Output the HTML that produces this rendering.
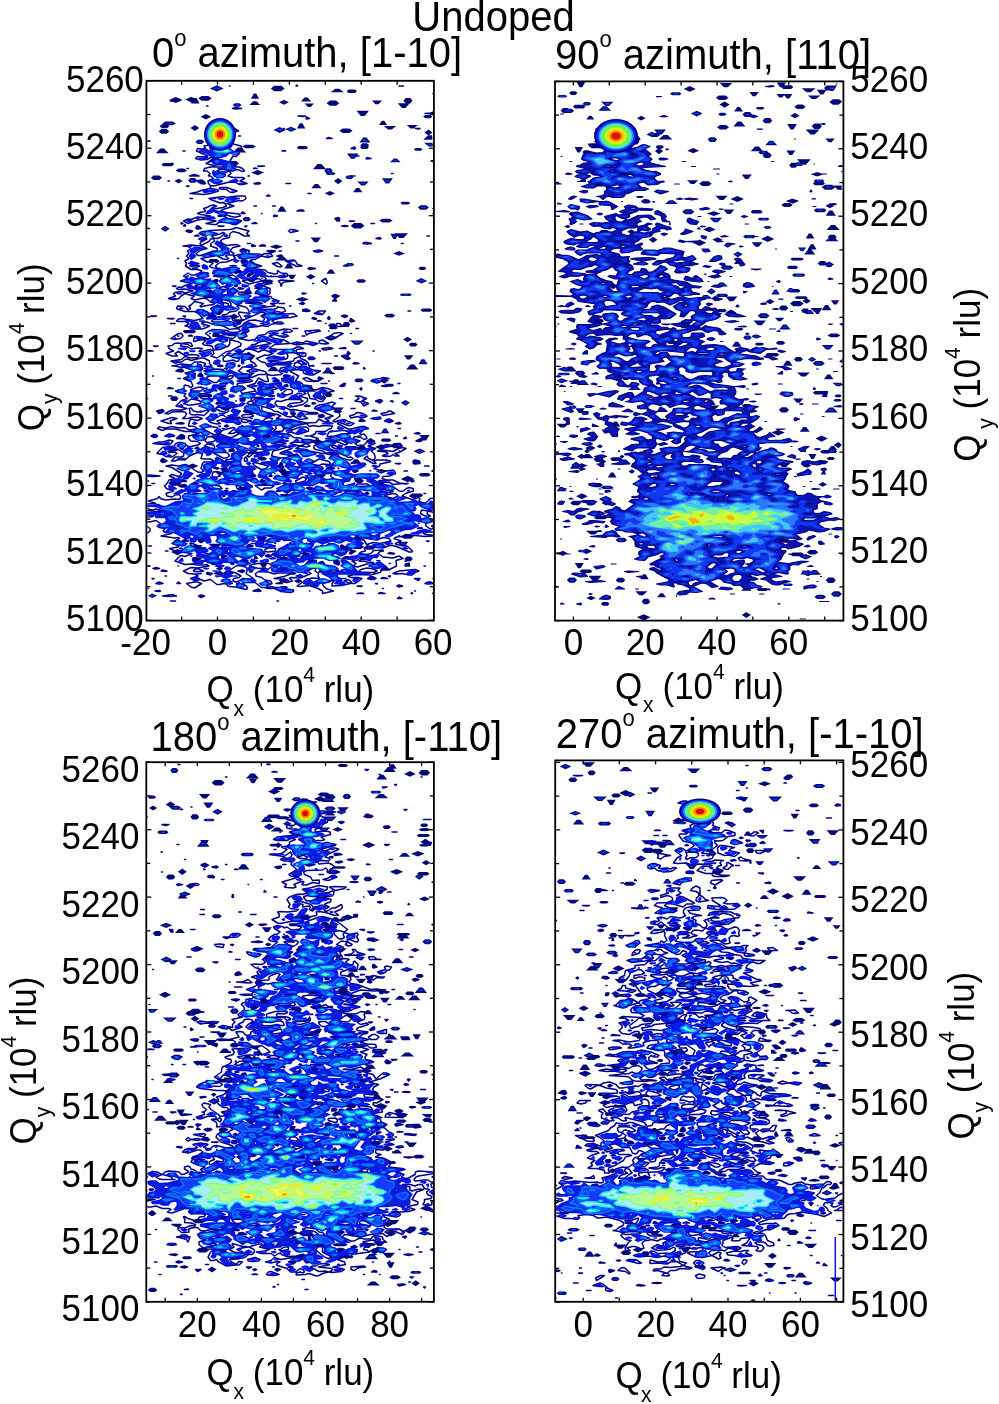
<!DOCTYPE html><html><head><meta charset="utf-8"><style>html,body{margin:0;padding:0;background:#fff;width:999px;height:1404px;overflow:hidden}svg{display:block}</style></head><body>
<svg width="999" height="1404" viewBox="0 0 999 1404" font-family="Liberation Sans, Arial, sans-serif">
<rect width="999" height="1404" fill="#fff"/>
<defs><clipPath id="c1"><rect x="147.3" y="81.7" width="285.7" height="538.0"/></clipPath><clipPath id="c2"><rect x="555.9" y="82.30000000000001" width="286.6" height="537.4"/></clipPath><clipPath id="c3"><rect x="147.20000000000002" y="763.1" width="285.8" height="537.8"/></clipPath><clipPath id="c4"><rect x="556.1" y="761.3" width="286.4" height="539.6"/></clipPath></defs>
<path fill="#00087a" d="M310.6 237.6H321.1L317.4 242.3H314.3ZM417.8 207.5L420.6 205.3H426.1L428.9 207.5L426.1 209.7H420.6ZM205.9 562.0L207.9 560.6H217.3L219.3 562.0L217.3 563.4H207.9ZM335.1 553.7L341.1 550.6L347.0 553.7L341.1 556.8ZM326.6 103.2L329.8 100.6H336.1L339.3 103.2L336.1 105.8H329.8ZM240.5 265.3L247.1 262.6L253.6 265.3L247.1 268.1ZM215.2 471.6H224.6L221.3 475.5H218.5ZM330.6 92.3L335.3 88.7H339.3L343.9 92.3ZM277.3 211.7L280.5 206.4H283.2L286.5 211.7ZM379.1 220.6L382.5 218.7H389.3L392.8 220.6L389.3 222.5H382.5ZM305.1 493.5H313.3L310.4 497.7H307.9ZM248.7 414.0L252.0 408.7H254.8L258.1 414.0ZM275.3 260.6L279.8 256.6H283.6L288.1 260.6ZM341.0 452.0L346.2 449.3L351.4 452.0L346.2 454.6ZM415.6 280.9L421.4 278.1L427.2 280.9L421.4 283.6ZM326.4 273.7L329.5 269.5H332.2L335.3 273.7ZM363.6 547.6L366.7 545.5H372.9L375.9 547.6L372.9 549.8H366.7ZM384.3 385.3L386.3 383.7H392.3L394.3 385.3L392.3 386.8H386.3ZM424.4 132.4L428.6 129.4L432.4 132.4L428.6 135.4ZM209.3 282.4L213.3 280.2L217.4 282.4L213.3 284.7ZM279.2 587.5L281.2 586.0H286.2L288.2 587.5L286.2 589.1H281.2ZM168.6 483.1L171.9 480.6H178.6L181.9 483.1L178.6 485.7H171.9ZM175.6 170.4L178.5 168.5H184.2L187.0 170.4L184.2 172.3H178.5ZM333.2 411.2L335.5 409.2H340.2L342.5 411.2L340.2 413.1H335.5ZM191.0 103.4L194.0 98.0H196.6L199.6 103.4ZM313.0 169.2L317.6 164.0H321.5L326.1 169.2ZM267.4 371.3L271.5 366.8H275.1L279.2 371.3ZM171.1 552.0L177.4 548.9L183.7 552.0L177.4 555.2ZM220.1 139.5L225.3 137.1L230.5 139.5L225.3 141.8ZM247.6 454.1L251.4 449.4H254.7L258.5 454.1ZM423.2 139.7L428.1 135.3H432.2L432.4 139.7ZM324.7 193.3L329.8 190.9L335.0 193.3L329.8 195.7ZM400.9 402.8L405.4 399.9L410.0 402.8L405.4 405.8ZM404.3 559.0L406.5 556.6H410.7L412.9 559.0L410.7 561.3H406.5ZM311.2 188.3L314.9 183.9H318.0L321.6 188.3ZM308.1 540.5L313.4 538.2L318.7 540.5L313.4 542.9ZM334.0 181.1L338.2 178.1L342.4 181.1L338.2 184.2ZM174.4 181.1L178.6 178.8L182.8 181.1L178.6 183.4ZM183.0 331.6L185.0 330.1H194.2L196.2 331.6L194.2 333.2H185.0ZM349.9 448.3L351.9 446.6H360.2L362.2 448.3L360.2 450.0H351.9ZM375.8 471.4L381.3 469.0L386.7 471.4L381.3 473.8ZM208.4 543.7H222.3L217.5 548.0H213.3ZM284.3 268.6L287.5 263.4H290.3L293.5 268.6ZM233.1 152.6L237.7 147.4H241.6L246.2 152.6ZM418.4 364.2L421.6 359.3H424.4L427.6 364.2ZM315.5 475.1L317.5 473.3H323.8L325.8 475.1L323.8 476.9H317.5ZM188.0 180.4L190.3 178.1H195.0L197.3 180.4L195.0 182.7H190.3ZM169.9 398.6L172.1 396.3H176.4L178.6 398.6L176.4 400.9H172.1ZM195.5 141.8L197.7 139.7H202.0L204.2 141.8L202.0 143.9H197.7ZM326.7 575.0L328.7 573.3H334.5L336.5 575.0L334.5 576.7H328.7ZM305.8 276.7L310.7 274.0L315.7 276.7L310.7 279.4ZM329.2 580.8L334.0 576.6H338.1L342.8 580.8ZM393.0 253.4L399.0 251.1L405.1 253.4L399.0 255.7ZM400.7 479.0L407.7 475.8L414.7 479.0L407.7 482.2ZM212.5 310.7L216.6 306.6H220.2L224.3 310.7ZM350.5 463.8L354.4 459.3H357.7L361.6 463.8ZM350.2 340.4H363.8L359.0 344.7H354.9ZM379.6 380.5L384.3 377.4L388.9 380.5L384.3 383.7ZM304.7 103.4H314.0L310.7 107.0H307.9ZM259.1 563.0H268.1L264.9 567.6H262.3ZM222.1 574.0L226.2 570.3H229.7L233.7 574.0ZM196.3 339.1L198.3 337.7H207.8L209.8 339.1L207.8 340.5H198.3ZM214.4 163.8L217.9 160.2H221.0L224.6 163.8ZM242.1 146.5L245.6 144.7H252.6L256.0 146.5L252.6 148.3H245.6ZM357.5 464.2L359.5 462.5H364.7L366.7 464.2L364.7 465.9H359.5ZM160.6 228.7L165.2 225.7L169.7 228.7L165.2 231.8ZM346.6 91.2L348.6 89.4H355.0L357.0 91.2L355.0 93.0H348.6ZM315.5 539.8L320.3 535.6H324.5L329.3 539.8ZM232.7 105.0L235.0 103.2H239.4L241.6 105.0L239.4 106.8H235.0ZM357.2 181.5H368.8L364.8 185.6H361.3ZM282.1 571.7L286.3 566.4H289.8L293.9 571.7ZM253.3 440.4L257.6 437.6L261.9 440.4L257.6 443.1ZM229.5 499.3L231.5 497.9H235.8L237.8 499.3L235.8 500.8H231.5ZM419.5 435.0H429.6L426.1 440.4H423.0ZM345.6 264.6L347.6 263.0H352.2L354.2 264.6L352.2 266.2H347.6ZM406.7 124.9H417.8L413.9 128.5H410.6ZM323.8 372.6L326.7 367.4H329.2L332.2 372.6ZM269.5 246.7L276.2 244.4L283.0 246.7L276.2 248.9ZM300.9 101.6L304.5 97.6H307.6L311.2 101.6ZM239.0 250.0L243.3 247.7L247.7 250.0L243.3 252.4ZM190.5 128.0L194.9 125.0L199.3 128.0L194.9 131.0ZM273.5 129.9L279.7 126.9L285.9 129.9L279.7 132.9ZM256.0 536.9H267.4L263.4 542.1H260.0ZM266.6 416.3L269.8 412.5H272.6L275.8 416.3ZM231.8 440.6L233.8 439.0H241.8L243.8 440.6L241.8 442.2H233.8ZM229.2 316.7L234.2 313.6L239.2 316.7L234.2 319.8ZM408.6 344.6L410.6 342.8H415.6L417.6 344.6L415.6 346.4H410.6ZM296.9 128.4L299.8 123.2H302.4L305.3 128.4ZM345.3 177.3L347.3 175.5H351.6L353.6 177.3L351.6 179.0H347.3ZM423.2 116.6L425.2 115.1H430.4L432.4 116.6L430.4 118.2H425.2ZM318.9 538.0L323.2 535.5L327.4 538.0L323.2 540.5ZM383.8 125.9H396.2L391.8 129.6H388.1ZM147.9 595.8L152.2 593.5L157.2 595.8L152.2 598.1ZM209.9 88.4L216.8 85.2L223.6 88.4L216.8 91.6ZM299.4 558.4L304.0 552.9H308.0L312.7 558.4ZM384.1 315.6L386.9 313.7H392.5L395.3 315.6L392.5 317.5H386.9ZM370.1 488.2L372.7 486.2H378.0L380.7 488.2L378.0 490.3H372.7ZM161.4 164.7L163.4 163.1H171.8L173.8 164.7L171.8 166.3H163.4ZM237.2 488.5L239.2 487.1H248.0L250.0 488.5L248.0 489.9H239.2ZM305.6 563.1L309.7 559.1H313.1L317.2 563.1ZM413.4 451.3L419.6 448.6L425.8 451.3L419.6 454.1ZM418.7 474.8L420.7 473.1H428.6L430.6 474.8L428.6 476.6H420.7ZM381.9 178.3H392.9L389.0 183.6H385.7ZM308.2 479.7L310.3 477.2H314.7L316.8 479.7L314.7 482.2H310.3ZM406.1 369.5L410.5 364.4H414.1L418.5 369.5ZM209.2 292.8L211.5 290.9H216.1L218.4 292.8L216.1 294.8H211.5ZM342.4 324.4L344.4 321.9H348.4L350.4 324.4L348.4 326.8H344.4ZM394.6 233.3H408.1L403.4 238.1H399.4ZM158.7 131.4L161.3 128.9H166.6L169.2 131.4L166.6 133.8H161.3ZM288.7 570.9L292.4 565.9H295.6L299.3 570.9ZM255.4 285.2H263.8L260.9 290.4H258.3ZM244.7 277.8H258.0L253.3 282.1H249.4ZM279.0 102.2L283.9 99.8L288.9 102.2L283.9 104.7ZM354.3 380.4L356.3 378.5H361.8L363.8 380.4L361.8 382.3H356.3ZM185.4 99.6L191.2 96.7L197.0 99.6L191.2 102.5ZM199.2 395.9L201.2 394.5H210.2L212.2 395.9L210.2 397.3H201.2ZM397.5 541.7H408.3L404.5 546.4H401.3ZM315.3 397.6L321.0 394.9L326.7 397.6L321.0 400.3ZM282.4 491.5L286.9 489.1L291.4 491.5L286.9 493.9ZM293.8 581.0L298.3 578.7L302.8 581.0L298.3 583.4ZM403.4 100.7L405.7 98.0H410.3L412.5 100.7L410.3 103.4H405.7ZM420.4 310.2L422.4 308.6H430.4L432.4 310.2L430.4 311.8H422.4ZM162.1 123.5L165.6 121.6H172.5L176.0 123.5L172.5 125.3H165.6ZM355.9 281.0L358.5 279.2H363.7L366.3 281.0L363.7 282.8H358.5ZM220.0 408.4L225.8 405.9L231.6 408.4L225.8 410.9ZM243.1 293.6L246.5 288.8H249.3L252.7 293.6ZM202.6 296.7L204.6 295.2H213.7L215.7 296.7L213.7 298.2H204.6ZM424.0 142.7H432.4L432.9 146.4H428.8ZM238.8 432.7H251.7L247.2 437.5H243.3ZM328.0 325.5L330.2 323.4H334.7L336.9 325.5L334.7 327.6H330.2ZM190.9 548.3L194.0 546.2H200.1L203.2 548.3L200.1 550.4H194.0ZM329.6 441.1L334.1 438.2L338.7 441.1L334.1 443.9ZM287.6 274.7H296.1L293.1 279.1H290.6ZM397.7 103.2H409.7L405.5 108.1H401.9ZM226.5 334.7L228.5 333.0H234.6L236.6 334.7L234.6 336.3H228.5ZM233.1 547.8L236.2 542.4H239.0L242.1 547.8ZM316.9 572.8L321.6 568.5H325.7L330.5 572.8ZM243.7 355.0L248.6 351.8L253.5 355.0L248.6 358.2ZM360.2 145.2L362.5 143.3H367.0L369.2 145.2L367.0 147.2H362.5ZM296.8 147.7L298.8 146.1H306.1L308.1 147.7L306.1 149.2H298.8ZM403.1 339.5L407.5 336.8L412.0 339.5L407.5 342.2ZM287.0 555.2L290.1 552.5H296.2L299.3 555.2L296.2 557.9H290.1ZM299.4 547.6L301.4 545.8H310.6L312.6 547.6L310.6 549.5H301.4ZM403.9 355.2H413.4L410.1 359.5H407.2ZM350.6 540.4L355.3 536.1H359.3L364.1 540.4ZM198.8 273.4L200.8 272.0H207.7L209.7 273.4L207.7 274.8H200.8ZM301.0 535.6L303.7 533.3H309.2L311.9 535.6L309.2 537.9H303.7ZM216.2 446.3L219.9 442.1H223.0L226.7 446.3ZM365.6 440.9L370.6 437.9L375.7 440.9L370.6 443.9ZM270.8 88.5L274.2 85.8H281.2L284.7 88.5L281.2 91.2H274.2ZM302.6 391.7L307.2 386.6H311.2L315.8 391.7ZM246.8 567.5H255.1L252.2 572.7H249.7ZM150.8 177.7L153.6 175.4H159.3L162.1 177.7L159.3 180.1H153.6ZM399.6 294.8L401.6 293.4H409.9L411.9 294.8L409.9 296.1H401.6ZM276.4 570.7L280.9 566.1H284.8L289.3 570.7ZM321.8 373.4L326.0 369.5H329.7L334.0 373.4ZM380.6 440.2L382.6 438.6H389.4L391.4 440.2L389.4 441.8H382.6ZM260.5 281.3L263.9 279.4H270.5L273.8 281.3L270.5 283.2H263.9ZM242.5 357.5L245.4 355.0H251.4L254.3 357.5L251.4 360.0H245.4ZM344.1 447.5L346.1 446.0H355.7L357.7 447.5L355.7 449.0H346.1ZM198.3 98.3L201.7 95.9H208.4L211.7 98.3L208.4 100.8H201.7ZM217.4 252.0L223.3 248.8L229.2 252.0L223.3 255.2ZM231.3 271.7L234.2 269.8H239.9L242.7 271.7L239.9 273.5H234.2ZM270.4 554.7L276.2 552.1L282.0 554.7L276.2 557.3ZM338.8 539.2L341.9 535.3H344.6L347.7 539.2ZM375.6 485.1L378.7 479.8H381.3L384.4 485.1ZM371.9 100.6H382.1L378.5 104.2H375.5ZM273.7 553.7H282.8L279.7 558.2H276.9ZM173.2 541.1L177.2 538.7L181.2 541.1L177.2 543.5ZM227.7 163.4L230.5 160.9H236.1L238.9 163.4L236.1 165.9H230.5ZM351.5 546.7L354.7 544.5H361.0L364.2 546.7L361.0 548.9H354.7ZM390.4 233.8H398.6L395.7 239.1H393.3ZM229.8 498.7L236.3 495.9L242.8 498.7L236.3 501.5ZM290.2 474.7L295.0 471.1H299.1L303.8 474.7ZM249.4 104.9L253.2 101.2H256.4L260.2 104.9ZM234.1 319.2H244.3L240.7 323.6H237.7ZM169.0 100.1L175.8 97.1L182.7 100.1L175.8 103.1ZM279.4 493.9H289.6L286.0 498.0H283.0ZM344.4 565.4L349.5 562.9L354.7 565.4L349.5 567.9ZM159.5 126.3L162.0 124.2H166.9L169.4 126.3L166.9 128.3H162.0ZM295.5 299.3L302.2 296.9L309.0 299.3L302.2 301.8ZM346.9 153.6H358.6L354.5 158.8H351.0ZM375.0 447.1L381.5 444.2L388.0 447.1L381.5 450.0ZM356.5 110.7H369.0L364.6 115.9H360.8ZM316.1 547.8H329.2L324.6 552.5H320.7ZM251.1 172.6L257.6 170.1L264.2 172.6L257.6 175.2ZM186.9 466.1L192.7 463.6L198.6 466.1L192.7 468.6ZM379.5 570.8L383.2 565.8H386.4L390.1 570.8ZM155.9 153.3L160.3 148.6H164.1L168.6 153.3ZM200.5 116.7L205.9 114.0L211.2 116.7L205.9 119.4ZM240.2 560.2L244.3 557.0L248.4 560.2L244.3 563.5ZM324.1 337.7L331.0 334.8L338.0 337.7L331.0 340.6ZM341.7 550.7L345.8 545.4H349.3L353.4 550.7ZM400.2 203.0L402.2 201.7H408.3L410.3 203.0L408.3 204.4H402.2ZM208.4 260.7L210.4 259.1H216.6L218.6 260.7L216.6 262.2H210.4ZM324.2 170.7L326.3 168.3H330.6L332.7 170.7L330.6 173.2H326.3ZM379.1 125.1L381.9 120.7H384.3L387.1 125.1ZM285.1 129.2L290.9 126.7L296.8 129.2L290.9 131.7ZM353.0 192.3L356.3 187.9H359.2L362.6 192.3ZM324.2 394.8L326.3 392.4H330.4L332.5 394.8L330.4 397.1H326.3ZM242.3 219.2L244.5 217.0H248.8L250.9 219.2L248.8 221.3H244.5ZM197.4 239.1L202.6 236.3L207.9 239.1L202.6 242.0ZM332.4 368.1L334.4 366.3H342.8L344.8 368.1L342.8 369.9H334.4ZM390.6 445.7L393.8 443.1H400.1L403.2 445.7L400.1 448.3H393.8ZM233.7 430.3L239.6 427.4L245.5 430.3L239.6 433.1ZM197.6 550.0L200.3 547.3H205.7L208.4 550.0L205.7 552.7H200.3ZM290.6 490.0L295.1 485.5H298.9L303.5 490.0ZM413.8 149.4L415.8 148.0H420.7L422.7 149.4L420.7 150.8H415.8ZM256.9 484.1L258.9 482.2H266.5L268.5 484.1L266.5 486.0H258.9ZM410.1 495.2L412.1 493.4H421.2L423.2 495.2L421.2 497.0H412.1ZM339.9 559.6L344.8 555.9H348.9L353.8 559.6ZM359.3 142.6L363.2 137.5H366.6L370.5 142.6ZM274.6 467.1L277.1 464.9H282.2L284.8 467.1L282.2 469.4H277.1ZM390.1 162.3L393.7 158.6H396.9L400.6 162.3ZM207.4 162.2L212.1 158.1H216.2L220.9 162.2ZM208.1 146.0L211.5 141.8H214.5L217.9 146.0ZM331.5 407.5H343.9L339.5 412.0H335.8ZM325.7 173.6L327.7 172.2H333.6L335.6 173.6L333.6 175.0H327.7ZM400.8 536.6L404.1 534.4H410.7L414.0 536.6L410.7 538.8H404.1ZM358.7 558.5L360.7 557.2H367.4L369.4 558.5L367.4 559.9H360.7ZM328.6 328.1L330.6 326.8H335.9L337.9 328.1L335.9 329.3H330.6ZM350.7 225.8L354.1 223.0H361.1L364.5 225.8L361.1 228.5H354.1ZM250.9 98.7L253.8 93.6H256.2L259.1 98.7ZM213.0 311.1H223.9L220.1 315.0H216.8ZM218.5 376.9L223.9 374.2L229.2 376.9L223.9 379.7ZM280.5 473.8L283.5 471.1H289.3L292.2 473.8L289.3 476.5H283.5ZM418.3 268.3L420.3 266.7H424.5L426.5 268.3L424.5 269.9H420.3ZM210.5 435.8H221.8L217.8 439.7H214.4ZM311.2 441.8L317.1 438.6L323.0 441.8L317.1 445.0ZM380.8 433.2L383.8 428.6H386.3L389.3 433.2ZM359.9 147.2L361.9 145.3H366.9L368.9 147.2L366.9 149.1H361.9ZM315.8 533.5L317.8 532.0H327.6L329.6 533.5L327.6 534.9H317.8ZM196.3 538.8L199.5 536.9H205.8L208.9 538.8L205.8 540.6H199.5ZM278.8 580.5L281.1 578.6H285.7L288.0 580.5L285.7 582.4H281.1ZM339.3 130.8L342.6 128.6H349.3L352.6 130.8L349.3 133.0H342.6Z"/>
<path fill="#0a30e8" d="M421.1 206.7h4.5v1.6h-4.5ZM218.0 472.8h3.8v1.6h-3.8ZM307.5 494.8h3.3v1.6h-3.3ZM344.1 451.2h4.1v1.6h-4.1ZM419.1 280.1h4.6v1.6h-4.6ZM367.3 546.8h4.9v1.6h-4.9ZM211.7 281.6h3.2v1.6h-3.2ZM172.6 482.3h5.3v1.6h-5.3ZM250.9 451.0h4.4v1.6h-4.4ZM403.6 402.0h3.6v1.6h-3.6ZM353.6 447.5h4.9v1.6h-4.9ZM379.1 470.6h4.4v1.6h-4.4ZM421.2 360.9h3.7v1.6h-3.7ZM190.8 179.6h3.7v1.6h-3.7ZM198.1 141.0h3.5v1.6h-3.5ZM354.2 341.7h5.4v1.6h-5.4ZM225.6 571.4h4.7v1.6h-4.7ZM360.3 463.4h3.7v1.6h-3.7ZM163.4 227.9h3.6v1.6h-3.6ZM319.6 536.9h5.5v1.6h-5.5ZM235.4 104.2h3.5v1.6h-3.5ZM360.7 182.7h4.6v1.6h-4.6ZM285.7 568.3h4.7v1.6h-4.7ZM348.2 263.8h3.5v1.6h-3.5ZM326.3 369.2h3.4v1.6h-3.4ZM241.6 249.2h3.5v1.6h-3.5ZM277.2 129.1h5.0v1.6h-5.0ZM269.4 413.6h3.7v1.6h-3.7ZM235.4 439.8h4.8v1.6h-4.8ZM347.8 176.5h3.3v1.6h-3.3ZM321.5 537.2h3.4v1.6h-3.4ZM150.1 595.0h4.1v1.6h-4.1ZM214.0 87.6h5.5v1.6h-5.5ZM417.1 450.5h5.0v1.6h-5.0ZM385.2 180.2h4.4v1.6h-4.4ZM257.9 287.0h3.4v1.6h-3.4ZM400.7 543.2h4.4v1.6h-4.4ZM318.7 396.8h4.6v1.6h-4.6ZM166.3 122.7h5.6v1.6h-5.6ZM428.1 143.7h5.5v1.6h-5.5ZM332.3 440.3h3.6v1.6h-3.6ZM290.7 554.4h4.9v1.6h-4.9ZM303.3 546.8h5.3v1.6h-5.3ZM368.6 440.1h4.0v1.6h-4.0ZM306.5 388.3h5.3v1.6h-5.3ZM249.3 569.3h3.3v1.6h-3.3ZM403.3 294.0h4.9v1.6h-4.9ZM246.0 356.7h4.7v1.6h-4.7ZM221.0 251.2h4.7v1.6h-4.7ZM341.5 536.5h3.6v1.6h-3.6ZM276.5 555.2h3.6v1.6h-3.6ZM175.6 540.3h3.2v1.6h-3.2ZM355.3 545.9h5.0v1.6h-5.0ZM392.8 235.7h3.3v1.6h-3.3ZM294.3 472.1h5.5v1.6h-5.5ZM347.5 564.6h4.1v1.6h-4.1ZM350.4 155.4h4.7v1.6h-4.7ZM242.6 559.4h3.3v1.6h-3.3ZM328.2 336.9h5.6v1.6h-5.6ZM345.2 547.3h4.7v1.6h-4.7ZM326.7 169.9h3.4v1.6h-3.4ZM288.6 128.4h4.7v1.6h-4.7ZM244.9 218.4h3.5v1.6h-3.5ZM200.5 238.3h4.2v1.6h-4.2ZM394.4 444.9h5.0v1.6h-5.0ZM362.7 139.3h4.5v1.6h-4.5ZM277.6 466.3h4.1v1.6h-4.1ZM393.2 159.6h4.2v1.6h-4.2ZM335.2 408.9h5.0v1.6h-5.0ZM328.7 172.8h3.9v1.6h-3.9ZM221.7 376.1h4.3v1.6h-4.3ZM383.3 430.1h3.4v1.6h-3.4ZM320.0 532.7h5.5v1.6h-5.5ZM200.1 538.0h5.0v1.6h-5.0Z"/>
<g clip-path="url(#c1)"><g transform="scale(0.5)" stroke-linejoin="round">
<path fill="#000088" stroke="#000088" stroke-width="3.00" d="M700 162l3 0-3 0zM459 172l1 0-1 0zM592 172l2-2 1 2-3 0zM798 172l9 0-9 0zM341 202l6 0-6 0zM413 212l3 0-3 0zM596 232l15 0-5 1-10-1zM612 237l1-3 6 3-6 1-1-1zM567 257l2 0-2 0zM831 257l9 0-3 1-6-1zM453 260l-6 2 6 3 2-3-2-2zM477 272l4 0-4 0zM653 277l5-2 6 2-11 0zM292 282l8 0-7 1-1-1zM702 297l7-3 2 3-2 1-7-1zM366 302l4 0-4 0zM564 302l4-1 3 1-7 0zM713 312l5 0-5 0zM732 317l2-2 8 2-8 1-2-1zM342 327l4 0-4 0zM516 332l13 0-12 1-1-1zM374 337l3 0-3 0zM507 337l3-1 4 1-7 0zM783 347l3 0-3 0zM496 352l3 0-3 0zM700 352l10 0-10 0zM336 362l3 0-3 0zM394 362l8-2 5 2 4 5-3 1-6-1-8-5zM508 367l9-2 4 2-4 1-7 0-2-1zM572 367l9 0-9 0zM373 372l5 0-2 1-3-1zM616 387l6 0-6 0zM533 392l3-2 4 2-7 0zM380 397l5 0-5 0zM508 412l5 0-5 0zM545 412l6 0-6 0zM594 422l6-2 6 0 2 2-14 0zM482 427l3-3 5 3-8 0zM523 427l1 0-1 0zM440 431l-4 1 4 1 5-1-5-1zM547 432l2-2 6 2-6 1-2-1zM670 437l7-2 2 2 0 5-5 0-4-5zM699 442l10 0-7 1-3-1zM362 447l1-2 3 2-3 1-1-1zM504 447l6-2 4 2-10 0zM631 447l2 0-2 0zM742 447l7 0-7 0zM367 452l3-3 1 3-4 0zM393 452l4 0 6 5-8 1-3-1 1-5zM436 452l12 0-8 1-4-1zM490 452l4 0-3 2-1-2zM683 452l7-1 6 1-6 1-7-1zM372 462l4-2 9 2-3 3-6-1-4-2zM389 472l6-2 3 2-9 0zM854 472l5 0-5 0zM752 477l8-2 2 2-2 1-8-1zM592 482l6 0-6 0zM495 487l6 0-6 0zM726 487l2-2 6 0 9 2-9 1-8-1zM803 487l3 0-3 0zM503 492l1-3 7 3-7 1-1-1zM519 492l4-2 7 0 1 2-12 0zM534 502l8-1 9 1-9 4-8-4zM558 502l5 0-5 0zM627 502l11-2 7 2-7 2-6 0-5-2zM554 512l8-2 3 2-3 2-8-2zM669 512l8 0-8 0zM355 517l2 0-2 0zM428 522l6-2 3 2-3 3-6-3zM485 520l-3 2 3 5 10-5-10-2zM466 531l-6 1 13 0-7-1zM687 532l3-2 6 2-9 0zM616 537l3-2 12 2-12 2-3-2zM478 540l-2 2 2 2 3-2-3-2zM472 546l-1 1 1 0 0-1zM504 545l-6 2-4 5 4 1 6-4 3-2-3-2zM395 556l-1 1 1 0 11 0-11-1zM427 561l0 1 7 2 2-2-2-3-7 2zM446 566l-3 1 3 1 2-1-2-1zM625 567l2 0-2 0zM345 572l7 0-2 1-5-1zM472 571l-3 1 3 1 3-1-3-1zM478 575l-2 2 2 1 7 0 2-1-9-2zM510 576l7 2 3-1-3-2-7 1zM414 581l0 1 7 1 2-1-2-2-7 1zM604 587l2-1 6 1-6 1-2-1zM664 592l6-3 8 3-8 5-6-5zM665 602l5-5 3 5-8 0zM558 607l11 0-11 0zM599 607l7-2 3 2-3 2-7-2zM434 610l-3 2 3 0 7 0-7-2zM579 612l3 0-3 0zM605 622l1-3 7-1 7 4-7 1-8-1zM816 622l5 0-5 0zM301 632l12 0-7 1-5-1zM366 632l5 0-1 2-4-2zM421 629l-5 3 5 3 6-1 5-2-5-3-6 0zM683 632l7-2 5 2-5 3-7-3zM335 637l13 0-4 1-9-1zM624 637l2-2 7 2-1 2-8-2zM655 637l3-4 2 4-2 2-3-2zM635 642l3-1 4 1-7 0zM699 642l3-5 7 5-7 2-3-2zM341 647l9 0-9 0zM651 647l1 0-1 0zM586 657l9 0-9 0zM712 657l5 0-5 0zM368 662l3 0-1 1-2-1zM657 662l1 0-1 0zM434 666l-7 1-1 5 8 1 6-1-4-5-2-1zM701 667l2 0-2 0zM377 672l5-2 3 2-8 0zM604 672l6 0-6 0zM307 692l9 0-4 1-5-1zM679 697l11-2 2 2-13 0zM298 702l8 0-8 0zM638 702l3 0-3 0zM746 702l2 0-2 0zM694 707l2-4 4 4-4 4-2-4zM669 712l6 0-6 0zM683 712l7-2 5 2 5 5-4 2-6-2-7-5zM616 717l3-3 7 0 4 3-4 2-7 0-3-2zM644 727l18 0-18 0zM706 727l3-2 9 2-9 1-3-1zM440 730l-5 2 5 1 6-1-6-2zM478 730l-2 2 2 1 2-1-2-2zM619 732l7-1 2 1-9 0zM453 736l-4 1 4 1 2-1-2-1zM682 737l4 0-3 1-1-1zM727 737l1-2 2 2-2 1-1-1zM352 742l5-3 6-1 4 4-4 2-11-2zM402 746l-3 1-3 5 6 1 4-1-4-6zM661 747l7 0-7 0zM305 752l2 0-2 0zM568 750l-1 2 7 1 7-1-7-2-6 0zM356 757l5 0-5 0zM636 757l2-3 8 3-8 4-2-4zM549 760l-3 2 3 1 10-1-4-3-6 1zM657 762l2 0-2 0zM440 767l13 1 2-1-15 0zM642 767l12 0-12 0zM688 767l3 0-2 5-6 1-3-1 8-5zM796 767l4 0-4 0zM568 771l0 1 6 1 2-1-2-3-6 2zM763 772l10-2 3 2-3 1-10-1zM335 777l3-2 8 2-11 0zM414 776l-5 1 5-1zM440 774l-4 3 4 3 11-3-11-3zM720 777l2-1 2 1-2 3-2-3zM786 787l6-2 6 2-12 0zM337 792l7 0-7 0zM542 790l-5 2 5 1 7-1-7-2zM485 796l-5 1 1 5 8 0 1-5-5-1zM679 797l6 0-6 0zM751 802l9-3 5 3-5 4-9-4zM781 802l5 0 0 2-5-2zM434 805l-2 2 2 1 14-1-8-2-6 0zM624 807l2-2 5 2-5 1-2-1zM609 812l4-2 7 2-7 1-4-1zM702 817l8 0-8 0zM313 822l12-3 3 3-3 3-7 2-5-5zM491 819l-4 3 4 3 7 0 3-3-10-3zM744 822l3-2 7 2-10 0zM581 826l6 6 4-5-4-2-6 1zM637 832l1-2 7-1 4 3-4 3-7-1-1-2zM718 842l4-4 8 4-8 1-4-1zM769 842l4-3 6-1 7 4-7 3-10-3zM352 847l11-2 5 2-5 1-11-1zM791 847l7-2 4 2-4 1-7-1zM453 850l-4 2 4 2 4-2-4-2zM485 851l-2 1 2-1zM796 857l5 0-5 0zM517 861l-6 1 6-1zM752 867l8 0-8 0zM829 867l8-2 3 2-3 1-8-1zM302 872l4-3 6 0 3 3-3 3-6-1-4-2zM358 872l5-3 6 3 0 5-6 1-10-1 5-5zM491 870l-4 2 4 1 7 0 2-1-9-2zM530 871l-5 1 11 3 6-3-6-3-6 2zM610 872l8 0-8 0zM791 872l4 0-4 0zM574 876l-2 1 2 0 3 0-3-1zM807 877l4-3 2 3-6 0zM842 877l4 0-3 5-6 1-5-1 10-5zM446 885l-3 2 3 0 7 1 4-1-4-2-7 0zM472 886l5 1-5-1zM794 887l7 0-3 1-4-1zM517 891l-3 1 3 1 0-2zM363 896l-3 1 3 2 4-2-4-1zM395 894l-5 3 5 1 3-1-3-3zM722 892l-5 5 5 2 6 0 3-2-3-4-6-1zM382 901l-2 1 2 0 4 0-4-1zM459 899l-1 3 1 1 10-1-3-5-7 2zM325 917l9 5-3 2-6 1-4-3 4-5zM517 916l-1 1 7 3 7-1 2-2-9-3-6 2zM826 922l4-2 9 2 1 5-10 1-3-1-1-5zM562 925l-5 7 5 1 3-1 0-5-3-2zM702 926l8 1-8-1zM791 927l10 0-3 1-7-1zM466 930l-4 2 4 1 5-1-5-2zM849 932l9 0-9 0zM427 936l7 2 4-1-4-2-7 1zM446 936l-4 1 4 5 7 1 5-1-5-6-7 0zM658 934l-5 3 5 1 6 0 5-1-5-3-6 0zM319 942l7 0-1 1-6-1zM562 940l-4 2 4 3 6 1 4-4-4-4-6 2zM709 940l-4 2 4 3 7-3-7-2zM741 941l-1 1 1-1zM808 942l7 0-7 0zM549 947l1 0-1 0zM619 946l-3 1 3 0 5 0-5-1zM498 951l-2 1 8 2 7-2-1-2-6-1-6 2zM542 947l-4 5 4 1 2-1-2-5zM709 956l2 6 4 3 7 0 4-3-4-4-13-2zM291 962l6 0-6 0zM363 961l-2 1 2 1 7 0 3-1-10-1zM459 961l0 1 7 0-7-1zM523 959l-2 3 2 1 8-1-8-3zM822 962l2-1 4 1-4 2-2-2zM304 967l5 0-5 0zM344 964l-5 3 5 3 6-1 4-2-10-3zM389 964l-4 3 12 0-8-3zM568 965l-2 2 2 1 6-1-6-2zM805 967l11 0-5 1-6-1zM363 970l-5 2 5 2 7 0 4-2-4-3-7 1zM613 976l6 4 8-3-8-3-6 2zM658 976l12 1-12-1zM408 981l6 2 3-1-9-1zM453 980l-4 2 4 1 3-1-3-2zM555 981l-2 1 2 1 7-1-7-1zM389 986l-3 1 3 0 8 0-8-1zM734 984l-4 3 4 2 4-2-4-3zM848 987l3 0-3 0zM446 991l-1 1 1 1 4-1-4-1zM820 992l4-3 8 3-2 3-6-1-4-2zM837 1046l0 1 1 0-1-1zM837 1056l-2 1 2 0 8 0-2-2-6 1zM542 1070l-6 2 6 1 5-1-5-2zM517 1076l-1 1 1 0 4 0-4-1zM651 1076l-4 1 4 1 3-1-3-1zM370 1079l-6 3 6 1 7-1-7-3zM402 1080l-5 2 5 3 6-3-6-2zM504 1082l7 0-7 0zM853 1082l5 0-2 1-3-1zM536 1086l-4 1 4-1zM549 1086l2 1-2-1zM581 1085l-2 2 4 0-2-2zM613 1086l-1 1 2 0-1-1zM296 1092l7 0-7 0zM427 1090l-1 2 1 0 8 0-8-2zM446 1091l-3 1 3 0 8 0-8-1zM498 1089l-5 3 5 1 6 0 2-1-8-3zM645 1090l-4 2 7 0-3-2zM683 1090l-2 2 1 5 8 1 5-1-12-7zM363 1096l-4 1 4 0 1 0-1-1zM331 1102l5 0-5 0zM453 1101l-2 1 2 1 2-1-2-1zM485 1101l-2 1 2 0 4 0-4-1zM702 1101l-3 6 3 1 9-6-9-1zM408 1106l8 1-8-1zM606 1105l-1 2 1 1 13-1-13-2zM776 1107l3-2 10 2-3 1-10-1zM446 1111l-3 1 1 5 2 1 8-6-8-1zM510 1111l-1 6 6 0-5-6zM536 1109l-5 3 5 2 7-2-7-3zM594 1111l-3 1 3 1 6-1-6-1zM389 1115l-4 2 1 5 3 1 5-1 8-5-13-2zM562 1115l-2 2 8 1 8-1-8-3-6 1zM485 1120l-4 2 4 0 11 0-11-2zM619 1121l-1 1 1 1 2-1-2-1zM670 1121l-3 1 2 5 8 3 2-3-1-5-8-1zM754 1121l6 1-6-1zM810 1122l3 0-2 1-1-1zM466 1125l-5 2 5 2 2-2-2-2zM638 1125l-1 2 1 0 11 0-4-4-7 2zM816 1127l2-1 1 6-9 0 1-4 5-1zM356 1132l1 0-1 0zM848 1132l3 0-3 0zM306 1137l6-2 7 2-7 1-6-1zM434 1137l6 3 4-3-4-2-6 2zM568 1136l-1 1 1-1zM322 1142l3-2 9 2-3 1-9-1zM476 1142l9-2 4 2-4 3-9-3zM414 1145l-1 2 1 1 7 2 4-3-11-2zM434 1145l-5 2 11 2 6-2-6-4-6 2zM330 1152l3 0-3 0zM777 1152l4 0-2 2-2-2zM304 1157l4 0-2 1-2-1zM735 1157l6-4 6 1 5 3-5 2-6 0-6-2zM762 1157l4-2 9 2-13 0zM829 1157l11 0-3 4-8-4zM312 1167l6-3 8 3-8 1-6-1zM354 1167l3-3 4 3-7 0zM552 1167l10-2 3 2-13 0zM751 1167l4 0-1 1-3-1zM850 1167l6-3 6 0 4 3-10 1-6-1zM714 1172l10 0-2 1-8-1zM794 1172l4-2 7 2-7 2-4-2zM291 1177l6 0-6 0zM765 1177l2 0-2 0zM310 1182l8-1 3 1-3 1-8-1zM506 1182l11-4 5 4-5 1-11-1zM619 1182l1 0-1 0zM829 1182l2 0-2 0zM714 1187l8-1 5 1-13 0zM757 1187l3-2 10 2-13 0zM822 1187l2-2 1 2-3 0zM397 1192l5-2 7 2-7 3-5-3zM795 1197l3-3 6 3-9 0zM341 1202l10 0-10 0zM554 1202l3 0-3 0z"/>
<path fill="none" stroke="#000088" stroke-width="3.00" d="M869 187l-3 0 3-2M465 217l7-2 11 2-11 1-7-1zM869 227l-19 0 12-1 7-3M416 252l5-2 13 7 1 0 0-5 5-2 6 0 7 5 13 0 11 7-18 5 3 10 4 5 0 6 16 4 3 10-13-2-1 2 7 1 1 4-7 6-6-1-6 10 9 5-1 5 4 2 6 0 7 3 4 5-4 1-7-3-6-1-6 3-20-3-6 0-6 3 6 2 13 0 6-2 3 5-6 5 10 3 19 0 4 2-9 5 14 5-9 2-7 0-6-4-13-1-32 8-6-1-4-4-1-5 11-5-6-5-4 0 3-5-6-5-7 0 2-5 12-3 19 0 6 0 2-2-2-2-6-1-13 2-15-4 15-8 10-2-3-2-13 0-7 4-12 1-11-3 4-4 13 1 8-2-23-10 2-5 7 1 9-1-3-5 6-1 7-4-9-5 9-10 19 1 7-1-7-4-19-3-9-3 6-5-2-5zM286 285l5 2-5 2M869 324l-7-2 7-1M379 352l10-3 9 3-19 0zM420 377l1-4 0 4 13 2 3 3-16 5-13 2-28-2 15-3 7-3 18-4zM438 377l2-2 13 0 21 7-8 3-7-1-6-5-13-1-2-1zM475 392l15 0 2 5-1 1-6 4-7-1-24 6 14 5-22 7-5 3 12 3 25 3 3 4-9 2-6 0-13-4-6 2 9 5 22 3 5 2-11 7-6 0-7-3-19-2-6 3 0 2-7 0-15-2 20-5-24-4-13 2-19 7-9-5 9-4 6 1 13-5 13 1 13-3-19-3-7-2 7-3 6 0 3-2-4-5 7-2 7-4 6-1 6 2-11 5 5 1 19-3 7-3-3-5-4-2-6 1-19-7-3-2 28-4 7 2 22-3zM869 418l-3-1 3-1M869 427l-3 0 3-1M286 456l13 1-13 0M577 462l4-3 6 0 9 3-15 3-4-3zM869 457l0-1M446 465l-6 3-17 4 4 4 7 1 6-2 10-8-4-2zM571 522l16-2 4 2 3 6 10 4-10 1-23-11zM545 527l10-2 9 7-2 2-7-1-10-6zM382 531l-2 1 2 1 7 1 6 0 4-2-4-2-13 1zM434 550l-7 2 13 2 11-2-17-2zM459 551l-4 1 4 1 7 5 10-1-10-7-7 1zM557 562l5-2 26 2-20 2-4 3-1 5-1 0-1-5-4-5zM643 562l8-5 3 5 0 5-3 1-8-6zM395 570l-5 2 5 2 7 0 6-2-6-3-7 1zM440 575l-3 2 9 2 7 0 5-2-12-4-6 2zM478 585l-1 2 1 2 23-2-16-3-7 1zM446 599l-5 3 5 3 10 2 1 5 5 0 0-5-4-5-12-3zM491 606l26 2 8-1-8-3-7 1-19 1zM478 611l-4 1 4 5-6 5-13 2-6 5-7 0-2 3 9 1 14-1-3 5 2 4 12 3 3 3-14 5 5 2 6 1 7-4 3-4 10-6 12-1 13 3 4-1 2-5-7-5 11-5-10-3-38 17-8-14 1-3 22 3-5-10-4-3-13-3zM643 622l8 0-6 7-7 0-9-2 9-5 5 0zM427 639l-4 3 4 2 19 0 11-2-11-3-19 0zM674 647l6 0 3 4 14 1-20 1-6-1 3-5zM610 662l28-2 3 2-23 5-5 3-3-8zM667 667l10-2 9 2-22 12-6 0-3-2 12-10zM349 672l8-5 6 0 3 5-5 5-11 2-8-2 7-5zM446 670l-6 2 19 4 7 1 6-5-6-4-20 2zM612 682l24 5-10 4-13-4-19 3-11-3 11-3 12 2 6-4zM638 682l7-2 12 7-6 1-11-1-2-5zM364 687l12-2 6 1 3 6-3 1-6-4-12-2zM517 685l-7 4-6 0-2 3 8 1 32-6-12-5-7 1-6 2zM644 697l14-2 8 2-15 3-6-1-1-2zM491 698l-6 6-16 3 22 1 18 4-7 5-1 5 8 5 4 5-9 3-13-1-6 0-8 8 8 5 19 2 3-2-13-5 10-4 6 0 20 5 4 4-4 2-13 0-13 6-26 0-3 2 3 1 20 0 7 4-7 2-23 3-1 5 11 0 6 5-10 5 3 5 28-5-4-5-13-5 15-5 7-11 13 7 6 0 1-1-3-10 2-3 6 2 20-2 3-2-3-1-4-4 4-6 19-4-7-2-25-1-7 4-6 0-6-8-7-1-10-7 17-7 6 1 10-4-16-7-7 1-6 3-13-5-13-1zM453 710l-7 7 1 5 6 1 13-3 6 3 5-1 2-5-13-2-7-4-6-1zM594 724l-5 3-1 5 6 3 11-3-5-5-6-3zM286 731l2 1-2 0M414 740l-6 2 6 1 20 0 14-1-2-3-12-1-13 2-7 0zM421 752l-7 2-1 3 14 8 7 0 6-7 19 0 4-1 4-5-1-1-7 1-6 3-7 0-8-3-17 0zM606 757l7-2 13 6 11 1-5 1-19-1-7-5zM761 757l5-2 12 2-12 2-6 5-6 2-12-4 5-3 14-2zM395 775l-13 4-1 3 21 0 6-5-6-3-7 1zM530 776l19 3 6-2-6-3-19 2zM574 779l-11 8 11 3 10-3 1-5-4-3-7 0zM402 788l-5 4 5 4 6 2 8-1 7-5-2-3-13-2-6 1zM711 792l8 0 14 5-9 5 13 5-9 5-6-8-12-2 8-5-3-4-4-1zM286 794l9 3-2 2-7 1M504 796l-2 1 1 5-5 1-4 4 4 2 6 0 4-2-4-5 6-4 18-1-5-3-19 2zM869 792l-1 0 1-1M382 798l-6 5-9 4 3 1 6 2 6 0 20-3-2-5-5-2-13-2zM382 816l-4 1 2 5-1 5 3 2 7 1 6-1 13 2 10-9-4-2-12 4-7 0-8-2-5-6zM434 814l-3 3 9 5 13 3 4-3-1-5-3-2-19-1zM778 822l3 0 8 5-23 4-4-4 11-2 5-3zM711 827l4-2 7 1 6 2 6 4-6 3-6 1-7-3-13 3-3-4 10-3 2-2zM440 831l-13 9-10 2 4 3 13 3 7-1-7-5 12-4 32 0 4-1-4-3-6 2-19-1-7-5-6 1zM485 830l-2 2 2 2 6 1 7 0 9-3-3-3-13 0-6 1zM338 837l6-2 10 2-14 5 3 5-5 0-16-5 16-5zM536 835l-6 3-4 4 4 2 13-2 2-5-9-2zM742 837l18-3 2 3-8 2-12-2zM485 838l-3 4 3 2 6 1 12-3-18-4zM555 850l-3 2 0 5-5 5 8 1 10-1 3-5-4-5-2-2-7 0zM594 851l-13 5-13 1 19 2 13-5 13 0 4 3 0 5-17 6-6 0-13-4-8 3 8 3 6 5 13 1 6 3 13 0 12 3-12 4-32-2-7 3 20 5-8 5 21 2 6 3 26 5 6 0 7 2 12-1 7 2 0 2 6 4 13 4 6 0 4-3-4-3-6 1-4-3-15-6-13-1-13 1-5-4-14-3-4-2 0-5 8-5-3-5 3-5-16-5 6-2 5-3 1-4 19 0 7-5 4-1 3-5-20-1-7 2-12-2-7 2-6-6-19 4zM408 856l-4 1 23 12 13-1 19 7 7-1 13-7-7-3-6 3-9 0 13-10-4-2-20 5-6 6-6 0-5-4 7-5-2-2-13-2-13 3zM683 861l-25 3-4 8 4 1 12-1 13-4 19-1-12-6-7 0zM330 872l8-4 6 1 5 3-11 2-8-2zM414 874l-4 8 4 3 13-2 9-6-15-4-7 1zM333 882l5-2 8 2-4 5-4 3-32-3 12-3 7 0 8-2zM651 881l13 3 13 0 13 6 6-3-13-7-25 0-7 1zM549 886l-6 1 12 2 13-1 4-1-10-3-13 2zM414 888l-5 4 12 4 8 1 0-5-2-2-13-2zM600 892l13-5 7 5-7 2-13-2zM664 891l-1 1 1 2 6 3 16 0-9-2-7-4-6 0zM765 892l8-3 13 2 6-3 2 4-2 1-6-1-13 2-8-2zM568 896l-13 4-9 2-3 10 19 4 12-1 7-3 17 0-4-4-13 3-21-4 2-2 22-8-10-3-6 2zM797 897l8-2 7 2-14 8-8 2 8 5-8 0-4-3-4 3-9 1-7-1-1 0 1-1 10-4-3-3-18-2 5-2 13 1 13 2 11-6zM491 901l-1 1 1 1 9 4-6 5 4 2 9-7-9-7-7 1zM510 901l-2 1 2 2 7 1 13-2 3-1-10-4-6 0-7 3zM427 906l19 10 7 0 6-4-3-5-3-2-19 0-7 1zM491 914l-2 3 0 5 2 1 4-1-1-5-3-3zM453 919l-2 3 8 2 11-2-4-3-13 0zM638 918l-12 7-10 2 22 4 7-3 13 1 3-2-3-4-20-5zM869 920l-2-3 2-1M510 925l-5 2 5 5 13 7 9-2 5-5-27-7zM427 944l-2 3-1 5 3 2 7 0 6-2 0-6-6-3-7 1zM664 946l-32 4-4 2 4 2 13 1 6 4 7 0 10-2-7-5 3-6zM869 943l-5-1 5-2M286 951l13-1 21 2-14 1-20-1M606 954l-15 8 2 5 17-5 3-5-7-3zM421 971l6 5 13 2 4-1-5-5-12-2-6 1zM472 971l2 6 4 3 9-3-7-5-8-1zM510 971l13 9 7-4 12 0 6-4-12-2-26 1zM715 968l-4 4 4 1 26-1-7-4-19 0zM690 981l-2 1 2 0 12 2 20-2-26-2-6 1zM766 979l-3 3 3 1 13 2 7-2 0-1-20-3zM632 986l-4 1 4 0 16 0-10-2-6 1zM773 990l-5 2 18 5 10-5-4-4-6-1-13 3zM869 999l0 3M286 1005l7 3 19-1-15-5 18-5 3-4 3 4 10 3 19-2 7 1 4-2 0-5-4-3-7 1-6 4-10-2-2-5 15-5-9-3-5-2-4-5 5-5 4-7 12-3-11-5 5-3 13 4 3-1 3-5-19-12-12-3 12-2 13 2 13-3 6 2 19 13 7 1 6-3-6-5 3-10 3-3 13 0 7-2-7-4-13 0-6-1 3-10-10-2-16 7-9 8-13-1-7 3-6 0-1 0 7-8 13 0 4-2 1-5-11-8-7 2-14 1 2 3 12-1 4 3-10 7-13-1-6-4-11-2 4-5 7-7 23-3 4-5 5-2 6 0 7 2 6 6 6 0 13-3 6-3-6-4-13-1-5-5 0-5 21-5-16-4-12 0-20-5-19 0-6 3-10-4 3-3 13 2 13-3 13 3 13-1 6 4 6 1 13-3-6-4-12-1 2-10 3-4 13 3 10-4-10-3-13 1-6 2-11 0 6-5 2-5-3-3-7-1-19 1-6 4-8-1 14-7 19 0 11-3-22-5 11-11 12-4-7-5 4-5-15-2-6-3 17-5 0-5 2-2 7 2 5 3 4-3-4-9-6-2-9-4 11-5-8-6 20-4-20-7-7 0-13-3-6 0 6-1 13-3 19 2 7-6 13 0 9 3-3 5 6 1 10-1-5-5 0-5-11-6-6 0-20 5-6-3-6 1-7 5-13 2-6-3-2-1 21-3 7-6 12 3 13-1 3-3-3-2-13-1-12 2-13-8-7 4 5 5-11 0-12-5 15-5-9-5-2-5 8-1 5-4 8-1 6 1-2 5 15 2 6 4 13-2 10 1-7 5 4 1 19-4 5 3 2 5-6 5 12 4 19-13 9-1 16-9 3-1 1-5-4-3-19-5 1 8-3 5-17 7-13 1-3-8-16-2-3-3 6-5-3-3-6 0-13 4-2-1 2-8 6-1 13 2 6 3 8-1-4-5-7-5 7-5 9-3 26 2 6 3 7 1 12-1 3-2-3-4-6-1-13 2-12-7-20-3-13-5-6 0-5 3 16 5-11 5-6 1-20 0-6-5-6-1 6-3 2-2-8-4-13 0-4-1 4-4 6-1 26 4 17-4-9-10-8-4-19 0-13-4-4-2 2-5 15 1 6 7 5-3-3-5 4-2 7-7 18 4-7 5 2 2 6-2 19-3 3-2-9-3-7-6-6-2-19 4-7-3 7-5-7-1-12-4-8 5-4 5-8 2-6 0-7-2 14-5-4-5 3-2 13-2 7 3 16-4-16-4-13 1-4-2 4-3 6 1 7-4 14-4-23-5 15-5-9-5 9-6 6 4 7 0 8-3 7-5-9-3-13 0-11-7 2-5-3-5 8-5-5-5 5-5-3-5 7-5-6-4-10-1 16-2 20 2 12 5-12 3-10 7 3 4 7 0 25-9 7 0 1-5-14-5 1-5 7-5-2-5-6 1-2 4-5 3-12 6-2-4 2-3 11-7-2-5-9-3-4-2 4-3 19-3 38-2 7-1 6-3 26 7-5 5 6 5-11 0-10-6-12-3-6 4-1 8-13 3-5 4 4 5 8 4 19-2 8 3-14 3-2 2-4 5 8 5-2 3-13 0-2 2 6 5-4 2-7-1-12-7-32 6 12 7 7 0 5 3-7 5 2 2 6 2 13 1-6-1-3-4 3-3 6-4 13-1 18-7-4-5 20-5-7-5 5-4 13 3 1 1-3 5 8 1 13 0 6 2 7-3 12 1 3 4-9 3-13-3-10 5-3 2-6 0-5 3 5 1 6 5 13 4-20 5 27 3 6 5 13 3 6-1 0-6 7 5 12 1 1 5-7 3-6 0-7-2-19 0-6-3-7 0-2 2 2 1 7 1 2 3-2 4-7 0-6-4-13 3-13 0-6 2 13 6 25-6 19 3 2 2-2 0-12 2-3 3 13 5 0 10-4 3-17 2 23 1 2 4 14 5-3 4-14 1 8 3 1 2-1 0-43 5 24 2 19-1 4-1 2-3 13 2 3 6-3 2-6 1-7-2-16 4 35 1 13-1 7 5-13 3-19 1-13 3-5 3 5 4 6-2 7 0 5 3-5 1-13-1-7 2-6 4-13-2-6 2-19 2-4 2 4 5-7 4-6-1-3 2 9 1 3 4-9 4-7 1 20 4 12-2 7-8 13-2 6-5 6-2 13 0 13-4 13 1 4 3-4 2-13 1-4 2 10 3 3 2-3 1-6 2-19-6-11 3 11 5 19 3 12 7-31 2-11 8 17 2 26 0 6-1 7-4 6 0 7 3-13 2-2 3 2 4 12-1 6 2-1 5-5 1-6-2-7-4-6-2-13 1-1 1 3 5-2 5-6 2-32 3 32 3 19-3 2-5 11-4 2 4 11 5 4 5 2 10 7 3 15 2-15 8-7 0-11-3-2-6-12-2-13 2-1 1 1 1 16 9-6 10 9 2 4 3 2 3 17 2 0 5 3 2 6 1 13-5 10 2 13 5-22 5 4 10-5 6-7 0-6-4-12-2-5-15-18 0 9 1 6 4-14 5 17 5 0 5-9 7-19 4-6 1-6-2 5-5 20-2 6-3-6-3-26 0-12 4-9-1-3 5 5 6 13 1 13 6 6-1 32 6 13 0 4 2-4 1-19 0-6 4 8 5-15 2-13-7-6 2-7-1-19-10-6 0-7-5-12-4-7-1 1 9 18 5 13 2 6 3-8 5 15 2 13 0 32 7 19-1 6-7 7 4 6 2 7-2-8-5 16-5-37-15 3-4 6-3 13-2 13-4 7 3-7 5 6 7 7 3 3 10-14 10 4 2 7-3 13-2 6 4 12 4-6 4-6 0-19-7-2 3 21 11 6 0 20-5 6 0 9 4-9 2-9 8 3 2 6-1 4 4 2 5-6 2-6-4-13-2-3 4 14 5-10 5 5 4 13-1 6-6 7-2 6 0 3 5-14 5 15 5-9 5 6 5 2 5 0 5-3 4-10-4-3-5-6 5 19 10 5 0-4-5 6-2 19 0 8 2-2 2-19 4-1 4-11 5 12 4 6 0 7 1 13-2 3 2 2 5-12 5-13 1-2 4 9 3 13 0 12 6 7 1-19 2-7-4-13-1-5 3 25 6 12 9 7 1 8-6 5-2 8 2 1 5-16 5-7 5 20 7 13-4 3 2-2 5 5 3 7 1 6-4 4-5 9-1M286 1020l26 3 14-1-14-4-6 2-7-1-2-2-11-4M869 1019l-13 3-13-2-2 7 9 5 6 0 5 0-7-5 2-5 13 3M869 1036l-2 1 2 3M286 1039l7-5 6 0 7-1 1-1-8-2-13 0M869 1042l-18 5 1 5 7 5 3 1 7-1M869 1056l-6-4 6-3M869 1064l-13 0-9 3 3 2 19 2M715 1075l-3 2 16 3 6 10 5-3 8-2 13 2 22-5-4-5-12-2-12 5-26-4-13-1zM869 1072l-19 1-39-4-6 4-13 1-4 3 14 5-11 5 1 2 22 3 11 10-1 2-6 0-20-9-12-4-7 0-13 5-32-3-5 4 2 5-9 2-4 3 16 2 8-2 5-6 19-1 1 2-7 1-4 4 10 7 20 2 12-4 8 5-14 4 1 11-14 7-13-4-2 2-1 5-3 3-19 5-32-1-13 3 6 3 13 0 9 2-9 7-6 3-5 0-3-5-5-3-8 3 13 5-18 4-19 1 0-5 4-5-4-1-6 3-13 3 2 5 5 5 15 5-22 5 0-5-9-5-17-6-19 2-6-1 12-8 7-6 13-2 13 1-3-5 1-5-7-5 2-6-8 1-9 5 7 5-16 7-6 2-19-1-2 2 6 5-11 3-6-1-6-6-14-1 20-4 13-5 6 0 4-1-4-2-6 1-26 0-6 2-13-4-19-1-6 4 1 5 11 3 7 5 11 2 3 5-11 5 3 3 6-2 7 2 19 0 6 3 13 2 0 3-6 2-19-2-13-6-13 0-6-2-7 0-13-10-19 0-7 2 9 5 2 5-4 2-19-5-13-1-3-1-3-4-7-1-6 2-6 0-13-10-13 3-6-3-13 2-8-4 15-5-7-4-13-1-9-5 15-7 13 1 23-4-4-3-6 1-13 0-13-2-12 1-20-7 10-10 3-1 7 2 14-6-21-3-6 1-18-8 18-3 1-2-14-5 9-5 6-5-2-2-7 1-28-4 21-5-12-2-5-3 4-5-12-2-4-3 7-5-9-6-13 3-6 0-4 3 4 5 7 5 0 5-7 6-7 1M382 1086l-2 1 3 5 20 0-8-1-13-5zM536 1096l-6 3 0 4 6 1 15-2 0-5-2-1-13 0zM722 1115l-4 2-3 3-11 2 8 5-3 2 0 4 6 1 19-6 14-1-1-2-13-1-6-2-6 1-4-1 8-5-4-2zM427 1126l-5 1 5 2 17-2-17-1zM523 1126l-19 3-5 3 18 5 13-1 6 3 6-5 14-2-14-2-6-4-13 0zM869 1122l-2 0 2-1M286 1130l14 2-14 1M478 1131l-6 1-15 10 15 4 10 6-4 3-10 2-2 2 0 3 6 2 6-2 7-5 13 1 9-1-15-10 2-5 0-5-3-3-13-3zM734 1136l-12 3-4 3 4 2 25 1 7-3-7-4-13-2zM389 1139l-2 3 2 1 13 0 5-1-12-5-6 2zM664 1140l-5 2 5 2 6 0 8-2-1-2-13 0zM798 1142l32-3 8 3-8 3-6 5-6 0-13-3-13 1-6-1 12-5zM869 1157l-3 0 3-2M373 1167l16-3 6 0 8 3-14 9-7-2-9-7zM325 1192l19-3 9 3-15 1-13-1zM869 1187l-4 0 4-1"/>
<path fill="#0a20d8" fill-rule="evenodd" stroke="#0010f0" stroke-width="2.60" d="M445 257l1-2 6 2-7 0zM458 257l8 1 6 4-6 1-7-1-1-5zM421 262l6-3 11 3-4 2-7 0-6-2zM421 277l6-3 26 2 2 6 4 1 4 4 1 5-5 5 7 5 10 5-4 3-13-4-7 6-12 3-19-3-7-5-16-5 4-2 12-1 7 5 0-2-2-10 8-9 13-1-6-3-13 3 0-5zM427 296l-4 1 4 0 0-1zM399 317l15-2 2 2-8 1-9-1zM425 322l15-3 19 5 6 3-1 5 2 2 5 3-12 2-13-2-10 0 10-1 5-4-5-4-12 0-8-1-1-5zM426 342l1-1 7 4 17 2 0 5-5 3-12 0-6-3-3-5 1-5zM421 362l13-4 11 4-5 4-6 1-7-1-6-4zM460 362l12-4 4 4-4 1-12-1zM478 367l10 0-10 0zM406 382l21-2 4 2-23 3-2-3zM464 382l3 0-3 0zM425 397l6 0-6 0zM436 397l12 0-8 2-4-2zM455 397l11-2 13 2-7 1-3 4-10 2-9-2 5-5zM426 412l2 0-2 0zM459 412l1 0-1 0zM416 422l5-3 34 8-9 2-6 0-13-6-6 3-7 1-2 0 4-5zM394 437l4 0-4 0zM413 437l8-3 6 0 3 3-9 1-8-1zM446 437l32 5-6 5-32-4-3-1 9-5zM374 442l2-2 8 2-8 1-2-1zM585 462l3 0-3 0zM403 467l18-4 14 4-21 3-11-3zM448 472l5-3 3 3-3 1-5-1zM430 487l4-5 6 3 6 6 12 6-1 5 2 5-6-1-7 5-6 0-13-1-13 3-9-1 22-8 15-2 1-5-13-10zM732 487l5 0-5 0zM377 492l7 0-2 1-5-1zM385 497l4-3 19 3-13 4-6 4-7 0-2-3 5-5zM484 502l7-1 3 1-3 3-7-3zM631 502l10 0-3 1-7-1zM379 512l3-4 7 1 2 3-2 3-7 4-3-7zM475 512l16-5 28 5-9 3-12 1-7 3-12-2-4-5zM533 512l5 0-5 0zM467 522l5-3 6 3-6 3-5-3zM576 522l11 0-6 2-5-2zM377 527l5-4 16 4-16 2-5-2zM491 527l7-3 6 1 6 5 7 2-19 4-6-4-1-5zM404 532l4-3 6 3 2 5-2 1-8-1-2-5zM561 532l1 0-1 0zM385 537l10 0-10 0zM450 537l16-3 13 3-16 10-10 3-19-1-9-2 2-6 23-4zM453 540l0 2 0-2zM488 542l3-4 7-1 6 3 19 1 9 6-9 1-14 9-5 1-6-1 6-3 8-7-8-4-6 0-12 9 5 3 6 2-12 1-11-6 14-10zM402 547l6-3 6 3 4 5-4 2-6 1-13-2-3-1 10-5zM373 552l3-1 1 1-4 0zM542 552l1 0-1 0zM558 552l10-3 4 3-4 1-10-1zM379 557l3-3 13 4 19 1 7-1 2 4 11 5 5 5-5 3-20 2-3 5 3 2 7 1 13-7 17 4-8 5 3 3 7-1 3-2-2-5 12-7 11 7-14 10 15 1 13-3 7 0 4 2-6 5 2 3 6-1 6-5 26 1 4 2-10 8-7-4-19 2-13-1-6 1-2 4-5 2-6 0-13-9-19-2-3 4 3 3 7 2 0 5 19 2 7 3-14 3-6 0-7-2-12 8-12 1 3-5-4-5 6-4 13 1 6-2-6-5-18-5 5-5 7 1 3-1-3-2-7 0-6-5-19 2-20-5 7-2 5-3-5-4-12-1-4-5 9-2 7 5 6 1 13-1 3-3-3-4-13 0-6-1-7-4-17-1 11-3 3-2zM442 557l11-4 13 6 12 1 4 7-16 3-7 4-6-1-3-1 6-5-16-3-1-2 3-5zM523 557l1 0-1 0zM516 567l11 0-4 6-14-1 7-5zM530 567l8 0-8 0zM484 572l1-3 12 3-6 2-7-2zM497 577l1-2 1 2 0 5-9 0 7-5zM527 577l7 0 2 5-1 5-12 2-13-2 2-5 15-5zM354 587l9 0-6 1-3-1zM343 597l8 0-8 0zM544 602l5-2 5 2-5 2-5-2zM499 612l11-3 22 3-22 3-6-1-5-2zM359 617l4-2 3 2-3 1-4-1zM392 622l3-3 13 1 13 7-13 6-7-6-9-5zM501 622l3-3 6 0 20 2 12-1 9 2-9 3-6 0-6-3-7 0-13 4-6-2-3-2zM634 627l4-2 5 2-9 0zM488 632l10-2 4 2-11 2-3-2zM526 632l10-4 26 1 15 3-35 7-5 3 2 5-3 2-6 0-9-2 14-5 0-5-9-5zM689 632l1 0-1 0zM413 637l1-2 13 1 13-3 6 2 14 2-1 1-32-1-13 1-1-1zM370 642l6-2 6 2-6 1-6-1zM399 642l10 0-7 1-3-1zM382 647l0-4 13 2 7 12-16 0-7-5 3-5zM425 647l34-4 16 4-16 4-25-2-9-2zM495 647l3-2 17 7-17 1-6 4 2 5-3 1-7-1 0-5 7-9 4-1zM555 647l8 0-8 0zM406 652l3 0-3 0zM423 662l4-2 13 0 7 2 6 4 12 1-19 0-12-3-7 0-4-2zM567 662l7 0-7 0zM617 662l6 0-4 1-2-1zM419 667l2 0-2 0zM466 667l9 0 16 5-6 2-7 1-6-7-6-1zM538 667l11-2 8 2-15 1-4-1zM355 672l3 0-1 1-2-1zM561 672l9 0-9 0zM349 677l1-2 2 2-3 0zM392 677l3-2 12 2-12 1-3-1zM432 677l8-2 13 1 2 1 0 5-9 3-12-5-12 7-8 1-2-1 4-5 16-5zM515 677l8-5 13 3 6 4 23 3-3 3-10 2-16-7-6 0-13 2-2-5zM508 682l8 0-8 0zM592 687l7 0-7 0zM617 687l9-2 4 2-4 2-9-2zM650 687l2 0-2 0zM430 692l4-3 6-1 6 0 6 4-18 5-3 0-1-5zM523 692l15 0-8 6-12-1 5-5zM357 697l13-1 3 1-3 2-13-2zM495 697l3-3 17 3-5 1-15-1zM379 702l11 0-1 1-7 0-3-1zM470 702l8-4 7 4-7 2-8-2zM539 702l3-2 11 2-4 2-10-2zM565 702l16-3 6 1 3 2-16 2-6 4-6 1-7-2 10-5zM368 707l2-2 6 0 1 2-9 0zM398 707l23-4 2 4-9 5-6 2-5-2-1-3-4-2zM454 707l5-2 3 2-3 1-5-1zM599 707l9 0-2 1-7-1zM445 712l2 0-2 0zM462 712l4-4 37 4-5 5-11 5 1 5-3 1-2-1 0-10-5-3-6 1-10-3zM548 712l14 3 6-1 2 3-34 1-4-1 4-2 12-3zM622 717l4 0-4 0zM348 722l11 0-9 1-2-1zM429 722l5-2 6 1-1 6-5 2-7-2 2-5zM595 722l5-2 4 2-4 1-5-1zM395 727l7 2 4 8-4 5-20-3-5-2-1-3-13-2 13-1 13 2 6-1 0-5zM454 727l12-2 4 2 0 5-4 4-7 0-8-4 3-5zM535 727l7-2 6 2-6 5-3 0-4-5zM549 727l6-2 13 2-6 1-13-1zM568 727l13-2 3 2-3 2-13-2zM604 727l2-4 7 4 0 2-7 0-2-2zM492 732l6-2 6-1 2 3-2 1-12-1zM409 737l12-3 8 3-8 2-12-2zM571 737l10-4 10 4-15 5-2 3-13-3 10-5zM596 737l10-4 7 0 6 7 5 2 2 5-7 1-6-1-2-5-15-5zM455 742l4-3 19 9 25 4-12 2-19 0-6-7-7-1-6 7-19-3-20 0-5-3 5-3 20 0 21-2zM503 742l13 0-6 2-7-2zM628 742l6 0-6 0zM374 747l8-2 9 2-1 10-8 3-6-1-3-2 12-5-11-5zM400 757l8-2 14 12-8 3-19-3-1 0 7-5-1-5zM544 757l5-2 4 2-4 1-5-1zM563 757l5-2 13 1 6-4 1 5-2 5 1 1 14 4-1 5 19 2 1 3-7 3-26-3-6-3-1-7-6-2-6-1-4-2-1-5zM765 757l4 0-4 0zM439 762l7-3 13 1 6 2 2 5-1 2-7-4-19-2-1-1zM474 762l11-2 13 2-20 1-4-1zM746 762l8-2 6 2-6 2-8-2zM515 767l2-3 6-1 7 5 6 1 13-3 13-1 1 2 0 5 9 5-10 4-7-9-6-3-2 3-5 1-19 1-1 3 8 2 17 3 0 5-17 5-20-5 0 5-12 4-7-1-12-3 6-3 25-2 7-4-2-6 2-3 4-2-4-2-2-3zM425 772l2-2 7 0 12 0 6 2-18 2-3 3 3 5-7-1-6 4-7 1-7-4 7-3 7 0 3-2 1-5zM503 772l7-1 4 1-4 1-7-1zM462 777l4-4 19 2 3 2-16 8-11-3 1-5zM645 777l9 5-14 5 2 5-4 2-7 3-5-5 6-7 6-2 7-6zM354 782l9-3 7 1 3 2-10 2-9-2zM444 782l9 0 1 5-8 2-1 3 12 5-2 5 4 2 7 1 6 5 6 0 3-3 4-2 5 2-5 4-19 4-31-3 17-5-17-5-1-5-7 0-2 5-10 5 6 1 5 4 2 5 4 5-5 2-6-4-24-8 16-5-5-1-5-4 5-3 17-2 2-1 1-4 6-4 6-1 4-5zM378 787l4-3 7 0 6 0 7 3-9 5 3 5-7 0-11-5 0-5zM555 787l17 5-4 2-6 1-7-3 0-5zM594 787l6-1 3 1-9 0zM458 792l1-2 7 0 3 2-3 2-7 0-1-2zM583 792l11-4 0 4 8 5-24 0 5-5zM286 797l4 0-4 0zM536 797l13 0-7 2-6 7-21 6 2 0 4 10 16 5 6 5-13 2-13-4-19-11-10-2 3-5 14 0 5-5 0-6 26-4zM726 797l3 0-3 0zM365 802l5-2 4 2-4 2-5-2zM471 802l2 0-2 0zM727 807l3 0-3 0zM357 812l6-3 3 3-9 0zM533 812l3-4 6 0 8 4-1 2-7 1-9-3zM580 812l1-2 3 2-4 0zM644 812l14-2 8 7-2 2-13 3-6-1-7-3-6-1 12-5zM559 817l9-2 2 2-2 3-9-3zM400 822l2 0-2 0zM462 822l4-4 15 4-7 10-8 1-11-1 14-5-7-5zM580 822l9 0-9 0zM438 827l12 0-4 1-8-1zM567 827l1-3 6 1 1 2-1 2-7-2zM597 827l3-2 8 2-8 8-6-3 3-5zM419 832l2-4 13 1 1 3-8 5-6 2-7 0-2-2 7-5zM720 832l2-2 8 2-10 0zM501 837l4 0-4 0zM657 837l3 0-3 0zM746 837l8-2 4 2-4 1-8-1zM443 842l10-2 6 0 13-1 6 2 4 6-4 2-6-1-6-4-13 1-10-3zM507 842l3-3 7 0 13 6 6 1 19-7 26 2 23 6-30 8-6-1-6-6-13 3-13-2-4 3 10 1 5 4-6 5 1 1 20 3 12 3 6 3-6 3-6-1-3 3 3 3 9 2-3 1-12-1-39 4-19 6 11 5-11 3-6-3 6-5-6-3-13-1-7-4-6 0-6 3 29 10-4 0-5 5 6 5-8 5 0 5-3 5 2 10 8 2 13-2 8 5-8 5 3 5-9 1-7 4 21 5 5 5 12 5-12 2-19-8-7 0-1 1 8 6 7 4-1 3-6 2-10-5-10-3-25 0-7-3-31 6 8 5 4 1 7 0 19 7 6-1 7-3 12 2 20-6 4 5 0 5 10 5 11 1 7-1 0-5 6-4 6-1 7 1 9 9 16 1 13-9 7 1 12-3 13 1 7-3 6-7 6 0 7 2 6 6 7 1 19-4 1-1-1-1-7-2-12 0-7-2 7-3 6-1 2-1-2-1-13 0-6 1-7-2-12 6-20-1-3 2 7 5-4 4-19-1-19 3-15-6 15-7 13-3 19 1 1-1 12-3 3-2 1-5-7-5 9-3 13 6 12 2 1 2 6 1 19-2 13 2 5-3-11-6-7-1-6-6-26 4-9-1-3-5-13 3-7-1-9 8-2 5-14-2-5 2 7 5-2 2-19-3-15-4 3-5 5-2 7 3 12 0 7-11 19 0 5-5-5-2-6 5-13 1-11-9 5-5-7-2-5-3 5-5 6 1 13-4 13 0 4 3-2 5 11 6 13 1 12 5 7 0 2 3-6 5 4 1 6-3 7 0 6 0 6 3 20-2 6-3 2-1-2-1-13-2-6-3-7 1-19 0 7-1 6-3 7-6-13-5 3-5 9-2 26 15 6 8 13-3 7-1 8 3-15 7-13 0-6 6-6-1 0 3 12 0 7 3 13-2 32 0 5 4-5 4-16 1 9 2 7 4 6 7 26 4 4 3-4 3-20-3-5 5 5 3 9 2-17 5 28 7 6 0 6-5 13 3-15 5 2 3 20-1 12-4 13 8 13 0 6-6 7 2 0 6-3 2 2 5-12 2-6-2-7-3-6-5-8 3 3 5-2 4-8 1 8 8 7 0 4 2 0 5 2 1 13-3 6 2 3 5-15 3-20-4-12-1-3 2 9 0 13 10-13 6-13 1-19 7-13 8-9-2 10-5 5-5-6-2-19 7-2 10-4 1-7 0-13-3-12-1-13-4-7-1-5 3 12 6 11 4 7 5-18 9-7 0-9-4 3-4 19 0 2-1-2-2-13-1-12-4-1 2-6 3-6 1-13-4-19 6-13-5-5 4-1 5-9 5 2 1 7 0 6-5 19-1 7-5 12 1 7 4 1 5 5 2 13 3-6 6-7 1-13-3-6 6 13 2 3 3-10 3-12 1-13-5-13 0-6 3-13 0-7 5-12 0-3 3 9 6 6-1 7-5 7 0 12-7 1 2 0 5 37 6 6 4-22 5 4 4 19 0 6-6 10-3-11-5 4-5-4-5 1-2 7 0 12 8 13 15 7 3 18 1-6 1-57 0-4 4 4 3 6 2-1 5 8 5-7 2-13-2-1 0 6-5-11-3-6-5-13-6-3-6-5-5-5-2-14 2-5 3-2 2 4 5-2 0-7-2-12-1-7-4-38 4-5-2-1-5 6-2 6 0 13 5 6 0 2-3-2-1-12-2-2-2-5-2-13-3 11-5 2-4 19 2 8-3-8-6-19-1-10-3 4-1 6-4 3-5 10-4 6-4 13-1 2-1-8-7-13 1-6-3-3 4-17 3-12-3 9-5 10-3 3-2-10-3-19 5-13-3-7 1 7 5-12 5-4 5-10 5 14 4 25 3 7 8-7 7-6-5-7 0-12 8-13-1-7-3-7-1-2 5 6 5 23 3 3 2-10 4-13-2-5-2-1-2-6-1-45 1-13-3-3 5-3 1-17-1 10-3 7-3 6 0 5-4-20-5 2-5-4-5-2-1-13 3-17-2 10-5 1-2 6-3 6 1 11 4 2 3 13-5 8 7-20 5 12 3 6 0 13-8-10-5 4-3 13 2 19-1 12-3-25-5-6-3-2-2 3-5-1-6-7-1-9 2 4 10-1 3-7 1-6-8-6 0-7 0-6 6-9-2 2-5 4 0 3-6-7-2-3 3 2 5-11 0-20-11-18-4 7-5-14-3-7-2 7-5 3 0 5-5-2-7-19 0-1-3-5-4-20-1 0-2 32 0 13-3-19-9-22-1 28-3 5 3 8 1 19-9 19-2-3-5-1-5 5-5 4 0 3-5-1-1-6 1-10 5-12 0 15-8 7 2 0-4 6-3 6-6 20 3 6-4-16-5 3-2 7-2 17-1 2-3 14 3-5 5 4 1 6-4 11-2-6-10 14-3 3-2-4-5 1-3 17-2-10-4-7 1-6 5-7-1-3-1 2-5-5-1-6 1-3 5-10 5 3 5-4 5-2 5-4 2-12 1-9-3 9-4 10-1 0-5-5-5 1-8 6-2 13-2 4-3 0-5 3-3 6 3 13 8 13 0 9-3-13-5 2-10 12-5-4-6-6-2-26 2-6-2-1-2 7-4 13 1 11-2-11-5-7 0-6 2-6 0-2-2 8-5-6-4-9-1 15-1 19 6 13 2 6-1 7-4 6 1 6 2 1 6 6 1 10-7-4-3-6-3-19-4-7-4-7-1 7-8 20-2 12 2 15-2-8-4-13 2-5-3 5-2 3-3zM574 845l-2 2 6 0-4-2zM555 870l-3 2 10 2 2-2-2-4-7 2zM440 1065l-3 2 9 3 7-2 0-1-7-3-6 1zM446 989l-6 3 6 7 7-2 7-5-7-3-7 0zM472 989l-6 3 6 1 13 0 4-1-17-3zM600 1096l-8 6 8 1 3 4-3 2-14 3 8 4 6 2 3-1 3-6 13 0 6-4-6-4-16-1 1-5-4-1zM613 1076l-6 1-5 5 5 5 6 1 12-1-9-5-1-5-2-1zM638 981l-12 2-3 4 9 2 19-1 3-1-3-5-13-1zM581 918l-1 4 1 2 10 3-7 5 10 2 5-2-7-10-11-4zM613 936l-5 1 11 2 5-2-5-2-6 1zM702 955l-3 7-9 1-4 4 2 5 21-6 1 1-4 5 9 2 13 1 17-3-1-5-10-5 0-5-25-4-7 2zM754 986l-4 1 4 2 2-2-2-1zM638 1107l12 0-5-2-7 2zM658 1101l-4 1 4 1 4-1-4-1zM581 1106l-1 1 1 0 0-1zM485 1099l-5 3 5 2 10-2-10-3zM427 1116l-4 1 4-1zM440 1110l-3 2 0 5 9 3 7-3 7-5-7-5-13 3zM453 1098l-6 4 6 4 6-1 1-3-1-2-6-2zM376 1066l-3 1 3 1 2-1-2-1zM395 975l-1 2 1 1 7 4-20 2-5 3 5 1 7 1 25-3 8-4-1-2-13-3-6-5-7 3zM459 958l-4 4 4 2 7 0 5-2-5-5-7 1zM472 944l-6 3 6 1 11-1-5-5-6 2zM504 860l-4 2 10 3 19-3-19-4-6 2zM485 1081l1 1-1-1zM645 1075l-5 2 11 3 7 0 5-3-12-3-6 1zM690 980l-6 2-1 2-6 1-7 4-6 2-2 1 2 0 6 1 7-1 13-7 12 3 20-4 12 8 7 1 3-1 1-5-2-5-2-1-13 0-6-2-32 1zM523 870l-4 2 17 6 12-6-6-4-6-1-13 3zM741 1066l-3 1 9 5 12-5-5-2-13 1zM680 842l11 0-1 3-10-3zM772 842l7-2 3 2-3 1-7-1zM385 847l4-3 5 3-5 2-4-2zM645 847l13-2 8 2-8 1-13-1zM693 847l7 0-7 0zM399 852l9-4 6 0 8 4-14 2-6 0-3-2zM437 852l4 0-1 2-3-2zM444 857l5 0-5 0zM600 857l6 0 7 5-15 5-6 0 8-10zM675 857l2-4 10 4-4 1-6 0-2-1zM715 857l7-2 10 2-23 11-14-6 7-2 7 1 6-4zM385 862l10-4 7 0 18 9-6 4-6 0-6-6-17-3zM432 862l8-4 2 4-2 1-6 0-2-1zM572 862l9-2 4 2-13 0zM661 862l3-1 3 1-6 0zM636 867l9-2 7 2-1 1-6 2-9-3zM309 872l3 0-3 0zM335 872l3-2 6 2-9 0zM385 872l10-2 13 2 2 5-2 3-6 1-7-1-6-3-4-5zM679 872l4-2 13-1 4 3 2 5 12 5-12 5-13-5 2-5-21 2-19-2 26-4 2-1zM715 872l7 0-7 0zM588 882l6-4 4 4-10 0zM602 882l11-2 11 2-5 2-6 1-11-3zM313 887l11 0-11 0zM327 887l11-3 0 3-11 0zM418 887l8 0-8 0zM641 887l4-3 6-1 19 4-11 5 0 5 11 4 20-3 6-4 6-1 7 4-7 5 0 5-6 4-26-9-12 0-20-6-5-4 8-5zM737 887l4-2 3 2-7 0zM354 892l3-4 6 0 8 4-1 2-7 0-6 0-3-2zM522 892l1-4 7 0 6 5 13-2 24 1-11 1-7 4-19 4-9-4-5-5zM577 892l10-2 5 2-5 2-10-2zM676 892l1-2 8 2-2 1-7-1zM768 892l5-1 4 1-4 1-5-1zM328 897l22-3 4 3-4 2-12-1-7 2-3-3zM373 897l3-2 9 2-10 5 12 5-11 3-10-8 7-5zM403 897l5-3 6 2 4 1 3 4 13-3 12-1 6 5-6 1-19 1-5 3-1 2-7 2-2-4-4-3-16-2 11-5zM414 901l4 1-4-1zM734 897l7-2 4 2-8 5-3 6-19 7-4-3-1-5 5-4 13-3 6-3zM587 902l7-2 19 1 19 6 0 1-19 5-7 0-6-8-13-3zM798 902l1 0-1 0zM321 907l4-4 6 0 3 4-3 2-10-2zM517 907l13-1 6-3 3 4-3 3-6 0-20 4-2-2 9-5zM564 907l10-4 7 1 4 3-11 2-10-2zM334 912l4-3 5 3-9 0zM632 912l6-2 7 0 3 2 2 5-5 0-13-5zM771 912l4 0-4 0zM356 917l14 0-14 0zM540 917l9-2 11 2-6 5 1 5-5 5 15 5-16 7-13 3-4 5 11 10 6 2 6 0 7 3-7 2-19 0-6-2 6-5-6-5-13-3-1-2 5-10 22-5-1-5-6-4-14-1 1-2 7-1 12-1 2-1-4-5zM502 922l2-5 6 1 7 4-13 1-2-1zM609 922l4-3 6-1 9 4-9 3-6-1-4-2zM772 922l1 0-1 0zM493 927l5-3 3 3-3 3-5-3zM365 932l5-2 10 7-4 3-13 1-9-4 11-5zM744 932l3-1 7 1-7 1-3-1zM676 937l1-2 1 2-1 1-1-1zM867 942l2-1 0 1-2 0zM368 947l2-4 6 0 10 4-11 10-12 2-6 4-16-1 9-3 15-7 3-5zM774 947l5-3 7 0 1 3-8 2-5-2zM292 952l10 0-10 0zM386 957l3-1 1 1-1 1-3-1zM763 962l3-2 13 2-16 0zM337 972l7 0 9 5-9 2-5-2-2-5zM452 977l4 0-4 0zM815 982l3-2 1 2-4 0zM866 1052l3-2 0 4-3-2zM837 1062l13-3 12 3-19 3-6 3-15-1 8-2 7-3zM797 1072l1-1 2 1-3 0zM514 1082l3-2 6-1 6 3-3 5 4 2 12 0 9 3-21 3-13-2-5-1-1-5 3-5zM346 1087l11-5 17 5-4 4-7 1-17-5zM502 1087l8 0-8 0zM770 1087l9-2 6 2-12 2-3-2zM744 1092l3-3 19 0 4 3-10 2-16-2zM805 1097l6-3 4 3-4 1-6-1zM381 1112l3 0-3 0zM711 1112l11-3 19 3 13-3 3 3-3 3-7 0-4 2-2 4-7-1-6-5-6-1-7 0-2 3-11 2-6-1 6-5 9-1zM363 1117l2 0 1 5-8 0 5-5zM539 1117l10-2 2 2-9 1-3-1zM501 1122l3-4 11 4-5 3-6 0-3-3zM520 1122l10-3 6 0 1 3-7 2-10-2zM752 1127l2-2 6-1 11 8-17 6-17-6 15-5zM778 1127l3 0-3 0zM286 1132l5 0-5 0zM431 1132l9-2 8 2-2 1-6 0-9-1zM408 1137l9 0-3 1-6-1zM449 1137l4-3 6 1 2 2-8 3-4-3zM497 1137l1-2 6 0 7 2-7 3-7-3zM426 1142l9 0-9 0zM520 1142l3-3 7 0 5 3-5 1-10-1zM823 1142l9 0-8 6-6 0-4-1 4-4 5-1zM392 1147l11 0-8 1-3-1zM791 1147l3 0-3 0zM431 1152l9 0 19-5 6 5-12 3-7-1-6-2-6 2-3-2zM467 1152l7 0-7 0zM592 1152l8-3 6 3-6 1-8-1zM386 1157l9-2 4 2-10 2-3-2zM567 1157l2 0-2 0zM683 1157l9 0-9 0zM707 1157l11 0-4 5-5 1-3-1 1-5zM740 1157l7 0-7 0zM442 1162l4-3 7-1 6 1 6 8-6 2-2-2-15-5zM482 1162l3-3 6 0 19 1 2 2-27 2-3-2zM573 1162l1-3 4 3-5 0zM612 1162l7-3 5 3 2 3 12-6 7-1 6 0 8 4-20 5-3 5-4 1-6-1-7-4-6 1-6-2 5-5zM315 1167l7 0-7 0zM473 1167l5-2 11 7-4 3-7-1-5-2 0-5zM519 1167l11-4 6 1 3 3-9 3-7 0-4-3zM854 1167l9 0-9 0zM551 1177l11-2 5 2 1 2 13 1 4 2-4 2-7-1-9-1-14-5z"/>
<path fill="#1838ff" fill-rule="evenodd" stroke="#0080ff" stroke-width="2.60" d="M464 262l3 0-3 0zM427 287l7-2 19-1 6 2 0 2-6 1-7-1-2 4 19 10-10 4-19 0-7-4 5-5-7-5 2-5zM467 307l6 0-1 1-5-1zM430 312l10-4 2 4-12 0zM431 322l6 0-3 3-3-3zM456 332l3-4 3 9-7 0 1-5zM433 352l7-3 7 3-7 1-7-1zM428 362l9 0-9 0zM458 402l1-2 3 2-4 0zM439 427l9 0-9 0zM444 442l9-2 19 2-13 1-15-1zM408 467l6-2 11 2-11 2-6-2zM448 502l5-2 1 2-6 0zM425 507l21-4 1 4-7 2-15-2zM410 512l7 0-7 0zM483 512l8-2 21 2-14 0-7 3-6-1-2-2zM498 527l14 5-8 1-6 0-2-1 2-5zM463 537l9 0-6 6-4-1 1-5zM431 547l3-3 6-1 18 4-5 1-22-1zM485 547l1 0-1 0zM400 552l8-3 4 3-12 0zM448 557l5-2 16 7 5 5-8 2-7-4-13-1-4-2 6-5zM371 562l7 0-7 0zM390 562l12-3 10 3-10 4-7 0-5-4zM419 567l2-3 7 3 8 5-9 3-6-1-6-2 4-5zM401 582l7 0 9 5-9 3-6 0-7-3 6-5zM431 582l3-2 9 2-3 3-6 1-3-4zM463 582l3-2 3 2-3 2-3-2zM517 582l6-3 7 0 2 3-2 4-7 0-6-4zM490 592l7 0-6 6-16 4-3 4-13-9-13 0 7-4 6 2 19-1 12-2zM516 597l19 0-5 1-14-1zM426 602l6 0-6 0zM503 612l7-2 11 2-11 1-7-1zM430 617l9 0-5 6-2-1-2-5zM455 617l8 0-4 1-4-1zM399 622l5 0-2 1-3-1zM505 622l10 0-5 1-5-1zM534 622l12 0-4 1-8-1zM406 627l2-2 6 2-6 1-2-1zM531 632l5-2 27 2-21 3-11-3zM435 637l8 0-8 0zM430 647l23-2 11 2-11 2-23-2zM529 647l2 0-2 0zM494 652l4-2 2 2-6 0zM426 662l15 0-7 1-8-1zM476 672l2-3 10 3-10 1-2-1zM519 677l4-2 6 2-6 1-4-1zM445 682l1-3 3 3-4 0zM554 682l3 0-3 0zM434 692l6-2 9 2-9 2-6-2zM571 702l10-2 5 2-5 1-10-1zM413 707l3 0-3 0zM466 712l6-2 10 2-10 1-6-1zM488 712l11 0-8 6-3-1 0-5zM541 717l4 0-4 0zM456 732l3-3 7 3-7 1-3-1zM380 737l2-2 7 0 6 0 3 2-3 1-6 0-9-1zM417 737l5 0-5 0zM577 737l4-2 3 2-3 1-4-1zM606 737l1 0-1 0zM381 747l3 0-3 0zM413 747l8-2 25-1 8 3-1 1-7 2-33-3zM476 752l19 0-19 0zM377 757l5-2 3 2-3 1-5-1zM407 762l7-1 0 2-2 4-6 0 1-5zM442 762l4-2 14 2-14 1-4-1zM752 762l2 0-2 0zM529 772l8 0-8 0zM585 772l2-3 6 3-6 1-2-1zM469 777l9-2 7 2-13 5-3-5zM604 777l9-2 3 2-3 1-9-1zM359 782l4-2 4 2-4 1-4-1zM413 782l4 0-4 0zM526 782l15 0-5 3-6 0-4-3zM383 787l14 0-8 6-3-1-3-5zM432 792l2-2 7 2-1 1-6 0-2-1zM483 792l8-3 7 0 6 3-6 2-15-2zM561 792l2 0-2 0zM406 802l8-2 6 2-6 3-6-1-2-2zM445 802l1-2 2 2-3 0zM518 802l14 0-9 6-6 1-3-2 4-5zM404 812l10-3 9 3-2 5-17-5zM442 812l7 0-7 0zM492 817l6-3 12 0 6 3 2 5-1 2-7 0-6-4-12-3zM643 817l8-3 7 0 3 3-10 1-8-1zM519 827l4-2 10 2-3 3-11-3zM427 832l1 0-1 0zM418 837l3-3 2 3-5 0zM470 842l3 0-3 0zM511 842l6-2 2 2-2 2-6-2zM555 842l7 0-3 5-10 2-6-2 12-5zM584 847l3-2 11 2-11 1-3-1zM404 852l4-2 7 2-7 1-4-1zM569 852l5-3 7 1 1 2-8 2-5-2zM479 857l19-2 4 2-4 2-13 0-6-2zM515 857l8-4 7 0 10 4-4 2-6 1-15-3zM720 857l6 0-4 1-2-1zM391 862l4-2 11 2-11 1-4-1zM606 862l1 0-1 0zM407 867l1-2 6 0 3 2-3 1-7-1zM500 867l4 0-4 0zM518 867l5-2 7 0 3 2-10 2-5-2zM569 872l5-2 3 2-3 1-5-1zM682 872l8-2 7 2-1 1-6 1-7 0-1-2zM394 877l1-2 7-1 4 3-4 2-8-2zM489 877l2 0 1 5-1 2-14-2 8-5 4 0zM522 877l2 0-1 1-1-1zM544 877l5-3 6 1 5 2-5 3-19 4-9-2 17-5zM664 877l6-2 9 2-9 1-6-1zM610 882l10 0-10 0zM697 882l5-2 7 2-7 2-5-2zM646 887l5-2 12 2-18 7-8-2 9-5zM359 892l4-2 4 2-4 1-4-1zM440 892l19 0-6 1-13-1zM469 892l5 0-5 0zM478 897l7-2 2 2-2 1-7-1zM502 897l2-2 7 2-7 1-2-1zM535 897l15 0-15 0zM399 902l6 0-6 0zM429 902l11-2 5 2-16 0zM677 902l13-2 4 2 4 5-2 2-6-1-13-6zM727 902l3 0 2 5-4 2-6 1-7-3 12-5zM375 907l1-2 8 2-8 1-1-1zM571 907l5 0-5 0zM605 907l1-3 20 3-13 2-7 0-1-2zM469 912l3-3 7 8-1 1-5-1-4-5zM546 917l9 0-6 2-3-2zM583 917l4-2 7 0 6 2-6 3-11-3zM663 917l7-4 17 9 10 10-7 0-7-2-13-1-2-2 6-5-4-4-7-1zM437 922l3-1 1 1-4 0zM566 922l2-3 6 1 3 2-3 2-8-2zM614 922l5-2 4 2-4 1-5-1zM466 927l6-2 7 2-7 1-6-1zM413 932l8 0-7 6-1-6zM607 932l12-2 8 2-14 1-6-1zM360 937l10-4 6 4-6 2-10-2zM462 937l16-2 5 2-17 5-4-5zM554 937l4 0-4 0zM580 937l1-2 12 2-6 1-7-1zM630 937l7 0-5 1-2-1zM706 937l9 0-9 0zM526 942l10-3 13 1 1 2-14 2-6 4-7 0-1-1 4-5zM611 942l6 0-6 0zM655 942l8 0-8 0zM452 947l7-1 7 5 12-2 8 3-8 3-6-1-13-2-7-5zM583 947l4-2 10 2-10 6-8-1 4-5zM634 947l4-3 4 3-8 0zM671 947l6-3 6 1 7 6 9 1-3 2-13-2-12-5zM617 952l4 0-2 2-2-2zM713 952l9-2 16 2-16 1-9-1zM742 952l5-2 6 2-6 1-5-1zM361 957l5 0-5 0zM495 957l5 0-5 0zM554 957l1-2 16 2-3 2-14-2zM634 957l6 0-3 5-11 6-4-1 12-10zM399 962l9-3 13 0 15 8-15 1-22-6zM442 962l4-2 6 2-6 2-4-2zM505 962l5-2 3 2-3 1-5-1zM650 962l20-2 7 2 5 5 1 5 13 2 6-2 19 5-12 2-13-2-13 1-6-4-11-2 4-6-20-4zM459 967l7 0 12-4 11 4-4 1-26-1zM514 967l3-2 6 2-9 0zM534 967l2-3 6 0 6 3-6 1-8-1zM381 972l8-1 3 1-3 4-7 1-1-5zM574 972l1 0 3 5-10 2-9-2 15-5zM589 972l5-1 14 6-2 1-6 1-6-1-5-1 0-5zM414 977l1 0-1 0zM633 977l5-2 3 2-3 1-5-1zM723 977l24-3 10 8-3 1-13-4-18-2zM773 977l6-2 8 2-8 1-6-1zM425 982l9-2 5 2-5 5 1 5 4 5-5 3-10 2 22 1 7 2 11-3-3-5 5-2 19 1 13-4 6 0 13 4 19-1 13 6 4-4-4-3-7 0-4-2 3-5 8 1 6 6 19 1 13-4 7-1 12-5 7-1 13 6 32 1 6 4 6 1 13-3 7-4 17 3 8 4 13-3 6 3 39 0 4 6 0 5 6 0-3-5 9 0-3 5 6 4 6 2 7-1 8 10 9 5-4 3-20-1-6-2-6 1-3 4 3 1 19 1 8 3-8 4-9 1 2 1 7 0 6 3 13-1 3 2-3 3-13-3-6 2-19 5-20 8-44 3-7 3-13-1-12 5-13-3-19 3-13 0-13 6-6 1-13-5-7 0-12 7-7 0-6-4-5 0 3-5-5-1-12 1-13-4-7-1-19 3-13-1-12 2-7-1-13-4 0 6 4 5-6 5 11 5-2 1-13 1-19-4-13 0-5-3 5-5 13 2 6-5 6-2-12-9-13-4-6 1-6 2 0 5-7 0-19-6-7 7-6-1-13-5 6-5-12-3-7-4-11-3 1-5-3-4-6 2-6-3 0-3 6-1 6 3 5-4-11-11-20-4 20-4 13 1 7-7 6-2 12 3 5-6-5-5-12-2-2-3 2-2 19 1 19-2 6 1 7-4 4-4zM472 1001l10 1-10-1zM523 1006l-3 1 7 0-4-1zM606 995l-1 2 3 0-2-2zM613 1061l-3 1 9 1 7-1-7-2-6 1zM741 998l-5 4 18 3 18-3-12-4-19 0zM779 1046l-1 1 1 0 7 2 6-2-13-1zM792 1012l-4 5 4 1 2-1-2-5zM459 1081l-2 1 2 2 3-2-3-1zM376 1010l-4 2 4 3 4-3-4-2zM382 1021l2 1-2-1zM395 1006l7 1-7-1zM402 996l-4 1 4 1 12 0 4-1-4-3-12 2zM523 1060l-3 2 3 1 19 1 5-2-24-2zM741 1051l0 1 19 7 6-3 4-4-10-2-19 1zM408 1047l-3 0 3 0zM490 982l4 0-3 5-6 1-12-1 12-2 5-3zM668 982l8 0-6 1-2-1zM660 987l4-3 3 3-7 0zM719 987l3 0-3 0zM765 987l3 0-3 0zM798 997l2 0-2 0zM810 1007l17 0-3 5 1 5-4 0-4-5-7-5zM846 1012l10-2 3 2-3 3-10-3zM323 1027l4 0-4 0zM845 1042l11-3 4 3-10 1-5-1zM322 1052l3-2 6-1 6 3-6 1-9-1zM339 1062l5-2 4 2-9 0zM360 1062l3-2 11 2-4 0-7 5-3-5zM790 1062l2-2 7 2-7 1-2-1zM398 1072l4-2 1 2-5 0zM719 1072l3-3 15 3-18 0zM778 1072l2 0-2 0zM496 1077l2-2 7 2-9 0zM746 1077l5 0-5 0zM540 1082l2-2 7 0 2 2-11 0zM673 1082l4-3 4 3-8 0zM705 1082l5 0-5 0zM349 1087l8-2 8 2-16 0zM592 1087l2-4 8 4 18 5-7 3-13-1-6-2-2-5zM528 1092l8 0-8 0zM578 1092l12 0-9 2-3-2zM657 1092l7-2 8 2 3 5-5 3-19 0-6 3-7 1-5-2-3-5 8-3 13 0 6-2zM696 1092l6-3 10 3-3 2-7 0-6-2zM753 1092l9 0-9 0zM372 1097l4-3 6 0 7 3-7 3-12 2-4 0 6-5zM478 1097l7-3 8 3-8 1-7-1zM432 1102l2-2 6 0 2 2-2 5-8-5zM463 1102l3-5 6 2 13 7 25-6 7 0 4 2-4 2-7 1-6 5-13 2-19-4-9-6zM560 1102l2-2 6 2 6-3 8 3-8 1-6 5-9-1 1-5zM678 1102l11 0-6 1-5-1zM585 1107l2-3 7-1 6 4-6 2-9-2zM656 1107l5 0 0 5 15 5-6 2-12 0-7-3-20-4 7-3 7 0 11-2zM421 1112l6-3 4 3-4 1-6-1zM719 1112l12 0-12 0zM457 1117l2-2 4 2 4 5-10 0 0-5zM419 1122l8-2 10 2-18 0zM529 1122l1 0-1 0zM560 1122l21 1 3 4 16 8 6 0 7-5 13-3 19 3 13 5 13 2-13 1-7 3-6-1-7-4-12-2-13 2-7 6-6 1-13-6-6 0-7-4-9-1-3-5-7 1-8-1 13-5zM476 1127l2-2 12 2-5 1-9-1zM686 1132l4-4 6 0 6 4 2 5-2 2-16-7zM746 1132l9 0-9 0zM502 1137l4 0-4 0zM547 1137l6 0-4 3-2-3zM688 1142l3 0-3 0zM664 1157l6-3 4 3-4 1-6-1zM448 1162l5-2 4 2-4 1-5-1zM484 1162l7-2 10 2-10 1-7-1zM637 1162l14-2 4 2-10 1-8-1zM523 1167l7-2 4 2-4 1-7-1zM477 1172l1-2 8 2-9 0zM556 1177l7 0-1 1-6-1zM572 1182l11 0-11 0z"/>
<path fill="#a8ecf4" fill-rule="evenodd" stroke="#10e8f0" stroke-width="2.60" d="M433 287l7 2 1 3 5 4 14 6-7 2-19-1-3-1 5-5-6-5 3-5zM454 442l6 0-6 0zM413 467l5 0-5 0zM431 507l11 0-11 0zM503 532l2 0-2 0zM453 557l8 5-16 0 8-5zM394 562l8-2 4 2-4 2-8-2zM465 567l2 0-2 0zM420 572l7-3 4 3-4 1-7-1zM521 582l6 0-4 1-2-1zM400 587l2-2 8 2-10 0zM462 597l10-2 15 2-15 3-10-3zM509 612l5 0-5 0zM540 632l10 0-10 0zM478 672l7 0-7 0zM578 702l4 0-4 0zM471 712l2 0-2 0zM386 737l4 0-4 0zM418 747l28-1 4 1-4 1-28-1zM487 792l11 0-11 0zM408 802l9 0-3 1-6-1zM412 812l4 0-4 0zM573 852l4 0-4 0zM519 857l11-2 4 2-4 1-11-1zM523 867l1 0-1 0zM686 872l6 0-6 0zM400 877l3 0-3 0zM650 887l8 0-7 1-1-1zM688 907l2-5 4 5-6 0zM720 907l8 0-8 0zM586 917l10 0-2 1-8-1zM572 922l3 0-3 0zM676 922l8 0-1 4-10 1 3-5zM368 937l2 0-2 0zM532 942l9 0-9 0zM587 947l2 0-2 0zM675 947l5 0-5 0zM471 952l9 0-9 0zM407 962l14-1 9 6-9 0-14-5zM656 962l14 0-14 0zM541 967l2 0-2 0zM677 967l0 5 0-5zM596 977l4-2 3 2-7 0zM688 977l4 0-4 0zM705 977l10 0-10 0zM735 977l7 0-7 0zM779 977l2 0-2 0zM430 982l5 0-1 1-4-1zM611 987l2 0-2 0zM394 992l8-2 8 2-8 2-8-2zM617 992l2-1 9 1 9 10 14 0 13 6 6-1 7-5 13 2 12-1 7-3 7 2-3 5 2 3 13-4 11 1 0 5 2 2 6-1 7-4 6 0 4 3-15 5 4 5-2 5-14 5 17 2 4 3 3 5 5 1 3 4-15 0-20-3-6 1-1 2 1 2 5 8-5 3-13 1-6 2-13-2-13 0-13 5-6 0-19 3-13 5-6 1-16-3 1-5 2-1 6 0 7 2 6 0 3-1-1-5-8-3-32 0-20 5-12-4-13 0-19-5-7 0-6 4-17 3 15 5-17 1-8-1 6-5-5-2-6-1-7 1-6 3-6 0-26-11-19 10-10 0 7-5-4-4-16-1 16-2 7-3-13-3-13 1-2 2-1 5-10 0-3 0 4-10-7-1-13 3-3-2-1-5 4-4 19 1 12-2-8-5 13-5-13-5 9-2 13-6 6-5 26 2 26 8 11-2 7-5 14-5-2-5 8-2 7 2 6 4 26 1-1 1-25-1-4 5 10 2 13 0 6 2 8-4 12-3 12-1 7-3 3 2-4 5 7 2 7 0 6-7 13 3 6-1 5-2 2-5-9-5zM645 1011l6 3 6-2-6-2-6 1zM658 1056l-13 3-5 3 11 2 6-2 1-4 8-1-8-1zM446 1046l-2 1 2 1 6-1-6-1zM498 1051l7 1-7-1zM471 997l2 0-2 0zM559 997l10 0-7 2-3-2zM647 997l4-3 10 3-10 4-4-4zM682 997l8-3 14 3-2 1-12 0-8-1zM406 1002l3 0-3 0zM766 1017l7-3 6 0 3 3-10 10 3 5 11 5 0 5-13 1-4-1-3-6-6-2-2-2 1-5-2-5 3-1 6-4zM361 1027l2-2 6 2-6 1-2-1zM808 1027l8 0-8 0zM744 1062l4 0-4 0zM459 1077l7-4 6 0 5 4-5 4-6-1-7-3zM590 1077l4-1 1 1-5 0zM438 1082l2-2 6 0 4 2-4 1-8-1zM599 1092l1-2 6 0 6 2-6 2-7-2zM701 1092l6 0-6 0zM375 1097l10 0-3 1-7-1zM634 1097l30-5 7 5-7 2-13 0-6 2-7 0-4-4zM477 1107l4 0-4 0zM493 1107l5-2 6 0 3 2-9 2-5-2zM589 1107l5-2 3 2-3 1-5-1zM637 1112l21-1 15 6-9 2-6-1-7-5-14-1zM584 1132l4 0-1 1-3-1zM613 1132l6-2 13-1 13 2 11 6-5 1-13-4-19 0-6-2zM689 1132l7-2 3 2-3 2-7-2zM490 1162l2 0-2 0zM647 1162l5 0-5 0z"/>
<path fill="#b4fa98" fill-rule="evenodd" stroke="#80ff80" stroke-width="2.60" d="M450 302l5 0-5 0zM400 562l2 0-2 0zM467 597l8 0-3 1-5-1zM439 747l3 0-3 0zM523 857l7 0-7 0zM605 1007l2 0-1 1-1-1zM621 1007l11-4 17 4-17 5 11 5-4 5 6 5 4 0 1-5 4-5 10-3 6 1 13-2 13 5 6 9-6 0-7 5 23 5-13 10 3 2 7 0 6-5 4 3-4 5-19 6-19-1-19-7-23 7-9 0-13-9-7 0-16 4-3 5-25-1-13 2-5-1 3-5 0-5-5-2-6 0-6 0-7 3-6 0-7-2-12 2-13-3-7 0-11 7-1 4-13-4 8-5-15-5-6 0-6 3-37-3 24-6 13 2 12-4 20 0 3-2-14-5 30-10 7 5 6 1 6-1 4-5 9-6 5 1 1 5 7-5 38 5-6-5 6-5 19 7 7 4 12 1 4-2 0-5 11-5zM626 1016l-3 1 3 1 1-1-1-1zM670 1019l-3 3 3 1 10-1-3-4-7 1zM690 1051l2 1-2-1zM491 1030l-3 2 3 1 13-1-13-2zM701 1007l2 0-2 0zM403 1017l11-3 7 3-7 3-11-3zM445 1017l8-3 6 3-6 2-8-2zM699 1017l10-2 8 2-8 2-10-2zM731 1022l10-2 3 2-3 2-7 0-3-2zM438 1027l8-2 5 2-5 1-8-1zM366 1037l10 0-6 1-4-1zM743 1042l4-2 2 2-6 0zM467 1057l5-2 7 2-7 1-5-1zM605 1057l6 0-6 0zM625 1072l1 0-1 0zM463 1077l3-2 8 2-8 1-3-1zM605 1092l2 0-2 0zM637 1097l27-2 3 2-22 1-8-1zM660 1117l9 0-9 0zM617 1132l15-2 10 2-4 1-21-1z"/>
<path fill="#e0fa80" fill-rule="evenodd" stroke="#f0f000" stroke-width="2.60" d="M628 1007l4-2 7 2-7 1-4-1zM521 1022l21-5 7 1 13 5 19 0 6 2 13 9 10-2 3-5 17 5-9 5 1 5-3 1-32-7-7 1-3 5-3 0-6-2-26-2-3-6-14-5-4-5zM549 1030l-4 2 4 2 25 1 4-3-4-2-12-2-13 2zM592 1022l9 0-7 1-2-1zM674 1027l9-3 5 3-5 2-6-1-3-1zM497 1037l23 5-10 1-23-1 4-1 6-4zM422 1042l5-2 8 2-8 1-5-1zM532 1042l4-3 6 3-10 0zM637 1042l8-2 7 2-4 5-10 2-10-2 9-5zM681 1047l6 0-6 0z"/>
<path fill="#ffd890" fill-rule="evenodd" stroke="#ff8000" stroke-width="2.60" d="M584 1032l3-2 4 2-4 1-3-1z"/>
</g></g>
<ellipse cx="220" cy="134.4" rx="16.0" ry="16.5" fill="#00008a"/>
<ellipse cx="220" cy="134.4" rx="14.4" ry="14.8" fill="#0a28f0"/>
<ellipse cx="220" cy="134.4" rx="12.8" ry="13.2" fill="#20a0ff"/>
<ellipse cx="220" cy="134.4" rx="11.5" ry="11.9" fill="#60e8b0"/>
<ellipse cx="220" cy="134.4" rx="10.2" ry="10.6" fill="#70f050"/>
<ellipse cx="220" cy="134.4" rx="8.0" ry="8.2" fill="#c8f820"/>
<ellipse cx="220" cy="134.4" rx="6.7" ry="6.9" fill="#f8e000"/>
<ellipse cx="220" cy="134.4" rx="5.1" ry="5.3" fill="#ff8000"/>
<ellipse cx="220" cy="134.4" rx="3.2" ry="3.3" fill="#d81000"/>
<path fill="#00087a" d="M786.1 291.8L789.3 287.9H792.0L795.2 291.8ZM744.9 538.3H758.0L753.4 542.2H749.4ZM712.4 239.7L717.5 237.3L722.6 239.7L717.5 242.2ZM833.5 445.0L838.5 441.9L841.9 445.0L838.5 448.2ZM621.1 264.8L626.5 261.7L631.8 264.8L626.5 268.0ZM650.2 173.3L655.6 170.5L661.0 173.3L655.6 176.1ZM813.4 180.9L815.4 179.5H822.6L824.6 180.9L822.6 182.2H815.4ZM834.3 396.0L836.3 394.6H839.9L841.9 396.0L839.9 397.3H836.3ZM719.4 104.6L724.6 101.5L729.8 104.6L724.6 107.7ZM813.4 308.9H821.6L818.7 314.0H816.3ZM592.5 513.6L599.3 510.6L606.1 513.6L599.3 516.5ZM725.6 312.6L731.0 309.5L736.4 312.6L731.0 315.6ZM569.1 93.1L571.2 91.3H575.4L577.5 93.1L575.4 94.9H571.2ZM762.5 475.7L766.3 471.0H769.5L773.2 475.7ZM586.0 503.4L588.1 501.2H592.2L594.2 503.4L592.2 505.6H588.1ZM701.3 541.9L703.7 539.7H708.5L710.9 541.9L708.5 544.2H703.7ZM693.3 551.2L695.4 549.2H699.6L701.7 551.2L699.6 553.3H695.4ZM705.7 402.5L707.9 400.1H712.2L714.3 402.5L712.2 404.9H707.9ZM783.0 365.8L786.3 360.8H789.2L792.5 365.8ZM626.3 156.9L629.4 154.7H635.6L638.7 156.9L635.6 159.1H629.4ZM600.5 487.5L603.8 485.7H610.4L613.7 487.5L610.4 489.3H603.8ZM599.4 231.3L601.4 230.0H607.1L609.1 231.3L607.1 232.7H601.4ZM654.0 129.4H666.0L661.8 134.5H658.2ZM652.6 281.8L654.6 279.9H658.7L660.7 281.8L658.7 283.7H654.6ZM646.4 478.9H658.3L654.2 483.7H650.6ZM779.2 329.6L783.1 324.4H786.5L790.5 329.6ZM635.3 591.3H647.4L643.1 595.3H639.5ZM785.8 201.1L792.5 198.4L799.2 201.1L792.5 203.8ZM805.6 129.6H819.5L814.6 134.6H810.5ZM805.0 314.1L808.3 310.1H811.1L814.3 314.1ZM701.4 406.8L707.9 403.8L714.4 406.8L707.9 409.8ZM585.2 448.0L590.4 445.0L595.6 448.0L590.4 451.0ZM793.2 398.6H803.2L799.7 402.7H796.7ZM575.2 465.6L581.5 463.3L587.7 465.6L581.5 467.9ZM810.7 174.3L817.2 171.9L823.8 174.3L817.2 176.6ZM570.1 383.9L574.3 379.3H577.9L582.0 383.9ZM657.1 597.2L660.2 593.2H662.9L666.1 597.2ZM648.7 239.7L653.1 236.7L657.5 239.7L653.1 242.8ZM598.1 461.6L602.2 458.8L606.3 461.6L602.2 464.4ZM660.6 569.5L663.9 567.0H670.6L674.0 569.5L670.6 572.0H663.9ZM705.9 405.6H719.5L714.7 409.7H710.6ZM636.0 348.1L638.0 346.8H643.8L645.8 348.1L643.8 349.5H638.0ZM600.1 261.9L602.5 259.5H607.4L609.9 261.9L607.4 264.4H602.5ZM576.7 384.9L581.0 380.3H584.7L589.0 384.9ZM638.2 453.2L640.2 451.4H648.8L650.8 453.2L648.8 454.9H640.2ZM715.4 195.8H727.7L723.4 200.1H719.7ZM720.2 544.2H730.5L726.9 547.7H723.8ZM607.8 477.4L610.9 472.6H613.5L616.6 477.4ZM805.7 238.5L808.7 233.6H811.3L814.3 238.5ZM732.7 540.0L737.0 535.8H740.7L745.0 540.0ZM732.0 346.7L735.3 341.8H738.2L741.5 346.7ZM771.3 432.6L778.1 429.8L784.8 432.6L778.1 435.4ZM760.3 461.2H772.6L768.3 465.8H764.6ZM761.1 238.9L767.7 235.8L774.3 238.9L767.7 241.9ZM646.4 134.4L651.9 131.7L657.4 134.4L651.9 137.1ZM687.0 180.3H698.2L694.3 183.9H690.9ZM729.8 479.1L732.8 473.7H735.3L738.3 479.1ZM699.1 183.7L702.3 181.3H708.6L711.7 183.7L708.6 186.0H702.3ZM615.5 539.9L618.4 537.7H624.3L627.2 539.9L624.3 542.2H618.4ZM665.0 204.0L669.5 200.3H673.3L677.8 204.0ZM801.5 570.8H811.4L807.9 574.6H804.9ZM615.0 300.1L618.3 297.9H625.0L628.3 300.1L625.0 302.2H618.3ZM594.5 320.9L596.9 318.8H601.6L604.0 320.9L601.6 323.1H596.9ZM702.5 474.9L705.0 472.6H709.9L712.4 474.9L709.9 477.2H705.0ZM765.6 354.7L767.6 352.9H777.2L779.2 354.7L777.2 356.5H767.6ZM750.6 211.9L752.6 210.1H760.8L762.8 211.9L760.8 213.6H752.6ZM824.1 264.5L829.1 261.4L834.1 264.5L829.1 267.6ZM801.0 310.8L803.2 308.5H807.5L809.7 310.8L807.5 313.1H803.2ZM833.3 400.2L835.3 398.9H839.9L841.9 400.2L839.9 401.6H835.3ZM601.5 429.4H610.0L607.0 433.6H604.4ZM574.8 562.9H583.7L580.6 568.2H577.9ZM563.1 371.6L567.9 366.6H572.1L577.0 371.6ZM765.2 145.3L769.4 140.8H773.0L777.2 145.3ZM741.8 615.0L746.3 612.0L750.9 615.0L746.3 618.0ZM757.6 315.7L760.6 313.2H766.6L769.6 315.7L766.6 318.2H760.6ZM699.2 298.8L703.8 294.9H707.8L712.3 298.8ZM577.1 456.4L581.5 453.8L585.9 456.4L581.5 459.1ZM640.1 579.2L643.1 574.3H645.7L648.7 579.2ZM556.5 491.2L559.7 487.0H562.9L566.6 491.2ZM598.4 110.8L602.8 106.2H606.6L611.1 110.8ZM813.2 183.4L815.2 181.7H819.9L821.9 183.4L819.9 185.0H815.2ZM688.1 326.9L690.1 325.1H698.8L700.8 326.9L698.8 328.7H690.1ZM628.5 390.0L632.8 386.1H636.5L640.9 390.0ZM680.8 328.2L683.7 324.2H686.1L688.9 328.2ZM622.2 173.2L628.5 170.8L634.7 173.2L628.5 175.6ZM690.9 113.5L696.8 110.7L702.6 113.5L696.8 116.4ZM821.7 310.2L825.1 304.9H828.0L831.4 310.2ZM832.3 382.8H841.9L840.2 386.3H836.6ZM750.7 349.2L756.2 346.6L761.6 349.2L756.2 351.8ZM777.9 541.0L779.9 539.1H788.4L790.4 541.0L788.4 542.8H779.9ZM826.7 85.5H837.1L833.4 90.9H830.3ZM580.2 551.3L586.3 548.5L592.3 551.3L586.3 554.0ZM568.4 407.1L570.4 405.4H574.7L576.7 407.1L574.7 408.8H570.4ZM706.8 291.4L711.4 288.3L715.9 291.4L711.4 294.6ZM733.7 329.1L735.7 327.7H741.5L743.5 329.1L741.5 330.5H735.7ZM704.3 316.4L706.8 313.9H711.7L714.2 316.4L711.7 319.0H706.8ZM797.0 159.3H810.7L805.9 164.8H801.8ZM611.0 426.8L614.3 421.5H617.0L620.2 426.8ZM818.4 484.4L822.8 482.1L827.1 484.4L822.8 486.7ZM781.2 205.0L784.1 203.0H789.9L792.8 205.0L789.9 207.0H784.1ZM574.6 147.0H583.0L580.0 152.5H577.5ZM799.7 431.7L803.2 427.1H806.2L809.7 431.7ZM722.4 550.1L724.4 548.7H734.1L736.1 550.1L734.1 551.6H724.4ZM764.9 457.2L766.9 455.7H773.8L775.8 457.2L773.8 458.7H766.9ZM608.0 286.1L613.0 283.0L618.1 286.1L613.0 289.2ZM601.2 503.1L606.2 500.7L611.1 503.1L606.2 505.5ZM709.5 217.8H722.1L717.7 222.2H713.9ZM711.3 298.5L715.6 295.5L719.8 298.5L715.6 301.5ZM682.6 539.1L686.5 533.8H689.8L693.8 539.1ZM798.0 247.4H806.2L803.3 251.3H800.8ZM712.3 312.9H721.9L718.5 318.3H715.6ZM667.0 342.4L669.0 340.8H675.2L677.2 342.4L675.2 344.1H669.0ZM812.9 392.8L814.9 391.1H822.9L824.9 392.8L822.9 394.4H814.9ZM808.4 454.1H816.5L813.7 458.9H811.2ZM730.5 199.0L737.3 196.0L744.0 199.0L737.3 202.0ZM800.4 574.6L803.2 570.6H805.7L808.5 574.6ZM680.6 579.4L682.6 577.6H691.0L693.0 579.4L691.0 581.2H682.6ZM781.2 87.1L783.2 85.3H791.3L793.3 87.1L791.3 88.9H783.2ZM807.7 95.4H820.3L815.9 99.1H812.1ZM601.1 101.8H613.4L609.1 106.0H605.4ZM582.7 103.7L584.7 101.9H589.1L591.1 103.7L589.1 105.5H584.7ZM703.1 229.4L709.3 226.4L715.6 229.4L709.3 232.3ZM717.0 127.3L720.0 125.0H726.0L729.0 127.3L726.0 129.5H720.0ZM833.7 185.4H841.9L841.0 189.8H837.6ZM825.7 215.8L829.3 210.5H832.3L835.9 215.8ZM657.9 298.8L661.2 296.8H667.9L671.2 298.8L667.9 300.8H661.2ZM654.6 481.3L657.9 479.1H664.5L667.8 481.3L664.5 483.6H657.9ZM817.1 462.3L819.8 460.3H825.3L828.1 462.3L825.3 464.2H819.8ZM742.5 114.6L745.0 112.0H749.9L752.4 114.6L749.9 117.1H745.0ZM654.9 151.1L659.0 147.9L663.2 151.1L659.0 154.2ZM671.8 482.8L676.1 478.0H679.8L684.1 482.8ZM792.0 275.1L794.0 273.4H803.4L805.4 275.1L803.4 276.7H794.0ZM602.1 129.3L607.9 127.0L613.6 129.3L607.9 131.6ZM823.9 379.3L827.3 374.6H830.1L833.5 379.3ZM591.7 485.1L594.5 483.1H600.2L603.0 485.1L600.2 487.2H594.5ZM762.4 120.7L764.9 118.0H769.9L772.4 120.7L769.9 123.3H764.9ZM820.1 451.7L822.1 449.9H829.2L831.2 451.7L829.2 453.6H822.1ZM753.4 320.4H766.0L761.6 325.2H757.8ZM719.6 83.0H732.2L727.8 87.2H724.0ZM806.8 552.3L809.7 550.0H815.4L818.3 552.3L815.4 554.6H809.7ZM825.7 580.3L828.2 577.6H833.3L835.9 580.3L833.3 583.1H828.2ZM750.7 151.3L755.1 146.4H758.8L763.1 151.3ZM793.9 359.3L796.1 357.1H800.7L803.0 359.3L800.7 361.6H796.1ZM593.6 459.2L596.2 456.5H601.3L603.8 459.2L601.3 461.9H596.2ZM824.4 412.6L829.2 407.6H833.2L837.9 412.6ZM636.8 617.3L643.7 614.3L650.6 617.3L643.7 620.3ZM575.5 408.2H584.8L581.6 413.1H578.7ZM682.1 211.8L685.2 209.3H691.3L694.4 211.8L691.3 214.3H685.2ZM576.1 496.3L581.9 493.3L587.7 496.3L581.9 499.3ZM566.9 580.1L569.4 577.6H574.5L577.0 580.1L574.5 582.7H569.4ZM789.9 303.6L793.4 301.1H800.3L803.8 303.6L800.3 306.2H793.4ZM734.1 111.4L737.2 106.9H739.9L743.1 111.4ZM593.4 141.8L600.2 139.1L607.1 141.8L600.2 144.5ZM804.1 254.6L808.0 249.5H811.3L815.3 254.6ZM689.0 482.3L691.0 480.4H695.1L697.1 482.3L695.1 484.2H691.0ZM683.7 538.9H694.2L690.5 543.6H687.4ZM813.9 210.3L815.9 208.4H824.4L826.4 210.3L824.4 212.2H815.9ZM588.4 145.8L591.8 143.3H598.8L602.3 145.8L598.8 148.3H591.8ZM610.1 459.1L612.1 457.3H620.4L622.4 459.1L620.4 461.0H612.1ZM801.7 88.2H815.6L810.7 92.3H806.6ZM594.1 517.8L596.1 516.3H605.1L607.1 517.8L605.1 519.3H596.1ZM827.8 237.1L830.0 234.7H834.5L836.8 237.1L834.5 239.4H830.0ZM783.6 94.1H792.4L789.3 98.6H786.7ZM831.9 101.4L833.9 99.5H839.9L841.9 101.4L839.9 103.3H833.9ZM821.6 187.2L825.1 184.7H832.0L835.5 187.2L832.0 189.8H825.1ZM802.9 465.5L807.2 463.2L811.4 465.5L807.2 467.7ZM581.0 458.3L585.4 454.0H589.2L593.6 458.3ZM771.5 294.5L774.3 289.4H776.8L779.7 294.5ZM678.7 293.8L684.3 291.5L689.8 293.8L684.3 296.2ZM661.2 569.9L667.0 567.6L672.8 569.9L667.0 572.3ZM715.8 97.8L719.0 95.4H725.4L728.6 97.8L725.4 100.1H719.0ZM701.9 482.0L704.8 478.4H707.2L710.0 482.0ZM723.7 245.2L727.7 242.7L731.7 245.2L727.7 247.7ZM683.7 88.9L689.7 86.1L695.7 88.9L689.7 91.7ZM623.3 134.1L626.2 130.1H628.8L631.7 134.1ZM794.6 297.6L796.6 296.3H805.7L807.7 297.6L805.7 299.0H796.6ZM711.0 355.5L713.3 353.6H717.9L720.2 355.5L717.9 357.4H713.3ZM826.4 451.4L828.4 449.8H835.4L837.4 451.4L835.4 452.9H828.4ZM682.7 557.8H696.2L691.5 562.1H687.4ZM774.9 317.8H784.3L781.0 321.3H778.2ZM655.3 354.5H665.3L661.8 358.8H658.8ZM686.1 428.3L690.6 425.4L695.0 428.3L690.6 431.1ZM812.9 183.5L814.9 181.8H823.0L825.0 183.5L823.0 185.3H814.9ZM586.3 598.0L591.0 595.7L595.8 598.0L591.0 600.3ZM692.8 242.7L699.5 239.5L706.2 242.7L699.5 246.0ZM679.9 578.3L684.4 573.3H688.2L692.7 578.3ZM741.7 405.8L744.3 404.0H749.5L752.1 405.8L749.5 407.7H744.3ZM827.4 335.4L830.7 333.4H837.2L840.5 335.4L837.2 337.3H830.7ZM560.6 110.6L563.0 108.1H567.6L569.9 110.6L567.6 113.1H563.0ZM751.9 447.2H762.5L758.8 450.9H755.7ZM770.9 477.0L772.9 475.5H780.8L782.8 477.0L780.8 478.5H772.9ZM662.3 482.9H671.5L668.3 488.3H665.5ZM787.2 124.1H796.9L793.5 129.5H790.6ZM679.0 322.1H692.5L687.8 326.0H683.7ZM588.5 575.8H601.5L596.9 581.2H593.0ZM641.6 601.5L643.8 598.8H648.1L650.3 601.5L648.1 604.2H643.8ZM821.9 345.1H833.7L829.6 349.5H826.0ZM697.7 550.4L699.7 548.6H707.3L709.3 550.4L707.3 552.3H699.7ZM812.6 363.4L815.6 361.0H821.7L824.8 363.4L821.7 365.8H815.6ZM751.6 242.3H762.6L758.8 246.7H755.5ZM626.7 159.6L630.2 157.6H637.1L640.6 159.6L637.1 161.7H630.2ZM576.5 81.7H585.4L582.3 87.2H579.6ZM830.9 300.3H839.4L836.4 304.4H833.9ZM729.3 543.8H740.2L736.4 548.1H733.1ZM801.1 573.2L808.0 570.1L814.8 573.2L808.0 576.3ZM670.1 93.8L672.1 92.2H679.5L681.5 93.8L679.5 95.3H672.1ZM658.7 139.5L663.5 135.0H667.6L672.4 139.5ZM703.0 555.8L707.1 550.6H710.5L714.6 555.8ZM807.9 359.4L812.1 356.8L816.3 359.4L812.1 361.9ZM687.3 150.7L693.2 148.1L699.1 150.7L693.2 153.2ZM754.8 344.1L756.8 342.8H762.2L764.2 344.1L762.2 345.4H756.8ZM824.0 88.1L826.3 85.7H830.8L833.0 88.1L830.8 90.5H826.3ZM825.1 241.3L829.8 237.0H833.8L838.5 241.3ZM736.4 572.5L739.0 570.2H744.3L746.9 572.5L744.3 574.9H739.0ZM811.7 126.2L814.3 123.5H819.4L822.0 126.2L819.4 128.9H814.3ZM586.3 119.6L589.1 115.8H591.5L594.3 119.6ZM557.6 553.3L562.7 550.7L567.9 553.3L562.7 555.9ZM826.4 230.0L831.0 224.9H835.0L839.6 230.0ZM720.3 267.6L723.7 265.5H730.3L733.6 267.6L730.3 269.7H723.7ZM797.0 372.6H809.9L805.4 376.4H801.5ZM755.6 108.1L757.6 106.9H762.8L764.8 108.1L762.8 109.4H757.6ZM756.5 589.5L758.5 587.9H766.6L768.6 589.5L766.6 591.1H758.5ZM789.2 165.2L791.3 162.8H795.5L797.7 165.2L795.5 167.7H791.3ZM557.4 374.0L559.4 372.8H568.3L570.3 374.0L568.3 375.3H559.4ZM601.9 138.9H614.1L609.8 143.1H606.1ZM689.6 562.4L692.3 559.8H697.6L700.3 562.4L697.6 565.0H692.3ZM749.4 91.9H758.9L755.5 96.2H752.7ZM578.7 264.4L585.0 261.9L591.3 264.4L585.0 266.9ZM763.5 227.5L765.5 226.1H769.6L771.6 227.5L769.6 228.8H765.5ZM790.1 115.7L794.9 113.1L799.6 115.7L794.9 118.2ZM574.8 373.2L577.5 370.8H582.8L585.4 373.2L582.8 375.7H577.5ZM621.4 377.1L623.6 374.4H628.1L630.4 377.1L628.1 379.9H623.6ZM810.3 308.0H822.5L818.2 312.2H814.6ZM815.5 438.6L821.6 435.5L827.7 438.6L821.6 441.7ZM665.9 552.7H678.7L674.2 557.8H670.4ZM716.1 295.5L718.1 293.8H726.2L728.2 295.5L726.2 297.1H718.1ZM780.4 497.2L783.3 492.2H785.7L788.6 497.2ZM577.6 550.9L579.6 549.7H585.8L587.8 550.9L585.8 552.2H579.6ZM793.3 166.0L796.6 162.3H799.4L802.7 166.0ZM725.4 296.4H737.5L733.2 301.2H729.6ZM779.0 308.0L781.3 305.5H786.0L788.3 308.0L786.0 310.4H781.3ZM666.4 562.8L668.4 561.4H677.1L679.1 562.8L677.1 564.1H668.4ZM765.4 301.6L770.0 298.9L774.6 301.6L770.0 304.3ZM787.9 290.9L789.9 289.1H798.5L800.5 290.9L798.5 292.6H789.9ZM775.8 342.9L778.2 341.1H783.0L785.4 342.9L783.0 344.8H778.2ZM790.6 554.4L792.6 552.6H802.0L804.0 554.4L802.0 556.3H792.6ZM670.6 489.3L672.6 487.9H682.2L684.2 489.3L682.2 490.7H672.6ZM826.6 458.4L828.6 456.9H833.1L835.1 458.4L833.1 459.9H828.6ZM556.5 380.8L561.3 378.2L568.3 380.8L561.3 383.3ZM750.5 493.2H759.6L756.4 498.3H753.7ZM776.3 94.0H785.2L782.1 97.6H779.4ZM790.3 259.1L792.3 257.7H801.9L803.9 259.1L801.9 260.4H792.3ZM735.6 351.0L739.7 348.1L743.8 351.0L739.7 353.8ZM656.1 563.2L659.8 557.9H663.0L666.7 563.2ZM665.4 365.4L670.5 362.2L675.5 365.4L670.5 368.6ZM734.0 263.9L737.8 258.6H741.1L744.9 263.9ZM649.1 135.0L651.9 133.0H657.4L660.1 135.0L657.4 137.0H651.9ZM585.8 530.7H599.8L594.9 534.4H590.7ZM569.8 468.8L573.4 464.0H576.5L580.1 468.8ZM830.9 594.0L833.8 591.3H839.0L841.9 594.0L839.0 596.8H833.8ZM743.1 236.6L745.1 235.0H753.8L755.8 236.6L753.8 238.2H745.1ZM816.9 89.7H826.6L823.2 94.5H820.3ZM699.5 545.4L701.5 543.8H707.4L709.4 545.4L707.4 547.0H701.5ZM666.2 432.2H677.0L673.2 437.1H670.0ZM718.2 114.3L720.2 112.8H724.7L726.7 114.3L724.7 115.8H720.2ZM778.9 409.9L781.5 407.3H786.5L789.0 409.9L786.5 412.5H781.5ZM579.5 571.3L581.5 569.5H590.4L592.4 571.3L590.4 573.1H581.5ZM706.7 213.5L713.7 211.2L720.7 213.5L713.7 215.9ZM799.3 556.8L805.7 554.1L812.1 556.8L805.7 559.5ZM766.4 453.5L769.2 451.3H774.8L777.6 453.5L774.8 455.7H769.2ZM615.7 580.2L618.1 577.8H622.9L625.3 580.2L622.9 582.6H618.1ZM715.5 286.5L719.8 282.6H723.5L727.8 286.5ZM744.1 576.1L746.1 574.6H750.1L752.1 576.1L750.1 577.6H746.1ZM716.8 310.6L718.8 308.9H724.8L726.8 310.6L724.8 312.3H718.8ZM814.3 597.0L817.3 594.8H823.2L826.2 597.0L823.2 599.1H817.3ZM684.0 295.4L687.2 291.7H689.9L693.1 295.4ZM741.7 174.5H751.9L748.3 178.9H745.2ZM707.7 139.6L710.0 137.2H714.8L717.2 139.6L714.8 141.9H710.0ZM600.9 603.8L602.9 601.9H607.6L609.6 603.8L607.6 605.7H602.9ZM786.3 150.6H795.4L792.2 155.0H789.4ZM733.4 126.4L737.6 121.6H741.2L745.4 126.4ZM776.7 82.6H786.0L782.8 87.3H780.0ZM671.3 533.1L673.6 530.4H678.3L680.7 533.1L678.3 535.8H673.6ZM754.1 456.4L756.2 453.8H760.4L762.5 456.4L760.4 459.0H756.2ZM631.9 532.6L638.0 530.2L644.1 532.6L638.0 535.0ZM685.2 501.3L689.9 496.6H693.9L698.6 501.3ZM723.4 209.6H734.3L730.5 214.1H727.2ZM777.5 463.0H790.6L786.1 466.9H782.1ZM664.5 478.0L666.5 476.6H672.7L674.7 478.0L672.7 479.3H666.5ZM582.3 152.1L584.3 150.2H588.9L590.9 152.1L588.9 154.0H584.3ZM557.3 369.2L564.2 366.8L571.2 369.2L564.2 371.6ZM571.3 465.1L576.0 461.8L580.8 465.1L576.0 468.3ZM741.4 590.8L744.9 585.9H748.0L751.5 590.8ZM655.4 147.0L657.4 145.2H662.0L664.0 147.0L662.0 148.8H657.4ZM627.2 231.7L631.3 229.3L635.3 231.7L631.3 234.1ZM650.6 478.5L653.5 476.2H659.3L662.1 478.5L659.3 480.8H653.5ZM825.4 138.5H834.8L831.5 142.2H828.7ZM817.6 263.4L820.1 261.1H825.0L827.4 263.4L825.0 265.6H820.1ZM636.8 118.2L641.2 115.8L645.6 118.2L641.2 120.6ZM584.2 406.4L586.2 404.9H591.2L593.2 406.4L591.2 408.0H586.2ZM570.2 502.9L572.9 500.7H578.5L581.2 502.9L578.5 505.2H572.9ZM825.5 205.8L829.9 203.4L834.4 205.8L829.9 208.2ZM744.8 580.0L748.5 575.9H751.6L755.2 580.0ZM758.4 152.4L760.4 150.7H766.6L768.6 152.4L766.6 154.2H760.4ZM737.7 421.7L741.0 419.6H747.5L750.8 421.7L747.5 423.7H741.0ZM556.5 423.7H569.0L564.4 427.4H560.4ZM651.1 274.6L653.7 272.1H659.0L661.7 274.6L659.0 277.0H653.7ZM572.9 106.6L574.9 104.7H583.5L585.5 106.6L583.5 108.5H574.9ZM630.8 141.8L632.9 139.1H637.2L639.4 141.8L637.2 144.4H632.9ZM682.3 553.5L686.1 549.9H689.4L693.2 553.5ZM807.7 249.4L810.8 244.2H813.5L816.6 249.4ZM808.2 574.7L812.6 569.9H816.5L821.0 574.7ZM782.7 584.8L784.7 583.5H791.1L793.1 584.8L791.1 586.0H784.7ZM593.7 132.2H606.6L602.1 137.2H598.2ZM786.8 267.5L788.8 265.8H796.2L798.2 267.5L796.2 269.1H788.8ZM557.1 96.3L559.1 95.0H565.3L567.3 96.3L565.3 97.6H559.1ZM829.3 102.0L832.8 99.3H838.4L841.9 102.0L838.4 104.7H832.8ZM828.0 450.1L831.2 446.0H834.0L837.2 450.1ZM680.0 410.7H691.5L687.5 415.2H684.0ZM710.0 466.8L712.0 465.1H716.5L718.5 466.8L716.5 468.5H712.0ZM719.2 486.0L723.8 480.5H727.7L732.3 486.0ZM762.5 155.4L764.8 152.7H769.5L771.8 155.4L769.5 158.1H764.8ZM733.1 254.3L737.9 251.5L742.7 254.3L737.9 257.2ZM592.5 186.4L596.9 181.8H600.7L605.1 186.4ZM714.0 369.8H722.2L719.3 374.5H716.8ZM615.6 171.9L622.2 168.8L628.7 171.9L622.2 174.9ZM757.6 219.1L759.6 217.7H767.6L769.6 219.1L767.6 220.5H759.6ZM619.3 139.7L622.2 137.8H628.0L630.9 139.7L628.0 141.5H622.2ZM794.4 106.7L797.2 104.4H802.8L805.6 106.7L802.8 108.9H797.2ZM743.2 337.6L745.3 335.5H749.6L751.8 337.6L749.6 339.7H745.3ZM681.0 553.3L687.8 550.4L694.6 553.3L687.8 556.3ZM561.4 110.8L564.7 108.7H571.2L574.4 110.8L571.2 112.9H564.7ZM802.5 300.9L806.6 298.0L810.7 300.9L806.6 303.7Z"/>
<path fill="#0a30e8" d="M788.8 289.1h3.7v1.6h-3.7ZM653.4 172.5h4.3v1.6h-4.3ZM816.8 180.1h4.5v1.6h-4.5ZM596.6 512.8h5.4v1.6h-5.4ZM588.5 502.6h3.3v1.6h-3.3ZM604.5 486.7h5.3v1.6h-5.3ZM657.6 131.2h4.8v1.6h-4.8ZM655.0 281.0h3.2v1.6h-3.2ZM782.6 326.2h4.5v1.6h-4.5ZM807.8 311.3h3.7v1.6h-3.7ZM705.3 406.0h5.2v1.6h-5.2ZM603.0 261.1h3.9v1.6h-3.9ZM580.4 381.8h4.9v1.6h-4.9ZM642.0 452.4h5.1v1.6h-5.1ZM723.3 545.2h4.1v1.6h-4.1ZM649.7 133.6h4.4v1.6h-4.4ZM619.0 539.1h4.7v1.6h-4.7ZM668.8 201.4h5.1v1.6h-5.1ZM705.5 474.1h3.9v1.6h-3.9ZM827.1 263.7h4.0v1.6h-4.0ZM768.8 142.3h4.8v1.6h-4.8ZM761.2 314.9h4.8v1.6h-4.8ZM703.2 296.0h5.2v1.6h-5.2ZM559.2 488.3h4.3v1.6h-4.3ZM602.2 107.7h5.1v1.6h-5.1ZM691.9 326.1h5.1v1.6h-5.1ZM632.2 387.2h4.9v1.6h-4.9ZM694.5 112.7h4.7v1.6h-4.7ZM835.9 383.7h4.9v1.6h-4.9ZM829.8 87.4h4.2v1.6h-4.2ZM570.9 406.3h3.3v1.6h-3.3ZM709.5 290.6h3.6v1.6h-3.6ZM707.3 315.6h3.9v1.6h-3.9ZM713.3 219.2h5.0v1.6h-5.0ZM800.4 248.5h3.3v1.6h-3.3ZM802.8 571.8h3.2v1.6h-3.2ZM604.8 103.1h4.9v1.6h-4.9ZM585.2 102.9h3.4v1.6h-3.4ZM661.9 298.0h5.3v1.6h-5.3ZM745.4 113.8h4.0v1.6h-4.0ZM675.5 479.6h4.9v1.6h-4.9ZM796.0 274.3h5.4v1.6h-5.4ZM828.5 409.3h5.4v1.6h-5.4ZM685.8 211.0h4.9v1.6h-4.9ZM569.9 579.3h4.1v1.6h-4.1ZM817.7 209.5h5.0v1.6h-5.0ZM825.7 186.4h5.6v1.6h-5.6ZM773.9 291.1h3.3v1.6h-3.3ZM682.1 293.0h4.4v1.6h-4.4ZM726.1 244.4h3.2v1.6h-3.2ZM625.8 131.3h3.4v1.6h-3.4ZM713.8 354.7h3.7v1.6h-3.7ZM829.7 450.6h4.4v1.6h-4.4ZM686.8 559.2h5.4v1.6h-5.4ZM688.8 427.5h3.6v1.6h-3.6ZM755.1 448.3h4.2v1.6h-4.2ZM774.5 476.2h4.8v1.6h-4.8ZM665.1 484.8h3.6v1.6h-3.6ZM825.4 346.5h4.7v1.6h-4.7ZM816.2 362.6h4.9v1.6h-4.9ZM630.9 158.8h5.6v1.6h-5.6ZM805.2 572.4h5.5v1.6h-5.5ZM673.5 93.0h4.6v1.6h-4.6ZM810.4 358.6h3.3v1.6h-3.3ZM739.6 571.7h4.2v1.6h-4.2ZM724.3 266.8h5.3v1.6h-5.3ZM561.3 373.2h5.1v1.6h-5.1ZM765.9 226.7h3.3v1.6h-3.3ZM578.0 372.4h4.2v1.6h-4.2ZM669.8 554.4h5.1v1.6h-5.1ZM719.7 294.7h4.8v1.6h-4.8ZM580.7 550.1h4.1v1.6h-4.1ZM796.2 163.3h3.8v1.6h-3.8ZM670.2 562.0h5.1v1.6h-5.1ZM558.6 380.0h5.6v1.6h-5.6ZM659.3 559.8h4.2v1.6h-4.2ZM834.3 593.2h4.6v1.6h-4.6ZM746.9 235.8h5.1v1.6h-5.1ZM669.5 433.9h4.3v1.6h-4.3ZM803.1 556.0h5.1v1.6h-5.1ZM719.2 283.8h4.9v1.6h-4.9ZM817.9 596.2h4.7v1.6h-4.7ZM710.5 138.8h3.8v1.6h-3.8ZM674.1 532.3h3.8v1.6h-3.8ZM756.6 455.6h3.3v1.6h-3.3ZM561.5 368.4h5.6v1.6h-5.6ZM574.1 464.3h3.8v1.6h-3.8ZM586.9 405.6h3.6v1.6h-3.6ZM761.4 151.6h4.1v1.6h-4.1ZM812.0 571.5h5.1v1.6h-5.1ZM785.8 584.0h4.1v1.6h-4.1ZM560.1 95.5h4.1v1.6h-4.1ZM712.5 466.0h3.4v1.6h-3.4ZM736.0 253.5h3.8v1.6h-3.8ZM761.2 218.3h4.8v1.6h-4.8ZM622.8 138.9h4.6v1.6h-4.6ZM745.8 336.8h3.4v1.6h-3.4ZM685.1 552.5h5.5v1.6h-5.5ZM565.3 110.0h5.2v1.6h-5.2Z"/>
<g clip-path="url(#c2)"><g transform="scale(0.5)" stroke-linejoin="round">
<path fill="#0a14b0" fill-rule="evenodd" stroke="#000088" stroke-width="2.40" d="M1176 158l11 0-7 1-4-1zM1384 158l31 0-4 2-27-2zM1672 168l2 0-2 0zM1531 173l14-2 3 2-9 1-8-1zM1313 193l10 0-8 1-2-1zM1121 228l6 0-6 0zM1320 233l8-2 7 2-7 1-8-1zM1500 233l7-3 8 3-8 2-7-2zM1104 248l1 0-1 0zM1641 248l7-1 2 1-2 1-7-1zM1191 258l3 0-3 0zM1514 258l11 0-5 1-6-1zM1255 263l2-2 13 4 3 3-9 5 6 2 6-2 4 5-4 4-19 2-6-1 6-5-13-3-2-2 2-4 11-6zM1199 273l18 0 3 5-1 2-13 0-4-2-3-5zM1589 278l2 0-2 0zM1690 278l2-2 0 3-2-1zM1177 288l6 0 4 3 6 2-13 0-3-5zM1195 288l5-2 32 3 12 0 7 5 13 3 12-3 7-4 6-1 11 4-11 5 13 10-6 5 8 5-5 5 3 3 29 7-42 2-7 3 39 9 0 2-11 4-1 5 6 5 13-1 0 2-7 1-6 4-19 1-7-5-6 0-7 2-1 1 8 7 6 0 8 3-8 3-19 0-13 6-6 1-3 5-4 2-19 0-6-2 0-2-2 2-5 1-6 5-6-5-7-1 13-2 3-3 0-5 3-2 2-3-2-5-12-6-8 1 1 5-6 3-13 0-11-3 16-5-3-5 4-1 7-6 16-3-3-2-13-1-7-5-12 3-13-2-4-3 4-2 19-3-21-5 2-2 6-1 7-4 6 0 4-3-10-2-5-3 4-10 13-5 13 3 13-1 2-2 3-5-5-3-6 1-7-3 2-5zM1212 331l-4 2 4 1 20 0 3-1-3-2-7 1-13-1zM1225 316l-6 2 13 3 6-1 2-2-8-2-7 0zM1232 302l-2 1 2-1zM1244 347l-2 1 2 1 7 0 6 4 7 1 6-1-13-6-13 0zM1264 307l-1 1 1 1 6 1 2-2-8-1zM1276 326l-6 2 6 4 7-1 8-3-8-4-7 2zM1283 302l-2 1 2 1 3-1-3-1zM1302 353l2 0-2 0zM1180 338l-3 0 3 0zM1187 341l-3 2 3 1 0-3zM1219 342l0 1 6 1 7-1-7-2-6 1zM1238 327l-1 1 1 1 0-2zM1219 373l-4 0 17 3 6-2 1-1-1-4-19 4zM1332 298l5 0-3 2-2-2zM1122 313l2 0-2 0zM1318 318l3-2 7 0 8 2-8 2-7 0-3-2zM1140 323l3 0-3 0zM1364 323l7 0-7 0zM1543 323l4 0-4 0zM1628 328l1 0-1 0zM1383 333l8 0-8 0zM1677 333l3-2 12 1 0 1-15 0zM1427 338l12 0-12 0zM1683 343l5 0-5 0zM1131 348l5-2 8 2-8 1-5-1zM1434 348l4 0-4 0zM1646 348l7 0-7 0zM1150 353l5-3 13-2 12 3 1 2-11 5 1 5-3 0-13 0 6-1 5-4-16-5zM1457 363l5-1 2 1-2 1-5-1zM1113 368l3-2 6 2-9 0zM1349 368l10 0-10 0zM1403 368l8-2 4 2-12 0zM1682 378l10-1 0 2-10-1zM1159 383l9-2 6 0 1 2-1 2-6 1-9-3zM1309 383l6-3 22 3-16 5-12-5zM1620 383l2-3 2 3-2 1-2-1zM1104 393l1 0-1 0zM1144 393l4-1 5 1-11 6-5-1 7-5zM1274 393l12 0-3 2-7 0-2-2zM1160 398l8 0 31 5-25 3-13-3-1-5zM1353 398l7-2 5 2-5 1-7-1zM1368 398l11-2 17 2-11 2-17-2zM1624 398l4-1 3 1-7 0zM1210 403l2-1 7 2 16 9-10 6-2-1 0-5-4-2-19-1-2-2 2-5 10 0zM1243 403l2 0-2 0zM1283 403l6-4 7 1 4 3-4 3-7 0-6-3zM1306 403l3 0-1 2-2-2zM1115 408l1-2 7 2-8 0zM1460 408l6 0-6 0zM1659 408l8-1 6 1-6 2-8-2zM1136 413l6-4 17 4-1 5-3 2-4-2-9 0-6-5zM1173 413l7-2 13 0 4 2-17 3-7-3zM1249 413l8-3 13 2 6 4 30 2-4 3-26-1-2 3-15 5 0 5-2 2-6 2-7 0-12-6-2 2 0 5 4 5 10 1 7-5 6 1 19-9 20-1 6 1 9 7-9 2-6-5-7-1-6 1-7 3 7 5-7 2-3 3 3 5-6 3-13 0-13 5-2 2 2 5 13 4 7-6 11-3 1-10 13-3 7-4 8 2-8 2-3 3 8 5-5 4-13-2-6 3 6 2 6 1 15-3 1-5 8-5-2-5 4-2 19 7 6 1 3 4-9 2-6-3-9 1 1 5-12 2-7 8-18 3-7 6-6 3-3 3 3 3 13-5 2 2-6 5 6 5-2 2-13 1-13 4-13 1-4-3 2-5-4-2-13 2-6 5 19 5 3 5 3 1 15-1-3 5 4 5-9 4-22 1 15 0 20 3 3 7-10 5-2 5 2 1 7 0 6-5 10-1 3-6 9 1 4 6 6 0 4-1 9-6 6-6 7 2 7 5-9 5 2 2 9 3 3 4 0 6 7 2 25 4 13 7 18 2-5 3-13-1-5 3 5 6 13 3 1 1-1 1-13 0-19 3-6-1-7-5-6 1-7 6-6 0-6-3-2 3 2 6 6 2 26-7 6 0 13 3 19-2 13 2 1 1-8 2-5 3 2 5-5 5 2 6 6 0 7-6 13 4 6-1 8 7-6 5 9 5-11 6-18 4-8 7-18 3 6 3 12 0 7-5 6 2 19 3 5 2 2 3 9 7-9 2-5-2-1-5-7-2-6 1-7 3-6-1-7-5-19 2-6 3-13 3-2 1 0 5 2 2 13 0 3-2 1-5 2-2 19 0 4 2 1 5-15 5 15 5-9 5 4 4 7-2 19-1 19 3 7 5 12 7 9-1-7-5 11-3 15 3 4 3 5-3 21-3 13 3 13-2 2 2-22 1-12 8-20-3-6-3-13 4-1 3 1 0 32 4 7 4 6 0 1 2-7 1-26-2-19 3-6 3 19 5-7 4-19 3-5 3 1 5 4 1 11-1 2-6 16 1-3 0-6 5 5 5-6 5 13 5-13 2-13-1-10-6-2-8-7-1-6 4 3 5-4 5 2 5-1 1-7 1-6-3-13 1 0 1 13 4 38 5 4 10-1 5-3 4-3 1 10 5 6 1 13-2 3 1-3 2-6 0-4 8-11 5 15 3 6-1 6-4 17 2-11 5 7 5-13 2-2 3 2 6 13-3 6 2-4 5-15 9-12-3-10 9 10 0 12-5 9 5-11 5 1 5 8 0 1 5 5 5 7 2 12-4 5-3 2-3 11 8-11 1-7 4 7 3 25-1 13-3 4 1 3 4 6 0 6 1-6 1-6-1-13 3-32-1-19 2-3 1 1 5-2 5-6 5 3 2 25-7 1-2 6 0 7 3 2 4 15 5-5 3-6 1-19-1-12 2 12 2 13-1 6 5 28 4-2 2-13-1-7 2-12 7 6 3 19 0 6 2-12 5 5 5-4 5-2 5-5 5 9 5 3 3 1 2-3 5 2 3 13 2 2 5 4 3 13-1 7-4 6 1 6 4 7 2 13 0 6-3 8 3-2 2-6 1-6-2-7 0-5 4 5 3 19 4 5 3-5 2-6-1-5-1-1-5-7 1-7 4 1 5-1 5-6 1-2 4 2 3 7 1 6-1 7-3 12 2 4 3-17 5 13 4 13-2 6 3-6 2-6 1-7-1-19 4-5 4 12 8 12 2-12 5-7 1-6 0-7-2-12-2-2 3-11 3-13 2 14 10-8 2-6-3-19-1-20 7 13 3 7 4 6-2-4-5 17-3 6 5 10 3-8 5-21 5-6-3-7 0-4 3 4 3 7 0 1 2-5 5-5 10-6 5 2 2 19 2 26-5 14 1-14 3-7 4-12-1-5 4 1 5-5 5 2 5-6 0-13-3-14 3 20 5-19 2-4 3 4 3 7 3 19-3 10 2-10 2-13 5-6 0-7-1-13-9-11-2 15-5-4-2-6-2-13 2-13-3-3 5 3 2 7-1 9 4-9 3-7-1-4 3 11 2 6 5 11 3-4 2-13 1-13 3-4-1-9-7-13 0-6-4-13-2-6-6-7-2-17 6 17 10-12 2-10-7-10-2-18 7 19 10-13 2-13-1-7 5-12 1-6-2 5-5 20-3 1-2-1-2-13-6-11-2-2-2-6 0-1 2 3 5-2 1-13-4-13 0-8-2 26-5-3-5-21-11-7-6-6-1-3-2 3-2 6-1 7 4 6 2 5-3-11-3-7-5-6 0-2-2 15-8 15-2-10-5 8-4 1-1-1-2-7-1-6 4-19 5-7 7-13-1-7-2 12-5-4-5 1-5 10-5-17-5-1-5 0-5-6-8-6-2 18-3 13 4 6-1-5-5-7-3-32-1-7-3-12 0-2-3 10-5-16-5-3-5 4-6-6-2-19-2 23-5-11-3-3-2 3-2 13-3 7-5 6 2 6 6 7 0 18-13-11-5 6-4 6 0 10-1-4-4-6 2-6-1 0-2 12-1 5-4-6-5 1-5 2 0-1-5-11-5 17-10-7-5 11-5-11-9-13-6 2-5 7-5-2-5-13-8-6 0-2-2 21-4 13 3 6-6 13-3 4 5-7 5 3 1 9-1 13-5-4-5 1-1 19-3 13 1 7-2 11-10-2-5 3-3 7-2-13-2-5 7 0 5-1 2-7 3-6-2-4-3 8-5-11-2-6 4-6 1-13-4-4 1 0 5 3 5-6 9-6 0-6-1-20 0-6 1-6 5-17-4 17-9 14-1 2-5-16-4-2-1 2-1 19-4 6 2 2 3 5 2 9-2 0-5-9-7-20-6-11 3 14 5-15 2-12-2 11-5-14-5 29-5-21-4-6 2-7-1-3-2 3-4 13 2 6-3 7-8 13-1 11 4-11 5 13 2 10-2-1-5-9-6-13-4 6-2 6-3-1-5-5-1-6 1-7-1-1-4 1-1 16-4-9-6-19 3-13-2 6-1 5-4-5-4-6 1-7 6-9-3 3-6 19-7 7 0 5 8 2 0 16-10 2-7 10-3-14-5-6-5-1-5-14 1-7-3-13 0-3 2 10 11 6 3 7-7 6 0 8 3-2 3-3 2-16 1-19-2-4-4 5-5-14-5-6-1-7 1 0-5 7-3 10-2-13-5-1-5-9-2-6 1-6-4 6-5 0-5-7-3-1-2 2-5 12-7 6-1 3-17-3-5 0-1 7-5 13-1 3 2-10 1-5 4 18 5 13-3 1-2-1-4-5-1 2-5-4-3-12 1-13-2-26 2-6-5-10 2-8 5 5 2 6-3 20 3 6 3-6 3-13 2 16 5-10 2-6 6-7 2-9-5 5-5-15-8-8-2 6-5-5-5-12-3-3-2 16-5-2-5 2-4 32 0 0-2-11-4 11-13 19 3-12 5-5 5 4 2 13 3-13 5-13 2-4 3 11 3 13-4 2 1 4 5 1-5 5-3 7 0 3-2-16-5 13-3 2-2-9-2-4-3-2-5 0-5 19-2 7 1 5 6-4 5 5 4 6 0 7-5 13-4-13-1-7-3-1-1 1-2 7-4-26-2-19 0-1 3-5 2-7 1-13 4-3-2-1-5 13-5-2-5 5-5-35-5-4-5-5-3-6-2-32 0-6 3 0-5 38 1 6-4-8-5 2-5 6-1 7 2 5-1 6-5-11-3-14-7 14-4 10 4 3 0-1-5 2-5-1-3-13 3-13-1-13 4-10-3 15-5-5-4-12-1 21-15-2-5-9-5-19-5 2-3 6-2 7 2 13 1 7 2 12 6 6-1 13-7 19-2 7 2 5-3-5-2-26 0-8 2-5 3-6-3-5-5 5-3 19 0 6-3 13-4-6-2-7 0-6 4-13 0-8-2 8-4 2-1-2-1-9 1-4 2-15-2-4-2-1-3 8-4 6-2 13 2 13 0 2-6-9-3-10 3-3 2-1-2-9-5-4-5 8-4 19 5 13-2 13 6-1 5-4 5-12 5 10 2 13 0 5-2-2-5-9-5 0-5 6-3 19-2 13 1 11-6-11-3-6 3-7-1-6-1-6-4-13 1-8-5 8-3 19 1 19-3-6-1-7-4-3-5 23-6 6 3 10-2-9-5 14-5-2-1-2-4zM1264 416l-6 2 6 1 6 0 3-1-3-2-6 0zM1238 482l-4 1 4 2 15-2-15-1zM1225 512l-1 1 1-1zM1244 602l-2 1 2 1 7 1 4-2-4-2-7 1zM1251 556l-6 2 6 1 7-1-7-2zM1264 571l-3 2 3 3 12-1 5-2-5-2-12 0zM1283 551l-6 2 12 5 9-5-2-3-7-1-6 2zM1315 550l-3 3 9 3 8-3-1-2-7-2-6 1zM1340 567l-2 1 18 5 4 5 14-5-14-2-7-6-13 2zM1360 601l-7 4-13 5-12-6-13 1-7-2-6 0-6 5-2 5-5 3-7 2 7 1 12-1 3-5 11-3 13 4 24 14-12 9-12 1-7-1-1 1 1 7-6 2-13-1-3 2 3 2 13 0 6 4 13 1 6 3-25 3-4 2 1 5 9 3 3-3 15-5 2-5 6-3 5 3 1 3 24-3-11-4-13-2-11-4 18-2 6 4 19 1 1-3 10-5-11-3-1 3-5 2-13 0-3-2 9-4 7 1 5-2-2-5 9-5 0-5-6-2-6 1-10 11-3 1-6-1 3-10-12-5-4-5 13-8 6-1 1-1-1-2-6 0zM1372 607l-4 6 4 1 2-1 0-5-2-1zM1411 621l-3 2 9 4 7 0 4-4-4-3-13 1zM1366 685l-13 8 7 1 19-6-7-3-6 0zM1379 696l-8 7 1 2 13-2 7 3 4-8-11-4-6 2zM1398 706l-6 2 6 1 19 0 2-1-2-2-19 0zM1411 697l-3 1 9 3 7 0 9-3-9-4-13 3zM1436 707l0 2 7 1 12-2-12-2-7 1zM1488 891l-4 2 4 2 7-2-7-2zM1500 906l-6 5-9 2 9 3 6-3 10-5-3-3-7 1zM1513 922l0 5 7 1 8-5-8-3-7 2zM1532 987l-4 1 11 3 7-3-14-1zM1552 948l-4 0 4 2 6 1 10-3-16 0zM1571 1063l1 0-1 0zM1584 1011l-4 2 4 1 5-1-5-2zM1590 1003l-2 0 2 0zM1603 1052l4 1-4-1zM1609 1028l7 1 5-1-5-1-7 1zM1616 1007l0 2 7-1-1-1-6 0zM1552 1101l-3 2 3 1 7-1-7-2zM1276 1087l-5 1 12 2 6-2-6-3-7 2zM1283 933l6 0-6 0zM1296 915l-3 3 3 1 6 1 3-2-9-3zM1315 931l-5 2 5 3 6-1 8-2-1-2-13 0zM1340 907l-6 2-6 4 4 5 8 2 7-2-5-5 4-5-6-1zM1360 937l-4 1 4 0 11 0-5-3-6 2zM1379 891l-7 3-6 8-2 1 3 10 12 0 6-3 13 2 2 1-2 4-8 1 14 1 3 4-3 2-6 1-13-3-19 0-6 5 6 4 6 0 7-3 38 0 13 3 14 1 2-5-3-2-19-2-7-5-4-1 7-5-9-2-7-4-36-4 11-1 15-9-9-3-6 1zM1296 782l-3 1-1 5 14 5-10 5 6 1 6-4 26-4 6-3-12-2-5 2-2 4-13-6-12-4zM1219 707l-2 1 2 1 1-1-1-1zM1232 692l-2 1 4 0-2-1zM1238 707l-15 6 15 2 13 8 6 0 7-6 12-4-6-5-6 3-13 1-7-2-6-3zM1244 651l-3 2 3 1 7 1 5-2-5-2-7 0zM1264 647l-3 1 3 1 6 1 12-2-6-2-12 1zM1161 591l-4 2 4 4 7 1 9-5-9-3-7 1zM1142 523l-4 0 4 0zM1180 514l-5 4 5 4 7 1 6-2 3-3-9-4-7 0zM1206 493l-10 5 4 1 11-1 1-3 7-2-13 0zM1244 491l-2 2 2 3 12-3-12-2zM1251 592l-3 1 9 4 8-4-1-2-7-1-6 2zM1270 603l6 1 3-1-3-2-6 2zM1289 568l7 1 2-1-2-2-7 2zM1366 582l-1 1 2 0-1-1zM1283 626l-3 2 3 1 6 2 13 0 6 4 7 0 7-7-7-3-32 1zM1302 663l1 0-1 0zM1328 672l-3 1 3 0 6 0-6-1zM1347 677l0 4 2 2-15 0-3 5 3 4 13-1 11-13-11-1zM1385 718l9 0-9 0zM1398 732l1 1-1-1zM1436 714l-6 4 15 5-16 5 2 5 12 2 6 0 13-5 1-2-1-3-6-3-7-6-13-2zM1488 962l0 1 0-1zM1507 927l-3 1 1 5 8 4-1-9-5-1zM1520 936l-7 2 7 2 7-2-7-2zM1552 962l-3 1 3 0 5 0-5-1zM1609 1036l-3 2 3 3 19-1 8-2-1-2-7 0-19 0zM1552 1132l-3 6 3 1 6-1-6-6zM1289 995l-4 3 4 2 7 0 2-2-2-2-7-1zM1296 926l-4 2 4 2 9-2-3-3-6 1zM1334 927l-2 1 2 1 8-1-8-1zM1360 1162l-4 1 4 1 2-1-2-1zM1366 947l-3 1 3 1 3-1-3-1zM1372 951l-1 2 1 1 10-1-10-2zM1398 986l-3 2 3 1 6 0 3-1-9-2zM1404 976l-5 2 5 1 3-1-3-2zM1424 936l-3 2 3 4 6 0 1-4-1-3-6 1zM1328 808l-7 3-13-3-6 0-7 5 2 5 11 4 7 1 6-9 8 4 5 5-19 0-7 5 13 10 0 4 3-4 16 2 8-2-8-2-6 1-3-4 14-10 2-6 13-1 12 1 10-4-16-5-13 2-13 5-6-5-6-2zM1219 723l4 5 0 5 2 1 13 1 5-2-5-5-11-5-8 0zM1244 737l0 1 1 0-1-1zM1264 655l-7 3 7 2 12 1 6-3-6-3-12 0zM1187 530l-4 3-9 1-13 5-6 0-8-1-6 5 7 2 20 2 6 2 19 0 2 4 5 3 12 5 11 2 4 5-9 5 1 3 7 7 13 0-5-5-1-5 3-10 3-5-9 0-14-5 3-2 13 1 5-9-5-2-7-8-13 7-11 3-1 2-7 2-19-2-2-2 2-1 13-2 11-7-5-3-6 0zM1219 522l-5 1 5 1 3-1-3-1zM1276 637l-3 1 3 2 13 2 5-4-5-3-13 2zM1289 576l-16 7 10 2 32 0 6 2 9-4-9-2-6-5-13 2-13-2zM1328 692l1 1-1-1zM1513 1136l-5 2 18 8 7-3-13-7-7 0zM1520 982l-2 1 2 1 3-1-3-1zM1526 957l0 1 3 0-3-1zM1296 1090l-3 3 3 3 14 2 1-5-3-2-12-1zM1296 940l-4 3 4 3 6 1 25-4-19-4-12 1zM1340 966l-5 2 5 3 7 0 6-3-13-2zM1372 987l0 1 7 2 4-2-4-2-7 1zM1430 951l-2 2 2 2 2-2-2-2zM1315 846l-2 2 2 1 6-1 22 5-9 4-24 6 11 2 13 6 6-6 7-1 19 2 4-3-4-3-18-7-2-5-12-4-13-1-6 3zM1353 826l-6 2 6 3 19 0 5 2-13 5 8 4 7 0 3-4 3-2 7 1 6-4-13-3-2-2-4-2-26 0zM1238 751l-2 2 2 1 0-3zM1244 746l-5 2 5 2 13-2-13-2zM1264 667l-11 6 4 2 19 5 20 1 4 2-9 5-2 5 7 2 6 0 6-6 13-1-6-2-7-7-3-1-2-5-7-3-7-1-13 5-2-1-1-5-9-1zM1187 595l0 3 0-3zM1206 565l-6 3 6 1 6-1-6-3zM1283 597l-3 1 3 2 7-2-7-1zM1302 950l-2 3 8 6 15-1-2-1-6-7-13 0zM1347 1118l6 5 4 0-2-5-8 0zM1372 1152l-4 1 4 1 5-1-5-1zM1379 1132l-3 1 3 1 3-1-3-1zM1353 845l-5 3 12 4 6 4 6-1 4-2 4-5-1-4-7-1-19 2zM1385 876l-1 2 1 0 7 0-7-2zM1392 851l-2 2 2 1 6 2 4-3-4-3-6 1zM1257 687l-2 1 5 10-6 5 10 2 5-2-5-10-4 0 4-2 1-3-8-1zM1276 724l-6 4-13 5 7 2 26-2-7-2-5-3-2-4zM1283 722l-5 1 5 1 2-1-2-1zM1296 753l1 5 8 5 0 5 10 7 6 0 1-2-1-5-8 0 2-5 6 5 7 1 9-1-9-5-13 0-2-5 8-5-6-3-19 3zM1321 702l-5 1-8 4 7 3 6-5 13 0 6 7 13 0 13 2 2-1 2-5-4-3-32-3-13 0zM1206 591l-4 2 10 2 6-2-6-2-6 0zM1289 607l-5 1 5 1 6-1-6-1zM1308 966l-13 7 7 2 10-2 2-5-6-2zM1379 1162l-3 1 1 5 2 3 6 0 1-3 6-3 6 0 1-2-7-4-13 3zM1276 740l-5 3 5 3 7-1 4-2-11-3zM1328 715l-5 3 5 5-28 5-2 10 1 5 11 0 4-5-4-5 5-3 15 3 14-10-4-2-6-6-6 0zM1347 756l-4 2 4 1 6 0 2-1-2-2-6 0zM1360 734l-4 4 2 5 0 5 8 3 6 5 7 3 7-1 12-6 13-1 13 1 2-4-2-5-26 0-13 3-6-1-7-2 0-5-6-4-6 0zM1212 601l-4 2 0 5 4 5 20-3 2-2-9-6-6-1-7 0zM1328 742l-2 1 2 3 1-3-1-1zM1340 796l-4 2 4 2 4-2-4-2zM1347 800l-2 3 2 1 2-1-2-3zM1353 783l-2 0-2 5 4 1 26 0 13 7 31 2-12 2-4 3 4 2 19 3-19 5-7 1-6-3-6 0-4 2-1 5 5 2 19 0 13-3 6 3 17-2 11-5-9-5-8 0-1-5 5-5-2-1-13-2-6 2-2-4 1-5-6-4-13 6-6 1-13-9-6 4-7 2-12-2-7-3zM1385 766l-14 7 8 1 13-4 6 1 19 11 7 1 6-3 26 0 4-2-11-4-19 2-9-3-4-3-7-2-25-2zM1404 756l-4 2 8 0-4-2zM1328 750l-6 3 13 0-7-3zM1366 802l0 4 14-3-1-2-7-1-6 2zM1417 857l-13 7-12 4 3 5 3 1 6 0 13-10 33-6-20-3-6-1-7 3zM1449 821l-1 7-5 2-7 1-6-3-7 5 4 10 10 0 12-7 7-1 19-8 6 1 4 0 0-5-4-1-32-1zM1443 787l-1 1 1 1 9-1-9-1zM1398 895l-4 3 17 2 6 4 16-1-3-4-6-1-26-3zM1411 877l1 1-1-1zM1424 871l-4 2 7 0-3-2zM1430 881l-5 2 5 5 6 0 3 5 4 3 21-8-8-2-13-5-13 0zM1468 838l-12 5-3 5 3 4 6-7 32-4 4-3-4-2-6-1-20 3zM1462 895l-9 8-10 3-9 7 2 4 13-1 13 1 4-4 2-2 7-1 6-6 12-1-25-9-6 1zM1475 882l-2 1 2 1 9-1-9-1zM1449 961l-6 2-19 0-9 5-2 5 11 0 12-2 13-1 7-2 2-5-9-2zM1456 923l-3 0 3 0zM1468 943l1 5 6 2 6 0 2-2-8-6-7 1zM1417 992l-4 1 4-1zM1424 982l-1 1 1 1 12 1 10-2-16-3-6 2zM1456 988l-9 5 2 1 9-1-2-5zM1456 937l-2 1 2 1 6 1 5-2-5-2-6 1zM1468 1117l-6 6 6 0 13-3 7 0 1 3-1 4-6 6 6 2 10-2-4-5-3 0 9-1 7-4-1-5-12-3-6 2-20 0zM1475 983l8 0-8 0zM1417 1073l26 3 7-3-14-2-19 2zM1430 996l-2 2 2 3 4-3-4-2zM1456 1002l-2 1 2 0 8 0-8-1zM1462 950l0 3 1 0-1-3zM1475 1101l-4 2 3 5 7-2 5-3-5-2-6 0zM1481 1093l7 1 12-1-12-2-7 2zM1417 1087l-3 1 0 5 3 1 3-1 0-5-3-1zM1443 1088l6 2 11-2-4-2-13 2zM1456 1077l-2 1 2 0 4 0-4-1zM1417 1102l0 1 1 0-1-1zM1449 1106l-6 4-13 0-8 3 14 3 20-2 1-1 1-5-2-3-7 1zM1424 1126l-10 7 3 4 7 1 10-10-4-2-6 0zM1443 1122l-1 1 1 1 1-1-1-1zM1417 1139l-2 4 2 1 3-1-3-4zM1443 1138l6 0 6 5-8 5 2 2 7 1 4-3 8-2 3-3-2-5-7-2-19 2zM1468 1150l-3 3-2 5 5 5 10 0 5-5 2-5-4-4-6 0-7 1zM1626 413l6 0-6 0zM1399 418l12-3 6 1 2 2-15 2-5-2zM1438 418l8 0-3 1-5-1zM1104 423l5 0-5 0zM1111 423l18-2 10 2-3 1-25-1zM1310 423l5-2 14 7 4 5-4 5 5 4 5 1-5 1-8-1-3-5 0-5-2-2-11-3 0-5zM1139 428l3-3 13-1 19 7 10 7-16 2-13-3-6 1 4 5-5 4-6 2-2-1 1-5-3-5 4-1 4-4-7-5zM1194 428l6-2 5 2-5 2-6-2zM1396 433l6 0-6 0zM1483 433l5-2 7 2-7 2-5-2zM1375 438l4-2 6 3 12 4-3 5-2 1-11-1-7-5 1-5zM1160 448l6 0-6 0zM1339 448l1-3 0 5-1-2zM1490 448l7 0-7 0zM1130 453l6-2 3 2-3 2-6-2zM1401 453l3-1 7 1-7 1-3-1zM1371 458l15 5-14 5-6 1-5-1 8-5 2-5zM1395 458l3-3 2 3-5 0zM1322 468l6-2 7 2-7 3-6-3zM1402 473l2-2 9 2-2 5-7-2-2-3zM1442 473l7-2 7 2-13 1-1-1zM1510 473l6 0-6 0zM1357 483l3-3 12 3 20-1 4 1-4 2-20-2-6 2-9-2zM1433 483l3-3 10 3-10 1-3-1zM1397 488l1-2 4 2-5 0zM1452 488l4-2 14 2-8 1-10-1zM1479 493l2-1 5 1-5 1-2-1zM1130 498l6-3 6-1 6 2 2 2-2 2-6 0-12-2zM1325 498l3-2 12 0 28 7-3 10 1 2 6 0 13-4 7 7-7 4-13 0-6-2-6 0-19 3 12 3 26-3 18 5-18 4-7-1-9 2 16 3 1 2-3 5-5 2-12 1-7 0-4-3 4-5-1-5-12-3-6-5-6-1-13 6-7 0-3-2 10-7 13 0 6-3 13-3 2-2 3-5-24-1-7 0-6 4-19-1-14-2 3-5 4-3 19 0 7 1 10-3zM1404 498l13 0 3 5-9 1-4-1-3-5zM1551 498l2 0-2 0zM1429 513l7-2 7 1 1 6-14 5-11 0 10-10zM1261 518l9-2 26-1 12 1 4 2-4 1-25 3-22-4zM1469 518l6-2 5 2-5 5-6-5zM1267 528l16-5 6 1 7 4-7 2-19-1-3-1zM1439 528l4-2 6 1 2 6-3 0-9-5zM1479 528l2-2 9 2-2 3-7 1-2-4zM1406 533l5-2 11 2-5 2-11-2zM1654 533l8 0-8 0zM1502 538l20 0-9 2-11-2zM1425 543l5-3 6 0 15 3-15 4-11-4zM1409 548l3 0-1 1-2-1zM1371 553l1-1 13 5 3-4 4-2 11 7 3 5-8 1-26-3-4-3 3-5zM1417 553l19-4 5 4-11 3-13-3zM1460 553l3 0-3 0zM1656 558l4-2 6 2-6 1-4-1zM1416 563l2 0-2 0zM1553 563l5-2 2 2-2 2-5-2zM1487 568l7-3 6 1 5 2 4 5-15 2-7-2 0-5zM1423 573l7-3 6 0 9 3-9 2-13-2zM1545 573l1 0-1 0zM1487 583l7 0-6 3-1-3zM1432 598l4-2 9 2-9 3-4-3zM1557 598l9 0-2 1-7-1zM1134 608l8-4 6 4-12 6-6-1 4-5zM1413 608l4-2 8 2-8 4-4-4zM1521 608l5-2 6 0 1 2-7 1-5-1zM1116 613l7-2 6 2-13 0zM1172 613l2-2 6 2-8 0zM1472 613l3-3 3 3-3 1-3-1zM1151 618l4-2 9 2-4 5-5 2-13 2-19-1-5-3 5-2 25-1 3-2zM1545 618l7-1 6 1-6 1-7-1zM1581 623l4 0-4 0zM1450 628l18-2 23 7-16 1-17-1-8-5zM1134 638l8-2 8 2-2 6-14-6zM1450 643l18-2 9 2-15 2-12-2zM1115 648l3 0-3 0zM1323 648l17 0-6 2-11-2zM1657 648l8 0-5 1-3-1zM1680 648l6-1 6 1 0 6-12-6zM1104 653l6-2 2 2-8 0zM1477 653l11-1 5 1-5 1-11-1zM1539 658l12 0-12 0zM1554 663l4-2 2 2-6 0zM1492 668l2-2 4 2-4 1-2-1zM1104 673l0-1 8 1-8 1 0-1zM1505 673l2-2 6-1 8 3-8 3-8-3zM1414 678l3-2 7-1 6 3-6 3-7-1-3-2zM1633 678l2-2 6 2-6 2-2-2zM1441 683l5 0-5 0zM1143 688l5-2 4 2-4 2-5-2zM1688 688l4-2 0 5-4-3zM1132 698l10-1 7 1-17 0zM1169 703l5-2 1 2 0 5-10 0 4-5zM1556 703l2-3 13 3-7 2-8-2zM1528 713l11-4 3 4 13 5-10 2-6-4-7-1-4-2zM1104 718l1 0-1 0zM1114 718l6 0-6 0zM1139 718l3-2 6 0 3 2-3 1-9-1zM1657 718l7 0-7 0zM1687 718l5-1 0 4-1 2-5 2-6-2 7-5zM1164 723l16-2 7 0 4 2-11 2-6 5-12-2 2-5zM1504 728l3-3 6-1 7 2 2 2-9 3-6 0-3-3zM1113 733l3-1 5 1-8 0zM1552 733l18 0 13 5-12 2-7-5-12-2zM1683 733l3-3 6-1 0 7-9-3zM1633 738l4 0-4 0zM1564 743l1 0 0 5-9 0 8-5zM1667 743l8 0-8 0zM1184 748l9-3 4 3-13 0zM1113 753l3-2 5 2-5 1-3-1zM1158 753l10-2 6 2-6 2-10-2zM1139 763l3-1 8 1-2 1-9-1zM1182 768l5-2 7 2-1 2-11-2zM1504 768l9-2 3 2-9 2-3-2zM1557 768l8 0-8 0zM1119 773l4-3 8 3-12 0zM1141 773l2 0-2 0zM1196 773l7 0-7 0zM1470 773l18-2 3 2-3 2-18-2zM1493 778l4 0-4 0zM1627 778l1-3 3 3-3 1-1-1zM1129 783l1 0-1 0zM1216 783l16-2 5 2-18 11-26-6 23-5zM1647 783l8 0-2 10-8 0 3-5 4 0-4-3-1-2zM1175 788l12-1 6 1-13 5-5-5zM1510 788l13 0-10 1-3-1zM1560 788l4-4 7 0 13 1 2 3-2 3-7 2-6 0-11-5zM1104 798l6 0-6 0zM1127 803l8 0 12 5-11 2-9-7zM1499 803l8-1 5 1-5 1-8-1zM1218 808l7-3 23 8-4 1-12 0-14-1 0-5zM1599 808l4-1 3 1-3 1-4-1zM1625 808l11 0-11 0zM1104 813l0-2 3 2-3 0zM1182 813l5-1 1 1-6 0zM1668 813l12-2 5 2-5 1-12-1zM1124 818l12-3 7 3 4 5-5 2-18-7zM1200 818l6-2 6 2-12 0zM1256 818l10 5-2 1-19-1 11-5zM1164 823l12 0 0 5-8 1-3-1-1-5zM1187 828l6-3 7 3-3 5 3 2 6-1 6-3 7 2 13-2 25 2-6 2-13-2-6 3-13-2-5 9 11 3 3 2 1 5 10 5-4 5 0 10-10 0-6-8-6-2-3-5 9-5-9-5 2-5-6-3-10-2-9-10zM1267 828l3-3 12 3-12 4-3-4zM1601 828l5 0-5 0zM1104 833l0-2 4 2-4 3 0-3zM1645 833l3 0-3 0zM1127 838l2-2 7-1 3 3-1 5 1 5-3 1-4-1 2-5-7-5zM1158 838l3-2 21 2-21 1-3-1zM1588 838l2-3 9 3-9 4-2-4zM1530 843l3 0-3 0zM1185 848l12 5-12 0 0-5zM1154 853l2 0-1 1-1-1zM1685 853l3 0-3 0zM1161 858l13-3 6 3-19 6 0-6zM1515 858l5-4 5 4-12 7-6-2 8-5zM1552 858l18 0-12 1-6-1zM1688 863l4-3 0 4-4-1zM1104 868l0-3 5 3-5 3 0-3zM1175 868l5-3 7-1 4 4 4 5-3 5-5 4-7 0-12-4 17-5-10-5zM1113 873l3-1 3 1-6 0zM1139 873l3-3 6 0 7 1 0 2-7 2-9-2zM1121 883l14 0-6 2-8-2zM1104 888l0-1 9 1-3 1-6 0 0-1zM1164 888l4-2 12-1 5 3-11 3-10-3zM1316 888l12-3 7 3-14 3-5-3zM1195 893l5-3 4 3-4 2-5-2zM1582 893l2 0-2 0zM1609 893l9 0-7 5 0 5-2 0-7 0-5-5 12-5zM1136 898l6-2 6-1 17 3-17 2-12-2zM1629 898l6-1 6 1-6 2-6-2zM1170 903l4-4 4 4-4 2-4-2zM1204 903l5 0-3 1-2-1zM1237 903l1-2 1 2-2 0zM1691 903l1 0-1 0zM1104 908l32-2 6 2-6 4-20-4-12 5 0-5zM1189 913l11-3 6 0 7 3-7 2-13-1-4-1zM1241 913l3-2 3 2-3 2-3-2zM1575 913l9-4 6 2 1 2-1 4-15-4zM1688 913l4-1 0 4-4-3zM1120 918l16-4 13 4-20 3-6-1-3-2zM1237 918l1-1 6 3 7 0 9 8-22 1-15-1 15-3 2-2-3-5zM1592 918l8 0-4 1-4-1zM1104 923l0-1 8 1-8 1 0-1zM1605 923l11-2 12 3 13-3 4 2-3 5-7 2-19-3-3 1-2 5-2 0-6-5 2-5zM1653 923l2 0-2 0zM1194 928l12-1 2 1-1 5-5 0-8-5zM1154 933l4 0-4 0zM1108 938l3 0-3 0zM1159 938l2-4 9 4-9 3-2-3zM1236 938l4 0-4 0zM1642 938l6-2 5 2-5 5 3 5-8 0 4-5-5-5zM1690 938l2-4 0 5-2-1zM1138 943l17-2 3 2-3 2-17-2zM1259 943l5-3 4 3-4 3-5-3zM1609 943l7-5 6 5 0 5-26 4-2-4 15-5zM1589 953l4 0-4 0zM1104 958l6-1 3 1-9 0zM1193 958l2 0-2 0zM1620 963l3 0-3 0zM1177 968l10-2 10 2-4 3-6 2-7-2-3-3zM1140 973l2 0-2 0zM1607 973l3 0-3 0zM1124 978l5-1 4 1-9 0zM1198 978l4 0-4 0zM1224 978l2 0-2 0zM1623 978l5-1 12 1-12 1-5-1zM1667 978l11 0-11 0zM1140 983l2-1 4 1-6 0zM1210 983l2-2 7 0 2 2-9 2-2-2zM1199 988l7 0-7 0zM1212 993l10 5-1 5 10 5-6 3-6-1-19-12 12-5zM1104 998l0-2 5 2-5 2 0-2zM1138 998l4-2 4 2-8 0zM1119 1003l4-1 6 1-3 5-3 1-8-1 4-5zM1158 1003l10-2 19 0 6 2-6 6-7-1-6-3-6 0-10-2zM1147 1008l3 0-3 0zM1154 1018l7-2 17 2-10 2-7 3-6 1-7 6-6 0-6-5-11-2 11-2 12 2 6-5zM1104 1023l0-2 7 2-1 3-6-2 0-1zM1184 1023l3-1 10 1 3 10-13-1-12-4 9-5zM1689 1028l3-2 0 2-3 0zM1151 1033l4-3 6 0 7 1 3 2-10 5-6-1-4-4zM1127 1043l9-3 4 3-4 1-9-1zM1177 1043l3-2 7 0 23 2-4 3-13-2-19 5-6 0-4-1 10-3 3-2zM1688 1043l4-1 0 2-4-1zM1128 1053l12 0-11 2-1-2zM1190 1053l3-1 6 1-6 1-3-1zM1210 1053l2-3 5 3-5 2-2-2zM1663 1058l10-3 19 1 0 3-19 1-10-2zM1193 1063l7-2 3 2-10 0zM1219 1063l6-2 7 3 2 4 6 5-2 1-6 0-7-2-11 1-2 2-31-2 25-3 6-6 7-1zM1658 1068l5 0-5 0zM1619 1073l9-2 3 2-15 7-2-2 5-5zM1669 1073l4-2 5 2-5 3-4-3zM1121 1078l2 0-2 0zM1104 1083l1 0-1 1 0-1zM1637 1083l4-1 8 6-8 1-3-1-1-5zM1690 1083l2-1 0 2-2-1zM1179 1093l8-2 3 2-3 1-8-1zM1609 1093l7-3 4 3-4 1-7-1zM1115 1108l1-2 4 2-5 0zM1133 1108l7 0-7 0zM1577 1108l14 0-1 2-13-2zM1682 1108l10-5 0 7-10-2zM1168 1118l6-1 2 1-2 1-6-1zM1222 1128l10 0-10 0zM1188 1133l18-2 4 2-4 2-13 3-5-5zM1615 1133l7-2 4 2-11 0zM1249 1143l8-1 20 1-20 2-8-2zM1143 1148l5-2 20 1 3 1 4 5-14 1-18-6zM1273 1153l10-1 3 1-3 2-10-2zM1641 1153l2 0-2 0zM1614 1158l4 0-4 0zM1171 1163l29-2 11 2-31 2-9-2zM1634 1163l2 0-2 0zM1104 1173l0-2 10 2-10 2 0-2zM1608 1173l14-3 6 0 5 3-5 3-12 0-7 2-1 0 0-5zM1686 1173l6-2 0 5-6-3zM1231 1178l7-5 11 5-18 0zM1271 1178l6 0-6 0zM1438 1178l5-4 19 2 3 2-9 2-18-2zM1535 1178l5 0-1 2-4-2zM1566 1178l13 0-13 0zM1178 1188l2-1 4 1-4 1-2-1zM1461 1188l8 0-8 0zM1519 1188l9 0-9 0zM1205 1193l7-3 9 3-1 5-8 1-13-1 6-5zM1353 1193l0-2 0 2zM1418 1198l6-2 6 2-12 0zM1639 1203l19 0-19 0zM1121 1208l2-2 5 2-7 0zM1153 1208l8-2 2 2-2 2-8-2zM1556 1208l2-1 2 1-4 0zM1687 1208l5-1 0 2-5-1zM1104 1223l0-1 2 1-2 1 0-1zM1600 1238l11 0-11 0z"/>
<path fill="#1038f0" fill-rule="evenodd" d="M1538 173l4 0-4 0zM1320 193l1 0-1 0zM1506 233l2 0-2 0zM1255 268l9-3 7 3-14 7-9-2 7-5zM1204 278l2-3 6 0 3 3-11 0zM1263 278l13 0-6 1-7-1zM1204 288l21 4 13-2 6 2 0 2-3 4 8 5 8 2 2 3 0 5-7 5 12 0 15-5-3-5-12-5 5-5 20-8 8 3-20 10 12 4 4 6 7 5-4 6-13-2-18 6 0 5 11 1 7 6 25 5 9 3-9 3-12 0-20-3-6 1-6-5-13 1-13-2-6-5 8-5 4-5-5-5 5-5-6-3-19-1-4 4 19 5-4 5-5 2-13-1-12 7-7 0-9-3-1-10-17-5 8-11 12 1 1 1 13-2 12 2 3-11-12-5 1-5zM1225 300l-2 3 2 3 7-1 5-2-5-3-7 0zM1161 333l1 0-1 0zM1285 333l23-2 9 2-32 0zM1203 338l3-2 23 2-10 2-5 3 5 3 13 0 4 2-4 4-7 1-5 5 5 2 7-6 19-1 6 3 19-3 20 3 12 4 4 3-4 4-12 1-3-5-4-3-13 3-6 4-5 1 5 0 6 4 0 3-6 2-6-1-7 3-13 3-6 4-6 0-13-5-2-3 2-2 19 3 3-1 3-6 7-3 11-1-30-5-3 5-10 2-19-6-13 2-3-3 4-5 19-5-11-5-5-5 2-3 10-2zM1155 343l19-3 4 3-10 2-13-2zM1154 353l14-3 7 3-7 3-14-3zM1166 373l21-3 2 3-15 1-8-1zM1280 378l9-1 4 1-4 1-9-1zM1165 383l6 0-6 0zM1313 383l8-1 6 1-6 2-8-2zM1225 393l13-3 7 3-7 1-13-1zM1165 403l3-2 6-1 10 3-10 2-9-2zM1289 403l1 0-1 0zM1201 408l5-2 6-1 9 3-15 1-5-1zM1666 408l1 0-1 0zM1138 413l4-3 13 3-7 3-6 0-4-3zM1255 413l13 0-11 1-2-1zM1282 418l3 0-3 0zM1404 418l10 0-10 0zM1255 423l9-1 5 1-5 1-9-1zM1147 428l8 0 13 2 5 3 5 5-10 1-13-3-6-3-2-5zM1242 433l9-2 3 2-3 1-9-1zM1276 433l1 0-1 0zM1295 433l1 0-1 0zM1216 438l3-2 6 2-6 1-3-1zM1185 448l8-2 6 2-6 2-8-2zM1206 448l14 0-2 5-6 2-8-2 2-5zM1228 448l4-2 12 1 16 6-16 5-16-5 0-5zM1262 448l8 0-6 2-2-2zM1320 453l8 0-8 0zM1285 458l4-3 8 3-8 1-4-1zM1333 458l5 0-5 0zM1138 463l4-2 10 2-1 5-9-2-4-3zM1231 463l6 0-5 1-1-1zM1373 463l6 0-6 0zM1164 468l4-3 6 0 5 3-5 4-10-4zM1192 468l20-3 7 0 6 3-6 3-15 2 12 5-4 3-6 0-14-8 0-5zM1265 468l5-2 13 1 6 3 7-2 6 0-6 2-2 3-5 0-9 0-4-3-6 1-5-3zM1230 473l8 1 13-1 2 5-9 2-12 0-3-2 1-5zM1268 478l2-2 4 2-4 2-2-2zM1137 483l5-3 23 3-17 3-6 0-5-3zM1168 488l6-2 23 2-4 2-13-1-6 4-6 1-7-1 7-5zM1208 488l4-3 13-2 7 6 6 1 1 3-7 2-24-7zM1245 488l12-3 5 3-5 2-12-2zM1133 498l9-2 5 2-5 1-9-1zM1184 498l3-1 13 4 12-2 7 7 6 2-6 2-7 5 0-7-12-3-20-1-19 3-6-2-2-2 2-1 6-2 13 2 6-1 4-3zM1248 498l9-2 21 2-14 1-6 4-7 1-6-1 3-5zM1334 498l6-1 7 4 12 2-6 2-13-1-12 1-12-2 18-5zM1289 503l7-2 12 0 7 2 2 5-9 1-12-1-7-5zM1115 513l21-1 10 6-4 2-6 0-7-4-14-3zM1188 513l5-2 3 2-3 1-5-1zM1353 513l7-5 1 5-5 5-9 1-6-1 6-1 6-4zM1435 513l3 0-1 5-7 1-1-1 6-5zM1199 518l1-2 6 0 5 2-3 5 14 5-3 5-8 5-11 2-7 0 0-3 10-4-3-3-5-2 0-5 4-5zM1216 518l13 0-13 0zM1242 518l9-2 4 7-4 1-9-6zM1285 518l11-1 11 1-22 0zM1371 518l14-4 3 4-3 2-6 0-8-2zM1147 523l1-2 7 0 5 2-6 5 7 2 6-2 7-6 4 6-8 5-15 4-7-2-12 1-3-3 14-10zM1319 523l6 0-6 0zM1276 528l7-2 6 0 3 2-3 1-13-1zM1310 528l5-3 2 3-7 0zM1339 528l1-2 7 0 5 2-5 2-8-2zM1362 528l10-1 6 1-12 1-4-1zM1237 533l7-2 13 7-5 5-2 5 14 3 6 4 19 4 7-2 5-4-4-5 17-5 7-8 7 0 4 3-17 7-1 3-5 5 6 4 6 1 13-3 0 4-13-1-6 3-13 0-13 5-19 3-14-1 0 5-1 5 2 2 7 3 25 4 7-1 20 2 7 10-2 5-13-4-6 1-13 5-6-2 12-5-6-4-6 1-13 6-6-3 5-5-5-10-8 5-14 5 9 5-13 4-6 1-13-4-7 0-19 5-13 0-2-1 2-4 7 2 13-7 12 3 9-4-2-2-16-3-3-5-7-3-17 3 20 5-16 4-12-4-7 0-6 2-10-7 3-2 13-2 7-4 12-1 7-5 6-3 7 3 12 1 3 3-2 5 1 5 5 1 13 1 12-2-8-10 5-10 3-2 13-1 5-2-5-3-6-1-7 2-6-1-3-2 5-5 2-5-11-5 6-5zM1409 533l9 0-9 0zM1357 538l3-3 6 0 9 3-2 5-7 0-6-2-3-3zM1511 538l4 0-4 0zM1122 543l1 0-1 0zM1178 543l8 0-8 0zM1435 543l3 0-3 0zM1140 548l15-2 8 2-8 3-15-3zM1268 548l15-2 7 2-14 2-6 0-2-2zM1122 553l9 0-9 0zM1172 553l8-3 7 1 11 7 4 5-2 1-7-4-12 3-2 5-5 3-19-3-10-5 3-2 7 0 6 6 17-4-6-10zM1425 553l9 0-9 0zM1376 558l3 0-3 0zM1392 558l6-2 2 2-2 3-6-3zM1339 563l9 0-9 0zM1218 568l1-1 1 1-2 0zM1303 568l5-4 13 1 28 8 3 5 7 5-6 1-5-1-11-5-9-1-7-2-1-2-5-1-13 4-11-3 12-5zM1364 568l9 0-9 0zM1491 568l10 0-1 2-6 1-3-3zM1382 573l7 0-7 0zM1430 573l6-1 5 1-11 0zM1271 578l7 0-7 0zM1368 578l4-2 5 2-5 4-4-4zM1330 588l4-3 6-1 3 4-3 2-6 0-4-2zM1360 588l12-5 7 0 6 5-13 3-6 0-6-3zM1388 588l5 0-5 0zM1104 593l1 0-1 0zM1357 598l7 0-7 0zM1383 598l9-2 6 2-4 5 4 5-6 5 2 5-2 2-13-1-7 5-15-6-5-5 8-5 2 5 4 3 6 1 7-3 1-1 0-5-8-5 11-5zM1336 603l11-2 4 2-11 5-4-5zM1197 608l3-3 8 8-2 2-11 3 6 5-21 3-1-3 14-5 0-5 4-5zM1238 608l0-3 17 3-11 2-5 3 5 5 13-4 10-1-8-5 11-3 6 0 14 8-18 5 11 4 25-3 8 4-8 2-25-2-6 5 12 5 7 0-31 5 18 5-19 2-7 5-13-2-12 5-7-1-6-4 6-5-14-5 4-10 13 0 4 5-2 5 8 7 6 2 7-5 13-5 2-4-2-3-13 0-5-2 11-5-6-4-7-1-30 0 7-5 11-1 6-4zM1308 613l9 0-2 4-7-4zM1155 618l0 5-3 0 3-5zM1324 618l4 0-4 0zM1410 618l3 0-3 0zM1122 623l13 0-13 0zM1334 628l6-3 8 3-8 6-5-1-1-5zM1457 628l14 0-3 2-11-2zM1192 633l3 0-3 0zM1388 633l4-3 25 6 7-5 6-2 8 4-14 6-7 0-13 4-17-5 1-5zM1142 638l1 0-1 0zM1305 643l3-2 7-1 3 3-3 1-10-1zM1368 643l4-2 8 2-8 1-4-1zM1455 643l12 0-5 1-7-1zM1388 648l4-3 6-1 5 4-11 2-4-2zM1157 653l4-2 10 2 3 6 15 4-15 3-6 4-7 0-3-2 3-5 3 0-7-10zM1260 653l4-2 12 0 13-3 7 7 12 0 7 3-7 2-12 1-7 6-6 0-13-2-19 3-2-5-5-1-6 4-6 0-7-2-2-1 2-5 7-5 19 3 6 4 19 2 10-4-10-4-16-1zM1370 653l7 0-7 0zM1691 653l1-2 0 2-1 0zM1315 658l13-1 3 1-16 0zM1388 658l7 0-7 0zM1410 658l1-2 13 0 12 2-19 3-7-3zM1358 663l14-3 5 3-17 5 1 5-1 2-7 0-6 0-4-2-2-5 6-4 11-1zM1198 668l2-1 6 1-8 0zM1296 668l6-2 6 0 11 7-4 3-7-1-6-5-6-2zM1327 668l10 0-10 0zM1389 668l12 0-3 3-6 0-3-3zM1104 673l1 0-1 0zM1508 673l5-1 4 1-4 1-5-1zM1164 678l23-2 11 2-11 2-5 3 7 5-4 5-5 2-4-2 4-5-12-5-4-5zM1322 678l12-4 6 1 2 3-2 2-12 2-7 3-5-2 6-5zM1364 678l15 0 21 5-5 5 0 5-7 0-3-5-6-5-16 0 1-5zM1421 678l4 0-4 0zM1254 683l3-5 7 0 31 5-6 3-19 1-13-1-3-3zM1222 688l3-2 6 2-6 4-3-4zM1691 688l1-1 0 2-1-1zM1219 693l13 2 9-2 3-4 11 9-4 5 15 5-9 2-6 0-7-2-6-4-6-2-7 4-6-1-3-2 4-5-1-5zM1372 693l7-1 4 1-11 1 0-1zM1409 693l13 0-13 0zM1425 693l11-1 13 3 9 8-2 1-20 1-3 3-1 5-8 5-39-3-9 3 6 5 1 5 9 3 6 4 19-2 13 3 19 0 4 2-4 3-10 2-3 8-6-3 6-5-6-3-13 1-38 1-13-12-6 1-13-1-2-2 5-5-11-5 1-2 7-2 6-1 7 4 6-1 6-3 3-5 4-1 13 4 25 1 5-4-4-5 12-2 8-3-2-2-11-3zM1272 698l4-3 13 3 13-1 6-4 32 1 20 5 7-1 0 5-13 0-1-5-38 3-13 0 0 2 6 10 7 1 3 4-1 5-15 1-18-6 11-5-17-5-6-10zM1481 698l7 0-7 0zM1510 698l16-2 5 2-11 6-14-1 4-5zM1398 703l6-4 13 4-13 1-6-1zM1323 708l5-2 6 2-6 4-7 2-1-1 3-5zM1461 708l7-2 7 0 6 3 18 4-15 5-22 3-8-3 2-5 5-5zM1199 713l7-2 4 2 28 3 7 7-1 1-6 2-13-5-6 0-5 2 4 5 1 5-7 2-12 0-3-2 9-9 2-1-11-5 2-5zM1440 713l14 0-14 0zM1267 718l3-2 11 2-11 5-3-5zM1169 723l13 0-8 6-8-1 3-5zM1414 723l3-3 7-2 6 3 9 2-9 1-6 5-7 1-3-7zM1256 728l8-2 0 2-8 0zM1283 728l6-4 7 0 1 4-1 1-7 2-6-3zM1465 728l3-3 16 3-9 3-7 0-3-3zM1507 728l6-2 7 2-7 2-6-2zM1248 733l3-3 6 5 7 2 25-1 7 1 0 2-7 2-6-2-13-1-6 5 6 3 13 2 6-3 19 0 6-2 2-5 5-5 13 2 6-2 7 0 6 5 1 5-11 5 10 4 7-2 4 3 4 5-8 4-2-4-5-5-13 1-2-6-10-7-9 2-1 5-22 2-4 3-2 5 9 10-3 1-7-1-7-5 5-5-23-4-13 1-7-2-1 0 1-1 18-4-5-2-13-1-22-7 10-1 12 3 8-2-4-5zM1687 733l5-3 0 5-5-2zM1576 738l1 0-1 0zM1460 748l15-4 6 2 2 2-7 5 12 5-14 0-14-10zM1161 753l10 0-3 1-7-1zM1216 753l9-2 4 2-4 2-9-2zM1405 753l31 1 3 4-3 3-19-1-6-5-6-2zM1317 758l4-3 7 0 19 6 6 0 13 4 26-7 19 2 3 3-3 3-32 0-13 7 6 2 13 1 4 2-17 7-6 1-13-6-19-3-6 1 12 1 2 4-2 1-19 2-6 0-23-8 10-6 19 7 6-1-2-5 3-2 15-3-15-7-7-1-4-2zM1186 768l2 0-2 0zM1236 768l2-3 6 0 4 3-4 2-6 0-2-2zM1262 768l8-2 4 2-4 3-8-3zM1391 773l1 0-1 0zM1424 773l6-3 28 3-28 2-6-2zM1394 778l4-3 17 8-11 6-6 0-2-1 0-5-2-5zM1227 783l5 0-5 0zM1429 783l20-1 9 1-9 2-6-1-5 4 5 3 6 0 33 12-7 4-26-2-4-2 2-5-4-3-17-2 3-10zM1200 788l19-3 6 3-6 3-19-3zM1518 788l2 0-2 0zM1565 788l6-3 6 0 7 3-7 3-6 0-6-3zM1280 793l3-3 13 1 4 2-8 5 16 5-6 3-6 0-13-6-13 3-9 0 4-5 5-3 10-2zM1341 793l6-3 13 2 12-2 10 3-3 3-7 0-6 3-5 4-2 5-6 1-6-1 6-5-6-7-6-3zM1238 798l6-3 0 3-6 0zM1324 798l4-1 12 6-6 4-13-2-4-2 7-5zM1385 803l7-5 6 0 5 5-5 4-6 0-7-4zM1223 808l6 0-4 2-2-2zM1405 808l6-1 8 1-8 2-6-2zM1278 813l5-1 8 1-8 3-5-3zM1499 813l12 0-4 1-7 7-6-3 5-5zM1130 818l6-2 3 2-3 2-6-2zM1353 818l7-1 12 2 7-1 6 5-13 2-6-1-13 1-4-2 4-5zM1470 818l5-2 6 0 7 2-7 2-11-2zM1252 823l5-1 2 1-7 0zM1386 823l31-3 5 3 3 5-10 5 5 5 1 5 3 1 6 1 13-1 6 4 3 5-3 2-25-2-13 3-6-3-1-3-15-2 3-4 6 1 6-4 2-3-8-7-11-3-1-5zM1433 823l10-1 2 1-2 5-7 0-3-5zM1505 823l3 0-3 0zM1270 828l2 0-2 0zM1292 828l4-2 2 2-2 1-4-1zM1104 833l1 0-1 0zM1300 833l2-3 6 0 3 3-3 3-8-3zM1336 833l4-3 11 3-11 1-4-1zM1360 833l7 0-7 0zM1463 833l12-4 19 1 1 3-27 3-5-3zM1510 833l6 0-5 5-4 2-4-2 7-5zM1204 838l3 0-3 0zM1279 838l6 0-6 0zM1448 838l8-1 4 1-11 2-1-2zM1266 843l4-3 6-1 2 4-8 5-6 0-2 0 2-1 2-4zM1338 843l9-2 6 2-6 2-9-2zM1244 848l7-2 5 2-5 1-7-1zM1287 848l15-2 13 5 6-1 15 3-32 10 27 10 3 5-6 1-13-4-19-11-25-6 18-5 13 1 5-1-5-2-13 2-2-5zM1464 848l11-3 5 3-9 5 17 2 5 3-5 3-14 2 7 2 19 2 7 4 6 8 7 1 6-2 13 4 32-1 4 2-4 1-51 1-8 3 4 5-4 5-5 4-7 1-8-5 2-1 3-4-3-3-6-1-7 2-6 0-3-3 16-2 8-3-2-1-2-4-4-2-7 3-6 1-26-7-13 6-12 1-2 3 0 10-5 1-13 0-12-5-10-1-7-10 4-1 6 3 7-1 6-3 6 0 7 4 6-1 16-6-1-5-4-5 2-1 13-1 9 2-2 5 6 3 6-8-6-2-2-3 12-5-2-5zM1381 853l4-3 7 6 6 2 4 5-10 3-7 0-6 3-9-1 5-5-5-5 11-5zM1167 858l7 0-7 0zM1255 858l14 0-5 1-9-1zM1691 863l1-1 0 1-1 0zM1104 868l0-2 2 2-2 2 0-2zM1340 868l7-3 15 3-2 7-7 2-14-4 1-5zM1422 868l2 0-2 0zM1384 873l1-1 3 1-4 0zM1410 873l2 0-2 0zM1538 873l2 0-2 0zM1174 878l10 0-10 0zM1270 878l13-3 4 3-4 3-13-3zM1298 883l4 0-4 0zM1346 883l7-3 3 3-3 2-7-2zM1449 883l7-4 6 0 6 1 1 3-7 3-13-3zM1167 888l7-2 5 2-5 1-7-1zM1286 888l3-5 3 5 6 5-15 1-19-1 12-1 10-4zM1199 893l1 0-1 0zM1145 898l14 0-14 0zM1328 898l12-2 20 2-9 5-11 1-6 0-6-6zM1602 898l3 0-3 0zM1293 903l3-1 6 1-6 2-3-2zM1388 903l4-4 12 2 13 5 19-1 2 3-8 4-6 0-13-3-7-3-16-3zM1523 903l22-4 13 7 8 2-8 3-6 0-13-3-18 5 2 5-10 0-14 10 0 5 11 5 4 5-7 1-4 4 4 2 6 0 7-2 6 2 13-1 13 6 12 0 2 3-2 1-12 1-10 3 22 3 4 2 3 5-5 5 7 5-9 5 7 1 13-4 4 3 2 4 22 1-16 1-1 4-5 3-19 2 23 5-18 5 8 3 12 0 5-3-4-5 1-5 5-3 6 0 5 3-5 5-2 5 15 4 2 1-1 5-1 1-6 1-7-1-6 4 6 3 19-1 4 3-10 2-13-1-6 1-2 3 1 5 7 1 28-1-6 5 9 5 1 2 14 3-7 2-7-1-13-4-6-4-6 2-13-3-9 3 2 5-1 5-5 1-3 4 4 5-1 0-13 2-13-3-9 1-5 5-16 5-3 5 1 10 26 10-12 5 12 5-5 5-10 15 2 2 7 1 6-1 3-2-6-10 16 0 4 5 1 5-5 6-26 0-19-8-13-1-10 3 4 3 6 1 8 6-8 0-6-3-26 0-6-2-3-5-4-2-6-1-19 0-6-2 6-4 10-1 0-5-8-5 16-5 1-5 19 1 10-6-14-5 17-3 13 3-2-5-5-3-19-1-6 1-2 8-5 2-12 2-13 4-26 2-1 5 1 2 14 3 4 5-19 0 2 5-9 5 3 5-3 5 1 5 14-4 2-1 2-5 2-2 6-2 2 4 11 2 4 3-12 5-13 10-17 6-7 0-6-6-6-1-20 5-28-4-4-4-9-1-8-5 5-3 12-1 1-1-7-2-6-6-11-2 4-5-3-5 15-5-7-5 6-5-4-5-7 0-6 3-7 0-3-3 10-3 2-2-2-5 6-4 0-3-6 0-7 3-9-1 4-5-14-1-13 1-7-5 2-5 5-1 13 3 13-2-13-8-12-2-3-5-4-1-8 1 2 4 11 1-18 0-24-5 11-5-15-5 3-3 13-2-7-3-6 0-2-2 2-4 3-1-3-1-7-7-8-2 8-1 7-5 3 1-1 5 4 1 6 1 13-1 13 6 10-2-4-5-12-1-4-4 14-10-4-5 13-3 13 4 12 0 5-1-11-5-5-5-8-1-11-9 5-3 6 1 7 3 6-1 5-5 8-3 4-2 1-5-12-4-12 4-7-1-6 1-7 3-8-3 23-10-2-3-7-2 7-2 7 0 12 10 20 0 4-3-11-4-4-6 14-5-3-4-12-1 12-1 6-4 18-5-5-2-13 0-6 0-7 3-11-1-7-5 10-5-12-5 14-3 6-3 5 1-5 5 7 5 12 3 7-1 3-2 3-5 26 2 4 3-4 2-7 1-12-2-7 4 1 5 8 5-17 5 8 2 19 0 3-2 2-5 8-3 26 1 9 2-7 5 4 2 7 8-2 5-5 4-8 1 9 5-14 10-6 1-4-1-1-5-1-1-7 4-13 0-1 2 1 1 7 1 6 6 13 1 19-7 13 1 2-3 17 0 12-5 2-5-1-3-19-4-5-3 5-3 6-1 7 6 6 2 6-2 7 1 13 9 9-2-15-10 4-5-3-5-15-8-16-2 4-4 11-1-6-5 7-3 11 3-10 5 12 2 2-2 0-5 2-5 15 1 7-1-2-5 18-10zM1526 954l-5 4 5 5-10 5-5 5 14 5-12 5 13 7 10 3 8 10 13 0-1-5-11-3-2-2 8-5-21-5 1-5 15-5-14-2-4-3 5-5 1-5-2-3-6-1zM1564 997l-3 1 3 1 2-1-2-1zM1584 1022l-2 1 2 0 6 1 4-1-4-2-6 1zM1468 1116l-11 7 5 3 13 1 6 8 7 1 12-1 7-7 13 1 2-1-2-3-7 2-2-4 2-3 7 0 3-2-3-1-26-4-13 3-13 0zM1289 1012l7 1-7-1zM1321 996l-4 2 4 1 7-1-7-2zM1334 964l-3 4-1 5 4 1 13-1 6 2 6-7-12-3-13-1zM1340 952l-1 1 1 0 10 0-10-1zM1360 946l-2 2 2 1 12 6 13 0 4-2-4-4-6 0-7-3-6-1-6 1zM1392 955l-3 3 3 1 10-1-10-3zM1398 941l-3 2 3 1 3-1-3-2zM1424 979l-4 4 4 3 25 0 1 2-7 4-7 1-25-4-7-4-6-2-13 2-13-1-3 4 10 4 13-4 12 3 4 2 0 5 9 0 5 5 8 2 19-1 13 2 8-3-16-5 8-4 25-1-10-5 4-1 7 1 6 2 6 0 6-2-25-8-25 3-26-5-6 1zM1488 971l-2 2 2 1 6 1 4-2-4-2-6 0zM1488 932l-2 1 2 0 1 0-1-1zM1526 1072l-4 1 4 1 19 1 5-2-11-2-13 1zM1564 1062l-2 1 9 2 10-2-17-1zM1321 1006l-3 2 3 1 7 1 9-2-16-2zM1347 1116l-6 2 12 9 7-1 5-3 2-5-1-3-19 1zM1372 1102l-1 1 2 5 6 1 7-1-2-5-12-1zM1392 1142l8 1-8-1zM1411 1072l-4 1 4 1 19 1 19 4 6 4-17 5-2 5-6-1-6-5-7-1-6 1-7 10-12 1 12 0 7 3 6 7 7-3 1-2-6-5 5-3 6-2 26-1 11-4-1-5 2-5-6-3-6 0-7-5-19 0-19 2zM1488 1001l-4 2 4 1 10-1-4-2-6 0zM1526 1106l-3 2 3 3 6-1 1-2-7-2zM1334 1072l4 1-4-1zM1347 1146l-5 2 5 4 2-4-2-2zM1353 1152l-4 1 4 1 7-1 12 2 7 0 3-2-3-2-7-1-12 3-7-1zM1360 1130l-5 3 5 2 12 0 7 3 6-1 4-4-4-2-13 1-12-2zM1265 908l5-1 6 3 7 0 6 1 1 2-7 4-7 0-7-4-4-5zM1351 908l2-4 9 4-2 4-7 1-2-5zM1481 908l7-3 6 1 2 2-8 3-7-1 0-2zM1195 913l11-1 3 1-14 0zM1468 913l9 0-2 1-7-1zM1579 913l5-2 4 2-4 1-5-1zM1126 918l7 0-7 0zM1444 918l5-1 9 1-9 3-5-3zM1533 918l12-2 7 0 6 4 12 3-12 3-10 7 4 3 6 2 17 0-11 6-6 1-13 0-19 1-4-3 10-5-15-5 9-4 6-5 15-1-14-5zM1274 923l2-5 7 0 17 5-17 7-7 0-4-2 2-5zM1390 923l8-3 7 3-7 1-8-1zM1426 923l4-3 11 3-11 1-4-1zM1612 923l5 0-5 0zM1628 928l7-2 2 2-9 0zM1295 933l7-2 4 2-4 3-6-2-1-1zM1280 938l3-1 9 1-3 2-6 0-3-2zM1435 938l1-2 13-2 3 4-3 3-6 1-7-1-1-3zM1646 938l3 0-1 1-2-1zM1455 943l7 0-7 0zM1600 948l16-3 3 3-10 1-9-1zM1183 968l11 0-7 2-4-2zM1294 978l2-1 4 1-4 1-2-1zM1628 978l1 0-1 0zM1104 998l1 0-1 0zM1205 998l7-3 6 3-6 4-7-4zM1161 1003l11 0-11 0zM1178 1003l11 0-2 3-9-3zM1219 1008l6-1 2 1-2 1-6-1zM1659 1008l2 0-2 0zM1179 1028l8-3 6 1 2 2-2 1-6 1-8-2zM1645 1028l9-3 5 3-5 1-9-1zM1155 1033l6-1 6 1-6 2-6-2zM1212 1033l7-1 8 1-15 0zM1642 1038l6-2 8 2-8 2-6-2zM1663 1038l10-1 2 1-8 1-4-1zM1183 1043l8 0-8 0zM1195 1043l11 0-11 0zM1688 1058l4 0-4 0zM1210 1068l9-4 6 0 6 4-6 2-13 1-2-3zM1197 1073l8 0-8 0zM1672 1073l2 0-2 0zM1581 1083l4 0-1 1-3-1zM1539 1088l6-4 13 3 3 1 2 5-11 6-19-6 6-5zM1593 1088l6 0-3 1-3-1zM1276 1093l7-1 5 1-5 1-7-1zM1576 1093l3 0-3 0zM1287 1103l9 0 5 5-8 5-4 5-6 2-8-2 11-5-4-5 1-3 4-2zM1685 1108l7-3 0 4-7-1zM1603 1123l1 0-1 0zM1585 1128l11-2 2 2-8 1-5-1zM1194 1133l12 0-6 1-6-1zM1255 1143l5 0-5 0zM1153 1148l11 0-3 3-8-3zM1529 1148l10-3 1 3-1 2-10-2zM1547 1153l13 0-13 0zM1454 1158l2-1 6 3 3 3-3 2-6 0-6-2 4-5zM1528 1158l7 0-7 0zM1562 1163l11 0-9 1-2-1zM1320 1168l14-2 8 2-8 1-14-1zM1361 1168l5-3 7 3-7 1-5-1zM1390 1168l4 0-4 0zM1468 1168l13-3 2 3-8 1-7-1zM1498 1168l2-1 7 0 6 4 9 2-9 2-13-1-3-1 1-5zM1550 1168l8 0-8 0zM1104 1173l4 0-4 0zM1613 1173l9-2 7 2-7 1-9-1zM1691 1173l1-1 0 2-1-1zM1384 1178l1-2 7 1 9 6-9 1-10-1 2-5zM1453 1178l4 0-4 0zM1364 1188l2-2 1 2-3 0zM1209 1193l3-1 4 1-4 4-3-4z"/>
<path fill="#2a78ff" fill-rule="evenodd" d="M1261 268l3-1 2 1-2 1-3-1zM1209 293l3-2 9 2-2 4-10-4zM1285 293l4-2 4 2-4 2-4-2zM1272 298l11-3 1 3-8 3-4-3zM1230 308l14-4 7 1 5 3-5 4-13 1-14 0 6-5zM1198 313l2-2 6 0 4 2 0 5 19 5-4 4-13 0-12 5-7-1-6-8-7-4-10-1 4-3 24-2zM1285 313l4-1 1 1-4 5-16 7-19 2-7-4 7-3 19-1 15-6zM1212 338l2 0-2 0zM1237 338l7-5 7 7 6 1 1-3 6-3 6 0 6 1 7 6 5 1-12 2-6-3-6-1-13 2-14-5zM1196 343l4-1 6 1 3 5-3 1-10-6zM1221 348l9 0-5 2-4-2zM1288 348l1-3 7 0 16 3-10 2-14-2zM1160 353l8 0-8 0zM1212 353l0-2 3 2-2 5 10 5-4 4-13-3-6-3-7 0-3-3 16-2 6-3zM1232 358l6-3 6 0 13 4 19-4 10 3-22 7-7 0-3-2-3-4-7 2-6 0-6-3zM1299 363l3-2 7 2-7 2-3-2zM1248 373l3-2 6 0 6 2-12 5-2 0-1-5zM1264 373l7 0-7 0zM1228 383l4-2 8 2-2 1-6 0-4-1zM1170 403l4-1 5 1-5 1-4-1zM1140 413l2-2 10 2-4 2-6 0-2-2zM1152 433l3-3 13 3 0 2-7 0-9-2zM1173 438l1 0-1 0zM1211 453l1-2 1 2-2 0zM1233 453l5-3 14 3-14 1-5-1zM1141 463l3 0-3 0zM1199 468l13-2 10 2-3 2-7 0-6-2-6 1-1-1zM1205 478l5 0-5 0zM1141 483l7-1 11 1-11 1-7-1zM1174 488l15 0-15 0zM1213 488l6-2 7 2-7 1-6-1zM1229 493l3-2 3 2-6 0zM1135 498l9 0-9 0zM1156 503l5-2 13 2-13 2-5-2zM1189 503l24 0-7 1-17-1zM1250 503l2 0-2 0zM1293 503l9-1 9 1-3 5-12-3-3-2zM1326 503l9 0-9 0zM1123 513l13 0 0 2-13-2zM1138 518l4 0-4 0zM1204 528l2-2 11 2-5 4-6-2-2-2zM1346 528l1 0-1 0zM1235 538l3-3 6 0 6 3-6 3-9-3zM1324 538l4 0-4 0zM1362 538l9 0-5 2-4-2zM1147 548l11 0-3 1-8-1zM1302 548l8 0-2 1-6-1zM1176 553l10 0 5 5-4 1-6-1-5-5zM1239 553l5-3 7 3 9 0-16 1-5-1zM1299 558l3-3 6 0 5 3-5 2-6 0-3-2zM1148 563l3 0-3 0zM1247 563l12 0-8 3-4-3zM1276 563l7-3 10 3-10 2-7-2zM1244 568l0-2 7 4 1 3-1 3-7 0-4-3 4-5zM1268 568l3 0-3 0zM1306 568l2-2 7-1 8 3-15 4-2-4zM1188 573l5-3 19 3-6 7-13-4-5-3zM1299 573l3-2 4 2-4 1-3-1zM1326 573l2-2 15 2-3 2-14-2zM1167 578l4 0-1 5-2 1-13 1-4-2 10-2 6-3zM1177 588l3-2 9 2-9 1-3-1zM1216 588l28-3 6 3-12 5 4 5-10 2-12-2 5-5-9-5zM1269 588l7-2 6 2 3 5-9 2-7-7zM1363 588l9-3 8 3-8 2-9-2zM1197 598l3-2 10 2-10 2-3-2zM1268 598l2-2 2 2-4 0zM1390 598l3 0-1 1-2-1zM1286 603l3-1 3 1-3 1-3-1zM1343 603l4 0-4 0zM1380 603l5-2 3 2-3 4-5-4zM1267 608l9-1 8 6-8 0-9-5zM1199 613l1-1 2 1-3 0zM1256 618l9 0-1 2-8-2zM1184 623l6 0-6 0zM1267 623l3-1 2 1-2 2-3-2zM1289 623l13-1 8 1-21 0zM1249 628l8-3 6 3-6 1-8-1zM1218 633l7-2 1 2 0 5-7 1-4-1 3-5zM1269 633l1-2 6-1 8 3-8 2-7-2zM1425 633l5-2 4 2-4 2-5-2zM1390 638l2-3 12 0 7 3-7 3-14-3zM1422 638l2-2 0 2-2 0zM1256 643l8-3 8 3-15 2-1-2zM1222 648l3-3 7-1 5 4-5 2-10-2zM1250 648l2 0-2 0zM1390 648l8-2 2 2-8 1-2-1zM1263 653l20-2 4 2-4 1-20-1zM1229 658l3-2 19 2-7 1-6 5-6 0-4-1 1-5zM1176 663l7 0-7 0zM1254 663l3-2 14 2-14 2-3-2zM1279 663l4-2 7 2-7 2-4-2zM1363 663l11 0-8 1-3-1zM1345 668l8-2 3 2 1 5-4 1-6-1-2-5zM1327 678l7-2 4 2-4 1-7-1zM1173 683l2 0-2 0zM1256 683l1-2 7-1 12 2 14 1-26 2-8-2zM1227 698l17-4 8 4-8 7-6-4-11-3zM1276 698l2 0-2 0zM1307 698l8-3 6 0 17 3-23 2-8-2zM1517 698l10 0-7 1-3-1zM1221 703l4-2 1 2-5 0zM1280 703l3-3 13 1 7 7 0 5-20-7-3-3zM1439 703l4-4 7 4-11 0zM1248 708l3-2 11 2-5 1-9-1zM1468 708l24 5-11 4-13-2-6 4-3-1 2-5 7-5zM1376 713l3-3 4 3-4 1-3-1zM1400 713l14 0-10 1-4-1zM1201 718l5-2 26 0 6 2 2 5-2 1-19-5-7 2-11-3zM1343 718l4-2 6-1 7 4 7-1 5 5-12 6-7-1 1-5-1-1-10-4zM1205 728l1-1 6 1 2 5-13 0 4-5zM1287 728l2-1 3 1-3 1-2-1zM1468 728l7-2 5 2-5 2-7-2zM1512 728l3 0-3 0zM1373 733l6-4 6 1 5 3-1 5-4 2-6 0-6-7zM1690 733l2-1 0 2-2-1zM1256 738l3 0 0 5-2 1-6 0-10-1 15-5zM1318 738l3-3 13 1 6-1 7 0 3 3-2 5-8 3-6-5-6-1-7 1-3-3zM1396 738l8-2 13-1 10 3-10 2-13 0-8-2zM1437 738l12 0-6 1-6-1zM1302 748l9 0-9 0zM1464 748l4-1 9 1-9 3-4-3zM1247 753l4-1 7 1-7 1-4-1zM1268 753l2-2 6-1 13 3-6 2-15-2zM1320 758l8-1 4 1-4 1-8-1zM1419 758l11-3 5 3-5 2-11-2zM1336 763l4-1 6 1-6 1-4-1zM1381 763l11-3 12 1 7 2-13 2-17-2zM1239 768l6 0-6 0zM1268 768l3 0-3 0zM1347 768l6-2 2 2-8 0zM1368 768l5 0-5 0zM1328 773l6-2 6 0 3 2-3 2-6 1-6-3zM1429 773l4 0-4 0zM1300 778l8-2 3 2-3 2-8-2zM1352 778l8-2 23 2-11 5-6 1-6-5-8-1zM1317 783l11-1 7 1-18 0zM1406 783l5 0-5 0zM1205 788l14 0-14 0zM1568 788l9-2 4 2-4 2-9-2zM1269 798l14-1 3 1-16 1-1-1zM1352 798l1-2 7-1 3 3-3 3-8-3zM1452 798l4-1 21 6-2 2-19-2-3 0-1-5zM1293 803l3-2 6 2-6 1-3-1zM1323 803l5-3 9 3-3 2-11-2zM1389 803l3-2 7 2-7 2-3-2zM1358 818l4 0 2 5-12 0 6-5zM1476 818l8 0-8 0zM1367 823l5-2 7 0 2 2-9 1-5-1zM1390 828l8-4 13-1 6 0 4 5-10 4-7 1-6-4-8-1zM1467 833l8-2 9 2-9 1-8-1zM1270 843l1 0-1 0zM1409 843l2-3 5 3-5 2-2-2zM1295 848l8 0-8 0zM1419 848l24-2 5 7-9 0-20-5zM1467 848l8-1 2 1-2 1-7 0-1-1zM1410 853l1-3 3 3-4 0zM1277 858l6-3 19 1 13-2 1 4-20 3-19-3zM1379 858l3 0-3 0zM1460 858l8-3 21 3-21 4-8-4zM1388 863l4-3 4 3-8 0zM1435 863l4 0-4 0zM1307 868l3 0-3 0zM1345 868l8 0 5 5-5 3-6-1-4-2 2-5zM1463 868l5-4 12 4-5 3-13 3-3-1 4-5zM1314 873l1-1 8 1-9 0zM1440 873l3-2 1 2-1 1-3-1zM1484 873l7 0-7 0zM1499 873l2 0 0 5-2-5zM1276 878l8 0-8 0zM1473 878l2-2 2 2-4 0zM1382 883l16-4 5 4-5 3-6 1-7-1-3-3zM1406 883l11-2 2 2-2 4-6-1-5-3zM1452 883l4-3 6 0 4 3-4 2-10-2zM1520 883l6-2 8 2-14 0zM1545 883l7 0-7 0zM1172 888l3 0-3 0zM1493 888l6 0-6 0zM1499 893l1-5 7 1 6 4-6 6-7 1-3-2 2-5zM1393 903l5-2 9 2-3 1-11-1zM1527 903l18-2 18 7-11 2-9-2-4-4-13 5-6-1 7-5zM1413 908l17-2 5 2-5 2-17-2zM1484 908l4-2 4 2-4 1-4-1zM1278 913l7 0-2 1-5-1zM1510 913l3-2 3 2-3 2-3-2zM1583 913l1 0-1 0zM1366 918l6-1 6 1-6 1-6-1zM1449 918l1 0-1 0zM1542 918l9 0-6 1-3-1zM1278 923l5-2 8 2-8 3-5-3zM1313 923l4 0-2 4-2-4zM1329 923l5-1 12 1-6 1-11-1zM1396 923l4 0-4 0zM1430 923l2 0-2 0zM1468 923l1 0-1 0zM1490 923l4-1 6 1-6 8-8-3 4-5zM1553 923l5-1 7 1-7 1-5-1zM1531 928l8-3 10 3-8 5 7 5 14 5-10 1-4-1-3-4-6 0-18-6 10-5zM1300 933l3 0-1 1-2-1zM1345 933l10 0-10 0zM1381 933l11-2 18 2-18 8-7 1-6-4 2-5zM1438 938l5-2 6 2-6 2-5-2zM1482 938l7 0-1 2-6-2zM1338 943l15 1 2 4-2 3-13-1-12 5-4-2 2-5 12-5zM1358 943l13 0-13 0zM1407 943l4-3 3 3 2 10-12 3-9-3 0-5 12-5zM1530 943l2-2 3 2-5 0zM1491 948l3-3 4 3-2 5-2 1-5-1 2-5zM1359 953l13 4 13 2 7 3 12-2 9 3-9 6-12-5-13 5-4-1-3-6-6 0-6 3-20-2-2 0-2-5 4-3 19-2zM1442 953l7-1 2 1-2 1-7-1zM1512 953l6 0-6 0zM1534 953l5-1 6 3 12 3-18 3-5-8zM1295 958l6 5-5 2-10-2 9-5zM1314 963l8 0-8 0zM1466 963l2-4 7 1 5 3 1 3 7 1 12-2 7-5 6-1 7 1 2 3-9 3-6 1-7 4-6-3-6 1-5 4 5 4 19-4 9 5-9 4-19-3-13 0-7-2-12 3-19-2 19-4 11-6-1-5zM1272 968l4-2 3 2-3 1-4-1zM1533 968l12-3 13 1 5 2 2 5-7 2-2 3-1 5-16 1-3-1 3-2 16-8-22-5zM1364 973l3 0 1 5-5 5 3 5 11 5-5 5 0 2 10-2 1-5 9-3 13 3-10 5 9 3 13 1 13 5 13-2 6 1 7 2 6 0 13-5 19 3 19-2 1-1-7-2-7-3 2-5 11-6 17 6-7 5 9 1 13 6 19-1 21 4-13 5 5 4 10 1-8 5 18 5-2 5 1 6-6 4 0 5-7 5 6 5-5 3-20-2-9 4 28 5 3 5-15 0-7-2-12 0-13-3-7 1-12-2-12 1 12 10 6 1 3 4-3 5-6 2-7-3-28 1-3-5 6-5 9 0 6-5 2-5-17-1-7 8-1-2-12-5-12 3-7-3-19 0-26 4-4 1 4 2 26 2 20 6-20 4-6-2-13 0-6 3-4 5-9 3-7 4-13-2-22 15-10 2-6-2 5-5-7-5-11-3-2-2 1-5 8-8 14-2-27-2-5-3 1-5-24-10-11-8-12-1-20 5-8-1 14-5 1-4 6-5 7-1 0 5 6 2 6-2 7-5-7-2-5-3-1-3-19 4-2-1 2-5-2-5 2-1 6 0 19 8 13-7-8-5-16-5 11-6 13 3 16-2-22-5 6-2 19 0 13 5 13 1 19-4 7-4 11-1-5-2-13 0-6-4-22-4 3-2 6-1 15-7 11-9 4-1zM1372 1067l-2 1 8 5 10 0-3-4-6-4-7 2zM1385 1062l-2 1 2 2 5-2-5-1zM1392 1081l-2 2 2 4 10-4-4-2-6 0zM1449 1062l-3 1 3 4 7-2 1-2-8-1zM1539 1011l-5 2 5 1 12-1-12-2zM1289 1053l-2 0 2 1 0-1zM1296 1057l-4 1 4 1 15-1-15-1zM1315 1061l-3 7 10 5 18 2 7 0 2-2-17-5-4-5-13-2zM1360 1078l6 0-6 0zM1385 1087l-3 1 3 3 5-3-5-1zM1539 1061l-5 2 5 5 12-5-12-2zM1360 1093l6 4 2-4-8 0zM1327 978l7-2 7 2-7 2-7-2zM1416 978l4 0-4 5 6 5-5 0-14-5 13-5zM1306 983l2-2 6 2-6 2-2-2zM1562 983l3 0-3 0zM1290 988l6-2 5 2-5 1-6-1zM1425 988l18 0-7 1-11-1zM1307 993l2 0-2 0zM1548 993l4-3 25 2 7 1 7 5-7 2-7 0-5-2-1-3-7-1-12 1-4-2zM1460 998l15-3 12 3-6 4-6 0-15-4zM1320 1003l14-3 6 0 6 3-6 2-20-2zM1602 1003l8 0-7 1-1-1zM1612 1018l5 0 1 5-4 0-2-5zM1185 1028l4 0-4 0zM1653 1028l1 0-1 0zM1614 1033l8-1 4 1-12 0zM1237 1048l2 0-2 0zM1607 1048l11 0-11 0zM1634 1053l1 0-1 0zM1213 1068l6-2 6 0 3 2-9 1-6-1zM1279 1078l4-2 17 2-4 2-7 0-6 0-4-2zM1528 1078l4-2 9 2-9 2-4-2zM1544 1088l4 0 6 5-9 1-6-1 5-5zM1425 1098l11-3 13 3 13-3 3 3-9 1-7 4-13-1-6 1-5-5zM1484 1098l10-1 4 1-4 3-10-3zM1390 1103l2-2 12 0 4 2-3 5 8 5-2 2-14 3 12 5-17 6-20 1-9-2 11-5-4-5-1-5 3-2 7 0 6 1 5-4 0-5zM1518 1103l2-3 12 0 7 5 12 3-12 5 6 4 8 1-14 14-13 2-19-1 0-1 6-1 7 1 12-9 6 0 0-10-1-5-5-3-12 0 0 8-19 0 6-8 11-2zM1286 1108l3-2 8 2-8 3-3-3zM1493 1108l2 0-2 0zM1465 1113l3-2 13 0 7 2-7 1-16-1zM1280 1118l3-1 2 1-5 0zM1451 1118l5-1 4 1-4 2-5-2zM1322 1123l12-2 7 2-13 3-6-3zM1589 1128l2 0-2 0zM1340 1133l4 5-4 0 0-5zM1396 1133l2-5 6 5-2 5-4 2-6 0-3-2 7-5zM1452 1133l10-4 6 0 7 1 2 3-2 5-13-5-10 0zM1563 1133l1-1 7 2 2 4-2 2-7 0-1-7zM1363 1138l9 0 13 3 7 4 6 0 19 7 4-4 9 0 2 5-8 5-13 3-7-1-6-5-12-2-6-5-20 2-5-2 5-5 8 0-5-5zM1475 1138l11 0-5 2-6-2zM1491 1138l4 0 7 5-10 0-1-5zM1431 1143l5-3 14 3-14 4-5-4zM1329 1148l7 0-2 2-5-2zM1362 1158l4-2 13 2-7 2-10-2zM1453 1163l3-2 7 2-10 0zM1330 1168l5 0-5 0zM1474 1168l2 0-2 0zM1508 1173l10 0-10 0zM1386 1183l6-3 3 3-9 0z"/>
<path fill="#40c8ff" fill-rule="evenodd" d="M1289 293l1 0-1 0zM1275 298l5 0-5 0zM1241 308l10-1 2 1-2 2-10-2zM1183 318l17-3 12 5 13 3-25 6-4-1-9-9-4-1zM1248 323l16-2 8 2-15 2-6-1-3-1zM1262 338l8-1 4 1-4 1-8-1zM1295 348l11 0-11 0zM1193 358l1 0-1 0zM1235 358l3-2 9 2-9 2-3-2zM1271 358l7 0-7 0zM1208 363l4-3 7 3-7 1-4-1zM1142 413l7 0-7 0zM1158 433l4 0-4 0zM1212 468l7 0-7 0zM1160 503l10 0-10 0zM1298 503l7 0-7 0zM1309 568l8 0-8 0zM1193 573l9 0-9 0zM1160 583l2 0-2 0zM1224 588l20-1 3 1-15 6-8-6zM1366 588l6-1 3 1-9 0zM1274 633l2-1 3 1-5 0zM1218 638l2 0-2 0zM1396 638l10 0-10 0zM1227 648l6 0-6 0zM1391 648l7 0-7 0zM1260 663l5 0-5 0zM1258 683l6-2 5 2-5 1-6-1zM1237 698l9 0-2 1-7-1zM1314 698l16 0-16 0zM1284 703l5-2 5 2-5 2-5-2zM1253 708l5 0-5 0zM1473 713l8-1 8 1-8 2-8-2zM1222 718l13 0-3 2-10-2zM1346 718l8 0-8 0zM1357 723l3-2 7 2-7 2-3-2zM1473 728l3 0-3 0zM1375 733l4-2 8 2-2 4-6 1-4-5zM1321 738l10 0-10 0zM1337 738l11 0-8 5-3-5zM1402 738l9-1 10 1-19 0zM1245 743l6-2 4 2-10 0zM1250 753l2 0-2 0zM1275 753l8 0-8 0zM1423 758l9 0-9 0zM1388 763l10-2 10 2-10 1-10-1zM1332 773l7 0-5 1-2-1zM1576 788l2 0-2 0zM1327 803l6 0-6 0zM1414 828l3 0-3 0zM1428 848l13 0-5 1-8-1zM1281 858l12 0-12 0zM1304 858l7 0-7 0zM1467 858l8-2 9 2-9 2-8-2zM1467 868l1-1 7 1-7 1-1-1zM1345 873l2-3 6 0 3 3-3 1-8-1zM1385 883l11 0-4 1-7-1zM1454 883l8-1 2 1-2 1-8-1zM1503 893l4-2 3 2-3 3-4-3zM1398 903l2 0-2 0zM1544 903l1 1-1-1zM1418 908l13 0-7 1-6-1zM1547 908l5-2 8 2-8 1-5-1zM1536 928l5 0-2 1-3-1zM1384 933l8-1 7 1-7 5-7 1-1-6zM1525 933l8 0-8 0zM1441 938l4 0-4 0zM1339 948l8-3 5 3-5 2-8-2zM1402 948l4 0 6 5-8 1-4-1 2-5zM1339 958l8-2 6 0 4 2-4 5-13-3-1-2zM1541 958l6 0-6 0zM1379 963l8 0-8 0zM1402 963l5 0-3 1-2-1zM1471 963l4-1 2 1-2 2-4-2zM1510 963l3-2 5 2-5 1-3-1zM1542 968l3-1 11 1-4 1-10-1zM1461 973l12 0-12 0zM1499 978l8 0-8 0zM1408 983l4 0-4 0zM1345 988l8-2 19 7-12 6-7-1 0-5-8 0 0-5zM1388 993l4-2 9 2-3 2-6 1-4-3zM1506 993l7-3 9 3-9 6-6 0-2-1 1-5zM1468 998l7-1 7 1-7 2-7-2zM1575 998l2-2 7-1 4 3-4 1-9-1zM1377 1003l8-3 7 0 8 3 2 5 2 1 20-2 1 1-3 5 21 1 19-4 13-5 6 1 13 4 13-3 14 6-5 5 4 1 6 1 6-3 7-1 32 5 19 7-19 8-9 2 4 5 13 5 0 5 5 5-7 1-10-1 0-5-4-5-5-3-6 0-5 3 13 5-2 5-6 2-32-1-7 5-6 1-19-2-13 4-19-6-7 0-8 2-5 4-6-3-13 5-19 2-6-2-1-1 6-5-5-3-13-2-7 4-6 1-64-9-20-6 7-5-3-5 5-5 11-7 8-3-2-2-6 0-6 3-7 0-6-3-13-3 6-3 20 1 25-3 19 5 4-5 9-3 7-3 12-2 5-2zM1379 1006l0 2 3 0-3-2zM1398 1012l-5 1 5 1 0-2zM1494 1016l-5 2 5 1 9-1-9-2zM1507 1053l6 0-6 0zM1302 1038l6 1 7-1-7-2-6 2zM1296 1008l10 0-10 0zM1439 1008l11 0-1 4-6-1-4-3zM1532 1008l7-1 39 1-26 1-20-1zM1256 1033l4 0-4 0zM1294 1063l8-2 5 2-5 3-8-3zM1218 1068l3 0-3 0zM1339 1068l1-2 7-1 13 0 1 3 30 10-6 6-10 4-3 3-12-1-5 3 3 10-18 1-17-6 5-10 6-3 6 0 7 4 6 0 1-1-5-5 4-4 13 1 3-2-16-4-6-4-8-2zM1547 1068l5-3 6 0 11 3-11 1-11-1zM1286 1078l6 0-6 0zM1315 1078l6-3 17 3-17 2-6-2zM1407 1078l10 1 2-1 11 0-9 5-10 0-4-5zM1503 1078l4-3 6 1 5 7-24 3-7-3 13-2 3-3zM1432 1083l11-1 3 1-14 0zM1397 1088l2 0-1 1-1-1zM1378 1093l1 0 0 1-1-1zM1390 1093l4 0-4 0zM1434 1098l4 0-4 0zM1530 1103l3 0-3 0zM1376 1113l3-1 13 5 0 5-13-1-5-3 2-5zM1395 1113l3-4 6 1 6 3-6 2-6 0-3-2zM1470 1113l13 0-13 0zM1327 1123l2 0-2 0zM1392 1123l6-1 4 1-4 1-6-1zM1370 1128l6 0-6 0zM1530 1128l2-2 7 2-7 2-2-2zM1465 1133l3-2 7 2-10 0zM1377 1143l4 0-4 0zM1436 1143l7-1 4 1-4 1-7-1zM1363 1148l5 0-5 0zM1389 1148l10 0-1 2-6 1-3-3zM1401 1153l3-1 5 1 3 5-8-2-3-3z"/>
<path fill="#70f0a0" fill-rule="evenodd" d="M1191 318l8 0-6 2-2-2zM1205 323l13 0-13 0zM1263 683l1 0-1 0zM1480 713l2 0-2 0zM1378 733l5 0-4 1-1-1zM1393 763l12 0-12 0zM1474 858l3 0-3 0zM1550 908l5 0-5 0zM1389 933l5 0-2 1-3-1zM1344 948l5 0-5 0zM1343 958l10 0-6 2-4-2zM1361 993l6 0-6 0zM1394 993l4 0-4 0zM1510 993l3-1 3 1-3 2-3-2zM1581 998l3 0-3 0zM1385 1003l7 0 0 5-7-5zM1364 1008l6 0 2 4 11 1 15 6 13 0 6-3 13-1 26 4 6-1-3-5 3-1 13 3 4 3-10 5 6 1 32-4 19 2 13-3 19 7 13-2 13 4-20 6-12-5-16 4 16 2 4 3-4 3-13 2 6 8 9 2-2 2-7 2-6-6-26-2-25 4-9 5-2 5-2 1-7 0-6-4-19-1-7 1-12-2-13 4-7-5-3-4-3-1-13 3-13-1-19 5-8-1-5-5-19 3-19-5-7-3 13-4 14-6-8-5 1-5 13 2 12 0 6-2-12-5-13 3-6-8 6-2 11 2 2 3 19-2 7 1 6 3 8 0-8-8-13 0-1-2 8-2 4-3zM1417 1053l-2 0 2 1 3-1-3 0zM1315 1047l-2 1 2 1 5-1-5-1zM1366 1046l-3 2 3 1 3-1-3-2zM1474 1008l4 0-3 1-1-1zM1408 1013l5 0-2 2-3-2zM1481 1013l0-1 3 1-3 0zM1293 1018l11 0-11 0zM1570 1048l2 0-2 0zM1502 1058l5-2 9 2-9 3-5-3zM1403 1068l8-5 7 5-15 0zM1556 1068l3 0-3 0zM1355 1073l5-3 6 0 4 3-4 2-6 0-5-2zM1321 1078l5 0-5 0zM1372 1078l7-2 8 2-5 5-15 5-7 0-8-5 8-2 6 1 6-4zM1331 1088l3-2 9 2-4 5 2 5-3 0-4-3-3-7zM1400 1113l4-1 2 1-6 0zM1378 1118l1-2 7 2-8 0z"/>
<path fill="#c8ff40" fill-rule="evenodd" d="M1425 1018l7 0-7 0zM1343 1023l10-1 7 4 25 3 3-1-3-2-1-3 1-1 19 0 20 8 6 0 6-2 3-5 4-3 19 3 6 3 13 1 7 3 6 1 13-8 6 2 4 8-18 5 8 2 13-1 6 2 0 2-6 1-13 0-7 4-6 1-13-3-13 5-12-5-13 1-7-1-25 5-13-1-13 1-9-3 0-5-4-2-19-1-10 3-3 2-12-7 6-5 18-5-9-5zM1411 1042l-2 1 8 2 7 0 3-2-3-3-13 2zM1443 1037l-2 1 4 0-2-1zM1526 1028l6-4 7 1 3 3-10 3-6-3zM1566 1028l11 0-6 1-5-1zM1530 1038l15-2 7 2-7 2-6 0-9-2zM1318 1043l6 0-6 0zM1344 1048l3-2 6 1 9 6-9 3-9-8zM1531 1048l1-2 7 2-8 0zM1319 1053l5 0-5 0zM1447 1053l2-3 2 3 10 5-13 0-1-5zM1358 1073l2-1 8 1-10 0zM1377 1078l5 0-3 2-2-2zM1356 1083l8 0-4 1-4-1z"/>
<path fill="#ffb000" fill-rule="evenodd" d="M1401 1028l3-1 5 1-5 6-7-1 4-5zM1347 1033l6-2 11 2-24 7-7-2 14-5zM1452 1033l4-2 6-1 5 3 2 5-1 2-6 1-6-3-4-5zM1376 1038l3-3 6 1 7 1 8 6-2 3-13 2-2 0 0-5-7-5zM1542 1038l4 0-4 0zM1401 1048l3-1 7 1-10 0z"/>
</g></g>
<ellipse cx="616" cy="136" rx="22.0" ry="17.0" fill="#00008a"/>
<ellipse cx="616" cy="136" rx="19.8" ry="15.3" fill="#0a28f0"/>
<ellipse cx="616" cy="136" rx="17.6" ry="13.6" fill="#20a0ff"/>
<ellipse cx="616" cy="136" rx="15.8" ry="12.2" fill="#60e8b0"/>
<ellipse cx="616" cy="136" rx="14.1" ry="10.9" fill="#70f050"/>
<ellipse cx="616" cy="136" rx="11.0" ry="8.5" fill="#c8f820"/>
<ellipse cx="616" cy="136" rx="9.2" ry="7.1" fill="#f8e000"/>
<ellipse cx="616" cy="136" rx="7.0" ry="5.4" fill="#ff8000"/>
<ellipse cx="616" cy="136" rx="4.4" ry="3.4" fill="#d81000"/>
<path fill="#00087a" d="M172.8 1050.1L174.8 1048.4H182.1L184.1 1050.1L182.1 1051.8H174.8ZM330.1 921.4L333.9 917.2H337.2L341.1 921.4ZM415.3 975.9L417.3 974.0H421.9L423.9 975.9L421.9 977.8H417.3ZM176.6 1109.6H184.9L182.0 1114.5H179.5ZM158.9 994.8L165.0 991.7L171.2 994.8L165.0 997.8ZM326.6 1248.2H337.5L333.6 1252.3H330.4ZM164.8 1104.1L168.0 1099.7H170.8L174.1 1104.1ZM147.8 1009.1H158.2L153.6 1012.8H149.8ZM216.2 1032.5H226.9L223.2 1037.5H220.0ZM274.4 1245.9L276.5 1244.1H280.8L282.9 1245.9L280.8 1247.8H276.5ZM320.6 1151.6H333.1L328.7 1155.4H325.0ZM382.3 1148.8L387.7 1146.1L393.1 1148.8L387.7 1151.5ZM287.3 982.7L293.3 980.0L299.2 982.7L293.3 985.4ZM421.6 862.7L426.0 860.1L430.4 862.7L426.0 865.2ZM178.4 894.0L184.8 891.5L191.2 894.0L184.8 896.5ZM418.9 829.6L420.9 828.2H427.8L429.8 829.6L427.8 831.0H420.9ZM336.1 812.1L341.3 809.6L346.6 812.1L341.3 814.6ZM148.6 1102.1L152.9 1096.9H156.7L161.0 1102.1ZM276.5 1109.7H285.0L282.0 1114.4H279.4ZM422.3 941.7L425.1 939.2H429.6L432.4 941.7L429.6 944.2H425.1ZM422.2 1120.0L424.7 1118.1H429.8L432.4 1120.0L429.8 1122.0H424.7ZM290.1 1130.4L292.1 1128.8H299.1L301.1 1130.4L299.1 1131.9H292.1ZM189.2 1011.4L192.3 1008.7H198.6L201.7 1011.4L198.6 1014.1H192.3ZM347.7 1036.9L353.2 1034.3L358.8 1036.9L353.2 1039.4ZM361.2 1214.6L363.3 1212.0H367.5L369.6 1214.6L367.5 1217.3H363.3ZM160.4 959.5L166.2 956.6L172.0 959.5L166.2 962.4ZM334.2 1095.8L337.3 1093.2H343.7L346.9 1095.8L343.7 1098.5H337.3ZM170.0 807.8L172.7 805.8H178.3L181.1 807.8L178.3 809.8H172.7ZM187.5 1000.0L189.5 998.4H195.2L197.2 1000.0L195.2 1001.6H189.5ZM287.9 814.7H300.7L296.2 818.6H292.4ZM356.1 1081.0L362.5 1078.1L368.9 1081.0L362.5 1083.9ZM421.4 1114.0H432.4L430.4 1117.5H426.3ZM185.6 886.1L190.3 883.2L195.0 886.1L190.3 889.0ZM326.7 871.8L329.8 869.8H336.1L339.2 871.8L336.1 873.7H329.8ZM395.8 1121.1L397.8 1119.6H404.6L406.6 1121.1L404.6 1122.7H397.8ZM207.4 1269.4L212.0 1266.4L216.6 1269.4L212.0 1272.4ZM357.0 1131.4L359.7 1129.5H365.1L367.8 1131.4L365.1 1133.3H359.7ZM342.1 1105.2L344.1 1103.5H351.0L353.0 1105.2L351.0 1106.9H344.1ZM366.5 1093.4L369.6 1091.1H375.8L379.0 1093.4L375.8 1095.6H369.6ZM301.8 999.6H315.0L310.4 1004.9H306.4ZM172.2 1122.5L177.0 1119.7L181.8 1122.5L177.0 1125.3ZM325.4 1233.6L329.1 1229.9H332.3L336.0 1233.6ZM391.9 1153.6L395.5 1149.8H398.6L402.3 1153.6ZM240.5 854.5L242.5 852.7H252.1L254.1 854.5L252.1 856.3H242.5ZM271.1 998.8L274.2 996.8H280.5L283.6 998.8L280.5 1000.9H274.2ZM291.7 1105.9L295.0 1104.2H301.7L305.0 1105.9L301.7 1107.7H295.0ZM264.1 1128.6L267.2 1126.3H273.4L276.5 1128.6L273.4 1130.9H267.2ZM287.0 1085.9L289.0 1084.6H297.0L299.0 1085.9L297.0 1087.3H289.0ZM260.9 822.0L265.1 816.7H268.6L272.8 822.0ZM203.5 1040.1H217.4L212.5 1045.1H208.3ZM305.2 928.5H315.8L312.1 933.1H309.0ZM266.7 816.3L268.7 814.4H278.5L280.5 816.3L278.5 818.2H268.7ZM287.8 1134.7L290.3 1132.7H295.4L297.9 1134.7L295.4 1136.8H290.3ZM417.5 1233.2L424.5 1230.9L431.5 1233.2L424.5 1235.5ZM347.0 1016.3L351.2 1013.4L355.4 1016.3L351.2 1019.1ZM317.5 794.5L320.7 792.5H327.1L330.3 794.5L327.1 796.5H320.7ZM339.5 1144.9H352.8L348.2 1150.2H344.2ZM357.9 970.2L361.2 965.7H363.9L367.2 970.2ZM332.2 829.4L337.7 827.1L343.1 829.4L337.7 831.7ZM207.7 1025.9L209.7 1024.1H214.1L216.1 1025.9L214.1 1027.8H209.7ZM369.6 1143.5L375.6 1140.4L381.6 1143.5L375.6 1146.6ZM242.7 1058.5L246.2 1054.8H249.1L252.6 1058.5ZM396.4 934.2L398.4 932.9H408.4L410.4 934.2L408.4 935.5H398.4ZM414.9 876.6L419.3 873.6L423.7 876.6L419.3 879.7ZM310.1 909.8L314.4 906.0H318.1L322.4 909.8ZM338.9 980.7H349.5L345.8 984.4H342.6ZM250.3 1045.6H260.8L257.1 1049.4H254.0ZM307.0 1036.2L311.4 1031.0H315.2L319.6 1036.2ZM216.5 1078.7H229.2L224.7 1082.5H220.9ZM317.6 827.4H330.3L325.9 831.8H322.1ZM366.6 1285.4L371.2 1281.5H375.2L379.8 1285.4ZM149.1 808.0L153.1 805.5L157.2 808.0L153.1 810.5ZM265.5 1114.5L269.7 1110.3H273.2L277.4 1114.5ZM208.7 1211.3L210.9 1209.3H215.3L217.5 1211.3L215.3 1213.3H210.9ZM223.4 1077.5H236.8L232.1 1082.8H228.1ZM239.7 1127.7L242.8 1123.5H245.5L248.7 1127.7ZM262.4 1063.5H276.1L271.3 1068.6H267.2ZM286.3 942.8L289.4 937.8H292.0L295.1 942.8ZM373.8 1106.0L380.8 1102.9L387.8 1106.0L380.8 1109.1ZM288.2 984.8H300.7L296.3 989.7H292.6ZM272.6 1157.0L276.0 1154.7H282.9L286.3 1157.0L282.9 1159.2H276.0ZM387.4 1220.0H399.4L395.2 1224.2H391.6ZM357.9 1120.8L359.9 1119.5H365.4L367.4 1120.8L365.4 1122.2H359.9ZM361.1 1243.0H373.8L369.4 1248.0H365.6ZM267.3 1083.2L269.3 1081.4H276.5L278.5 1083.2L276.5 1084.9H269.3ZM337.5 765.5L339.5 764.0H346.0L348.0 765.5L346.0 767.0H339.5ZM228.7 1127.7L232.9 1123.9H236.6L240.8 1127.7ZM347.6 971.8L351.4 967.2H354.6L358.4 971.8ZM203.3 802.5H213.4L209.9 807.8H206.8ZM394.8 999.8L398.6 996.1H401.9L405.7 999.8ZM287.8 972.6L290.7 968.4H293.3L296.2 972.6ZM219.0 1052.9L223.1 1048.4H226.7L230.8 1052.9ZM280.6 1251.7L282.6 1250.5H289.4L291.4 1251.7L289.4 1252.9H282.6ZM327.5 1078.6H337.6L334.1 1083.7H331.1ZM273.8 797.7H282.5L279.5 802.0H276.9ZM212.2 811.8L217.5 808.8L222.8 811.8L217.5 814.8ZM386.6 1262.3H394.6L391.8 1267.7H389.4ZM260.8 1247.8L264.1 1243.4H266.9L270.2 1247.8ZM194.9 969.9L197.6 967.5H203.0L205.7 969.9L203.0 972.2H197.6ZM389.0 1277.2L392.0 1275.2H398.0L400.9 1277.2L398.0 1279.3H392.0ZM284.1 1040.4H293.6L290.3 1044.5H287.4ZM288.4 1099.0H297.1L294.0 1104.2H291.4ZM321.2 801.9L326.0 797.8H330.0L334.7 801.9ZM309.6 1163.6L312.8 1161.8H319.3L322.6 1163.6L319.3 1165.3H312.8ZM244.8 924.8L249.3 922.0L253.9 924.8L249.3 927.5ZM418.8 898.9L424.5 896.6L430.2 898.9L424.5 901.2ZM157.2 832.3L159.2 830.6H166.5L168.5 832.3L166.5 834.0H159.2ZM418.9 845.3L420.9 844.1H427.7L429.7 845.3L427.7 846.6H420.9ZM223.3 1073.8L228.3 1070.8L233.2 1073.8L228.3 1076.8ZM268.0 791.5L274.1 788.6L280.3 791.5L274.1 794.4ZM147.8 1042.3L153.1 1039.9L159.8 1042.3L153.1 1044.6ZM309.5 1038.5H318.1L315.1 1042.9H312.5ZM164.9 1122.9L166.9 1121.2H174.0L176.0 1122.9L174.0 1124.6H166.9ZM173.3 1200.1L177.6 1195.8H181.2L185.5 1200.1ZM324.6 797.0L327.4 794.3H332.9L335.6 797.0L332.9 799.7H327.4ZM315.7 994.0L319.1 991.6H325.9L329.3 994.0L325.9 996.3H319.1ZM396.6 938.5L401.0 933.1H404.8L409.3 938.5ZM223.7 1097.7L226.9 1095.4H233.3L236.5 1097.7L233.3 1100.1H226.9ZM304.4 931.6L308.8 926.2H312.6L316.9 931.6ZM259.3 1002.9L262.5 997.5H265.2L268.5 1002.9ZM190.4 816.9L192.6 814.2H197.0L199.2 816.9L197.0 819.6H192.6ZM373.1 1241.2H385.9L381.4 1246.1H377.6ZM382.4 827.0L384.6 825.2H388.9L391.1 827.0L388.9 828.9H384.6ZM335.5 1059.3H347.5L343.3 1064.2H339.7ZM227.4 992.6L229.4 991.1H234.9L236.9 992.6L234.9 994.0H229.4ZM258.5 1132.3H269.8L265.8 1137.5H262.4ZM253.5 1053.4L258.1 1050.3L262.6 1053.4L258.1 1056.5ZM208.5 1242.5L212.2 1238.4H215.4L219.1 1242.5ZM344.6 1163.9H357.4L352.9 1169.4H349.1ZM346.7 996.1L348.7 994.7H354.3L356.3 996.1L354.3 997.6H348.7ZM269.1 845.2L271.1 843.8H277.1L279.1 845.2L277.1 846.6H271.1ZM419.8 1208.2L426.3 1205.5L432.4 1208.2L426.3 1210.9ZM322.8 942.1L325.0 940.0H329.3L331.5 942.1L329.3 944.3H325.0ZM162.9 1017.5H176.9L172.0 1021.8H167.8ZM304.3 1233.6L306.3 1232.1H310.6L312.6 1233.6L310.6 1235.0H306.3ZM291.3 1070.4H302.2L298.4 1074.3H295.1ZM335.6 1031.2L340.4 1028.9L345.2 1031.2L340.4 1033.5ZM327.7 968.5H337.9L334.3 972.8H331.3ZM282.3 1156.0H293.0L289.3 1161.2H286.1ZM348.2 1055.8L350.7 1053.9H355.6L358.1 1055.8L355.6 1057.6H350.7ZM275.4 1042.1L278.8 1038.3H281.7L285.1 1042.1ZM165.7 804.6L170.5 801.6L175.2 804.6L170.5 807.7ZM355.2 957.6L357.2 956.4H362.9L364.9 957.6L362.9 958.9H357.2ZM200.0 865.3L204.9 862.4L209.8 865.3L204.9 868.1ZM196.9 846.7L201.4 841.3H205.1L209.6 846.7ZM305.6 1136.2L307.6 1134.4H313.9L315.9 1136.2L313.9 1138.1H307.6ZM382.4 1252.7H395.0L390.6 1257.7H386.8ZM322.8 1143.0L324.8 1141.5H333.9L335.9 1143.0L333.9 1144.5H324.8ZM321.9 1222.4H332.6L328.9 1226.2H325.6ZM264.4 1080.0H272.9L269.9 1085.4H267.4ZM324.5 815.5L328.3 811.6H331.5L335.3 815.5ZM357.1 1033.1L359.1 1031.9H366.6L368.6 1033.1L366.6 1034.4H359.1ZM298.2 1096.7L300.6 1094.3H305.6L308.1 1096.7L305.6 1099.2H300.6ZM259.4 1130.9H267.9L264.9 1136.2H262.4ZM292.3 1031.1L294.3 1029.2H302.9L304.9 1031.1L302.9 1032.9H294.3ZM302.8 1139.1L304.8 1137.8H314.7L316.7 1139.1L314.7 1140.3H304.8ZM170.3 770.4L172.3 768.0H176.4L178.4 770.4L176.4 772.9H172.3ZM347.0 1082.9H358.4L354.4 1086.6H351.0ZM245.9 778.5L250.5 773.5H254.5L259.1 778.5ZM374.6 798.3L379.3 793.9H383.4L388.1 798.3ZM159.9 925.3L166.1 922.7L172.3 925.3L166.1 927.9ZM217.3 1217.9L219.3 1216.0H228.3L230.3 1217.9L228.3 1219.8H219.3ZM254.4 982.6L256.5 980.1H260.6L262.7 982.6L260.6 985.2H256.5ZM333.0 1232.3L335.9 1229.8H341.6L344.5 1232.3L341.6 1234.8H335.9ZM363.5 1014.3L366.7 1010.2H369.5L372.7 1014.3ZM333.5 954.8H342.4L339.3 958.5H336.6ZM298.9 834.8L300.9 832.8H306.3L308.3 834.8L306.3 836.7H300.9ZM177.9 871.8L182.3 868.5L186.8 871.8L182.3 875.0ZM419.4 1229.4L421.8 1227.5H426.7L429.1 1229.4L426.7 1231.2H421.8ZM276.2 817.7L278.2 816.2H287.0L289.0 817.7L287.0 819.2H278.2ZM179.6 1235.6L181.6 1234.3H186.3L188.3 1235.6L186.3 1236.9H181.6ZM307.3 927.9L309.3 926.5H317.4L319.4 927.9L317.4 929.4H309.3ZM418.5 772.8L421.4 770.1H427.3L430.3 772.8L427.3 775.5H421.4ZM220.3 1230.0L224.1 1225.2H227.4L231.2 1230.0ZM363.5 1145.3L367.8 1140.2H371.5L375.9 1145.3ZM154.0 1120.8L158.5 1115.8H162.4L167.0 1120.8ZM249.2 1228.3L251.5 1225.6H255.9L258.1 1228.3L255.9 1231.1H251.5ZM249.5 1022.9L251.5 1021.2H256.6L258.6 1022.9L256.6 1024.5H251.5ZM336.9 1125.9H349.4L345.1 1130.4H341.3ZM282.5 955.0L284.5 953.7H289.8L291.8 955.0L289.8 956.3H284.5ZM230.0 1011.2L232.2 1008.6H236.7L238.9 1011.2L236.7 1013.7H232.2ZM412.7 1156.7L415.7 1154.8H421.8L424.8 1156.7L421.8 1158.6H415.7ZM366.8 890.6H377.2L373.6 896.1H370.5ZM351.3 1217.8L354.8 1216.0H361.7L365.2 1217.8L361.7 1219.6H354.8ZM400.5 1056.6L405.3 1052.6H409.4L414.2 1056.6ZM376.4 988.9H386.6L383.0 994.3H380.0ZM337.2 807.2H348.9L344.8 811.2H341.3ZM374.0 1250.6L376.9 1246.7H379.4L382.3 1250.6ZM229.0 1257.8L231.0 1256.0H239.6L241.6 1257.8L239.6 1259.6H231.0ZM224.9 1091.0L228.1 1089.0H234.5L237.7 1091.0L234.5 1093.1H228.1ZM178.4 1119.8H188.7L185.1 1125.1H182.0ZM263.8 826.7L269.3 823.5L274.9 826.7L269.3 829.9ZM250.2 1062.5L254.3 1057.3H257.9L262.1 1062.5ZM237.5 869.6L241.7 864.3H245.2L249.4 869.6ZM335.8 1176.4L340.6 1172.2H344.7L349.5 1176.4ZM420.9 1107.4L422.9 1105.9H430.4L432.4 1107.4L430.4 1108.8H422.9ZM282.6 1244.0L285.8 1242.1H292.3L295.5 1244.0L292.3 1245.9H285.8ZM271.4 1158.4L278.1 1156.1L284.8 1158.4L278.1 1160.8ZM292.1 799.3L294.4 797.3H299.0L301.3 799.3L299.0 801.3H294.4ZM259.6 1070.3L263.1 1066.1H266.2L269.8 1070.3ZM176.2 1127.8L178.7 1125.7H183.6L186.0 1127.8L183.6 1129.8H178.7ZM405.1 993.4L407.1 991.5H412.6L414.6 993.4L412.6 995.2H407.1ZM190.6 1018.8L195.0 1015.8L199.5 1018.8L195.0 1021.8ZM416.7 835.6L418.7 834.1H428.0L430.0 835.6L428.0 837.0H418.7ZM388.0 768.8L391.0 764.2H393.7L396.7 768.8ZM266.7 966.5L273.3 964.2L280.0 966.5L273.3 968.8ZM151.7 1046.0L154.3 1043.9H159.6L162.3 1046.0L159.6 1048.2H154.3ZM410.2 949.9L415.0 947.7L419.8 949.9L415.0 952.2ZM400.0 969.4L406.8 966.9L413.6 969.4L406.8 971.9ZM344.4 998.0L347.5 993.9H350.1L353.2 998.0ZM270.6 831.4L275.2 827.6H279.2L283.8 831.4ZM263.7 957.4L266.3 954.8H271.5L274.1 957.4L271.5 960.0H266.3ZM415.9 1097.6H428.7L424.2 1102.8H420.4ZM358.6 1161.3H370.8L366.5 1166.4H362.9ZM353.5 1044.5H363.8L360.2 1048.3H357.1ZM211.5 916.3L214.1 914.2H219.3L221.9 916.3L219.3 918.3H214.1ZM147.8 1213.4L151.2 1210.6H153.1L156.5 1213.4L153.1 1216.1H151.2ZM332.2 867.5L334.2 866.3H344.0L346.0 867.5L344.0 868.8H334.2ZM383.4 772.0L387.8 767.0H391.5L395.8 772.0ZM323.3 816.5H336.8L332.1 821.0H328.0ZM341.0 1256.5L346.8 1253.9L352.6 1256.5L346.8 1259.1ZM362.6 817.2L365.9 813.6H368.7L372.0 817.2ZM302.9 1150.4H314.9L310.7 1154.5H307.1ZM404.7 916.2L408.0 912.7H410.9L414.3 916.2ZM261.8 927.3H271.9L268.4 932.1H265.3ZM196.2 1250.2L199.4 1247.8H205.9L209.1 1250.2L205.9 1252.6H199.4ZM263.5 1243.6H275.5L271.3 1247.8H267.7ZM408.2 1000.2L412.5 995.4H416.2L420.5 1000.2ZM415.2 1102.5L420.7 1100.2L426.3 1102.5L420.7 1104.8ZM279.7 1159.5L281.7 1157.7H291.6L293.6 1159.5L291.6 1161.3H281.7ZM370.2 1117.5L376.9 1114.8L383.5 1117.5L376.9 1120.1ZM229.6 1045.2L232.0 1043.1H237.0L239.4 1045.2L237.0 1047.4H232.0ZM323.2 1225.2L326.7 1220.1H329.8L333.3 1225.2ZM286.3 1239.7L292.7 1237.1L299.1 1239.7L292.7 1242.3ZM350.2 875.4H359.9L356.5 880.3H353.6ZM185.5 1013.4L188.3 1011.0H194.0L196.9 1013.4L194.0 1015.7H188.3ZM325.8 930.1L331.2 927.8L336.6 930.1L331.2 932.5ZM263.7 1035.3L265.7 1033.6H270.5L272.5 1035.3L270.5 1037.1H265.7ZM198.9 793.9H210.2L206.3 798.6H202.9ZM304.1 1236.3L308.1 1232.4H311.6L315.6 1236.3ZM206.6 876.5L208.6 874.8H213.0L215.0 876.5L213.0 878.2H208.6ZM386.0 1233.4L391.2 1230.1L396.3 1233.4L391.2 1236.6ZM349.3 1117.1L352.3 1112.5H355.0L358.0 1117.1ZM165.4 1266.4L167.4 1265.0H176.4L178.4 1266.4L176.4 1267.8H167.4ZM367.1 939.9L373.4 937.6L379.8 939.9L373.4 942.2ZM290.7 1008.3L292.7 1006.5H298.7L300.7 1008.3L298.7 1010.1H292.7ZM344.8 1031.0H356.0L352.1 1036.3H348.7ZM306.0 1259.5L310.7 1257.2L315.3 1259.5L310.7 1261.8ZM291.1 919.1L293.8 916.6H299.0L301.6 919.1L299.0 921.6H293.8ZM308.4 973.8H320.7L316.4 978.3H312.7ZM301.9 1258.5H312.1L308.6 1263.5H305.5ZM154.4 1043.8L157.5 1039.9H160.1L163.2 1043.8ZM375.3 1052.9L381.2 1050.6L387.1 1052.9L381.2 1055.2ZM342.5 796.4L344.7 793.9H349.0L351.1 796.4L349.0 799.0H344.7ZM324.0 927.1L327.4 924.6H334.1L337.5 927.1L334.1 929.7H327.4ZM323.4 1165.3H337.0L332.2 1169.8H328.1ZM274.6 1137.4L276.6 1136.0H282.2L284.2 1137.4L282.2 1138.7H276.6ZM281.7 1043.4L284.2 1040.8H289.1L291.6 1043.4L289.1 1045.9H284.2ZM314.5 956.8L316.5 955.1H324.5L326.5 956.8L324.5 958.4H316.5ZM315.0 1103.5L317.4 1101.4H322.2L324.6 1103.5L322.2 1105.6H317.4ZM289.4 812.5L295.3 809.5L301.2 812.5L295.3 815.5ZM342.6 1146.7L344.6 1145.4H352.4L354.4 1146.7L352.4 1148.0H344.6ZM306.5 820.7L308.5 818.9H316.4L318.4 820.7L316.4 822.5H308.5ZM181.8 1257.7L183.8 1256.3H190.2L192.2 1257.7L190.2 1259.2H183.8ZM162.9 1083.1L166.6 1079.6H169.7L173.4 1083.1ZM190.3 948.8L197.0 945.8L203.8 948.8L197.0 951.8ZM351.3 1091.9L353.3 1090.6H360.8L362.8 1091.9L360.8 1093.3H353.3ZM313.9 798.9L319.9 796.3L326.0 798.9L319.9 801.4ZM394.9 1113.9H408.0L403.4 1118.3H399.5ZM337.8 1118.9L339.8 1117.4H344.1L346.1 1118.9L344.1 1120.4H339.8ZM371.6 1050.4L373.6 1048.7H381.4L383.4 1050.4L381.4 1052.0H373.6ZM407.6 1228.4L409.6 1226.6H414.7L416.7 1228.4L414.7 1230.1H409.6ZM307.0 989.5L309.0 987.6H315.9L317.9 989.5L315.9 991.3H309.0ZM390.2 1028.6L392.8 1026.7H398.0L400.6 1028.6L398.0 1030.6H392.8ZM256.5 1147.3L259.4 1142.4H261.8L264.7 1147.3ZM248.9 778.7H257.3L254.3 783.3H251.8ZM420.3 842.0L425.4 838.8L430.5 842.0L425.4 845.1ZM364.2 996.8L367.6 994.8H374.3L377.6 996.8L374.3 998.9H367.6ZM175.1 932.9L178.6 928.9H181.5L184.9 932.9ZM276.1 1088.5L278.1 1086.6H288.1L290.1 1088.5L288.1 1090.4H278.1ZM348.7 1116.0L353.5 1112.7L358.4 1116.0L353.5 1119.2ZM289.4 1160.2H301.8L297.4 1164.8H293.7ZM343.8 1251.8L345.8 1250.5H353.1L355.1 1251.8L353.1 1253.0H345.8ZM363.5 816.3L366.1 814.4H371.3L373.9 816.3L371.3 818.3H366.1ZM290.7 1014.4L295.4 1010.4H299.5L304.3 1014.4ZM371.2 1099.6L375.1 1094.5H378.5L382.5 1099.6ZM411.0 853.7L417.8 851.1L424.7 853.7L417.8 856.4ZM346.4 976.7L349.7 972.2H352.6L356.0 976.7ZM336.6 993.3L343.4 990.6L350.2 993.3L343.4 996.0ZM226.5 1095.5L231.7 1092.7L237.0 1095.5L231.7 1098.3ZM152.7 933.5L155.1 931.1H159.8L162.2 933.5L159.8 936.0H155.1ZM364.7 1259.3L369.4 1253.9H373.5L378.2 1259.3ZM333.1 948.2H346.9L342.1 952.2H337.9ZM177.7 898.4L181.1 893.8H184.0L187.4 898.4ZM362.0 845.0L368.7 841.9L375.5 845.0L368.7 848.1ZM297.1 1233.3L303.5 1230.4L310.0 1233.3L303.5 1236.2ZM227.1 1228.8L232.4 1225.9L237.6 1228.8L232.4 1231.6ZM272.8 788.6L274.8 787.1H281.7L283.7 788.6L281.7 790.0H274.8ZM404.7 1126.0L406.7 1124.1H414.5L416.5 1126.0L414.5 1127.8H406.7ZM346.1 1115.9H357.0L353.2 1120.3H349.9ZM297.6 1255.7L302.7 1253.2L307.9 1255.7L302.7 1258.2ZM218.9 1252.5L221.9 1247.9H224.5L227.6 1252.5ZM389.4 1182.7L395.4 1180.2L401.5 1182.7L395.4 1185.2ZM192.3 1221.2L195.7 1219.1H202.5L205.9 1221.2L202.5 1223.2H195.7ZM295.7 949.7L298.4 947.3H303.8L306.4 949.7L303.8 952.2H298.4ZM323.6 951.8L327.7 946.6H331.1L335.2 951.8ZM277.0 1217.6L283.2 1214.8L289.3 1217.6L283.2 1220.4ZM371.2 1057.2L376.0 1052.5H380.0L384.7 1057.2ZM417.1 873.8L419.1 872.0H427.4L429.4 873.8L427.4 875.6H419.1ZM376.4 779.4L380.2 774.8H383.4L387.2 779.4ZM294.6 835.0L296.6 833.4H300.6L302.6 835.0L300.6 836.7H296.6ZM320.6 1241.8H333.8L329.2 1246.2H325.2ZM343.4 1151.7L345.4 1150.2H355.4L357.4 1151.7L355.4 1153.2H345.4ZM288.8 1093.6H299.7L295.9 1098.1H292.6ZM347.6 1106.0L349.8 1104.0H354.3L356.6 1106.0L354.3 1108.0H349.8ZM331.7 1115.6L335.3 1111.4H338.4L342.0 1115.6ZM147.8 1290.0L150.3 1287.8H154.9L157.4 1290.0L154.9 1292.1H150.3ZM361.2 994.3L363.7 992.3H368.6L371.1 994.3L368.6 996.3H363.7ZM332.4 1258.2L336.6 1254.5H340.3L344.5 1258.2ZM274.9 1132.8L279.5 1128.1H283.5L288.1 1132.8ZM311.0 1112.6L313.0 1110.8H322.9L324.9 1112.6L322.9 1114.5H313.0ZM293.8 971.0L295.8 969.4H305.5L307.5 971.0L305.5 972.6H295.8ZM363.4 879.0L365.6 876.7H370.1L372.4 879.0L370.1 881.3H365.6ZM349.1 998.4H362.5L357.8 1002.1H353.8ZM298.8 917.3L301.8 914.6H307.9L310.9 917.3L307.9 920.0H301.8ZM184.9 1091.5H194.4L191.1 1096.0H188.2ZM419.1 1071.8L421.1 1069.9H426.2L428.2 1071.8L426.2 1073.6H421.1ZM403.6 1230.6L409.6 1227.5L415.6 1230.6L409.6 1233.7ZM300.1 1021.2L303.5 1017.5H306.4L309.7 1021.2ZM283.1 823.7L287.3 820.9L291.4 823.7L287.3 826.5ZM340.9 917.3L347.7 914.4L354.5 917.3L347.7 920.3ZM424.5 841.8H432.4L430.8 845.9H427.9ZM302.6 1109.2L309.1 1106.8L315.6 1109.2L309.1 1111.6ZM285.7 1232.8L289.0 1230.9H295.6L298.9 1232.8L295.6 1234.8H289.0ZM382.5 1224.3L387.8 1221.5L393.0 1224.3L387.8 1227.1ZM238.3 1242.3L242.7 1239.4L247.1 1242.3L242.7 1245.2ZM411.4 1283.3L415.7 1280.3L419.9 1283.3L415.7 1286.3ZM364.7 975.8H374.4L371.0 981.3H368.1ZM405.5 1142.6H417.0L413.0 1147.1H409.5ZM296.3 1087.0L299.9 1083.4H303.0L306.5 1087.0ZM211.6 782.8L214.9 780.1H221.5L224.7 782.8L221.5 785.5H214.9ZM331.0 1167.1L335.4 1164.6L339.8 1167.1L335.4 1169.5ZM290.9 972.9L295.8 968.3H299.9L304.8 972.9ZM286.7 837.3L288.7 835.7H293.6L295.6 837.3L293.6 839.0H288.7ZM336.6 1251.3L338.6 1249.8H342.8L344.8 1251.3L342.8 1252.8H338.6ZM238.3 1215.3L244.6 1213.0L250.8 1215.3L244.6 1217.5ZM167.6 1075.1L170.7 1072.6H176.8L179.9 1075.1L176.8 1077.6H170.7ZM219.6 1225.3L221.6 1223.7H228.7L230.7 1225.3L228.7 1227.0H221.6ZM252.1 1120.7L257.6 1117.5L263.1 1120.7L257.6 1123.9ZM370.3 792.1L372.3 790.8H379.5L381.5 792.1L379.5 793.4H372.3ZM333.6 1010.1H345.6L341.4 1014.7H337.8ZM293.1 1114.1L295.1 1112.9H300.0L302.0 1114.1L300.0 1115.4H295.1ZM203.3 820.0L205.3 818.7H212.8L214.8 820.0L212.8 821.2H205.3ZM398.9 856.8L402.9 852.9H406.3L410.2 856.8ZM322.8 981.9H334.0L330.1 985.9H326.7ZM193.8 1046.0L195.8 1044.8H205.0L207.0 1046.0L205.0 1047.2H195.8ZM327.2 1064.2L329.2 1062.4H337.0L339.0 1064.2L337.0 1065.9H329.2ZM190.4 1158.6L195.5 1155.6L200.6 1158.6L195.5 1161.6ZM296.3 1093.3L300.3 1089.0H303.8L307.9 1093.3ZM328.1 1250.6L330.1 1249.1H334.9L336.9 1250.6L334.9 1252.2H330.1ZM384.7 1041.7L386.7 1040.3H391.2L393.2 1041.7L391.2 1043.1H386.7ZM307.3 992.3L309.9 990.0H315.2L317.8 992.3L315.2 994.5H309.9ZM293.2 1260.1L297.1 1256.0H300.4L304.3 1260.1ZM327.5 1230.5H336.9L333.6 1234.3H330.8ZM343.5 1132.6L345.5 1131.2H353.2L355.2 1132.6L353.2 1134.1H345.5ZM369.5 1128.3L372.3 1126.0H377.9L380.7 1128.3L377.9 1130.5H372.3ZM360.2 1070.9L366.2 1068.1L372.2 1070.9L366.2 1073.6ZM380.0 997.7H389.8L386.4 1002.4H383.4ZM314.0 1245.8L316.0 1244.2H324.7L326.7 1245.8L324.7 1247.5H316.0ZM385.5 1162.6L387.5 1161.1H394.4L396.4 1162.6L394.4 1164.1H387.5ZM375.5 889.2L381.6 886.1L387.7 889.2L381.6 892.4ZM324.3 808.6L327.2 806.4H332.9L335.7 808.6L332.9 810.7H327.2ZM316.6 936.7L318.6 935.2H322.7L324.7 936.7L322.7 938.1H318.6ZM391.3 963.2L395.5 958.3H399.2L403.4 963.2ZM360.0 1117.9L366.1 1115.2L372.2 1117.9L366.1 1120.5ZM337.7 989.8L340.3 987.4H345.6L348.2 989.8L345.6 992.2H340.3ZM368.7 1251.0L374.8 1247.8L380.8 1251.0L374.8 1254.1ZM394.0 1111.1L396.4 1109.3H401.2L403.7 1111.1L401.2 1113.0H396.4ZM318.1 1224.1L320.1 1222.9H327.4L329.4 1224.1L327.4 1225.4H320.1ZM147.8 797.2L149.8 795.6H154.1L156.1 797.2L154.1 798.8H149.8ZM420.1 825.3L422.1 823.5H426.3L428.3 825.3L426.3 827.1H422.1ZM414.8 993.0L419.1 987.6H422.7L427.0 993.0ZM207.9 1101.3L214.0 1098.1L220.1 1101.3L214.0 1104.5ZM347.0 1233.7L352.1 1231.0L357.1 1233.7L352.1 1236.4ZM264.7 1003.6L267.8 999.6H270.4L273.5 1003.6ZM376.9 1124.6H386.8L383.3 1128.4H380.4ZM200.2 840.0H208.8L205.8 845.4H203.2ZM288.1 1048.4L292.5 1046.2L296.9 1048.4L292.5 1050.7ZM266.3 1153.0L269.4 1151.0H275.5L278.6 1153.0L275.5 1155.0H269.4ZM273.0 778.1H286.2L281.6 782.7H277.6ZM389.8 871.8L396.5 868.9L403.3 871.8L396.5 874.7ZM302.2 980.0H312.9L309.1 985.5H305.9ZM344.0 1225.6L346.2 1223.7H350.6L352.8 1225.6L350.6 1227.6H346.2ZM271.4 1066.8L277.7 1063.6L284.0 1066.8L277.7 1069.9ZM410.1 1272.3L412.1 1270.9H419.6L421.6 1272.3L419.6 1273.7H412.1ZM167.6 960.2H177.9L174.3 964.2H171.2ZM274.0 845.1L278.2 842.4L282.4 845.1L278.2 847.9ZM303.4 929.7L306.7 925.9H309.5L312.7 929.7ZM320.3 846.7L324.7 841.7H328.5L332.9 846.7ZM197.1 1063.1L200.4 1060.8H206.9L210.2 1063.1L206.9 1065.4H200.4ZM366.1 939.3L368.1 937.5H374.4L376.4 939.3L374.4 941.2H368.1ZM355.6 978.8H366.3L362.6 983.0H359.3ZM383.6 1039.6L388.5 1035.1H392.7L397.6 1039.6ZM255.0 1239.2L258.6 1234.3H261.8L265.4 1239.2ZM220.2 1229.6L223.8 1224.3H226.8L230.3 1229.6ZM223.8 1117.5L226.7 1112.1H229.2L232.1 1117.5ZM404.1 773.9L409.9 771.1L415.7 773.9L409.9 776.7ZM311.8 823.8L313.8 822.5H319.5L321.5 823.8L319.5 825.1H313.8ZM310.5 1007.1L313.8 1004.5H320.5L323.8 1007.1L320.5 1009.6H313.8ZM184.6 1178.5L189.9 1176.0L195.2 1178.5L189.9 1180.9ZM316.0 1053.1L321.5 1050.4L327.0 1053.1L321.5 1055.8ZM161.7 1221.3L165.6 1217.4H169.0L172.8 1221.3ZM256.1 1091.1L258.1 1089.4H264.8L266.8 1091.1L264.8 1092.8H258.1ZM412.6 1034.2H420.8L418.0 1039.3H415.5ZM364.1 1068.8L368.3 1064.5H371.9L376.0 1068.8ZM165.9 877.1L168.3 874.6H173.0L175.3 877.1L173.0 879.6H168.3ZM290.9 808.4L292.9 806.7H300.4L302.4 808.4L300.4 810.1H292.9ZM382.5 913.2L384.5 911.3H391.7L393.7 913.2L391.7 915.1H384.5Z"/>
<path fill="#0a30e8" d="M149.1 1010.2h5.2v1.6h-5.2ZM324.4 1152.7h5.0v1.6h-5.0ZM182.2 893.2h5.1v1.6h-5.1ZM339.2 811.3h4.2v1.6h-4.2ZM152.3 1098.7h5.0v1.6h-5.0ZM425.6 940.9h4.4v1.6h-4.4ZM163.9 958.7h4.6v1.6h-4.6ZM173.3 807.0h4.4v1.6h-4.4ZM330.4 871.0h5.0v1.6h-5.0ZM305.8 1001.4h5.3v1.6h-5.3ZM244.6 853.7h5.4v1.6h-5.4ZM267.8 1127.8h5.0v1.6h-5.0ZM264.5 818.5h4.8v1.6h-4.8ZM421.7 1232.4h5.6v1.6h-5.6ZM417.5 875.8h3.5v1.6h-3.5ZM313.8 907.1h4.9v1.6h-4.9ZM321.4 828.8h5.1v1.6h-5.1ZM227.4 1079.3h5.4v1.6h-5.4ZM276.7 1156.2h5.5v1.6h-5.5ZM360.8 1120.0h3.8v1.6h-3.8ZM364.9 1244.7h5.1v1.6h-5.1ZM270.6 1082.4h4.5v1.6h-4.5ZM215.3 811.0h4.3v1.6h-4.3ZM325.3 799.0h5.4v1.6h-5.4ZM160.6 831.5h4.6v1.6h-4.6ZM226.3 1073.0h4.0v1.6h-4.0ZM150.4 1041.5h5.3v1.6h-5.3ZM177.0 1197.2h4.9v1.6h-4.9ZM167.1 1018.8h5.6v1.6h-5.6ZM294.5 1071.5h4.4v1.6h-4.4ZM338.5 1030.4h3.9v1.6h-3.9ZM278.3 1039.4h3.9v1.6h-3.9ZM358.1 956.8h3.9v1.6h-3.9ZM202.9 864.5h3.9v1.6h-3.9ZM200.7 843.2h5.0v1.6h-5.0ZM326.7 1142.2h5.3v1.6h-5.3ZM325.1 1223.5h4.3v1.6h-4.3ZM360.5 1032.3h4.6v1.6h-4.6ZM172.7 769.6h3.2v1.6h-3.2ZM350.4 1083.9h4.6v1.6h-4.6ZM163.6 924.5h5.0v1.6h-5.0ZM301.7 834.0h3.8v1.6h-3.8ZM182.2 1234.8h3.5v1.6h-3.5ZM252.2 1022.1h3.7v1.6h-3.7ZM232.7 1010.4h3.6v1.6h-3.6ZM369.9 892.6h4.1v1.6h-4.1ZM376.5 1247.9h3.3v1.6h-3.3ZM228.7 1090.2h5.1v1.6h-5.1ZM267.1 825.9h4.5v1.6h-4.5ZM425.1 1106.6h5.6v1.6h-5.6ZM286.5 1243.2h5.2v1.6h-5.2ZM294.9 798.5h3.7v1.6h-3.7ZM154.9 1045.2h4.2v1.6h-4.2ZM404.1 968.6h5.4v1.6h-5.4ZM327.4 817.9h5.4v1.6h-5.4ZM344.5 1255.7h4.6v1.6h-4.6ZM283.9 1158.7h5.6v1.6h-5.6ZM374.2 1116.7h5.3v1.6h-5.3ZM290.1 1238.9h5.1v1.6h-5.1ZM353.1 877.0h3.9v1.6h-3.9ZM329.0 929.3h4.3v1.6h-4.3ZM169.3 1265.6h5.2v1.6h-5.2ZM305.0 1260.2h4.1v1.6h-4.1ZM157.1 1041.0h3.5v1.6h-3.5ZM345.1 795.6h3.4v1.6h-3.4ZM317.8 1102.7h3.9v1.6h-3.9ZM346.1 1145.9h4.7v1.6h-4.7ZM340.3 1118.1h3.3v1.6h-3.3ZM375.2 1049.6h4.7v1.6h-4.7ZM393.3 1027.8h4.1v1.6h-4.1ZM259.0 1144.0h3.2v1.6h-3.2ZM294.8 1011.6h5.5v1.6h-5.5ZM229.6 1094.7h4.2v1.6h-4.2ZM368.8 1255.8h5.4v1.6h-5.4ZM337.3 949.4h5.5v1.6h-5.5ZM408.3 1125.2h4.7v1.6h-4.7ZM221.5 1249.4h3.5v1.6h-3.5ZM280.7 1216.8h4.9v1.6h-4.9ZM375.3 1054.1h5.4v1.6h-5.4ZM353.1 999.4h5.4v1.6h-5.4ZM303.0 1018.5h3.8v1.6h-3.8ZM285.6 822.9h3.3v1.6h-3.3ZM241.0 1241.5h3.5v1.6h-3.5ZM289.4 836.5h3.6v1.6h-3.6ZM171.3 1074.3h4.9v1.6h-4.9ZM373.7 791.3h4.5v1.6h-4.5ZM337.2 1011.6h4.8v1.6h-4.8ZM206.7 819.2h4.6v1.6h-4.6ZM197.7 1045.2h5.3v1.6h-5.3ZM330.8 1063.4h4.7v1.6h-4.7ZM193.5 1157.8h4.1v1.6h-4.1ZM296.5 1257.2h4.4v1.6h-4.4ZM379.2 888.4h4.9v1.6h-4.9ZM327.8 807.8h4.5v1.6h-4.5ZM321.5 1223.3h4.6v1.6h-4.6ZM418.4 989.5h4.9v1.6h-4.9ZM211.5 1100.5h4.9v1.6h-4.9ZM290.8 1047.6h3.5v1.6h-3.5ZM413.5 1271.5h4.6v1.6h-4.6ZM314.7 823.0h3.9v1.6h-3.9ZM314.5 1006.3h5.3v1.6h-5.3ZM259.3 1090.3h4.3v1.6h-4.3Z"/>
<g clip-path="url(#c3)"><g transform="scale(0.5)" stroke-linejoin="round">
<path fill="#000088" stroke="#000088" stroke-width="3.00" d="M824 1524l7 0-7 0zM356 1529l4 0-4 0zM534 1529l2-1 4 1-6 0zM730 1539l7 0-3 2-4-2zM544 1544l5-1 5 1-10 0zM758 1549l3 0-3 0zM451 1554l3 0-3 0zM842 1554l2 0-2 0zM789 1569l4 0-1 2-3-2zM765 1574l9 0-8 2-1-2zM554 1599l6 0-6 0zM585 1599l3 0-3 0zM603 1599l3-1 9 1-9 4-3-4zM599 1604l2 0-2 0zM623 1604l10 0-8 2-2-2zM382 1614l2 0-2 0zM360 1619l3-1 2 1-5 0zM568 1619l6-1 7 1-7 3-6-3zM808 1619l6 0-3 2-3-2zM847 1639l15 0-15 0zM677 1644l6-1 5 1-5 3-6-3zM324 1649l14 0-7 2-7-2zM847 1659l2-1 8 1-8 2-2-2zM559 1664l3 0-3 0zM784 1664l10 0-10 0zM682 1679l9 0-9 0zM354 1689l4 0-4 0zM769 1689l10 0-6 2-4-2zM548 1699l4 0-4 0zM322 1704l3 0-3 0zM668 1709l2-2 7 0 7 2-14 2-2-2zM659 1714l5-1 2 1-2 2-5-2zM369 1719l2 0-2 0zM695 1719l7-1 6 1-6 2-7-2zM779 1719l6 0-6 0zM671 1724l12-2 2 2-8 2-6-2zM403 1729l5-1 4 1-4 4-5-4zM451 1729l3 0-3 0zM565 1729l7 0-7 0zM733 1729l1-1 6 1-7 0zM424 1734l9-2 3 2-3 2-9-2zM550 1734l11-2 2 2-2 2-6 1-5-3zM407 1739l1-1 2 1-3 0zM469 1739l3-1 3 1-6 0zM323 1744l2 0-2 0zM638 1749l9 0-9 0zM425 1754l4 0-2 2-2-2zM443 1759l5 0-5 0zM521 1759l3 0-3 0zM700 1764l9-1 7 1-7 1-9-1zM353 1769l4-1 8 1-8 2-4-2zM496 1769l1 0-1 0zM694 1779l4 0-4 0zM528 1784l1-3 3 3-4 0zM758 1784l7 0-5 3-2-3zM775 1784l7 0-7 0zM465 1789l1 0 1 5-2 1-1-1 1-5zM548 1794l6 0-6 0zM727 1794l1 0-1 0zM712 1804l3-2 6 2-9 0zM755 1804l5-1 5 1-5 2-5-2zM816 1809l1-2 2 2-3 0zM401 1819l8 0-8 0zM477 1824l6 0-6 0zM400 1829l9 0-9 0zM501 1829l11 0-11 0zM708 1829l7 0-1 5-7 0 1-5zM680 1839l3-1 6 0 2 1-8 3-3-3zM518 1849l11-1 4 1-10 2-5-2zM645 1846l-3 3 3 2 6 2 7-4-7-5-6 2zM795 1849l11 0-11 0zM670 1854l-3 0 3 1 2-1-2 0zM339 1859l6 0 1 5-4 0-3-5zM381 1859l9 0-9 0zM625 1858l-5 1 5 3 4-3-4-1zM651 1858l-5 1 5 5 7 0-7-6zM720 1859l9 0-1 2-8-2zM735 1864l13 0-7 2-6-2zM512 1874l6 0-6 0zM568 1873l-3 1 3 3 10-3-4-3-6 2zM645 1878l-2 1 2 5 9-5-9-1zM800 1879l5-2 1 2-1 2-5-2zM461 1889l6 0-2 2-4-2zM532 1889l4-2 5 2-5 2-4-2zM664 1894l-2 0 2 0zM383 1899l6-1 11 1-11 3-6-3zM736 1899l5-1 8 1-8 2-5-2zM798 1899l7 0-7 0zM458 1904l1-1 5 1-6 0zM581 1903l-6 1 6 3 4-3-4-1zM638 1909l-4 0 4 1 11-1-11 0zM374 1914l8 0-8 0zM819 1914l7 0-7 0zM471 1919l9 0-9 0zM581 1919l-2 0 0 5 2 1 6 0 5-6-5-3-6 3zM719 1919l5 0-5 0zM426 1924l10 0-3 2-7-2zM746 1929l2 0 6 5-7 2-2-2 1-5zM529 1933l-3 1 3 2 4-2-4-1zM555 1934l1 0-1 0zM606 1934l2 0-2 0zM305 1939l2 0-2 0zM392 1939l3-1 6-1 3 2-9 3-3-3zM476 1944l3 0 4 5-11 2-2-2 2-3 4-2zM593 1947l-4 2 4 2 4-2-4-2zM721 1949l8 0-8 1 0-1zM651 1954l-2 0 2 5 7 0 0-5-7 0zM710 1954l5-1 2 1-7 0zM825 1959l5-2 8 2-8 3-5-3zM458 1964l2 0-2 0zM735 1964l6-3 3 3-3 2-6-2zM469 1974l15 0-15 0zM517 1978l-2 1 2 1 6-1-6-1zM549 1979l7 0-7 0zM784 1979l5 0-5 0zM632 1984l-2 0 2 1 2-1-2 0zM764 1984l9-1 5 1-5 2-9-2zM510 1989l-1 0 1 0zM746 1994l2 0-2 0zM463 1999l9-1 7 1-7 3-9-3zM523 1999l-3 0 6 5 8 0-2-5-3-1-6 1zM625 2001l-2 3 2 2 15-2-15-3zM298 2009l2 0-2 0zM731 2009l3-1 5 1-5 2-3-2zM752 2009l2 0-2 0zM776 2009l5 0-5 0zM457 2014l10 0-10 0zM504 2012l-3 2 3 5 6-1 6-4-6-3-6 1zM828 2019l2 0-2 0zM392 2024l3-1 13 1-13 1-3-1zM632 2029l0 2 11-2-5-1-6 1zM517 2034l-3 0 3 1 9-1-9 0zM600 2034l-5 0 5 1 4-1-4 0zM757 2034l3 0-3 0zM770 2039l6 0-3 3-3-3zM737 2044l8 0-4 2-4-2zM368 2054l4 0-4 0zM746 2054l3 0 0 5-8 2-2-2 7-5zM381 2059l1-3 4 3-4 2-1-2zM619 2059l-2 0 2 1 2-1-2 0zM638 2058l-12 6 6 2 6 0 4-7-4-1zM422 2064l17 0-6 1-11-1zM443 2069l3-1 4 1-7 0zM517 2069l-2 0 2 0zM606 2069l7 3 5-3-5-1-7 1zM777 2069l3 0-3 0zM400 2074l8 0-8 0zM664 2073l-3 1 9 3 8-3-8-2-6 1zM689 2074l7 2 9-2-9-1-7 1zM802 2074l15 0 2 5-14 0-3-5zM381 2079l8-1 6 0 2 1-2 3-6 0-8-3zM485 2075l-5 4 5 2 2-2-2-4zM561 2078l-2 1 2 2 4-2-4-1zM423 2089l10-2 2 2-2 4-10-4zM709 2086l-5 3 5 2 7-2-1-2-6-1zM381 2094l8-1 3 1-11 0zM295 2099l4-1 9 1-13 0zM651 2098l-3 1 3 1 9-1-9-1zM709 2098l-3 1 3 1 4-1-4-1zM395 2104l1 0-1 0zM449 2104l12 0-2 1-10-1zM606 2108l-4 1 4 4 4-4-4-1zM677 2108l-6 1 6 2 8-2-8-1zM638 2114l10 0-3-1-7 1zM574 2119l-3 0 10 2 6 0 2-2-15 0zM783 2119l11 0-9 2-2-2zM388 2124l7-1 8 1-8 6-7-6zM770 2124l3-4 9 4-3 3-6 0-3-3zM343 2129l3 0-3 0zM366 2129l5 0-5 0zM510 2129l-5 0 5 3 12-3-12 0zM536 2129l-2 0 2 1 6 1 7-2-7-2-6 2zM600 2128l-2 1 5 0-3-1zM411 2134l6 0-6 0zM568 2133l-2 1 2 2 2-2-2-1zM459 2138l-5 1 5 2 6-2-6-1zM536 2139l6 3 2-3-8 0zM600 2139l-3 5 3 1 2-1-2-5zM625 2138l-2 1 2 2 7 0 5-2-5-2-7 1zM472 2143l-2 1 2 1 6-1-6-1zM549 2143l-5 1 8 0-3-1zM325 2149l12-1 6 1-12 2-6-2zM485 2147l-2 2 2 1 7-1-1-3-6 1zM587 2148l-2 1 8 0-6-1zM613 2148l-2 1 2 1 6-1-6-1zM715 2149l0 1 6 1 2-2-8 0zM304 2159l2 0-2 0zM334 2159l3-2 13 2-13 3-3-3zM815 2159l2-1 3 1-3 3-2-3zM485 2161l-6 3 6 2 4-2-4-3zM657 2164l15 0-15 0zM472 2168l-6 1 6 1 1-1-1-1zM683 2169l3 0-3 0zM808 2169l3-2 6 2-6 2-3-2zM587 2174l-4 0 7 0-3 0zM715 2172l-6 2 6 2 5-2-5-2zM781 2179l5 0-1 2-4-2zM841 2179l10 0-10 0zM789 2184l7 0-7 0zM805 2184l6-1 9 1-3 1-12-1zM424 2189l3-2 4 2-4 3-3-3zM478 2189l8 0-8 0zM400 2194l8-1 4 1-11 2-1-2zM677 2194l1 0-1 0zM772 2194l8 0-8 0zM478 2199l-3 0 3 1 1-1-1 0zM504 2199l0 1 6-1-6 0zM536 2198l-5 1 5 2 6-2-6-1zM632 2199l1 0-1 0zM549 2203l-3 1 6 0-3-1zM568 2204l-2 0 2 2 6 2 8-4-8-1-6 1zM771 2204l2-1 6 1-6 2-2-2zM702 2208l-3 1 3 3 7-3-7-1zM587 2214l-4 0 7 0-3 0zM683 2214l3 0-3 0zM819 2214l5-1 7 1-7 2-5-2zM664 2217l-1 2 1 3 6 0 4-3-4-2-6 0zM696 2216l-3 3 3 2 9-2-3-2-6-1zM797 2219l2 0-2 0zM306 2224l8 0-8 0zM341 2224l11 0-8 2-3-2zM504 2224l-3 0 3 1 1-1-1 0zM549 2224l6 4 7-4-7-3-6 3zM619 2223l-1 1 1 1 5-1-5-1zM670 2227l-4 2 4 3 3-3-3-2zM510 2233l-3 1 3 2 13-2-13-1zM549 2234l-2 0 2 1 6 1 3-2-3-3-6 3zM387 2239l2 0-2 0zM491 2239l6 5 7 3 4-3-11-5-6 0zM587 2239l-1 0 1 0zM702 2244l-2 0 2 2 7-2-7 0zM859 2244l6 0-6 0zM392 2249l3-1 7 1-7 4-3-4zM651 2247l-1 2 1 2 6 0 7-2-7-4-6 2zM689 2249l-3 0 3 1 4-1-4 0zM790 2249l2-2 6 0 8 2-14 3-2-3zM827 2249l11 0 4 5-12 2-3-2 0-5zM376 2254l6-1 4 1-10 0zM581 2254l-1 5 7-2 3-3-3-1-6 1zM709 2254l1 0-1 0zM747 2254l1 0-1 0zM393 2259l2-3 5 3-7 0zM408 2259l6-2 7 0 3 2-3 2-7 1-6-3zM439 2259l7-3 9 3-9 4-6-1-1-3zM670 2259l2 0-2 0zM689 2259l10 0-3-1-7 1zM734 2259l-1 0 1 1 3-1-3 0zM753 2264l0 5 9-5-9 0zM794 2264l4-1 8 1-12 0zM472 2267l-5 2 5 2 2-2-2-2zM606 2269l-2 0 2 0zM651 2268l-5 1 5 2 6 1 2-3-8-1zM702 2269l-3 0 3 4 11 1-4-5-7 0zM446 2274l-3 0 3 1 7-1-7 0zM549 2274l7 0-1-1-6 1zM790 2274l3 0-3 0zM402 2279l6-3 6-1 5 4-5 3-12-3zM423 2284l13 0-3 1-10-1zM465 2281l-2 3 2 3 7 0 3-3-3-3-7 0zM810 2284l6 0-6 0zM549 2289l6 3 3-3-9 0zM353 2294l4-1 7 1-1 2-10-2zM792 2294l6-2 7 0 2 2-9 2-6-2zM433 2299l1 0-1 0zM670 2296l-5 3 8 0-3-3zM581 2304l-4 0 4 2 9-2-9 0zM785 2304l2 0-2 0zM504 2308l-3 1 3 4 6-1 3-3-9-1zM555 2309l-2 0 2 2 10-2-10 0zM683 2309l-4 0 4 3 6 0 5-3-11 0zM478 2312l-4 2 4 3 4-3-4-2zM593 2314l7 2 10-2-4-2-13 2zM645 2313l-2 1 2 2 2-2-2-1zM808 2314l18 0-9 2-9-2zM401 2318l-3 1 3 2 8-2-8-1zM651 2319l13 3 3-3-16 0zM600 2324l6 0-6 0zM459 2334l-1 0 1 1 2-1-2 0zM657 2334l-2 0 2 2 5-2-5 0zM497 2339l-6 0 6 0zM549 2339l-4 0 6 0-2 0zM670 2336l-4 3 4 5 7-5-7-3zM414 2344l-5 0 5 1 9-1-9 0zM433 2342l-2 2 10 0-8-2zM350 2359l-5 0 5 0zM299 2378l0 2 6 1 2-2-2-1-6 0zM325 2394l-1 0 1 1 10-1-10 0zM773 2418l-2 1 2 1 3-1-3-1zM491 2424l-1 0 1 1 8-1-8 0zM600 2429l10 0-10 0zM842 2434l1 0-1 0zM549 2444l-4 0 4 2 2-2-2 0zM344 2449l18 0-5 5-13-5zM677 2448l-4 1 4 1 12-1-12-1zM555 2453l-4 1 4 2 3-2-3-1zM311 2459l2 0-2 0zM472 2458l-4 1 4 2 6 0 0-2-6-1zM587 2459l-13 5 13 0 1-5-1 0zM715 2458l-2 1 2 1 10-1-10-1zM734 2459l-4 0 4 2 2-2-2 0zM478 2466l-2 3 2 1 15-1-8-4-7 1zM433 2474l-2 0 2 1 9-1-2-1-7 1zM504 2474l-4 0 4 1 1-1-1 0zM542 2473l-4 1 4 1 8-1-8-1zM587 2474l-2 0 2 2 5-2-5 0zM619 2472l-2 2 0 5 2 1 3-1-3-7zM805 2474l6-2 2 2-2 2-6-2zM593 2482l-3 2 3 3 7 0 2-3-9-2zM709 2491l-7 3 7 2 5-2-5-3zM833 2494l4 0-4 0zM549 2499l2 0-2 0zM677 2497l-2 2 2 3 12-3-6-2-6 0zM798 2499l2 0-2 0zM838 2504l6 0-6 0zM339 2509l11-1 5 1-5 2-11-2zM743 2509l4-1 5 1-9 0zM309 2524l5 0-5 0zM352 2524l5-2 8 2-8 2-5-2zM581 2522l-4 2 10 4 5-4-11-2zM745 2524l2 0-2 0zM778 2524l1-2 1 2-2 0zM411 2529l6 0-6 0zM361 2534l8-2 6 2-6 2-8-2zM493 2534l10 0-6 3-4-3zM545 2534l4 0-4 0zM581 2533l-5 1 5 2 5-2-5-1zM391 2539l11 0-7 4-4-4zM471 2539l2 0-2 0zM506 2539l4-1 3 1-3 2-4-2zM550 2539l5-2 6 2-6 3-5-3zM743 2544l4-3 6 1 1 2-11 0zM318 2549l4 0-4 0zM504 2549l6-1 5 1-11 0zM727 2549l2 0-2 0zM759 2549l1 0-1 0zM820 2554l7 0-3 2-4-2zM604 2559l5 0-5 0zM817 2564l4 0-4 0zM555 2569l2 0-2 0zM795 2569l10-1 6 1-13 3-3-3zM546 2574l3-1 1 1-4 0zM847 2574l4 0-2 2-2-2zM369 2579l7-1 1 1-8 0zM610 2579l6 0-6 0zM361 2589l2-1 1 1-3 0z"/>
<path fill="none" stroke="#000088" stroke-width="3.00" d="M869 1545l0-1M286 1564l6 0-6 1M592 1624l8-3 6 5 7 1 6-1 6-3 20-1 26 2-14 1-21 4 19 10 0 5-10 5-2 5-13 5 1 5 20-2 9 2 1 5-19 5 7 5-4 2-13 0-4 3 17 3 12-1 15 3-2 2-31 8 12 3 13-6 6 0 7 2 0 1-20 9-7 6 7 2 3 3-3 3-12-1-7 1-3 2 3 4 19-2 7 3 5 5-9 5 19 5-9 3-13-1-3-2 1-5-4-3-6 4-32 1-6 3 2 5 12 5 4 7 13-1 1 4-1 3-13-2-12 5-7 0-2-1 4-5-2-1-6 1-12 5 4 5-5 2-13-1-5-1 4-5-9-5 34-10-11-1-6-1-3-3 16-10-12-10 2-5-10-2-6 0-7-3 7-4 6 2 8-3 2-5-3-5-13 9-29-4 3-1 19 0 7-4 6-5-11-5 11-2 5-3 0-5 12-5-4-2-6 0-7 4-19 0-8-2 8-5 43-5-11 0-8-5 14-4 2-1-2-1-12 0-7-2-1-2 1-4 13 1 3-2 3-5-19-5 5-5 26 0-10-5-3-5zM286 1634l9 0-9 1M286 1686l7 3-7 3M286 1704l0 1M869 1700l-1-1 1 0M600 1713l-6 1 6 3 13 0 2-3-9-4-6 3zM613 1729l-2 0 2 2 6 1 11-3-17 0zM659 1754l5-3 6 0 4 3-17 7-11-2 11-3 2-2zM379 1769l10-2 6 0 3 2-3 2-16-2zM869 1766l-5-2 5 0M659 1774l11-1 22 1-3 3-19 4-11-7zM593 1802l-4 2 17 5-1 5 14-2 2 2-2 5 6 3 3-3-3-7-3-3-16-5-13-2zM593 1832l-2 2 9 2 6 0 5-2-5-2-13 0zM869 1852l-5-3 5-1M462 1869l3-2 7 0 6 0 3 2-6 5-16 1-6 2-7-3 13 0 3-5zM503 1884l14-2 8 2-8 1-14-1zM568 1884l8 5 11 4 6-4 4-5-4-3-19 1-6 2zM429 1889l11-1 8 1-2 6-13-2-4-4zM705 1899l5 0 4 5 16 5-15 3-6-2-13 1-7-1 13-2 6-4-3-5zM493 1904l4 0 7 2 13 1 5 2-5 4-7 1-13-5-4-5zM737 1914l10-1 6 5 9 1-23 0-2-5zM769 1934l4-2 10 2-4 6-6 1-2 3-5 3-6 1-5-4 5-2 11-3-2-5zM738 1954l9-3 13 3 9 0-3 2-13-1-6 5-6-2-3-4zM496 1959l8 6-7 1-24-2 12 0 11-5zM689 1974l-12 1-12 4 5 3 7 1 18-9-6 0zM568 1989l25 0-25 0zM606 1992l-2 2 15 7 13-5 12-2-6-2-19-2-13 2zM683 1997l-3 2 9 4 10-4-10-2-6 0zM587 2004l-6 4-20-1-7 2 7 3 20-1 6 1 4-3-4-5zM651 2009l-6 3-23 2 10 3 19-2 13 0 1-1-1-1-7 0-6-4zM593 2014l-6 4-8 1 21 2 2-2-9-5zM549 2023l-1 1-12 3-3 2 0 5 35 1 6 6 7-2 0-2-7-3-13-1-6 1-2-5 2-2 13 1 6-2 1-2-1-1-25 0zM619 2034l-2 5-4 3-28 2 8 4 8 1 17-5 3-5-2-5zM689 2032l-6 5-6 2 6 4 13 1 6-5 1-5-1-2-6-2-7 2zM394 2044l7-2 13 2 13-1 10 1-4 3-19-1-13 2-7-4zM529 2044l-4 0-3 5 7 3 13-1 13-2 6 2 7 0 0-2-2-5-5-2-6 0-13 3-13-1zM638 2044l-1 0 2 5 6 4 6 0 10-4-10-6-6 0-7 1zM561 2058l-21 6 9 4 12-2 3-2-1-5-2-1zM772 2059l1 0 0 8-13 0-6-3 18-5zM657 2064l7 3 11-3-11-1-7 1zM683 2064l-5 0 11 2 9-2-15 0zM745 2069l6 0 7 5-5 5-12 0-4-5 8-5zM689 2089l-6 5-14 0 20 1 11-6-11 0zM771 2099l3 0-4 5-17 2-8-2 15 0 11-5zM286 2111l9 3-2 2-7-1M343 2114l7-3 7 0 7 3-7 5-7-1-7-4zM478 2113l-3 1 3 2 26 1 6-3-6-4-7 0-19 3zM536 2114l-2 0 2 1 6 1 13 1 5-3-11-3-7 0-6 3zM478 2123l-9 6 9 2 7-4 13-3-13-2-7 1zM625 2129l-4 0 17 2 9-2-9-1-13 1zM869 2150l-5-1 5 0M869 2161l-3-2 3-1M421 2168l-5 1 5 3 19 1 5-4-5-4-19 3zM645 2178l-3 1 9 4 6 0 3-4-9-2-6 1zM286 2186l8 3-8 1M574 2189l-6 5 8 0 11-5-13 0zM689 2193l-4 1 11 2 8-2-8-2-7 1zM651 2198l-6 1 6 2 16-2-16-1zM721 2212l-4 2 4 3 13 0 7 3 4-1-4-5-13-2-7 0zM286 2219l11 0-11 1M361 2229l8-1 14 1-20 2-2-2zM772 2229l7-4 13 3 13-1 8 2-2 3-19 3-22-1 2-5zM657 2237l-1 2 1 2 13 4 4-1 1-5-5-3-13 1zM286 2249l2 0-2 1M869 2260l-2-1 2 0M387 2269l21-2 3 2-3 5-21-5zM809 2269l2-2 22 2-3 2-21-2zM581 2274l-3 5 9 3 6 0 4-3-6-5-10 0zM372 2279l4-4 6 4 13-2 6 2-6 2-13-2-6 3-4-3zM753 2278l-3 1-3 5 6 5 2-5 11-5-13-1zM587 2292l-3 2 9 4 12-4-12-2-6 0zM427 2313l-2 1 4 5-8 3-3 2 1 5 4 0 10-7 13 2 2-5-2-1-13-5-6 0zM632 2322l-5 2 5 7 10-2 1-5-5-2-6 0zM728 2337l-7 6-5 1 18 0 2-5-8-2zM869 2347l-32 5-5 2-4 5 2 3 19-2 7 0 6 4 7-1M286 2355l7 1 2-2-5-5 15-6 9 1 10 5-12 5 6 4 7 1 19 0 0-5-19-5 5-5 7-2 13 1 8 1 5 5 6-1 8-4-1-2-7-4 0-4 7-2 4 2 2 4 7 2 6 5 12-1-6-5 9-5-15-4-13-6 3-5 0-5 10-3 11-7-5-4-6 0-19 6-11-2 4-4 7-3 13 0 6-2-9-6 3-1 12-2 13 2 2 1-9 5 7 3 7 0 6-5 6-1 20 5 14-2-2-2-7-3-16-5-10-10 2-5 6-4 17-1 2-2 7-3-7-5-19-1-7 1 1-5-2-5-9-5 4-1 6 1 7 5 3-5-3-3-7 3-1-5-5-2-13 1-13 5-6-1-2-3 16-5-1-4-4-1 4 0 5-5-7-5-2-5 4-3 13 3-3 5 4 5 15 10 3 4 6-1 5-3-8-5 10-2 6-3-6-4-7 0-6-4-7-7 4-5-4-5 13-4 7-6 0-2-7-1-13 0-32-4-8-3 5-5 10-4 6-4 19 2 13-2 7 3 6 0 5-5-3-5-8-3-7-1-6 8-7-1-4-3 14-10 0-5 2-5 12-5 6-5-1-5-9-2-3-3 16-5 3-5-5-5 1-1 45-3 7 5 6 10 17-6-5-5-12-8-13 3-6-2-19 0-15-3 1-5-6-4-25 1-6-2 6-1 19 1 19-5-6-10 6-1 8 1 5 6 6 1 4-2 1-5 9-5-7-1-7 0-5-4 4-5 11-5-3-4-7-2-8 1-3 5-10 5 8 5-19 7-4-2-2-3-6 2-7-1-9-3 9-3 19 4 0-6 5-5-6-5 21-5-7-2-2-3 13-10-1-5-5-5 2-3 7-2 0-5 12-2 3-3-3-4-13 1-11-2 24-1 3-4-14-5 17-6 7-6 6-1 13 2 13-3 12 1 8-2-14-3-2-2 7-10-5-3-13 5-4 3 0 5-2 1-13 1-20-7 15-5-4-5 3-3 5-2-12-4-8-6 8-1 13 1 6-3 2-2-6-5 8-5 4-5-5-5-15-1-11-4 4-2 13 0 19-2 13-11-13-2-5-3 4-5 8-5 6-1 5-4-11-7-2-3 2-1 6-2 12 3 1 2 6-2 7 5 6 1 13-2 3-4-10-3-12 0-2-2 2-1 12 0 7-2 3-2-3-1-19 0-20 4-6-1-11-7 14-5 1-5-4-5 6-1 13 1 19-2 4-3-16-2-4-3 3-5-6-10 5-5 14-5 7-1 6 1 7-3 1-2-9-5 1-1 13-2 19-5 17 3-1 5-9 4-7-1-7 2 7 3 19-2 7-3 4 2-1 5-3 3-19 2-20-1-12-2-6 3 6 8 12-1 13-6 19 2 5 2-1 5-10 3-2 2 9 5-10 5 3 4 6-2 7-5 6 0 13-7 2 5-4 5-12 5 8 6-7 1-19-6-13-2-6 1 2 5-2 2-13 3-5 5 5 2 19-7 7-1 19 5 12 6 19 15-6 5-12-3-10 3 2 5 8 8 6 1 6-3-3-6 3-4 7 3 6 0 13-2 1 3-3 5 4 5-2 5-6-1-9-4-6 0 2 5 8 5-2 2-6 1-5-3 4-5-12-2-10 7 13 5 1 5-4 2-3 3 1 5 4 5-2 4-6-3-5 4 5 1 12-3 7 1 2 1-7 5 5 4 6 2 4-1 1-5 2-2 7 7-2 10-5 4-8-4-5 0-14 5-1 5 2 2 6 0 12 3 1 5-4 5 4 3 13 2 26 10 12-1 7 1-7 3-6 0-26-2-19 7-6-4-7 0-1 6 14 1 7 2 12-1 5 3-20 5 8 5-5 3-7 2-13-1-1 1 21 2 11 3-11 3-13 6-12 1 5 3 13 1 13-1 6-4 10 1-3 5 2 5-2 5-14 5 7 5 13-3 3 3-22 7-2 3 2 2 21 3-8 3-10 7 19 5-17 5 14 4 17 1 2 5-6 2-6 0-7-5-13 3 16 5-16 5 13 5-4 5 1 5 10 2 6 3-17 5 16 5-5 3-13 1-7-4-19 5-13-1-3 1 42 2 6 5 12 3 7 10 3-5 10-8 7 0 6 3-19 9-22 6 19 5-9 5-3 5 4 5-2 2-19 3 1 5 24 2 13 3-13 7-6-1-1 4 7 4 18 1-8 5 2 5-12 2-7 3 15 10 1 5 12 5-7 5 11 10 7 3 2 2-2 3-9 2 9 2 4 3-18 5 17 5-15 3-4 2-1 5-2 1-14-1-1 5 2 3 9 2-11 5 15 2 17 8-6 10 28 3 5 2-19 5 7 1 10 4-5 5 2 1 6 2 6-1 13-7 1-5 6-2 32 2M869 2356l-5-2 5-2M869 2366l-7 2 0 1 1 5 6 3M286 2393l8-4-8-4M286 2403l24-4-5-1-12 0-7-2M869 2402l-6 2 1 5-2 1-6 2-10-3 3-5 0-5 13-2 2-3-2-2-7-3-2-5 6-5-10-2-5-8-7 0-7 3-13-4-12 1 15 5-1 5 5 3 13-4 10 1-14 5-9 15 12 5-1 5-11 2-10 3 16 5-13 4-19 1-6-2-7 1-2 1 9 2 6-1 3 4-3 3-6 2-27-5 4 5 10 5-9 10-2 5 5 4 25 0 11 6-4 5-20-8-12 1-3 2 12 5-9 4-7-6-25 2-20 5-32-5-5 5 18 8 7 0 6-4 6-2 7 2 13 0 6-6 6-1 12 3 1 5 7 5-13 2-13-6-19 3-2 1 15 5 6-1 3 1-3 1-6 0-12 4-2 5 7 1 5 4-37 5 3 5-3 1-13-2-14 6 14 5 2 5-25 5 17 3 6 2-6 4-19 2-6-1 6-3 0-4-27-3 20-4 2-1-8-2-13 1-6 4-7 0-4 2 17 9 13-1 6 2-12 3-7 4-6 1-13-5-6 1-2 1-18 1-1-1 1-3 7-2 6 2 3-2-3-5-6-2-9 7-10 0-7-7-19-6-2-2 2-3 5-2-5-1-13 3-11-2 11-3 7-6 12 4 26-4 16-1-3-4-7 2-19 1-11-4-2-3-6 2-6 4-7-5-19 0-10-3 16-2 10-3-20-5 6-5-2-1-6 0-19 6 10 5 1 5-5 5-7 0-6 5-6 2-26 3 4 5 9 5 6-6 7 1-7 6-6 0-19 2-13-7-3-1-4-5-6 2-6 0-5-7 5-10 6-4 13 1 6 0 1-2-33-1-10-4-6-5 0-5 14-5-11-2-6-8 6-4 13 0 27-6-14-1-19 4-7-1-6-6-6 0-7 1-5 3 1 5-9 1-6 0-7-6 1-4 12 1 13-5 7 1 2-3-9-3-13-1 1-6-3-5 2-1 7 4 13 4 6-1 4-6 9-1 3-4-10-2-19 1-5-4 4-5-5-2-7 0-25 9-7-1-2-1 7-5-5-2-12 0-13-5-10 2-6 0-10-6M869 2425l-15-6 8-1 7 3M465 2439l-1 0 3 5 5 3 6 0 10-3-5-5-5-1-13 1zM721 2442l-3 2 3 4 20 4 1-3-14-8-7 1zM504 2447l-5 2 5 3 6 0 9-3-2-1-13-1zM606 2458l-1 1 1 1 19 2 6 2 7 6 7 1 4-2-4-4-7-1-6-6-19-3-7 3zM670 2464l13 3 5-3-5-2-13 2zM353 2474l4-1 19 0 4 1-4 10-3-5-10-3-10-2zM334 2489l3-2 7 0 6 0 3 2-9 2-10-2zM414 2489l13 2 7-2-7-3-13 3zM465 2487l-1 2 4 5-9 5 8 5 11 2 7-1 0-2-7-1-4-3 4-2 18-3-5-1-6 0-20-6zM638 2489l-3 0 1 5-5 5 11 10 9 6 6 2 7-3-19-10 0-15-7 0zM670 2488l-3 1 3 2 19 0 4-2-4-1-19 0zM568 2494l-7 5-3 0 3 3 16-3 0-5-9 0zM752 2499l8-3 6 0 7 3-7 6-6 0-8-6zM869 2502l-8-3 8-2M808 2509l9-1 9 1-9 2-9-2zM495 2519l15-4 10 4-3 3-13 1-7-1-2-3zM702 2534l26-2 3 2-16 2-3 3-3 2-7-2 0-5zM537 2544l5-1 16 6-9 2-13-1-3-1 4-5z"/>
<path fill="#0a20d8" fill-rule="evenodd" stroke="#0010f0" stroke-width="2.60" d="M629 1624l16-1 7 1-20 4-2 1 3 5-8 2-1 3 14 7 4-7 9 0 0 5-10 5-3 6-6 1-7-2-3 5 0 5 23 3 3 2-16 4-26 0-6-6-13 0-4-3 15-5 5-5-8-5 1-5-17-5 8-3 13 1 12-3-10-5 4-1 13 0 10-4zM682 1644l2 0-2 0zM580 1654l5 0-5 0zM570 1674l11-1 15 1-22 2-4-2zM553 1679l8-4 7 1 2 3-17 0zM597 1679l3-3 25 0 4 3-4 6 20 4 12-2 10 2-29 8-23 2 23 2 7 3 12-1 3 1-16 10-2 5-4 1-6 5-25 4 2 10-7 5 1 5-3 2-13 0-3-2 14-10 1-5-12-4 0-2 11-4 8-4 17-1-8-10-9-1-13 4-5-3-4-10-13-5 16-4 6 1 20-1-16-11zM625 1708l-3 1 3 2 7 0 2-2-2-1-7 0zM606 1699l-1 0 4 0-3 0zM286 1689l0-2 4 2-4 2 0-2zM663 1699l5 0-5 0zM548 1709l20 0-20 0zM566 1719l2-1 5 1-7 0zM575 1719l12-3 3 3-3 4-12-4zM407 1729l1 0-1 0zM630 1739l2-2 3 2-5 0zM668 1744l3 0-3 0zM661 1754l3-1 8 1-8 2-3-2zM593 1759l7-2 4 2-4 2-7-2zM356 1769l3 0-3 0zM609 1779l4-1 12 2 3 4 10 5 19-2 6 2-6 2-19-1-13 2-11-3 3-5-8-5zM628 1779l10-3 9 3-9 2-10-2zM584 1794l9-2 7 1 5 6-5 2-12-2-4-5zM631 1799l7-2 18 2-5 2-6 0-7 6-6 1-7-1-6-3 12-5zM586 1809l1-1 13 1-4 5-3 1-7-1 0-5zM633 1814l5-3 7-1 7 4-14 7-6-2 1-5zM604 1819l9-2 2 2-7 10-8 2-4-2 8-10zM660 1824l4-1 1 1-1 2-4-2zM576 1829l5-2 6 2-3 5 24 5-2 5-6-3-13 0-6-1-11-6 6-5zM564 1839l4-2 1 2-1 2-4-2zM634 1839l11-4 14 4-2 3-6-1-13 3 0 6 7 4 4 0-4 1-4 4 4 5 19 2 2 3-2 5-7 4-12-2-7 3-1 10-5 6 6 1 7-4 2 2 4 2 13 1 13-5 6 2-9 5-2 5 4 5-8 5-2 5 4 3 13 0 10 7 16 4 2 1-2 4-20-3-6-2-6 5-6 1 4 5 1 10 13 1 6 4-1 5 2 5 13 0 14 5-9 5-12 2-2-2 1-5-5-4-13 3-6 0-16 6 3 5 14 0-8 5 7 3 19 0 10 2-4 3-19-1-6 3 10 5-4 5-6 0-7-1-8-9 4-5-2 0-8 0-11 10-16-5 3-1 13-1 4-3-4-4-14-1 7-2 2-3-8-3-13 3-19 0-7 3-25-1-6 3 6 3 25-1 7 3 18 10-5 7-7 2-6-1-6-8-7-2-13 5-19 0-6 4-7 0-8 3-1 5-4 3-6 0-5 2 11 5 0 1-38 4-10-5 10-8 26 0 6-7-13-5-6 0-7 6-1-1-6-5 6-5 1-5 20 4 6 4 13 1 3-4 3-9 13-6 6-7 1-3-14-5-5-5 6-2 19-1 5-2 1-2 7-2 6 0 6 6 13 0 5-2-6-5-12-2-6 2-6-1-13 3-11-2 4-5 8-5-4-5-10-1-18 6-14 9-11-4 12-5-5-5 17-8 6-2 13 2 6-1 6-6-25-1-6 1-1-5-5-5 10-5 1-5-4-5-26-5 31-2 13-7 6-1 13 1 10 4-2 5-11 5 10 10-7 3-19-3-9 5 15 2 20 6 4 2 2 5 7-5-4-5 10-9 13-1-20-1-6-4 6-5 22-5-18-5 10-5-6-5 3-5 2-1 7 2 12 4 13-5-6-2-19 0-2-3 7-5-5-1-20 0-4 1 1 5-3 2-5-7-10-5 9-2 6 1 26-4 12 5 8 0 0-5-1-1-7-2-12 3-7-6-13-4 20-6 5 1-1 5 8 1 7-4 5-2-3-5zM632 1907l-4 2 10 3 7 0 9-3-3-3-19 1zM657 1939l-2 0 2 1 5-1-5 0zM568 1973l-3 1 3 3 13 3 9-1-3-1-6-1-2-3-5-1-6 0zM587 1968l-4 1 4 3 4-3-4-1zM600 1973l-4 1 4 2 6 0 2-2-2-1-6 0zM581 1933l-2 1 2 2 5-2-5-1zM600 1944l-7 1-9 4 3 3 6 0 10-3 4-5-7 0zM606 1932l-5 2 5 2 13 0 9-2-22-2zM638 1929l7 2 11-2-5-1-13 1zM625 1943l-16 6 16 5 10-5-4-5-6-1zM645 1954l-2 0 3 5-3 5 2 1 12-2 8-4-4-5-4-1-12 1zM661 1844l3-1 12 6-6 3-6 0-3-3 0-5zM867 1849l2 0 0 1-2-1zM551 1854l4-1 6 1-6 4-4-4zM659 1859l5-2 9 2-9 4-5-4zM464 1869l8-1 4 1-4 3-7 0-1-3zM567 1869l1-1 1 1-2 0zM707 1869l3 0-1 7-7 1-6 0-3-3 3-4 6 1 5-2zM546 1874l9-2 4 2-2 5-8 2-5-2 2-5zM571 1879l10-2 3 2-3 1-10-1zM650 1884l7-3 7 1 1 2-1 2-7 2-6-2-1-2zM437 1889l4 0-4 0zM387 1899l5 0-5 0zM500 1909l4-1 6-1 8 2-8 3-10-3zM713 1909l2-1 7 1-9 0zM516 1934l1 0-1 0zM680 1939l3-1 3 1-6 0zM758 1944l8 0-6 1-2-1zM515 1969l8-1 6 1-12 6-2-6zM496 1979l8-2 13 4 12-1 25 4-5 4-7 0-4 1-4 5-17 4-7-1-1-3 1-1 13-4-6-1-13-6-8-3zM713 1994l8 0-8 0zM471 1999l1 0-1 0zM693 2004l9-3 8 3-8 3-9-3zM624 2009l8-2 8 2-8 3-8-3zM551 2014l4-1 13 1 13-1 3 1-10 3-1 2-5 3-7 0-6-3-4-5zM675 2014l2-4 12 5 20-2 7 1-14 1-3 4-10 2-6-1-8-6zM633 2019l12-3 12 3-12 7-11-2-1-5zM659 2019l5-1 13 3 6 9 1 4-7 3-40 2-3-5 4-2 13-4 13 0 1-4-6-5zM580 2024l20 2 6 0 7-5 4 3 2 5 6-1 1 1-13 0-7 3-19 1-8-4 1-5zM706 2034l3-4 6 2 8 7-14 4-4-4 1-5zM511 2039l18-3 20 1 15 2-22 4-19 0-6 6 12 6 26-4 6 3-9 5-10 2-5 3 12 8 12-3 6-5 1-5 6-4 4-1-4-1-2-9 2 0 13 3 6 5 7 1 25-8 15 9-8 2-13 1-8 2 10 5-2 2-13 0-3 3 3 4 7 2 6 1 10-2-2-5 5-1 4 1-3 5 5 4 13-3 13 4 6 0 13-4 13 2 19-1 12 3-6 3-12 1-20 4-12 5-32 4-4 3 4 2 19 0 6-4 7-1 12 1 13-4 13 1-13 3-2 2 2 3 13 1 1 1-1 2-14 3 8 2 12-2 4 5-4 5 21 5-40 11-6 0-7-3-14 2 2 5 12 6 13-3 22 2-9 3-4 2 4 3 10 2-8 5 4 5 13 6 7-2 7 1-7 5-3 5 7 5-4 2-26 0-6 6-13-2-19 0-13 5-19 2-13-1-7 2 0 1 0 3 9 2-2 4-19 10-8 1 8 3 6 5 6-1 4-2-8-5 27-10 1-5 21-3 7 1 6 3 6 0-7-6 7-2 13 2 13-3 35 3-9 3-13 0-2 2 2 3 6 0 5 2-5 2-19 0-6-4-7-1-6 1-7 6-19 1-6-2-4 2-3 7-7 3 1 2 8 3-11 5 2 5-5 4-8 1 8 2 2 3-2 3-10 2 3 4 7 0 6-5 13-2 6-3 8 1-3 5-15 5 4 2 25 1 20-2 6 5 6 1 7-1 13-4 6-4 13 2-7 2-12 10-8 3 8 4 2-4 4-2 19 0 3 2-3 2-13 0-11 3 1 10 10 3 13 0 0 4-13 0-6 2-1 1 1 5-6 4-13 0-4 1 17 6 6 8 6-4 7-2 6 1 11 6-2 5-6 5 4 2 33 3-26 5-7 5 12 5 7-6 6-1 5 2-5 4-6 2-7-1-6 3-2 2 8 2 7 0 6-4 22 2 1 5-10 1-6-3-7 1-3 6 18 5 0 5 11 10-4 5-1 5 1 5-1 5-14 5 14 5-8 2-6-2 0-4-13-4-19 2-13 0-3 1 1 5 18 5-16 3-13 0-6 3-13-3-14 2 13 5 1 3 6-2 7 1 12-6 7 1 5 3-4 5 5 2 7-2-5 10-2 3-13 1-6-2-19-12-7-2-7 7 2 5 23 5-11 4-19-5-3 1 3 7 6 2 13-1 3 2 2 5-12 4-12-4-7-3-6 0-3-2-1-5-3-1-12 4-15 2 20 5-1 5 11 5 4 5 4 0-17 2-6-2-7-5-4 0 3 5-9 5 2 5 8 2 3 3-3 3-8 2 15 2 12-4 7-4 6-1 13 2-1 5-31 7-13 10-9 3-9 0 17-10-12-7-8-3-1-15-3-2-17 2 3 5-4 5 6 5-1 4-12 1 18 2 7 3 0 3-13 1-2 1 2 2 10 3-10 4-7 0-17-9 1-5 4-4 4-1-1-5-3-2-13 2-7-1-5-4-7-7-20-2-6 1-1-2 4-5-3-1-6 0-5 1-2 5 11 5-11 3-15-3 7-5-11-6-19 5-13-5-13 1-10-5 0-5-9-7-6 0-5 2-2 3-6-2-7 1-11 3 5 3 13 0 13-5 10 7-4 5-8 0 8 5 4 5-10 6-7-3-13 0-22-3 16-1 12-4 0-5-12-1-6 4-13 1-4-4 16-5-17-5-5-5 3-2 20-1 19-4 7-3 0-5-26 3-20-5 0-3 20-3 25 0 13-1 13 3 6 1 13-5-6-8-20 0-6 3 0 4-6 1-6-5 9-5 2-5-3-5-9-2-6 2 11 5-9 5-9 9-12-3-13 2-4-3 4-2 6-1 4-7-17-4-19 1-2-2 5-5-3-3-13-1-19 5-2-1 5-5 2-5-1-5-4-2-9 2-4 6-12 0-7-3-13 0-2-3 15-3 7-4 18-3-18-3-6 3-1 2-28-2 3 0 6-9 9-1 5-5-5-5-10-5-3-5 4-2 13 0 6 5 7 0 12-1 20-5 0-5-23-7 3-2 13-1 7 8 25 2 8-2-12-5 4-7 13 5 13 2 19-3 13 1 7-3-1-5-6-5-13 7-13 1-8-3 21-9 6-5 13 3 4-4 2-5-6-3-13-5-6 0-6 3 0 2-7 1-6-2-14-1 14-8 13 2 12-6 7-1 6-3 19-1 5-3 2-4 9-1-3-2-3-8-16-6-19 0-3-4 3-2 19-1 6 7 7-1 5-3 4-5-16-8-6-6-13 1-5-2 5-4 6-11 4-5-7-5 10-2 3-3-3-10-13 3-4-3 2-5-1-5-3-5 6 0 7 7 12 2 13-1 5-3 2-2 12 0 7 5 11-3-15-5-4-5-5-1-13-1-6 2 11 5-18 5-12-9-1-1 7-7 4-3-4-2-10-3 1-5 3-1 6 1 6 3 7 0 6-4 13-2 6-6 3-1-15-2-13 9-7-1 6-11-20-10 8-1 4 1 2 3 7 1 13 4 6 0 13-4 8 1 1-5-22-3-13 0-27-7 8-3 6 0 13 4 3-1 3-5 7-2 6 0 7 7 6 1 13-3 19 1 7-1 3-3-3-2-7-1-13 2-6-1-19 0-7-5-12-3 12-1 7 2 6 0 7-4 6 5 19-3 13 1 29 5-3 3-7 0-13 6-1 1-1 5 9 1 3 4 10 6 12 0 7-2 6 1 13 4 6 3 7-2 6-5-25-4-5-6-8-3-7 1-6 7-8-5 2-1 12-5 20-3 12 3 20-1 4 2 2 5 6 0 9-5-13-5-2-2-6-1-13 0-10-2 2-5-5-1-4 1-1 5-1 1-13-3-7-5-25 1-7-5-12-4-3-5 3-2 12-3-12-3-7-5-6 1-7-4-6-1-19-10-7 4-2-2-2-5 17-3 7 1 4-3-4-3-7 1-3-3 11-5-8-3-13-2 13-10 1-5zM523 2073l-4 6 4 4 6-2 2-2-1-5-7-1zM568 2071l-19 13 4 5 8 2 6-2-8-5 22-8 1-2-1-1-7-3-6 1zM593 2057l-6 2 6 3 8-3-8-2zM619 2084l-10 5 4 2 6 0 10-7-4-1-6 1zM632 2093l-13 4-6 0-5 2 11 2 10 3-4 5 7 2 2 3 4 3 7 0 10-3-4-5-13-2-3-3-1-5 3-5-5-1zM645 2081l-8 8 1 4 21-9-2-2-12-1zM670 2104l-5 5 5 4 13 0 6-4-6-2-13-3zM696 2103l-4 1 4 2 2-2-2-1zM632 2234l-2 0 2 1 12-1-6-2-6 2zM696 2268l-3 1 3 5 19 2 4-2-10-7-13 1zM721 2279l-15 20 15 4 8-4-7-5 8-10-2-4-7-1zM760 2338l-4 1 4 3 8-3-2-2-6 1zM785 2384l4 0-4 0zM792 2378l-2 1 2 5 5-5-5-1zM465 2457l-3 2 3 4 4 1 0 5 3 2 19 2 13 6 6-1 2-4-2-1-6-2-12-7 16-5-17-4-6 4-7-4-6 0-7 2zM331 2371l-5 3 5 4 9-4-3-2-6-1zM350 2368l-3 1 3 2 7 0 1-2-8-1zM427 2419l2 0-2 0zM459 2332l-5 2 5 5 9 0-2-5-7-2zM465 2309l-3 0 3 0 5 5-6 5 8 8 6-1 3-2-1-5 6-5-14-7-7 2zM472 2243l-5 1 1 5 4 1 11-6-11-1zM485 2239l-2 0 2 4 19 6 6 1 3-6-16-6-12 1zM491 2213l-6 1 6 2 6 1 4-3-10-1zM510 2208l-4 1 4 3 7 2 1 5 5 1 6-1 3-5-15-6-7 0zM510 2158l-3 1 7 5-9 5 2 5 3 1 5-1 8-5 6-2 2 2 5 2 6 0 7-5 6-1 13 1 13-1 6 2 11-8-12 0-5 5-7 0-6-5-7-3-6 1-1 2-5 3-13 4-3-2 0-5-4-3-12 0-7 2zM536 2136l-4 3 5 5 12 2 8-2-2-2-13-6-6 0zM606 2159l-1 0 1 0zM632 2156l-1 3-11 5 2 5 3 2 7 1 5-3 0-5 1 0 7 5 25-2 7 2-1 5 5 5 15 3 6 2 0 2 3-7 4-1 12 0 5-4-30-11-13 3-6-5-26 1-6-1-13-5zM619 2139l6 4 13 0 4-4-10-4-7 1-6 3zM645 2143l-3 1 3 1 3-1-3-1zM657 2151l-5 3 5 3 20 1 17-4-5-1-32-2zM593 2084l-2 0 2 4 3-4-3 0zM600 2088l-13 6-16 0 3 2 7 0 5 3-3 5 4 1 6-1-2-5 12-10-3-1zM702 2302l-2 2 2 2 3-2-3-2zM709 2324l-2 0 2 2 6 0 27-2-14 0-7-2-12 2zM792 2399l-2 0 2 1 1-1-1 0zM485 2339l6 4 6 0 5-4-5-1-12 1zM491 2273l-3 1 3 1 8-1-8-1zM497 2264l10 0-10 0zM504 2253l-3 1 4 0-1-1zM510 2279l-2 5 2 6 4-1-4-10zM497 2222l-2 2 2 4 7-1 5-3-5-3-7 1zM549 2178l-5 1 5 3 6 1 12 6-12 5-13 0-13 3-2 2 15 6 19 1 11 8 15 2 9-2-3-2-12 0-4-3 9-5-5-2-20 2-6-2-5-3 5-4 19 1 13-1 6 5 7 1 6-1 7-5 5-1-5-2-13 0-13-4-13-1-6-4-7-2-6-5-6 2zM581 2173l-7 1 7 2 12 0 4-2-4-4-6 0-6 3zM542 2154l9 0-9 0zM606 2169l-1 0 3 5 5 2 4-2-11-5zM645 2176l-6 3 6 4 5 1-5 3-7-1-4 3 4 3 7 0 19-7 13 4 2-5-2-2-13 1-1-4-6-4-12 1zM600 2107l-4 7 4 3 6-1 9-7-9-2-6 0zM728 2334l-7 6-6 3-13 2 19 1 20-1 12 1 2-2-2-2-12 1-1-4-6-4-6-1zM491 2421l-6 3 6 4 6 0 9-4-15-3zM497 2308l4 6-3 5 6 5 19-10-1-5-18-2-7 1zM504 2293l-2 1 4 0-2-1zM504 2233l0 5 25-4-6-4-19 3zM555 2218l-6 4-7 1-6 0-2 1 2 2 6 0 10 3-10 5 13 4 8-4-3-5 10-5-15-6zM581 2237l-2 2 8 5-1 5-5 2-10 8 3 3 13 0 5 2 4 5-9 4-16 1 0 5 3 2 11 3 2 2 6-1 8-6-2-5 1-1 19-2 26 2 25 5 2-4-15-7-19 1-6-1-7-3-19 2-10-2 10-8 8-2 0-5 5-5-13-1-4 1-2 2-8-2 0-5-5-3-6 1zM606 2177l-2 2-2 5 4 4 13-2 6 1 8-3-8-2-6 2-6-1-7-6zM491 2431l-4 3 4 2 9-2-3-3-6 0zM504 2334l6 2 3-2-9 0zM517 2273l-2 1 2 1 7-1-7-1zM523 2244l-3 0 3 2 6 1 1-3-7 0zM555 2243l-11 6 11 2 4-2-1-5-3-1zM581 2287l-2 2 2 5 11 5-5 3-13 2-1 0 1 2 7 1 14-3 16-10-5-3-19-1-6-3zM613 2284l-2 0 2 2 2-2-2 0zM619 2309l-5 0 5 1 9-1-3-1-6 1zM632 2279l-2 0-1 5 3 2 11-7-5-3-6 3zM657 2289l-6 1-7 4 7 3 6-6 7 1 1 2-7 5 6 2 6 1 7-2 6-4 15-2-9-5-32 0zM619 2204l-2 0 2 1 4-1-4 0zM523 2288l-6 1 6 2 6 0 4-2-4-2-6 1zM523 2253l-5 1 14 5 4 0 1-5-1-1-7-3-6 3zM549 2271l-4 3 4 4 10-4-4-4-6 1zM574 2328l-2 1 2 2 12-2-12-1zM587 2436l-3 3 15 5-17 5 5 4 6 1 0 1-12 1-11 8 4 5 15 0-8 3-3 2 1 5 5 5 12 5-4 5 1 1 13 0 14-6-7 0-7 2-3-2 2-5-14-5 2-1 13-4 7 6 6 2 11-3-6-5 1-2 7-3 6 3 13-1 2-2 0-5 5-5-1-1-6 1-6 3-13-5-11-3 0-5-2-1-6 4-7 0-5-3 6-5-1-5-6 0-13-3zM593 2313l-5 1 12 3 13-1 1-2-1-4-7 0-13 3zM645 2311l-6 3 0 5-14 1-6-2-3 1 10 10-2 5 1 2 13-4 13-7 13 1 9-2 3-5-6-4-13 2-12-6zM670 2309l0 2 11 3-3 5 1 5 4 4 8-4-1-5 2-5 7-5-3-2-26 2zM529 2309l-5 0 5 1 10-1-3-1-7 1zM529 2269l7 2 5-2-5-1-7 1zM549 2287l-5 2 5 5-7 5 7 2 12-5 9-2-15-7-6 0zM657 2473l-3 1 3 2 7 0 0-2-7-1zM593 2324l13 5 6-5-6-2-13 2zM632 2337l-12 7 5 1 12-1-5-7zM651 2333l-1 1 1 2 19 10 7-3 7-9-7-3-26 2zM689 2419l7 1 4-1-4-1-7 1zM529 2433l-3 1 3 2 7 0 5-2-5-2-7 1zM536 2339l-2 0 15 3 6-1 3-2-3-3-6-1-7 0-6 4zM555 2307l-6 2 6 4 15-4-15-2zM593 2334l-5 5 7 5 5 3 10-3-4 0-8-5 12-5-4-3-13 3zM632 2438l-2 1 2 4 6-1 3-3-9-1zM651 2427l-3 2 3 2 18-2-12-3-6 1zM689 2444l-6 2-6 0-9 3 15 3 13-1 4-2-3-5-8 0zM561 2424l-19 5 5 5 8 3 11-8-3-5-2 0zM600 2427l-6 2 6 3 13 2 5-5-5-3-7-2-6 3zM561 2437l-6 5-13 1-6 3-13-3-19 3-8 3 8 4 6 0 13-2 19-1 13-3 6-4 4-4-4-2zM549 2450l-3 4-10 8-14-3 2 5-9 5 14 6 13 2 19 0 5-3-24-3-6 0-3-2 3-1 13-2 3-2 0-5 9-2 3-3-9-4-6 0zM585 2039l2-3 19 1 4 2-4 2-13 0-8-2zM400 2044l4 0-4 0zM423 2044l9 0-9 0zM659 2044l5-3 6-1 7 1 6 5 27 3-8 5 4 5-4 2-6-1-19 3-20-1-6 2-2-5 2-5 14-5-6-5zM689 2053l-1 1 1 1 4-1-4-1zM443 2054l3-1 10 1-3 2-10-2zM470 2054l2-3 8 3-8 2-2-2zM761 2064l7 0-7 0zM665 2069l12-2 25-1 13 2 2 1-8 4-13-1-13 2-18-5zM386 2079l6 0-3 1-3-1zM478 2084l19 2 5 3-11 2-15-2 2-5zM720 2089l1-1 10 1-10 2-1-2zM476 2099l9 1 6-3 11 2-11 8-13 2-2-5 0-5zM509 2104l2 0 1 5-2 2-2-2 1-5zM528 2109l11 0-10 2-1-2zM347 2114l3-1 10 1-3 2-7 0-3-2zM470 2124l2-3 1 3-3 0zM727 2149l8 0-1 5-6-2-1-3zM767 2149l6-1 2 1-8 0zM432 2154l6 0-6 0zM337 2159l7 0-7 0zM728 2159l6-4 7 0 2 4-9 4-6-4zM411 2164l10-3 11 3-5 2-13 2-3-4zM396 2174l5-4 7 0 16 4-16 2-12-2zM691 2174l5-2 6 0 3 2-3 4-6-1-5-3zM679 2219l4-1 13 4 6 0 13-4 19 2 7 2 6 0 6-4 7 1-4 5-9 3-4 2 9 5 1 9-6-1-7 2 7 2 6-1 7 0 11 4-5 3-13-1-12 3-13 6-7 2-3-3 0-5-3-2-13 0-2-3 9-2 3-3-3-2-7 1-6 3-7 1-6-1-2-2 6-10-10-10 2-5zM414 2229l7-4 6 1 5 3-5 2-13-2zM777 2229l2-1 3 1-3 2-2-2zM396 2234l5-1 5 1-5 2-5-2zM795 2249l5 0-5 0zM679 2254l4-1 13-1 4 2-17 3-4-3zM398 2269l7 0-7 0zM772 2269l7-2 4 2-4 2-7-2zM441 2279l5-2 7 0 6 2 1 5-1 2-6 0-12-7zM772 2279l7-1 6 1-13 0zM759 2284l7 0-7 0zM392 2289l9-1 8 1-8 5-9-5zM768 2289l5-1 7 1-7 2-5-2zM430 2294l5 0-5 0zM798 2294l3 0-3 0zM377 2299l5-1 9 1-9 2-5-2zM411 2299l11 0-8 2-3-2zM369 2304l7-3 2 3-9 0zM388 2324l1-1 6-2 6 2 13-1 1 2-1 5-6 3-12-3-8-5zM853 2344l9 0-9 0zM297 2349l8-4 12 4-12 5-8-5zM841 2364l8-1 3 1-3 3-8-3zM853 2369l3-1 1 1-1 5-3-5zM286 2379l0-4 7 3 0 5-7 0 0-4zM867 2379l2 0 0 17-3-7-7-5 8-5zM852 2409l4-2 3 2-7 0zM785 2419l7-2 3 2-10 0zM777 2429l2-3 18 3-12 3-8-3zM362 2459l7-1 5 1-5 4-7-4zM751 2459l2-2 7 0 8 2-5 5-16 3-6-3 10-5zM788 2459l9 0-5 1-4-1zM602 2464l4-1 19 1-12 4-7-1-4-3zM803 2464l2 0-2 0zM367 2474l10 0-1 2-9-2zM749 2474l4 0 7 3 1 2-1 4-9-4-2-5zM764 2484l3 0-3 0zM338 2489l6-1 4 1-10 0zM720 2489l8-2 6 2-13 5-1-5zM477 2499l5 0-5 0zM756 2499l10-2 5 2-5 4-6 0-4-4zM865 2499l4-1 0 3-4-2zM425 2504l8-2 13 3 32 3 7-1 12-7 7 4-19 9-7 0-19 2-10-1 4 2 5 8 8 5-7 1-8-1-11-10 5-5-9-5-4 0-1 5-4 2-5-2 3-5 0-5zM522 2504l11 0-11 0zM543 2504l6-1 3 1-3 2-6-2zM566 2504l8-2 5 2 0 5-5 2-5-2-3-5zM815 2509l5 0-5 0zM500 2519l10-2 5 2-5 2-10-2zM549 2519l8 0-2 1-6-1zM582 2519l5-2 6 0 10 2-3 3-7 0-11-3zM535 2524l8 0-8 0zM572 2529l2-1 9 1-9 2-2-2zM675 2529l2-1 2 1-4 0zM604 2534l9-2 13 7-7 4-6-2-7-6-2-1zM579 2539l8-2 4 2-4 3-6-1-2-2zM668 2539l9-1 8 1-8 3-7-1-2-2zM538 2549l4-2 10 2-14 0zM798 2569l4 0-4 0z"/>
<path fill="#1838ff" fill-rule="evenodd" stroke="#0080ff" stroke-width="2.60" d="M642 1624l4 0-4 0zM584 1639l29-3 6 2 9 6-2 5-8 5-3 10 19 5-9 3-12 0-7-1-6-6-7 1-6-2 13-1 2-4 8-5-10-3-2-2 2-5-7-3-9-2zM613 1644l2 0-2 0zM609 1679l10-1 4 1-1 5 3 2 17 3-2 5-15 3-15-3 7-5-8-10zM286 1689l2 0-2 0zM648 1689l9-1 5 1-5 2-9-2zM582 1694l5-1 13-1 5 2-8 5 3 3 17 2-17 3-7 3-1-1 1-5-3-5-8-5zM634 1704l6 0-2 2-4-2zM642 1709l3-1 2 1-2 2-3-2zM625 1714l1 0-1 0zM602 1724l4-2 7-1 12 3-19 4-6 4-7-1-3-2 3-2 7 0 2-3zM618 1789l7-5 10 5-10 2-7-2zM656 1789l1 0-1 0zM624 1804l8-1 3 1-11 0zM644 1814l1 0-1 0zM587 1839l13 0-13 0zM598 1849l10 0-10 0zM615 1854l4-1 8 1-8 2-4-2zM594 1864l12-2 7 0 6 2-13 3-12-3zM625 1869l13-2 19 0 5 2-5 5-6 1-26-6zM697 1874l6 0-6 0zM604 1884l2-2 7 0 3 2 3 5 6 1 4 4 1 5-5 2-18-7 5-5-8-5zM657 1884l1 0-1 0zM551 1894l10-2 13 1 4 1-10 10 4 5-4 3-26-6-2-2 2-4 10-1-1-5zM676 1894l1 0-1 0zM518 1899l23 0-5 2-18-2zM609 1904l10-3 3 3-4 5 1 1 26 4 12-1 2-4 5-1 7 1-13 5 2 5-9 7-13 1-13 5-12-1-13-2-7-5 7-5 6-1 8 6 5 2 9-7-9-3-6-4-7 0-10-3 4-3 9-2zM632 1904l6-4 7 2 2 2-9 2-6-2zM504 1909l9 0-9 0zM540 1924l2-2 18 2-18 2-2-2zM675 1924l8 0-1 5-8 5-10 4-13 0-10 6 23 1 4 4-4 3-19 0-5-3-3-5-18-4-13 2-16-3 3-2 7 0 19 2 19-6 26-2 11-7zM572 1929l2-1 7 1-7 5-2-5zM567 1934l5 0 2 5-6 3-13-1-13 3-8-5 8-3 13 2 6-1 6-3zM694 1934l10 0-10 0zM585 1944l2-3 1 3-3 0zM579 1949l2 0-3 5-10 5-4-5 4-2 11-3zM589 1954l17-3 7 1 23 7 0 5 2 2 13 3 13-1 9-9 10-1 6 3 1 8-7 3-13 1-1 1-12 5-2 5 9 3 3 2-3 3-7 0-12-6-3-7-10-2-13 0-5-3-1-4-15-1 15 0 2-5-2-3-7-4-17-3zM625 1968l-5 1 5 3 7 0 3-3-3-2-7 1zM683 1964l-3 0 4 0-1 0zM578 1964l3-1 7 1-7 3-3-3zM546 1969l9-2 19 0 3 2-22 6-9-6zM501 1979l5 0-5 0zM512 1984l11-2 13 2-7 5-17-5zM576 1984l16 0-16 0zM512 1994l5-2 8 2-8 3-5-3zM565 1994l9 2 13-4 6 1 15 11-1 5-3 0-11-8-6-1-6 1-7 4-28-1 19-10zM688 1994l11 0-11 0zM634 1999l9 0-9 0zM502 2004l5 0-5 0zM673 2004l4-2 6 2-6 2-4-2zM701 2004l2 0-2 0zM630 2009l4 0-4 0zM558 2019l3-4 7 2 2 2-9 2-3-2zM637 2019l8-1 5 1-5 4-8-4zM491 2024l13-3 6 1 4 2-4 4-13 3-9-2 3-5zM592 2029l11 0-11 0zM637 2034l14-2 10 2-16 3-8-3zM521 2039l15-2 18 2-12 3-21-3zM590 2039l16 0-16 0zM516 2044l1-1 0 1-1 0zM663 2044l7-2 7 2 0 3-7 1-7-4zM577 2049l4-2 6 2-6 3-4-3zM619 2049l1 0-1 5-6 2-6-2 12-5zM682 2049l2 0-2 0zM450 2054l3 0-3 0zM548 2054l8 0-7 2-1-2zM656 2054l21-1 15 6-15 3-7-1-11-2-3-5zM538 2059l4-1 4 1-8 0zM571 2059l3-2 7 1 2 1-2 3-7 1-3-4zM524 2064l5-2 11 7-1 5 3 2 7 1 2 2-15 7-2-2 4-5-4-5-9-5-1-5zM609 2064l4-1 2 1-6 0zM583 2069l10-4 7 4 3 5-7 5-9 2-2-2 1-5-3-5zM677 2069l19-1 10 1-23 2-6-2zM508 2074l8 0-6 2-2-2zM618 2079l7-1 4 1-11 0zM679 2079l4-1 32 0 8 1-40 5-6 6-13 3-7-1-5-3 5-2 7-5 13-1 2-2zM566 2084l8-2 7 1 7 6-7 3-7-1-8-7zM602 2084l4-3 7-1 3 4-10 3-4-3zM488 2089l8 0-8 0zM625 2089l5 0-5 0zM554 2094l6 0-6 0zM605 2094l1-1 9 1-9 1-1-1zM491 2099l2 0-2 0zM672 2099l11-1 10 1-10 6-6-1-5-5zM484 2104l1 0-1 0zM553 2104l8-1 5 1-2 5-3 1-7-1-1-5zM601 2104l12-2 6 0 4 2-4 5-18-5zM644 2104l13-1 6 1-6 4-13-4zM707 2104l3 0-3 0zM574 2109l7-3 13 3-4 5-16 2-7-2 1-2 6-3zM695 2109l1 0-1 0zM350 2114l5 0-5 0zM612 2114l7-4 6 1 5 3 2 3 6 2 19-1 3 1-3 3-25 1-2-4-17-3-1-2zM702 2114l13-2 6 2 0 1-9 4 24 5-21 4-26 0-19 5-10-4 3-5 7-6 13-1 13 4 6-2 0-5zM490 2119l9 0-9 0zM599 2119l7-1 3 1-3 2-7-2zM504 2124l6-3 7-1 5 4-12 2-6-2zM527 2124l9-2 6 2 7-3 16 3-1 5-9 7-12-2 6 0 6-5-6-4-13 1-9-2zM570 2124l6 0-6 0zM488 2129l3-1 6 1-6 3-3-3zM462 2134l4 0-4 0zM603 2134l10-1 7 1-7 4-10-4zM635 2134l10 0 0 2-10-2zM503 2139l7-1 6 1-6 2-7-2zM521 2139l3 0 3 10-4 2-5-7 3-5zM662 2139l8 0 12 5-5 4-7 0-6-4-2-5zM700 2144l9-1 7 1-8 5 5 5-4 1-7-2-18-4 12-2 4-3zM532 2149l10-2 19 0 12 2-5 3-7-1-6 2-13-1-10-3zM644 2149l8 0-7 2-1-2zM489 2154l15-3 7 3-7 4-15-4zM573 2154l1-2 26-1 13 2 4 1 2 3 7 2-7 2-13-4-25 1-7-2-1-2zM536 2159l6-2 8 2-8 3-6-3zM682 2159l11 0-4 2-7-2zM414 2164l7-2 8 2-8 2-7-2zM496 2164l8-2 3 2-3 3-7-1-1-2zM600 2164l13-3 2 3-2 3-13-3zM706 2164l3-2 8 2-2 2-9-2zM482 2169l9 0 19 7 7-1 6-3 19 0 13-5 13 2 6-2 9 2-15 5 0 4-13-5-15 6-1 5 10 2 9 3-9 3-26 0-2 2-4 2-7-2-6-4-3-6-10 0-6 2-13-1-7 2-1-3 8-2 1-3-1-5 10-5zM658 2169l6-1 8 1-2 3-6 1-6-4zM400 2174l8-2 6 2-14 0zM624 2174l4 0-3 5-6 3-7-3 12-5zM568 2179l6-2 19 2 3 5-3 2-6 1-13-1-2-2-4-5zM668 2179l2-2 4 2-6 0zM683 2184l6-1 6 1-6 3-6-3zM619 2189l1 0-1 0zM659 2189l8 0-3 2-5-2zM464 2194l1-3 11 3-11 1-1-1zM649 2194l4 0-4 0zM488 2199l3-1 3 1-3 3-3-3zM522 2199l1-2 0 2 19 8 17 2-12 10-5 2-6-1-1-1 1-5-13-6-17-4 16-5zM555 2199l6-2 7 0 19 1 2 1-2 2-26 1-6-3zM612 2199l7-2 2 2-2 2-6 0-1-2zM686 2199l3-1 10 1-3 3-7 0-3-3zM594 2204l12-1 14 6-7 5-7 2-5-2-7-10zM655 2204l15-1 7 4 12 0 3 2-3 2-19 0-6-4-7 0-2-3zM704 2204l11-4 6 4-6 3-11-3zM470 2209l2 0-2 0zM487 2209l4-2 6 2-10 0zM641 2214l10-3 4 3-4 4-6-1-4-3zM465 2219l7-3 20 3-6 5 3 5 8 3 3 2-15 3-7 4-13 2-6 4-6 0-3-3 4-5 12-5-2-5 1 0 18-5-18-3 0-2zM506 2219l5 0-5 0zM564 2219l4-3 25 2 7 5 9 1-3 4-13 0-6 2-23-11zM628 2219l9 0 9 5-7 5-14 3-6-3 15-5-6-5zM513 2224l4-2 13 2-12 5-8 1-5-1 5-1 3-4zM682 2224l1-1 6-2 13 3 13-3 19 2 5 1-1 5 11 5-1 5-13 5 16 5-23 8-5-3 4-5-6-3-6 1 0-3-6-3-20 4-2-1 3-5 9-5-10-4-7-6zM721 2228l-10 6 6 5 11 5 2-5-6-5 7-5-10-1zM426 2229l1 0-1 0zM536 2229l6-1 5 1-5 2-6-2zM566 2229l4 0 5 5 1 5 6 5-1 2-13 0-11-7 10-5-1-5zM605 2234l1-1 7 0 19 5 13-1 2 2-2 2-12 3 12 5-20 8-4-3-2-5 5-5-24-2-3-3 8-5zM513 2239l23-3 18 3-5 5-7 2-13-5-12 0-4-2zM481 2249l4-2 6 0 9 2-8 5 5 4 20-1 9 2-9 6-7-3-6-1-19 2-17-9 10-2 3-3zM708 2249l1 0-1 0zM757 2249l3-1 7 1-7 1-3-1zM542 2254l7-2 12 2 7-2 5 2-5 5-7 4-12 4-19-3 12-5 0-5zM654 2254l10-1 5 1-12 3-3-3zM610 2259l6 0-3 2-3-2zM746 2259l3 0-2 2-1-2zM575 2264l6-1 5 1 5 5-4 2-13 1-6-3 7-5zM636 2264l15-4 32 4 26-1 1 1-1 1-7 1-13-1-3 4 10 10 13-2 10 2-10 11-7 1-13-4-44 0-3-3 3-2 6 0 6-4 7 1 6 2 5-2 4-10-2-2-7 3-13-4-21-2zM739 2264l3 0-3 0zM439 2269l7-2 14 2-7 3-7 0-7-3zM481 2269l4-3 7 3-14 7-6-2 6-2 3-3zM498 2269l6-1 4 1 3 5-7 1-6-6zM519 2269l4-2 2 2-6 0zM715 2269l6-2 7 0 5 2-5 5-7-1-6-4zM528 2274l8-1 4 1-1 5 10 2 12-4 15 7-2 6-6 0-7-4-6-1-13 3-6-1-7-5-6 1-8-4 8-2 5-3zM627 2274l6 0-6 0zM755 2274l7 0-7 0zM445 2279l7 0-7 0zM483 2279l2-2 12 0 5 2-1 5-4 6-12-3-3-3 1-5zM604 2279l2-3 7-1 10 4-4 3-13 0-2-3zM616 2289l9-3 4 3-10 5-3-5zM478 2294l9 5-9 3-5-3 5-5zM530 2294l6-3 6 0 3 3-9 4-6-4zM731 2294l10-2 10 2-9 5 1 5-9 2-7-2 8-5-4-5zM451 2299l14 0 1 5-15-5zM499 2299l11-4 7 0 12 4 4 5-10 3-13 0-9-3-2-5zM563 2299l11-4 7 1 8 3-28 7-12-2 14-5zM630 2299l8-3 8 3 18 4 13-1 6-3 13 0-1 5-6 2-44 2-7 2-6 7-7 0-5-3 12-5 6-1 3-4-9-2-2-3zM432 2304l8-1 19 9 7 2-7 4-6-1-13-9-7 1-1-5zM602 2304l4-2 7-1 12 2 4 1-16 3-11-3zM407 2309l2 0-2 0zM427 2309l2 0-2 0zM481 2309l4-3 6 1 3 2 1 5-3 5 4 5-5 6 6 2 14-8 12 2 6 7 7 1-13 4-3-4-3-1-13-1-7 4-25 0-2-2 2-3 6-2 6-5 0-5 6-5-9-5zM579 2309l21-3 2 3-15 3-3 2 5 10-2 2-6 0-7-3-6 3-2 3-5 3-6-1-6-3-7 1-13-3-3-2-5-5 2-1 6 3 4-2-4-1-2-4 2-1 13-2 6 3 2 5 5 3 8-3-6-5 22-5zM656 2314l1-1 3 1-4 0zM711 2314l4-2 6 0 9 2-2 4-7-1-20 7 2 5-5 5 17 2 4 3-4 2-19 3-2 0 2 3 45 0 12 4 13 1 5 2 2 7 14 3 1 5-1 5-7 5-3 10 7 5-5 7-13 8-6 1-7 2-6 8-6 4-13-2-19 6-7 4-6-4-7 0-5 1 4 5-5 3-6 0-4 2 0 5-8 5 5 3 13 2 13-1 3 1-3 3-7-2-6 0-3 4-10 2-6-1-1-6-6-2-1 2-11 6-17-6-2-5 6-3 6 0 7-5 6-1 1-6 23-5-14-5 9-5-6-1-13 2-2 4-7 5 0 5-10 2-6 3-2 5-5 1-7-6 9-5 2-5-10-7-7 0-19 9-13-4-6-4-26 0-6-6-7 0-3 2 10 5-7 5-12-2-7-4-19-5-19-1-7 6-38-6-7 2 16 10-9 2-6-4-10-3 0-5-16-5-19-1-12-9-3-5-4-3-25-7 5-2 13 0 1 2 6 4 6-1 6-5 12-3-12-2-6 5-6-1-18-7 5-3 6-1 7 1 5-2 6-5-5-6-1-4 1-1 38 0 20-10 25 0 13 4 19 1 13-7 19-1 2 4 11 2 6-2-6-3-11-2 5-4 25 3 7 2 6-1 13-8 13-2 2 0-1 10 2 5 16 6 2-1 1-5 3-1 26 0 25 4 5-3-23-10-3-5 9-1 6 6 11 5 2 4 13-1 6-7 11-6-3-5 4-5-1-5 2-2 15-3zM702 2413l-13 2-9 4 22 4 8-9-8-1zM715 2354l1 0-1 0zM721 2413l-2 1 2 4 7 1 6-3 1-2-7-2-7 1zM382 2404l-3 0 3 1 3-1-3 0zM619 2358l-6 1 6 2 4-2-4-1zM638 2414l0 2 5 3 6 0-4-5-7 0zM689 2349l-1 0 1 1 2-1-2 0zM619 2419l-1 0 1 1 3-1-3 0zM588 2319l22 0-17 2-5-2zM729 2319l5-1 3 1-3 2-5-2zM758 2319l7 0 3 5-2 4-10-4 2-5zM454 2324l5-4 6 4 5 5-17 2-3-2 4-5zM399 2329l2-3 7 0 3 3-3 2-9-2zM593 2329l9 0-9 0zM649 2329l2-1 21 1-21 2-2-2zM712 2329l5 0-2 1-3-1zM723 2329l5-1 20 1-1 2-6 1-13-1-5-2zM423 2334l7 0-3 2-4-2zM412 2339l9-3 2 3-11 0zM602 2339l11-3 6 1 3 2-9 3-7 0-4-3zM776 2339l14 0-11 1-3-1zM763 2344l3-1 6 1-6 3-3-3zM341 2349l3-1 4 1-7 0zM387 2349l2-1 8 1-2 2-8-2zM797 2349l2 0-2 0zM286 2379l1 0-1 0zM810 2384l7 5-6 9-6 1-10-5-1-5 16-5zM302 2389l3-1 4 1-4 2-3-2zM325 2399l6-1 15 1-15 3-6-3zM389 2419l6-2 2 2-2 2-6-2zM389 2424l0-1 0 1zM470 2424l8 0-4 5 8 5-15 0-2-5 0-2 5-3zM508 2429l4 0 3 5-5 3-4-3 2-5zM783 2429l7 0-7 0zM597 2434l6 0-3 2-3-2zM750 2434l3-1 8 1-7 5 11 5-1 5-11 2-10-7-12-5 3-2 13 0 3-3zM490 2439l14-2 7 7-14 2-7-7zM516 2439l1-1 6-1 13 2 6-2 7 0 3 2-10 2-6-1-13 1-7-2zM572 2439l2-1 14 6-7 2-5-2-4-5zM692 2439l10-3 7 0 6 3-6 9-17-9zM435 2449l12 0-7 2-3 3-17 0 1-2 14-3zM482 2449l9-2 3 2-3 3-9-3zM569 2449l5-2 2 2-2 2-5-2zM456 2454l3-1 4 1-4 2-3-2zM497 2454l12 0-5 2-7-2zM522 2454l14-2 6 2-6 5-14-5zM723 2454l5-1 6 1-6 2-5-2zM699 2459l3-1 1 1-1 2-3-2zM758 2459l3 0-1 2-2-2zM438 2464l12 0-4 2-8-2zM497 2464l13-3 7 2 1 1-8 5-6 0-7-5zM557 2464l4-3 4 3 3 5-7 2-14-2 10-5zM744 2464l9-3 4 3-10 2-3-2zM401 2469l26-2 4 2-17 6-6-1-7-5zM656 2469l1-2 15 2 11 9 4 1-4 3-19-10-8-3zM716 2469l5-4 7 2 1 2-8 2-5-2zM473 2474l5-1 7 1 10 5-17 2-3-2-2-5zM628 2474l4-2 16 2 10 5 6 5-7 4-6 0-6-3-20 2-6-3-6 1-3-1 3-1 6 1 13-3 6 1 5-3-5-3-6 1-4-3zM429 2479l11-1 10 1-10 3-11-3zM526 2479l10-1 11 1-5 2-6 4-10-6zM595 2479l5-2 6 0 3 2-3 4-11-4zM408 2484l6-2 7 1 1 1-8 2-6-2zM502 2484l2-1 4 1-4 1-2-1zM445 2489l8-1 2 1 1 5-3 2-20 0-6-2 18-5zM592 2499l14-1 13 1-19 3-8-3zM654 2499l3-3 13 3-6 3-7 1-3-4zM758 2499l8-1 3 1-3 2-8-2zM430 2504l3-1 6 1-6 2-3-2zM623 2504l2-1 2 1-4 0zM698 2504l4-2 3 2-7 0zM443 2509l10-2 25 2-13 3-19-1-3-2zM479 2509l8 0-8 0zM664 2509l10 0-4 2-6-2zM614 2514l5-1 6 1 0 10-10-5-1-5zM509 2519l2 0-2 0zM589 2519l6 0-6 0z"/>
<path fill="#a8ecf4" fill-rule="evenodd" stroke="#10e8f0" stroke-width="2.60" d="M604 1639l9-1 2 1-9 3-2-3zM603 1649l3-2 6 2-9 0zM606 1659l7 0-7 0zM607 1669l6-3 17 3-17 2-6-2zM622 1689l3-1 10 1-3 5-7 1-5-1 2-5zM591 1694l6 0-4 2-2-2zM605 1724l8-1 5 1-5 2-7 0-1-2zM593 1729l2 0-2 0zM623 1789l2-1 4 1-6 0zM601 1864l10 0-10 0zM647 1869l12 0-2 2-6 1-4-3zM613 1894l6-2 7 2-7 3-6-3zM545 1904l10-3 6 0 3 3-3 4-16-4zM636 1904l2-1 3 1-5 0zM602 1909l4-2 7 2-7 2-4-2zM638 1919l9 5-17 0 8-5zM597 1924l3-2 6 0 2 2-2 3-6-1-3-2zM611 1929l14-2 2 2-16 0zM642 1934l22-1 4 1-23 2-3-2zM539 1939l12 0-9 2-3-2zM623 1939l9-2 6 0 2 2-8 2-9-2zM643 1949l2-1 6-1 8 2-8 2-8-2zM601 1954l12 0-12 0zM615 1959l4-2 6 1 4 1 0 5-4 2-6-1-4-6zM551 1969l18 0-14 3-4-3zM673 1969l4-2 6 0 3 2-3 2-10-2zM636 1974l9-4 12 2 7 2-13 4-15-4zM516 1984l7-1 6 1-6 2-7-2zM655 1989l2-1 7 1-9 0zM515 1994l4 0-4 0zM585 1994l9 0-7 3-2-3zM567 2004l1-2 1 2-2 0zM643 2019l3 0-3 0zM494 2024l10-2 8 2-8 4-7 0-3-4zM643 2034l8 0-8 0zM528 2039l8-1 13 1-13 2-8-2zM669 2044l3 0-3 0zM666 2059l11-3 9 3-9 2-11-2zM528 2069l1-1 6 1-7 0zM591 2074l2-2 3 2-3 2-2-2zM689 2079l1 0-1 0zM606 2084l7 0-7 0zM666 2084l4-1 5 1-3 5-8 2-7-2 9-5zM579 2089l3 0-3 0zM609 2104l10 0-10 0zM653 2104l5 0-5 0zM579 2109l2-1 8 1-5 5-3 1-10-1 8-5zM615 2114l4-2 8 2-8 2-4-2zM707 2114l10 0-8 2-2-2zM507 2124l3-1 8 1-11 0zM681 2124l2-1 19 1 7-2 8 2-8 2-26 0-2-2zM667 2129l10-2 2 2-12 0zM538 2149l4-1 15 1-8 2-11-2zM495 2154l9-1 2 1-2 2-9-2zM579 2154l14-1 21 1-21 2-14-2zM417 2164l4-1 5 1-5 1-4-1zM554 2169l3 0-3 0zM480 2174l5-3 6 1 19 5 19-3 5 0 1 5-18 4-13 0-13-2-6-2-5-5zM540 2174l3 0-3 0zM617 2179l2-1 2 1-4 0zM575 2184l6-4 6 1 5 3-11 2-6-2zM541 2189l7 0-7 0zM560 2199l8-1 11 1-19 0zM516 2204l17 0-4 3-13-3zM537 2209l5-1 10 1-3 5-7 1-5-6zM567 2219l7-1 14 1-7 3-14-3zM517 2224l7 0-7 0zM687 2224l2-1 7 1 6 4 7-1 1 2-8 2-6-1-9-6zM711 2224l10-2 12 2-5 2-13 1-4-3zM471 2229l7-1 18 6-11 1-9 4-11 2-5-2 13-5-2-5zM728 2234l6-2 12 2-3 5-2 1-5-1-8-5zM521 2239l6 0-6 0zM540 2239l5 0-3 2-2-2zM566 2239l4 0-2 2-2-2zM601 2239l12-3 6 1 6 2-6 3-18-3zM635 2239l9 0-6 2-3-2zM693 2239l3-2 6 0 5 2-11 2-3-2zM629 2249l11 0-11 0zM731 2249l3-2 13 2-13 3-3-3zM547 2254l5 0 12 5-9 3-6-1-2-7zM662 2254l2 0-2 0zM727 2254l1-1 1 1-2 0zM649 2264l8 0-8 0zM442 2269l4-1 10 1-10 2-4-2zM572 2269l9-4 7 4-7 2-9-2zM719 2269l9 0-7 2-2-2zM489 2279l7 0 1 5-8 0 0-5zM609 2279l4-1 4 1-4 2-4-2zM680 2279l3-4 6 2 7 5 13-4 7 1-14 8-13-3-6 1-20-1 14-1 3-4zM538 2284l4-1 5 1-5 2-4-2zM534 2294l2-1 4 1-4 2-2-2zM506 2299l11-2 5 2 4 5-20 0 0-5zM569 2299l12-2 4 2-11 2-5-2zM638 2299l1 0-1 0zM554 2304l7-1 4 1-11 0zM610 2304l9 0-9 0zM647 2304l4-1 6 1-6 2-4-2zM669 2304l20-3 3 3-23 0zM587 2309l6-1 4 1-10 0zM531 2314l5-1 8 1 4 10-6 2-7-2 5-5-9-5zM561 2314l13-3 7 3-7 5-6 0-7-5zM627 2314l5 0-5 0zM699 2319l3-1 8 1-8 2-3-2zM458 2324l3 0-2 4-1-4zM489 2324l2-2 2 2-2 2-2-2zM405 2329l3 0-3 0zM483 2329l3 0-1 2-2-2zM505 2329l5-1 5 1-10 0zM488 2334l3-1 6 1-9 0zM568 2339l2 5-2 2-5-2 5-5zM606 2339l8 0-8 0zM690 2339l6-2 19 2-19 2-6-2zM534 2344l5 0-3 2-2-2zM426 2349l2 0-2 0zM490 2349l7-1 7 1-7 4-6 1-1-5zM544 2349l11-1 4 1-9 5 5 2 13 0 13-5 6 1 13 6 25 6 7-7 13-4 12 3 32 3 13-2 23 2 0-5-14-5 23-1 26 6-9 5-4 6-13 4 13 3 6 5 13 3 7 4-7 4-15 1 14 5 3 5-4 5-17 8-13-2-24-1 1-5-3 0-6 4-6-1-7-4-6-2-6 5-15 3-5 3-6-4-13 4-6 5-19 1-7-4-13-2-12 5-20 3-8-1-4-6-7-2-13 1-18-3-7 3-13 2-6-3-7-7-7 0-10 10-2 6-5-6 2-5-16-1-7 0-3 1 3 3 7 0 6 2-6 2-13-1-13 3-10-4-3-4-20-1 8 0 5-5-5-3-7-1-15-6 9-4 6 1 7 7 6 0 11-4-5-4-12-1-1-5-7-5 8-5 12-3 2-2-2-2-4-3 11-2 6-5 7-1 12 0 7 3 13 3 6 4 6 0 8-2-15-5 7-5 20 7 6-1 6-4 20 3 9-5 18-5zM555 2404l-5 0 5 2 13 1 6 0 4-3-4-2-19 2zM613 2404l-3 0 3 1 3-1-3 0zM638 2404l-4 0 11 3 3-3-10 0zM734 2389l-2 0 2 1 8-1-8 0zM421 2403l-6 1 6 2 7-2-7-1zM504 2404l-4 0 4 2 3-2-3 0zM734 2398l-4 1-4 5 2 5 13-1 6-4-6-6-7 0zM608 2354l5-3 6 1 7 2-13 3-5-3zM662 2414l2-1 6-1 8 2-8 3-8-3zM500 2419l4-3 6 1 6 2-12 2-4-2zM519 2424l4-3 8 3-8 2-4-2zM582 2424l5-3 6 1 4 2-4 2-11-2zM624 2424l8-1 8 1-2 2-6 1-8-3zM670 2424l7-2 20 2-14 3-13-3zM661 2434l15 0-6 3-6 6-7-1-1-3 5-5zM736 2439l11 0-6 2-5-2zM501 2444l3-1 1 1-4 0zM647 2444l6 0-2 2-4-2zM629 2449l3-1 6 1 13 4 1 1-7 4-11-4-5-5zM532 2454l5 0-5 0zM668 2454l10 0-1 5-9 0 0-5zM502 2464l10 0-8 2-2-2zM407 2469l17 0-10 2-7-2zM598 2479l8 0-8 0zM412 2484l5 0-5 0zM630 2484l6 0-6 0zM436 2494l8 0-8 0zM598 2499l6 0-6 0zM660 2499l6 0-6 0zM450 2509l5 0-5 0zM464 2509l4 0-4 0z"/>
<path fill="#b4fa98" fill-rule="evenodd" stroke="#80ff80" stroke-width="2.60" d="M611 1669l12 0-12 0zM610 1724l4 0-4 0zM618 1894l2 0-2 0zM630 1939l3 0-3 0zM647 1949l4-1 3 1-7 0zM642 1974l9-1 7 1-7 2-9-2zM498 2024l10 0-4 2-6-2zM535 2039l3 0-3 0zM675 2059l3 0-3 0zM663 2089l2 0-2 0zM545 2149l4 0-4 0zM585 2154l11 0-11 0zM484 2174l7 0 6 2 25 3-18 3-12-3-1-2-7-3zM578 2184l3-1 7 1-10 0zM720 2224l5 0-5 0zM607 2239l6-1 8 1-14 0zM736 2249l7 0-7 0zM445 2269l7 0-7 0zM578 2269l4 0-4 0zM707 2279l4 0-2 2-2-2zM512 2299l5 0-5 0zM578 2299l3 0-3 0zM564 2314l10-1 4 1-4 3-6-1-4-2zM720 2349l14 0 12 5-5 3-7-1-14-7zM579 2354l9 0-1 2-6 0-2-2zM616 2354l3 0-3 0zM540 2359l2-2 26 1 17 6 8-2 13 1 26 5 13-5 6 0 6-4 13 3 32 2 7-2 6 0 14 2-21 5 12 5-5 3-6-1-5-2-8-7-12 7 5 3 13 0 1 2 12 5 18 0-24 4-3 1-4 5 13 3 4 2-4 2-13 1-4-3-2-3-19 1-7 2 3 5-9 1-7-4-12-3-20-1-24 7 9 5-4 2-13-2-12-11-7-2-6 0-3 3-4 2-19 0-6 4-26-4-19 2-13-6-13 3-6 5-6 0-13-4-2-2 2-5-7-4-12 3-5-4 14-10-18-10 2-1 13-2 13 3 38 1 19-9 7-1 6 4 13 0 13 6 6-3 20-3-13-1-7-1-2-3zM664 2393l-2 1 2 3 6-3-6-1zM670 2367l-5 2 11 0-6-2zM440 2379l-3 0 9 6 7 1 9-2-9-6-13 1zM504 2369l-2 0 2 1 2-1-2 0zM517 2374l4 0-4 0zM670 2383l0 6 7 0 6-3 9-2-22-1zM504 2381l-7 3 7 2 13 1 8-3-8-2-13-1zM523 2393l-3 1 6 0-3-1zM735 2374l7 0-1 4-6-4zM741 2379l6-1 19 6-6 1-9-1-10-5zM373 2394l3-1 4 1-4 1-3-1zM411 2399l10-1 0 1-10 0zM490 2409l1-2 9 2-10 0zM631 2409l7 0-6 2 0 3-7 2-12-2 6-3 12-2zM411 2414l3-1 4 1-7 0zM554 2414l7-2 6 2-6 3-7-3zM662 2439l2-1 1 1-3 0zM640 2454l5-1 3 1-3 2-5-2z"/>
<path fill="#e0fa80" fill-rule="evenodd" stroke="#f0f000" stroke-width="2.60" d="M497 2179l18 0-11 2-7-2zM572 2314l2 0-2 0zM561 2369l7 1 10 4-2 5-15 3-4 2 4 2 13 1 9 2-9 3-13 0-12 3 1-6-4-5-10-5 6-3 19 0 3-2-3-5zM580 2369l7-1 6 1-6 3-6-1-1-2zM601 2369l7 0-7 0zM650 2369l2 0-2 0zM478 2374l7-1 2 1-2 2-7-2zM595 2374l5-4 1 4-2 5 12 10-5 5-13-6-6-8-2-1 10-5zM621 2374l11-1 12 1-6 5-17-5zM668 2374l6 0-6 0zM478 2384l7-1 12 6 15 0-8 8-13 1-8-4 3-5-8-5zM656 2384l4 0-1 5-2 1-4-1 3-5zM686 2389l3-1 8 1-8 2-3-2zM646 2394l5-2 1 2-6 0zM521 2399l8-1 3 1-11 0zM619 2414l6-1 2 1-8 0z"/>
<path fill="#ffd890" fill-rule="evenodd" stroke="#ff8000" stroke-width="2.60" d="M566 2389l6 0-6 0zM490 2394l7-1 3 1-10 0z"/>
</g></g>
<ellipse cx="305.4" cy="813.5" rx="15.0" ry="14.0" fill="#00008a"/>
<ellipse cx="305.4" cy="813.5" rx="13.5" ry="12.6" fill="#0a28f0"/>
<ellipse cx="305.4" cy="813.5" rx="12.0" ry="11.2" fill="#20a0ff"/>
<ellipse cx="305.4" cy="813.5" rx="10.8" ry="10.1" fill="#60e8b0"/>
<ellipse cx="305.4" cy="813.5" rx="9.6" ry="9.0" fill="#70f050"/>
<ellipse cx="305.4" cy="813.5" rx="7.5" ry="7.0" fill="#c8f820"/>
<ellipse cx="305.4" cy="813.5" rx="6.3" ry="5.9" fill="#f8e000"/>
<ellipse cx="305.4" cy="813.5" rx="4.8" ry="4.5" fill="#ff8000"/>
<ellipse cx="305.4" cy="813.5" rx="3.0" ry="2.8" fill="#d81000"/>
<path fill="#00087a" d="M748.1 1283.4L753.5 1280.2L758.9 1283.4L753.5 1286.5ZM586.6 1056.7L588.6 1055.1H598.5L600.5 1056.7L598.5 1058.2H588.6ZM669.8 951.6L674.7 949.1L679.7 951.6L674.7 954.1ZM765.8 1099.9L767.8 1098.7H775.2L777.2 1099.9L775.2 1101.2H767.8ZM613.5 1106.4L615.5 1105.1H624.6L626.6 1106.4L624.6 1107.7H615.5ZM779.1 1055.9L781.1 1054.0H785.9L787.9 1055.9L785.9 1057.8H781.1ZM569.2 813.3L575.3 810.9L581.3 813.3L575.3 815.6ZM695.3 985.6L698.2 980.4H700.7L703.7 985.6ZM755.1 861.3H764.3L761.1 865.0H758.3ZM767.8 985.3L769.8 983.8H778.4L780.4 985.3L778.4 986.9H769.8ZM635.1 1135.9H648.9L644.1 1141.1H639.9ZM683.4 1174.4L685.6 1171.7H690.0L692.2 1174.4L690.0 1177.1H685.6ZM705.4 852.0L708.7 848.3H711.5L714.7 852.0ZM657.4 1014.1L664.3 1010.9L671.1 1014.1L664.3 1017.3ZM686.4 852.9L690.4 848.9H693.8L697.7 852.9ZM693.1 808.7L696.9 804.1H700.1L703.9 808.7ZM763.1 848.3H773.4L769.8 852.5H766.7ZM665.4 1082.5L668.3 1080.2H674.0L676.9 1082.5L674.0 1084.9H668.3ZM636.1 1158.0H646.2L642.7 1161.8H639.6ZM802.3 1007.7H815.0L810.6 1012.9H806.8ZM773.5 1153.9H783.9L780.2 1158.1H777.2ZM755.5 1086.9L761.5 1083.9L767.5 1086.9L761.5 1090.0ZM634.0 995.0L637.2 993.2H643.6L646.8 995.0L643.6 996.7H637.2ZM656.6 924.5H665.3L662.3 928.4H659.7ZM707.9 992.3L711.7 987.5H714.9L718.6 992.3ZM676.8 822.9L678.8 821.7H684.7L686.7 822.9L684.7 824.2H678.8ZM740.6 1221.5H754.4L749.5 1226.9H745.4ZM829.8 1277.4H841.9L837.7 1281.6H834.1ZM812.0 1061.1L814.0 1059.2H818.6L820.6 1061.1L818.6 1063.0H814.0ZM688.3 966.6L693.0 962.9H697.0L701.6 966.6ZM576.8 1020.9L579.6 1017.2H582.0L584.8 1020.9ZM694.3 1245.9L698.1 1241.1H701.5L705.3 1245.9ZM676.2 985.1L678.2 983.3H687.7L689.7 985.1L687.7 986.9H678.2ZM628.0 984.1L633.7 981.3L639.5 984.1L633.7 986.9ZM652.2 1016.4H663.1L659.3 1021.0H656.0ZM650.8 851.0L654.0 848.7H660.4L663.6 851.0L660.4 853.2H654.0ZM624.8 794.5L630.2 791.7L635.5 794.5L630.2 797.2ZM617.3 935.0H625.4L622.6 938.7H620.2ZM692.3 1134.1L696.0 1129.5H699.3L703.0 1134.1ZM736.4 1162.1L743.0 1159.0L749.6 1162.1L743.0 1165.1ZM688.6 834.3H700.7L696.5 838.5H692.8ZM600.9 1002.8H609.0L606.2 1007.0H603.7ZM604.4 1114.1L606.4 1112.6H611.9L613.9 1114.1L611.9 1115.7H606.4ZM678.5 932.7L681.5 930.9H687.6L690.6 932.7L687.6 934.6H681.5ZM804.8 1126.7L807.7 1124.5H813.5L816.4 1126.7L813.5 1128.9H807.7ZM698.2 1165.0L701.1 1162.5H706.9L709.8 1165.0L706.9 1167.5H701.1ZM562.9 1015.0H575.6L571.2 1020.1H567.4ZM785.9 1275.7L787.9 1273.9H793.1L795.1 1275.7L793.1 1277.5H787.9ZM582.7 942.6L584.9 940.0H589.2L591.3 942.6L589.2 945.2H584.9ZM656.8 1123.4L660.9 1119.5H664.4L668.4 1123.4ZM596.9 852.4L603.5 849.5L610.2 852.4L603.5 855.4ZM664.8 971.6L671.7 968.5L678.7 971.6L671.7 974.7ZM611.1 795.4L613.5 793.4H618.5L621.0 795.4L618.5 797.4H613.5ZM586.6 1123.7L588.6 1121.8H596.5L598.5 1123.7L596.5 1125.5H588.6ZM824.1 1116.9L826.1 1114.4H830.1L832.1 1116.9L830.1 1119.4H826.1ZM663.0 1221.8L665.0 1220.3H672.1L674.1 1221.8L672.1 1223.4H665.0ZM606.8 799.8H615.7L612.6 804.9H610.0ZM587.2 1092.2H596.5L593.2 1097.1H590.5ZM649.8 1132.7L653.0 1128.1H655.8L659.1 1132.7ZM593.0 796.4H606.9L602.1 801.0H597.9ZM610.7 1066.6L613.5 1063.9H619.0L621.8 1066.6L619.0 1069.3H613.5ZM638.3 1177.8L645.1 1174.8L651.8 1177.8L645.1 1180.9ZM606.0 952.5L609.0 950.7H614.9L617.8 952.5L614.9 954.4H609.0ZM587.6 772.8L589.6 770.4H593.7L595.8 772.8L593.7 775.2H589.6ZM765.0 1026.9L767.0 1025.1H776.0L778.0 1026.9L776.0 1028.8H767.0ZM674.8 1082.5L677.6 1080.7H683.1L685.8 1082.5L683.1 1084.2H677.6ZM648.1 1231.1H660.7L656.3 1235.5H652.5ZM619.2 793.1L625.6 790.1L632.0 793.1L625.6 796.2ZM826.3 1095.3L828.3 1093.5H834.2L836.2 1095.3L834.2 1097.0H828.3ZM743.8 905.2L748.2 902.5L752.6 905.2L748.2 908.0ZM590.5 1149.2L593.9 1144.8H596.7L600.1 1149.2ZM797.0 968.4L802.0 965.8L807.0 968.4L802.0 971.1ZM715.0 837.6L719.5 833.7H723.4L727.9 837.6ZM661.7 845.3L666.3 839.9H670.4L675.0 845.3ZM649.5 787.6H659.4L656.0 792.3H653.0ZM709.6 1039.3L711.6 1037.7H716.1L718.1 1039.3L716.1 1040.9H711.6ZM797.6 943.0L799.7 941.1H803.8L805.9 943.0L803.8 945.0H799.7ZM641.3 840.3H653.1L648.9 844.3H645.4ZM704.1 1027.0L706.1 1025.7H712.0L714.0 1027.0L712.0 1028.2H706.1ZM772.7 1061.0L777.2 1057.1H781.1L785.6 1061.0ZM755.8 834.9H768.2L763.9 838.5H760.2ZM826.4 830.2H839.1L834.7 835.1H830.9ZM786.7 1232.3L789.7 1229.7H795.8L798.8 1232.3L795.8 1235.0H789.7ZM636.0 909.4L639.1 904.2H641.7L644.8 909.4ZM686.7 1144.7L690.0 1142.9H696.5L699.7 1144.7L696.5 1146.4H690.0ZM832.9 1022.2L835.6 1019.6H839.2L841.9 1022.2L839.2 1024.9H835.6ZM792.1 1020.2L795.5 1018.0H802.1L805.5 1020.2L802.1 1022.3H795.5ZM642.0 1086.6L644.2 1084.0H648.6L650.8 1086.6L648.6 1089.2H644.2ZM785.0 776.7L787.1 774.6H791.2L793.3 776.7L791.2 778.7H787.1ZM578.4 1139.1L582.7 1134.4H586.3L590.6 1139.1ZM641.1 1253.8L643.2 1251.2H647.4L649.5 1253.8L647.4 1256.4H643.2ZM712.3 1064.4L718.6 1061.7L725.0 1064.4L718.6 1067.0ZM663.0 883.5L666.1 878.9H668.6L671.7 883.5ZM683.4 1003.5H693.6L690.0 1007.3H686.9ZM743.6 835.7L746.5 831.6H749.0L751.8 835.7ZM669.3 1257.8L673.6 1253.8H677.3L681.6 1257.8ZM631.2 1179.8L638.2 1177.0L645.1 1179.8L638.2 1182.6ZM581.8 762.3H595.0L590.4 766.8H586.4ZM726.2 1039.3L729.3 1037.1H735.5L738.6 1039.3L735.5 1041.4H729.3ZM705.8 815.1H714.5L711.4 820.0H708.8ZM737.7 1273.0L739.7 1271.7H749.5L751.5 1273.0L749.5 1274.3H739.7ZM638.3 1095.6L640.3 1094.3H647.1L649.1 1095.6L647.1 1096.9H640.3ZM812.4 1085.1L818.9 1081.9L825.5 1085.1L818.9 1088.3ZM826.4 1166.1H836.7L833.1 1170.3H830.0ZM586.4 1137.7L588.4 1136.3H593.7L595.7 1137.7L593.7 1139.1H588.4ZM654.3 993.7L660.7 990.6L667.1 993.7L660.7 996.8ZM827.0 957.5L829.0 955.9H836.4L838.4 957.5L836.4 959.1H829.0ZM569.7 988.6L571.7 986.9H581.2L583.2 988.6L581.2 990.3H571.7ZM795.2 1149.7L801.5 1146.7L807.8 1149.7L801.5 1152.7ZM809.6 1107.9L815.0 1104.8L820.3 1107.9L815.0 1110.9ZM679.6 1247.3H691.3L687.2 1252.2H683.7ZM813.7 896.6L815.7 895.1H824.5L826.5 896.6L824.5 898.1H815.7ZM571.0 948.5H582.7L578.6 953.2H575.1ZM702.7 1247.4L705.2 1245.1H710.4L713.0 1247.4L710.4 1249.7H705.2ZM687.0 768.6H700.4L695.7 772.9H691.7ZM645.9 926.2H654.3L651.4 929.7H648.9ZM681.0 1070.8H694.4L689.7 1075.5H685.7ZM678.2 1024.5L681.2 1019.2H683.8L686.8 1024.5ZM713.8 1219.5L720.0 1217.0L726.2 1219.5L720.0 1222.0ZM584.4 1256.8L588.0 1251.5H591.1L594.7 1256.8ZM783.7 1136.5L787.2 1131.4H790.3L793.9 1136.5ZM563.1 1167.7L567.3 1163.5H570.8L575.0 1167.7ZM671.4 1024.5L676.0 1020.1H680.0L684.6 1024.5ZM707.8 1228.4L709.8 1226.9H715.6L717.6 1228.4L715.6 1229.8H709.8ZM679.8 1022.5H689.1L685.8 1027.8H683.0ZM693.8 1266.6L695.8 1264.9H703.6L705.6 1266.6L703.6 1268.3H695.8ZM757.9 783.7L764.5 781.3L771.1 783.7L764.5 786.2ZM739.6 1230.6L742.2 1228.4H747.3L749.9 1230.6L747.3 1232.9H742.2ZM812.8 786.0L816.0 783.9H822.3L825.4 786.0L822.3 788.0H816.0ZM739.8 797.0H748.2L745.2 801.5H742.7ZM626.6 1093.6L629.7 1088.3H632.3L635.4 1093.6ZM581.7 879.4L584.9 874.8H587.6L590.8 879.4ZM794.0 948.6L796.0 947.2H801.6L803.6 948.6L801.6 950.0H796.0ZM668.3 1014.6L672.9 1009.6H676.8L681.4 1014.6ZM724.7 1111.0L728.0 1106.0H730.9L734.2 1111.0ZM681.7 819.1L685.2 816.8H692.2L695.7 819.1L692.2 821.4H685.2ZM778.3 1042.4L782.5 1039.6L786.7 1042.4L782.5 1045.2ZM725.6 1087.4L728.1 1084.9H733.1L735.6 1087.4L733.1 1089.9H728.1ZM703.1 809.9H714.7L710.7 813.9H707.2ZM646.5 1115.4H654.5L651.7 1119.0H649.3ZM665.2 1237.6H677.1L672.9 1241.9H669.3ZM809.4 1105.5L811.4 1103.7H817.9L819.9 1105.5L817.9 1107.3H811.4ZM743.2 1004.6H752.7L749.4 1009.3H746.5ZM754.2 1013.2H767.3L762.7 1018.0H758.8ZM673.7 1051.4L676.4 1048.8H681.7L684.4 1051.4L681.7 1054.1H676.4ZM770.5 985.4L773.8 983.1H780.3L783.5 985.4L780.3 987.7H773.8ZM827.6 861.3H840.1L835.7 865.5H832.0ZM729.5 1077.5L731.5 1075.7H736.3L738.3 1077.5L736.3 1079.3H731.5ZM821.3 1192.9L826.9 1190.1L832.5 1192.9L826.9 1195.6ZM578.6 1008.2L583.7 1005.4L588.8 1008.2L583.7 1011.1ZM666.8 1080.2L668.8 1078.4H677.2L679.2 1080.2L677.2 1082.1H668.8ZM758.0 991.7L764.7 988.9L771.4 991.7L764.7 994.5ZM559.7 766.5L565.5 763.7L571.3 766.5L565.5 769.2ZM792.9 876.2H806.3L801.6 880.7H797.6ZM690.1 1082.4H699.5L696.2 1087.9H693.4ZM585.2 1057.9L588.2 1055.8H594.3L597.4 1057.9L594.3 1060.0H588.2ZM808.5 805.4L811.1 803.5H816.5L819.2 805.4L816.5 807.3H811.1ZM767.8 1256.0L772.4 1252.8L777.0 1256.0L772.4 1259.1ZM623.1 883.8L626.3 881.8H632.8L636.0 883.8L632.8 885.8H626.3ZM702.7 816.0L705.9 810.8H708.6L711.8 816.0ZM635.5 858.5L641.0 855.5L646.4 858.5L641.0 861.4ZM650.5 898.8L652.5 897.3H657.5L659.5 898.8L657.5 900.3H652.5ZM781.4 896.3L787.7 893.1L793.9 896.3L787.7 899.4ZM614.4 979.1H627.8L623.1 983.2H619.1ZM672.6 1036.2H683.8L679.9 1039.9H676.5ZM685.9 864.0H697.6L693.5 869.0H690.0ZM683.9 812.1L688.0 809.0L692.2 812.1L688.0 815.2ZM610.9 1279.0L613.1 1276.9H617.5L619.7 1279.0L617.5 1281.1H613.1ZM814.5 1066.8L819.2 1062.0H823.2L827.9 1066.8ZM603.8 1225.7L605.8 1223.7H611.1L613.1 1225.7L611.1 1227.6H605.8ZM662.2 1147.8L664.2 1146.4H669.1L671.1 1147.8L669.1 1149.1H664.2ZM812.4 1152.8L814.5 1150.4H818.7L820.8 1152.8L818.7 1155.2H814.5ZM702.5 1076.1H713.8L709.9 1080.0H706.5ZM566.3 899.8H579.5L574.9 903.6H570.9ZM732.7 1144.8L734.7 1143.5H744.7L746.7 1144.8L744.7 1146.1H734.7ZM819.2 1089.4L823.5 1084.1H827.2L831.6 1089.4ZM597.4 1094.2L599.4 1092.4H608.6L610.6 1094.2L608.6 1095.9H599.4ZM812.1 868.9L815.3 865.2H818.0L821.2 868.9ZM794.8 1185.4L796.8 1183.5H801.1L803.1 1185.4L801.1 1187.2H796.8ZM669.3 907.2H678.5L675.3 911.4H672.5ZM647.3 840.6H656.4L653.3 845.4H650.5ZM763.2 1091.4L767.8 1086.3H771.7L776.3 1091.4ZM739.2 1112.8L744.7 1110.3L750.2 1112.8L744.7 1115.3ZM669.7 1020.3L672.9 1017.8H679.3L682.5 1020.3L679.3 1022.9H672.9ZM661.4 1219.0H675.2L670.4 1223.4H666.2ZM607.9 1170.9L612.4 1168.3L616.9 1170.9L612.4 1173.6ZM752.4 1145.8L754.4 1144.1H763.2L765.2 1145.8L763.2 1147.5H754.4ZM783.1 778.0L785.1 776.1H789.2L791.3 778.0L789.2 779.9H785.1ZM660.8 1015.9H671.4L667.7 1021.2H664.5ZM761.1 769.1L763.9 767.0H769.7L772.6 769.1L769.7 771.2H763.9ZM830.4 1188.3L833.7 1182.9H836.6L839.9 1188.3ZM708.0 853.5L710.1 851.4H714.3L716.5 853.5L714.3 855.7H710.1ZM645.2 810.7H655.0L651.6 816.2H648.6ZM657.8 1005.8L659.9 1003.4H664.1L666.2 1005.8L664.1 1008.3H659.9ZM720.8 1009.5H730.8L727.3 1013.5H724.3ZM577.4 1249.3L579.4 1247.5H584.8L586.8 1249.3L584.8 1251.0H579.4ZM745.9 850.6L748.1 848.3H752.5L754.7 850.6L752.5 852.9H748.1ZM832.6 925.3H840.7L837.9 928.8H835.4ZM704.7 1014.8H718.1L713.4 1019.6H709.4ZM611.2 993.5L615.4 991.0L619.6 993.5L615.4 996.0ZM760.9 950.2H773.5L769.1 955.1H765.3ZM585.3 954.4L588.3 952.6H594.2L597.2 954.4L594.2 956.2H588.3ZM685.3 988.0L691.6 985.3L697.9 988.0L691.6 990.7ZM672.8 926.1L677.2 923.1L681.6 926.1L677.2 929.1ZM708.4 811.9L710.4 810.2H714.7L716.7 811.9L714.7 813.7H710.4ZM806.1 832.9L808.2 830.3H812.6L814.8 832.9L812.6 835.6H808.2ZM696.7 805.6L700.8 802.9L704.9 805.6L700.8 808.3ZM598.6 1102.7L605.0 1100.1L611.4 1102.7L605.0 1105.3ZM664.8 929.1L666.8 927.3H672.2L674.2 929.1L672.2 930.9H666.8ZM642.6 1143.6L645.7 1141.4H652.1L655.3 1143.6L652.1 1145.8H645.7ZM724.5 1035.6L726.6 1032.9H730.8L732.9 1035.6L730.8 1038.3H726.6ZM702.9 832.7L708.8 830.0L714.7 832.7L708.8 835.5ZM579.4 1070.1L583.2 1064.6H586.5L590.3 1070.1ZM759.6 899.1L762.9 895.2H765.8L769.1 899.1ZM594.3 1016.2L597.0 1014.0H602.4L605.1 1016.2L602.4 1018.3H597.0ZM556.7 1238.9L561.3 1235.8L568.0 1238.9L561.3 1242.1ZM665.1 1054.1L668.6 1051.9H675.5L679.0 1054.1L675.5 1056.4H668.6ZM563.5 890.7L565.5 889.0H572.0L574.0 890.7L572.0 892.4H565.5ZM583.4 1055.5L589.2 1052.4L595.0 1055.5L589.2 1058.6ZM619.1 771.3L623.8 767.0H627.8L632.5 771.3ZM556.7 1293.3L558.7 1291.6H565.2L567.2 1293.3L565.2 1295.0H558.7ZM757.3 1116.2L761.3 1110.8H764.6L768.5 1116.2ZM712.1 870.1L714.1 868.9H718.2L720.2 870.1L718.2 871.4H714.1ZM672.2 820.7L678.5 817.5L684.9 820.7L678.5 823.9ZM726.2 1146.3L728.2 1144.5H732.3L734.3 1146.3L732.3 1148.2H728.2ZM561.5 1056.9L563.5 1055.2H573.1L575.1 1056.9L573.1 1058.7H563.5ZM688.5 786.0L690.5 784.7H696.2L698.2 786.0L696.2 787.4H690.5ZM665.1 1084.9L669.0 1079.8H672.3L676.1 1084.9ZM747.6 845.0L750.0 842.8H754.9L757.3 845.0L754.9 847.3H750.0ZM594.1 890.5L596.1 887.9H600.2L602.2 890.5L600.2 893.1H596.1ZM711.5 871.8L717.6 868.6L723.6 871.8L717.6 875.0ZM567.7 1111.2L571.0 1105.8H573.8L577.1 1111.2ZM586.0 970.6L590.4 966.0H594.2L598.6 970.6ZM601.8 1096.7L604.1 1094.9H608.5L610.7 1096.7L608.5 1098.5H604.1ZM609.2 935.1L611.2 932.9H615.4L617.5 935.1L615.4 937.4H611.2ZM737.4 781.1H747.6L744.0 785.9H741.0ZM735.3 1030.9L739.2 1027.2H742.5L746.4 1030.9ZM560.7 1009.8L565.0 1006.9L569.2 1009.8L565.0 1012.7ZM591.7 963.0H602.5L598.7 968.5H595.5ZM654.6 843.0L656.6 841.4H664.5L666.5 843.0L664.5 844.6H656.6ZM721.0 813.4L723.0 811.6H731.1L733.1 813.4L731.1 815.1H723.0ZM666.2 1169.1L668.2 1167.7H674.7L676.7 1169.1L674.7 1170.5H668.2ZM657.9 845.0L660.3 842.3H664.9L667.2 845.0L664.9 847.7H660.3ZM702.4 1073.4L706.8 1069.1H710.6L715.0 1073.4ZM801.7 894.7L805.2 889.8H808.1L811.6 894.7ZM794.4 1034.4L798.1 1030.2H801.4L805.1 1034.4ZM657.8 1073.9L660.3 1072.0H665.3L667.8 1073.9L665.3 1075.8H660.3ZM567.2 1229.8L570.4 1228.0H576.8L580.0 1229.8L576.8 1231.5H570.4ZM766.6 911.3L768.6 909.7H777.5L779.5 911.3L777.5 912.9H768.6ZM756.5 1016.2L758.8 1013.9H763.3L765.5 1016.2L763.3 1018.5H758.8ZM727.5 824.7L731.9 821.9L736.2 824.7L731.9 827.4ZM794.7 1277.4L798.9 1272.8H802.5L806.6 1277.4ZM568.3 779.8L570.6 777.4H575.2L577.5 779.8L575.2 782.1H570.6ZM824.1 1045.1L826.4 1042.8H830.9L833.2 1045.1L830.9 1047.3H826.4ZM828.9 1145.4L834.9 1143.0L841.0 1145.4L834.9 1147.7ZM572.8 824.4L576.8 819.7H580.2L584.2 824.4ZM787.9 1024.4L792.7 1021.9L797.5 1024.4L792.7 1027.0ZM578.8 1073.6L585.2 1070.5L591.5 1073.6L585.2 1076.7ZM751.6 1138.9L754.0 1136.2H759.0L761.5 1138.9L759.0 1141.6H754.0ZM656.6 1146.1L661.3 1141.2H665.4L670.1 1146.1ZM666.8 1115.9L672.6 1112.9L678.4 1115.9L672.6 1118.8ZM766.6 891.4L773.0 888.2L779.3 891.4L773.0 894.6ZM633.4 1033.6H644.7L640.7 1038.8H637.4ZM780.8 1229.0L782.8 1227.2H788.3L790.3 1229.0L788.3 1230.7H782.8ZM806.4 939.0L812.8 936.2L819.2 939.0L812.8 941.7ZM612.3 968.4L618.5 965.3L624.7 968.4L618.5 971.6ZM641.2 1020.1L644.5 1018.1H651.1L654.4 1020.1L651.1 1022.2H644.5ZM659.0 981.4H667.5L664.5 986.3H662.0ZM681.1 1072.7H693.5L689.1 1076.7H685.4ZM671.3 1224.5L673.3 1223.2H677.9L679.9 1224.5L677.9 1225.8H673.3ZM823.7 917.2H833.5L830.1 921.7H827.1ZM657.0 1109.5L659.6 1107.4H664.7L667.3 1109.5L664.7 1111.7H659.6ZM742.7 810.1L745.4 807.4H750.7L753.4 810.1L750.7 812.8H745.4ZM723.5 1269.7L730.4 1267.2L737.3 1269.7L730.4 1272.2ZM803.4 1153.7L807.6 1148.8H811.3L815.5 1153.7ZM624.9 1223.7L628.2 1219.5H631.0L634.2 1223.7ZM803.9 1243.8H817.3L812.6 1248.0H808.6ZM664.3 1168.9H676.0L671.9 1173.5H668.4ZM676.0 1235.9L682.0 1233.2L687.9 1235.9L682.0 1238.6ZM620.6 1252.8L623.3 1250.5H628.8L631.5 1252.8L628.8 1255.1H623.3ZM708.0 1005.1L711.3 1000.5H714.1L717.4 1005.1ZM693.0 999.3L695.8 997.2H701.4L704.2 999.3L701.4 1001.5H695.8ZM808.7 839.0H820.8L816.6 843.8H813.0ZM632.4 1249.8L637.8 1247.3L643.2 1249.8L637.8 1252.4ZM597.8 823.6L599.8 821.7H609.1L611.1 823.6L609.1 825.4H599.8ZM784.5 1050.2L786.5 1048.5H795.1L797.1 1050.2L795.1 1051.8H786.5ZM599.0 902.3L601.0 901.0H606.8L608.8 902.3L606.8 903.5H601.0ZM774.3 1170.4L776.3 1168.9H780.7L782.7 1170.4L780.7 1172.0H776.3ZM641.6 850.3L644.8 847.8H651.3L654.5 850.3L651.3 852.9H644.8ZM768.3 796.5H782.0L777.2 801.6H773.1ZM758.0 1032.1L760.1 1029.6H764.1L766.1 1032.1L764.1 1034.5H760.1ZM731.0 1237.3L734.2 1233.6H736.9L740.2 1237.3ZM709.4 1011.4L711.4 1010.2H717.3L719.3 1011.4L717.3 1012.7H711.4ZM711.3 1171.3H724.0L719.6 1175.0H715.8ZM790.5 813.8H798.9L796.0 818.4H793.5ZM764.0 1263.1H776.4L772.0 1267.8H768.3ZM829.0 1024.3L834.3 1021.7L839.5 1024.3L834.3 1026.8ZM818.5 1177.4L820.5 1175.5H827.9L829.9 1177.4L827.9 1179.3H820.5ZM613.6 1244.5H626.7L622.1 1248.7H618.2ZM556.7 881.7L559.2 879.3H563.6L566.1 881.7L563.6 884.0H559.2ZM625.4 817.4L627.4 815.9H632.8L634.8 817.4L632.8 819.0H627.4Z"/>
<path fill="#0a30e8" d="M572.8 812.5h4.8v1.6h-4.8ZM771.6 984.5h5.1v1.6h-5.1ZM639.2 1137.7h5.5v1.6h-5.5ZM766.2 849.6h4.1v1.6h-4.1ZM639.1 1159.1h4.0v1.6h-4.0ZM679.8 822.1h4.0v1.6h-4.0ZM814.6 1060.3h3.4v1.6h-3.4ZM692.3 964.0h5.3v1.6h-5.3ZM697.6 1242.7h4.4v1.6h-4.4ZM680.2 984.3h5.4v1.6h-5.4ZM631.5 983.3h4.6v1.6h-4.6ZM655.5 1017.9h4.3v1.6h-4.3ZM628.0 793.7h4.3v1.6h-4.3ZM619.8 936.0h3.2v1.6h-3.2ZM695.5 1131.0h4.3v1.6h-4.3ZM740.4 1161.3h5.3v1.6h-5.3ZM603.3 1004.1h3.3v1.6h-3.3ZM682.1 931.9h4.9v1.6h-4.9ZM808.3 1125.9h4.6v1.6h-4.6ZM701.7 1164.2h4.6v1.6h-4.6ZM788.7 1274.9h3.7v1.6h-3.7ZM585.3 941.8h3.4v1.6h-3.4ZM600.9 851.6h5.3v1.6h-5.3ZM668.9 970.8h5.6v1.6h-5.6ZM597.2 797.9h5.6v1.6h-5.6ZM609.6 951.7h4.7v1.6h-4.7ZM768.9 1026.1h5.2v1.6h-5.2ZM678.1 1081.7h4.4v1.6h-4.4ZM800.0 967.6h4.0v1.6h-4.0ZM665.7 841.8h5.3v1.6h-5.3ZM712.1 1038.5h3.4v1.6h-3.4ZM759.6 835.9h5.0v1.6h-5.0ZM638.6 906.0h3.5v1.6h-3.5ZM690.6 1143.9h5.2v1.6h-5.2ZM582.1 1136.0h4.9v1.6h-4.9ZM665.6 880.4h3.4v1.6h-3.4ZM816.3 1084.3h5.3v1.6h-5.3ZM573.8 987.8h5.4v1.6h-5.4ZM812.8 1107.1h4.3v1.6h-4.3ZM574.5 950.0h4.7v1.6h-4.7ZM685.0 1072.3h5.4v1.6h-5.4ZM717.5 1218.7h5.0v1.6h-5.0ZM566.7 1164.8h4.7v1.6h-4.7ZM675.4 1021.5h5.3v1.6h-5.3ZM697.4 1265.8h4.7v1.6h-4.7ZM742.7 1229.8h4.1v1.6h-4.1ZM816.6 785.2h5.1v1.6h-5.1ZM796.9 947.8h3.8v1.6h-3.8ZM728.6 1086.6h4.0v1.6h-4.0ZM676.9 1050.6h4.3v1.6h-4.3ZM831.3 862.6h5.0v1.6h-5.0ZM824.7 1192.1h4.5v1.6h-4.5ZM670.5 1079.4h5.0v1.6h-5.0ZM563.2 765.7h4.7v1.6h-4.7ZM705.4 812.6h3.6v1.6h-3.6ZM638.8 857.7h4.4v1.6h-4.4ZM689.4 865.7h4.7v1.6h-4.7ZM613.5 1278.2h3.6v1.6h-3.6ZM818.5 1063.6h5.4v1.6h-5.4ZM664.9 1147.0h3.5v1.6h-3.5ZM601.4 1093.4h5.3v1.6h-5.3ZM797.3 1184.6h3.3v1.6h-3.3ZM650.1 842.2h3.6v1.6h-3.6ZM767.2 1088.1h5.2v1.6h-5.2ZM665.5 1220.4h5.5v1.6h-5.5ZM664.0 1017.7h4.2v1.6h-4.2ZM764.5 768.3h4.6v1.6h-4.6ZM710.5 852.7h3.4v1.6h-3.4ZM648.1 812.6h3.9v1.6h-3.9ZM660.3 1005.0h3.4v1.6h-3.4ZM580.2 1248.5h3.8v1.6h-3.8ZM708.7 1016.4h5.4v1.6h-5.4ZM588.9 953.6h4.7v1.6h-4.7ZM710.8 811.1h3.3v1.6h-3.3ZM646.4 1142.8h5.1v1.6h-5.1ZM558.6 1238.1h5.4v1.6h-5.4ZM566.6 889.9h4.2v1.6h-4.2ZM586.9 1054.7h4.6v1.6h-4.6ZM558.6 1292.5h4.9v1.6h-4.9ZM668.4 1081.5h4.4v1.6h-4.4ZM750.5 844.2h3.9v1.6h-3.9ZM570.5 1107.7h3.7v1.6h-3.7ZM740.5 782.7h4.1v1.6h-4.1ZM563.3 1009.0h3.4v1.6h-3.4ZM594.9 964.9h4.3v1.6h-4.3ZM669.4 1168.3h4.2v1.6h-4.2ZM797.6 1031.5h4.3v1.6h-4.3ZM571.0 1229.0h5.1v1.6h-5.1ZM770.5 910.5h5.2v1.6h-5.2ZM730.1 823.9h3.5v1.6h-3.5ZM582.6 1072.8h5.1v1.6h-5.1ZM660.6 1142.8h5.4v1.6h-5.4ZM673.9 1223.7h3.4v1.6h-3.4ZM727.7 1268.9h5.5v1.6h-5.5ZM627.7 1220.8h3.7v1.6h-3.7ZM812.3 840.6h4.8v1.6h-4.8ZM601.8 822.8h5.3v1.6h-5.3ZM776.8 1169.6h3.4v1.6h-3.4ZM772.4 798.2h5.5v1.6h-5.5ZM715.1 1172.4h5.1v1.6h-5.1ZM559.2 880.9h3.9v1.6h-3.9ZM628.2 816.6h3.8v1.6h-3.8Z"/>
<g clip-path="url(#c4)"><g transform="scale(0.5)" stroke-linejoin="round">
<path fill="#000088" stroke="#000088" stroke-width="3.00" d="M1492 1531l4 0-4 0zM1147 1551l18 0-10 1-8-1zM1568 1566l5 0-5 0zM1493 1576l2 0-2 0zM1473 1581l5 0-5 0zM1296 1586l7 0-7 0zM1473 1596l9-2 7 2-7 3-9-3zM1670 1611l4-3 6 1 1 2-7 1-4-1zM1411 1615l2 1-2-1zM1592 1621l6 0-6 0zM1653 1636l10 0-10 0zM1347 1646l8 0-8 0zM1451 1646l5-2 8 2-8 2-5-2zM1309 1661l6-1 6 1-12 0zM1520 1661l7 0-1 5-6-5zM1568 1661l18 0-8 1-10-1zM1308 1671l9 0-9 0zM1326 1671l8 0-8 0zM1479 1676l3-2 4 2-4 1-3-1zM1326 1681l10 0-10 0zM1492 1681l2-1 7 1-7 2-2-2zM1520 1686l6-3 4 3-4 1-6-1zM1635 1686l1 0-1 0zM1370 1691l3-2 4 2-7 0zM1491 1691l3-3 7 3-7 2-3-2zM1240 1706l9 0-4 1-5-1zM1595 1716l2-1 1 1-3 0zM1461 1721l8-2 3 2-10 1-1-1zM1500 1726l1-5 1 5-2 0zM1471 1731l8 0-8 0zM1218 1736l2 0-2 0zM1213 1746l8 0-8 0zM1372 1746l1-3 6-1 7 1 2 3-2 1-7 0-7-1zM1517 1746l10 0-1 2-9-2zM1269 1761l1-2 3 2-4 0zM1242 1766l5 0-5 0zM1473 1766l6 0-6 0zM1530 1766l9-2 3 2-3 1-9-1zM1334 1771l8 0-1 2-7-2zM1427 1776l3-4 2 4-2 1-3-1zM1225 1781l2 0-2 0zM1416 1781l4 0-4 0zM1288 1801l8 0-8 0zM1165 1811l14 0-5 1-9-1zM1263 1816l11 0-4 1-7-1zM1289 1816l1-2 6 2-7 0zM1513 1816l1 0-1 0zM1160 1821l8 0-8 0zM1615 1826l1-2 10 2-11 0zM1291 1836l5-1 2 1-7 0zM1547 1836l5-2 8 2-8 1-5-1zM1567 1841l4-3 7 0 2 3-9 1-4-1zM1511 1851l3-2 7 2-7 1-3-1zM1551 1851l2 0-2 0zM1354 1854l-6 2-2 5 1 2 12-7-5-2zM1373 1854l-6 2 6 4 6 0 4-4-10-2zM1196 1861l4-2 6 0 1 2-7 2-4-2zM1237 1861l7 0-7 0zM1485 1861l9-2 7 2-16 0zM1560 1861l5-1 4 1-4 2-5-2zM1270 1866l7-1 1 1-8 2 0-2zM1512 1866l8 0-6 4-2-4zM1250 1871l18 0-10 1-8-1zM1506 1871l6 0-5 1-1-1zM1568 1871l3-2 4 2-4 1-3-1zM1218 1876l6 0-6 0zM1294 1876l7 0 2 5-7-2-2-3zM1224 1881l2-4 1 4-3 0zM1470 1886l9 0-4 1-5-1zM1218 1891l8-1 3 1-3 1-8-1zM1379 1889l-3 2 3 1 7-1-7-2zM1405 1896l-1 0 1 1 0-1zM1411 1900l-3 1 3 1 3-1-3-1zM1506 1901l8-4 6 4-6 3-8-3zM1226 1911l6-3 3 3-3 2-6-2zM1456 1915l-3 1 9 3 5-3-5-2-6 1zM1184 1926l5 0-5 0zM1296 1936l7 0-1-1-6 1zM1386 1934l-2 2 2 1 6 2 7-3-7-2-6 0zM1578 1936l12-3 3 3-9 6-6-6zM1424 1944l-3 2 5 0-2-2zM1152 1956l3-2 2 2-2 2-3-2zM1204 1956l2-3 7 0 5 3-5 2-9-2zM1450 1960l-6 1 3 5 3 1 4-1-1-5-3-1zM1212 1971l2 0-2 0zM1529 1971l4 0-4 0zM1161 1986l5 0-5 0zM1212 1986l6 0-2 5-5 0 1-5zM1597 1986l8 0-2 1-6-1zM1532 1991l15 0-15 0zM1601 2001l11 0-11 0zM1526 2011l7-2 3 2-3 1-7-1zM1563 2011l2 0-2 0zM1366 2015l-3 1 10 3 6-3-6-3-7 2zM1506 2016l8-1 6 1-6 1-8-1zM1529 2021l7 0-3 2-4-2zM1200 2026l2 0-2 0zM1328 2026l-5 5 5 1 6-1-6-5zM1462 2025l-2 1 6 0-4-1zM1621 2031l5 0-5 0zM1475 2041l13 1 3-1-3-1-13 1zM1557 2041l1-1 8 1-9 0zM1379 2045l3 1-3-1zM1405 2045l-3 1 3 1 1-1-1-1zM1601 2046l5 0-5 0zM1211 2051l4 0-4 0zM1627 2051l2-1 2 1-4 0zM1115 2056l2-2 5 2-5 1-2-1zM1196 2056l6 0-2 3-4-3zM1405 2055l-6 1 6 4 6-1 2-3-8-1zM1567 2056l12 0-8 1-4-1zM1203 2061l3-2 7 2-10 0zM1543 2061l9-1 8 1-8 4-6-2-3-2zM1222 2071l4-2 14 2-18 0zM1360 2071l-5 0 5 0zM1525 2071l7 0-6 2-1-2zM1584 2071l11 0-5 1-6-1zM1204 2076l4 0-4 0zM1373 2073l-2 3 4 0-2-3zM1334 2080l-1 1 1 5 0-6zM1199 2086l8 0-8 0zM1341 2084l-7 2 14 0-7-2zM1164 2091l4-2 6 2-6 4-4-4zM1545 2091l7-1 9 6-9 2-7-7zM1178 2096l6 0-6 0zM1469 2094l-4 2 4 1 5-1-5-2zM1602 2096l2 0 7 5-8 2-4-2 3-5zM1341 2101l-2 0 7 5 8 0-2-5-11 0zM1405 2100l-2 1 2 2 7-2-7-1zM1543 2101l4 0 5 5-8 0-1-5zM1666 2101l9 0-9 0zM1583 2106l7-2 7 2-7 2-7-2zM1636 2106l15 0-9 1-6-1zM1283 2109l-5 2 5 4 9 1-3-5-6-2zM1158 2116l5 0-5 0zM1315 2121l7-2 3 2-3 2-7-2zM1360 2120l-4 1 11 0-7-1zM1386 2121l6 1 2-1-8 0zM1264 2121l-4 5 4 3 6 1 6-4-6-5-6 0zM1373 2124l-3 2 3 3 7-3-7-2zM1645 2126l3-1 12 1-6 1-9-1zM1516 2131l10-1 1 1-11 0zM1167 2136l2 0-2 0zM1366 2132l-5 4 5 2 8-2-8-4zM1437 2134l-4 2 4 1 6 1 2-2-2-2-6 0zM1552 2136l4 0-4 0zM1139 2141l6 0-6 0zM1160 2146l16 0-8 4-8-4zM1536 2146l7 0 6 5-3 1-4-1-6-5zM1550 2146l2 0-2 0zM1585 2146l5-2 8 2-8 2-5-2zM1619 2146l3-2 4 2-4 1-3-1zM1373 2165l8 1-8-1zM1219 2169l-3 2 3 3 5-3-5-2zM1334 2171l-2 0 2 0zM1548 2176l7 0-7 0zM1315 2180l-1 1 1 3 7 0 1-3-8-1zM1117 2186l6-4 7-1 3 5-3 3-13-3zM1158 2186l4-2 10 2-10 3-4-3zM1411 2185l0 4 7-3-7-1zM1633 2186l6 0-6 0zM1122 2196l8-3 3 3-3 2-7-1-1-1zM1334 2194l-3 2 10 5 1-5-8-2zM1584 2196l6-1 6 1-12 0zM1232 2210l-3 1 3 1 1-1-1-1zM1309 2210l-4 1 10 2 7-2-13-1zM1347 2216l7 1 4-1-4-2-7 2zM1647 2216l3 0-3 0zM1296 2220l-4 1 10 2 5-2-11-1zM1154 2226l10 0-10 0zM1213 2226l0 5 0-5zM1168 2236l6-2 7 2-7 5-6-3 0-2zM1379 2233l-1 3 1 3 3 2 5 0 5-5-13-3zM1154 2241l12 0-4 1-7 6-5-2 4-5zM1507 2237l-2 4 7 0-5-4zM1557 2241l1-3 14 3-7 1-8-1zM1617 2241l5-4 10 4-10 1-5-1zM1160 2256l2 0-2 0zM1366 2255l-3 1-3 6 6 2 5-3-2-5-3-1zM1150 2261l5-4 3 4-8 0zM1334 2259l-3 2 11 0-8-2zM1392 2260l0 1 5 0-5-1zM1315 2262l-3 4 10 1 2-1-9-4zM1550 2266l2-2 4 7-4 2-2-2 0-5zM1360 2267l-5 4 5 2 9-2-3-3-6-1zM1430 2270l-5 1 5 1 4-1-4-1zM1672 2271l3 0-3 0zM1322 2274l-3 2 3 4 6-1 3-3-3-2-6 0zM1437 2273l-2 3 2 1 9-1-9-3zM1251 2277l-2 4 2 1 4-1-4-4zM1354 2277l-4 4 4 1 3-1-3-4zM1258 2282l-3 4 3 1 6 1 4-2-4-3-6-1zM1627 2286l2-2 2 2-4 0zM1154 2291l2 0 7 5-11 0 2-5zM1482 2290l-2 1 2 2 3-2-3-1zM1430 2294l-2 2 4 0-2-2zM1596 2296l4 0-3 4-1-4zM1354 2300l-2 1 2 6 2-6-2-1zM1206 2304l-2 2 5 0-3-2zM1322 2305l-3 1 3 1 2-1-2-1zM1386 2305l-2 1 2 0 3 0-3-1zM1226 2310l-4 1 4 1 5-1-5-1zM1587 2316l10-2 6 2 1 5-7 1-10-6zM1213 2320l-2 1 2 5 6-1 3-4-3-2-6 1zM1392 2319l-4 2 4 1 6 1 4-2-4-2-6 0zM1641 2321l8 0-8 0zM1673 2321l1 0-1 0zM1328 2325l-5 1 5 1 2-1-2-1zM1643 2331l5-2 9 2-9 3-5-3zM1334 2340l8 1-1-2-7 1zM1551 2341l7-2 3 2-9 2-1-2zM1121 2346l12 0-3 1-9-1zM1411 2342l-6 4 13 2 2-2-9-4zM1430 2346l4 0-4 0zM1536 2346l10-2 4 2-4 2-7 0-3-2zM1322 2351l0 1 0-1zM1437 2348l0 3 13 1 2-1-2-2-13-1zM1557 2351l8-2 9 2-3 2-14-2zM1603 2356l10 0-3 4-7-4zM1334 2360l-1 1 1-1zM1187 2369l-4 2 13 0-2-3-7 1zM1660 2376l7-4 7 4-7 2-7-2zM1603 2381l5 0-5 0zM1671 2386l4 0-1 2-3-2zM1603 2401l7 0-7 0zM1622 2405l-4 1 4 5 4-5-4-1zM1552 2426l-2 0 2 0zM1642 2426l0 1 6 1 3-2-3-2-6 2zM1283 2430l-4 1 4 2 6-2-6-1zM1594 2431l3-5 10 5-4 2-9-2zM1443 2435l-4 1 4 1 0-2zM1482 2435l-5 1 5 1 7-1-7-1zM1418 2439l-3 2 3 1 10-1-10-2zM1462 2440l-1 1 1 3 7 1 6-4-6-2-7 1zM1582 2441l2-1 3 1-3 2-2-2zM1673 2441l9 0-9 0zM1309 2443l-3 3 3 2 6-2-6-3zM1366 2446l13 0-6-2-7 2zM1437 2445l0 1 6 2 6-2-6-2-6 1zM1622 2446l1 0-1 0zM1217 2451l2-1 5 1-7 0zM1296 2450l-4 1 4 1 3-1-3-1zM1405 2451l-1 5 7 1 5-1 5-5-3-1-13 1zM1283 2453l-3 3 3 1 8-1-1-3-7 0zM1315 2460l-1 1 1-1zM1618 2461l13 0-13 0zM1135 2466l8 0-8 0zM1347 2464l-5 2 12 0-7-2zM1180 2471l8 0-8 0zM1139 2476l5 0-2 1-3-1zM1612 2476l4-2 6 2-6 1-4-1zM1556 2481l2-3 2 3-4 0zM1595 2486l2-3 8 3-10 0zM1229 2491l3-5 1 5-4 0zM1392 2490l2 1-2-1zM1575 2491l5 0-5 0zM1189 2511l5-3 6 3-6 1-5-1zM1621 2511l3 0-3 0zM1233 2521l5-1 3 1-3 1-5-1zM1448 2521l2-2 6 0 3 2-3 1-8-1zM1198 2526l2-2 10 2-12 0zM1633 2526l2-2 4 2-6 0zM1470 2531l9 0-4 2-5-2zM1646 2531l2-4 6 4-8 0zM1159 2536l4 0-4 0zM1568 2536l3-1 10 1-10 2-3-2zM1217 2541l2-2 10 2-10 4-2-4zM1123 2546l1 0-1 0zM1157 2546l8 0-3 1-5-1zM1442 2546l3 0-2 1-1-1zM1529 2546l5 0-5 0zM1448 2551l2 0-2 0zM1517 2551l3-3 4 3-4 1-3-1zM1454 2561l3 0-3 0zM1500 2561l10 0-3 1-7-1zM1531 2561l2-2 6-1 8 3-8 2-8-2zM1584 2561l7 0-7 0zM1147 2566l9 0-9 0zM1558 2566l7-1 6 1-6 1-7-1zM1607 2566l3-3 13 3-7 3-6-1-3-2zM1273 2571l4-2 13 2-7 1-10-1zM1475 2571l18 0-11 1-7-1zM1173 2581l9 0-9 0zM1539 2586l1 0-1 0zM1590 2586l2 0-2 0zM1657 2591l10 0-10 0zM1231 2596l5 0-5 0zM1503 2601l4-1 2 1-6 0z"/>
<path fill="none" stroke="#000088" stroke-width="3.00" d="M1356 1606l10-4 7 0 6 4-6 3-17-3zM1391 1611l7-2 26-1 6 3-6 5-6 1-3 4 3 4 12-5 9 6-15 1-19-3-13 3-19 0-1-1 7-3 7-5 8-2-3-5zM1397 1631l1-3 4 3 16 2 7 3-3 5 5 5-2 5 14 5-2 4-13-1-4 2 4 5 13-1 6 1 7-6 7 1 13 5 0 5-14 2-10 8-9 1-8-1 1 5 5 5-11 8-13 1-8 6 21 3 3 2-3 6-19 4 19 2 6-3 17 1-4 1-3 4 3 5-6 1-4 4 13 5-21 5 18 4 16 1-9 2-20 0-5-2-1-4-13 0-17-6 11-9 13 1 6-2-6-2-20-1-12 3-13-5-19 1-7-1 7-10 9-5-9-6-4-4 10-5 6 1 5 4 3 10-3 5 2 3 7-3 12-1 5-4-1-5-22-5 15-10-6-5-17-4-8-11 2-3 13 0 2-2-11-5 18-5-2-5 6-3 10-2-4-1-14-9 19-5zM1506 1666l1-2 7 0 3 2-3 1-7 5-9-1 8-5zM1463 1681l6-2 6 2 10 5-16 3-8-3 2-5zM1291 1686l11-4 17 4-4 2-6 0-18-2zM1440 1691l6 0 23 4-7 2-4 4 21 5-10 7-13-3-7 1-13-5-1-10 5-5zM1511 1701l22 0-13 6-7-1-2-5zM1314 1706l27 5-13 2-6 5-7-2 2-5-3-5zM1477 1716l5-2 6 4 13 3-7 1-15-1-2-5zM1453 1726l3-1 11 6-5 2-6 6-6-1-4-2 8-5-1-5zM1296 1731l6-3 7-1 12 4-4 5 5 1 12-1 7 2 6-3 6 1-7 5-5 2-13 1-13-3-6-5-7 2-6-2 0-5zM1370 1756l12 0 1 5-17 3-4 2-2 4-13-3-1-1 7-5 17-5zM1423 1761l20-2 2 2-15 9-9-4 2-5zM1351 1776l9 0-4 5 6 5-9 5 13 3 23 12-3 2-13 0-7 6-19-6-13-1-5 4 12 6 13 4-7 4-13 0-12 3-12-2 15-10-16-5 5-5 20-1 11-4 0-5-4-3-7-2-12 4-1-4 16-5-3-1-1-4 1-3 7-2 10 0zM1385 1776l7-4 8 4 0 15 5 2 6 6 6 2-19 3-6-3 1-5 5-5-1-5-5-3-11-2 4-5zM1195 1781l5-3 14 3-19 0zM1296 1781l6-2 17 2-17 4-6-4zM1424 1796l19-1 7 2 4 4-7 5 9 2 19-1 5 4-11 7-26 2-25-3-3-1 1-5 21 2 4-2-16-10-1-5zM1693 1816l-4 0 4-1M1419 1826l11-3 32 1 7 4 6 0 5 3-4 5-7 0-7-6-12-3-7 0-6 3-13-1-8 2 2-1 1-4zM1104 1838l9 3-9 3M1341 1843l-5 3 5 2 14-2-14-3zM1196 1851l10-2 8 2-8 3-10-3zM1392 1860l-6 1-4 5 4 3 8 2-2 1-6 1-7 3-13 0-1 0 8-2 6-3-6-2-13 0-6 2 3 5-7 5 4 2 12 2 20-1 6-6 6-1 13 1 7-7 6 2 12-2-6-3-6 0-6 2-5-4 5-3 12-1 3-1-3-2-12 0-7-3-6 6-13-2zM1276 1881l1 0 3 5-10 8-12 0-6-3 12-5 6-4 6-1zM1104 1885l5 1-5 1M1398 1885l-3 1 3 2 13 0 7-2-7-3-13 2zM1535 1896l11-1 9 6-15 0-5-5zM1270 1901l7-2 4 2-4 6-13 4 1-5 5-5zM1309 1901l6-3 7 1 6 5 7 2-13 4-13-2-6 3 4 5-5 3-12 3-26 3-10-4 10-3 19 0 11-7-4-5 6-4 13-1zM1392 1914l-1 2 1 1 19 3 0 3-6 2-13-2-6 1-7 2 7 2 25-2 7-3 4 3-5 5 7 2 6 1 13-3 7 2 12-2 20 1 3-1-16-5-7 1-6-4-13 2-13-3-2-1 2-1 13-2 4-2-10-3-7-1-12 3-20-2-6 1zM1322 1924l-7 6-7 1 14 1 2-1 7-5-3-2-6 0zM1334 1936l-12 2-6 3 6 3 12 1 13 3 7 4 12 0 13-5 7 0 1 4 5 1 12-1-6-3-19-3-6-5-7-1-6 1-6 3-7 0-13-7zM1430 1938l-4 3 4 2 23-2-3-2-13 1-7-2zM1217 1946l9-3 6 0 3 3-9 1-9-1zM1302 1949l-1 2 1 1 13 5 9-1 4-3 6 3 0 5 7 0 7-5-12-5-2-3-12 2-20-1zM1443 1950l-13 3-5 3 12 3 5-3 1-3 7-2 6 5 1 5 5 2 16-2-12-5 0-5-4-1-19 0zM1373 1959l-7 5-8 2 8 1 20-5 6 1 6 3-7 5-2 5 3 2 38 0 21-2-8-3-32 0-2-2 2-2 13-1 6-2-12-3-13 0-7-3-25-1zM1693 1963l-4-2 4-5M1104 1969l4 2-4 2M1248 1971l3 0 0 5 21 5-8 4-13-3-16-1 8-5 2-5 3 0zM1315 1970l-6 3-7 0-8 3 2 5 13 6 6 5 11 4-4 2-14 3 7 5-10 5 17 2 4-2-4-4-6-1 18-3 12-7-12-4-13-6 0-5 18-10-17-3-7 2zM1354 1977l-1 4 7 4 13 0 14-4-21-4-12 0zM1228 1991l30-3 4 3-4 3-13-2-7 0-6 2-4-3zM1360 1988l-2 3 8 5 7 0 13-4 6 1 2 3 4 1 13 1 15-7-21-5-19 4-13-4-13 2zM1241 2001l10-1 7-3 6 1 13 8-19 5-7 4-6 1-17-5 4-1 9-9zM1341 2005l7 6-16 5 9 2 10-2 12-10-9-2-13 1zM1398 2005l-2 1 0 5 22 3 12-2 13-6-6-4-13 5-26-2zM1572 2021l18-1 7 6-7 1-6-1-6-5-6 0zM1379 2025l-5 1 5 1 7 0 6 2 6 6 7-2 6 4 2-1-3-5 14-1 6-3 15-1-34-4-6 4-26-1zM1366 2030l-8 6 1 5 7 2 5-2-2-5 4-5 0-2-7 1zM1277 2036l-4 5-14 10 2 5 3 1 6-3 7-1 2-2 4-2 19-2 6-6-6-3-25-2zM1334 2045l-6 2-19 2-7 4-19 3 3 5 16-2 20 2 18-5-8-5 2-3 12-2-5-2-7 1zM1418 2060l-13 2-2 4 15 1 12 0 3-1 3-5-6-4-12 3zM1302 2070l-1 1 1 1 20 1 7-2-7-3-7-1-13 3zM1411 2075l-3 1 3 2 7 1 6-1 3-2-9-2-7 1zM1520 2076l13 4 9 1-3 2-19-1-3-1 3-5zM1437 2080l-3 1 16 9 12 2 1-1-1-5-19-6-6 0zM1418 2084l-7 2 7 8 2-3 9-5-5-3-6 1zM1360 2090l-3 1 3 5 13 0 2 5-10 5 14 6 7-1 4-10-17-12-13 1zM1488 2088l-4 3 6 5-2 5-6 1-13 8-7-2-6-4-6-1-7-1-3 4 16 6 13-1 13 7 6-2 0-6 17-4-4-3-11-2 11-3 1-2-2-5-12-3zM1217 2096l9-2 12 0 5 2-17 3-7 0-2-3zM1693 2117l-2-1 2-2M1190 2131l4-3 6 0 11 3-11 2-10-2zM1398 2131l-3 5 1 5 2 1 13-4 13-1 2-1-15-3-6-4-7 2zM1693 2132l-1-1 1-2M1198 2141l15-3 6 1 32-1 2 3-8 4-19-3-13 1-15-2zM1405 2143l-10 8 3 2 13-1 7 7 6 0 4-3 2-6 17-4-4-3-13 0-6 4-6 0-7-3-6-1zM1462 2150l-6 4-8 2 21 4 1-4 6-5-7-2-7 1zM1497 2151l10-2 19 1 2 1-2 1-9 4 3 1 19 2 6 2-6 3-19-2-6-4-16-2-1-5zM1373 2155l-2 1 2 0 6 1 12-1-12-2-6 1zM1392 2157l0 5 6 3 7 0 5-4-18-4zM1240 2166l18-3 6 0 2 3-2 2-6 1-13-1-5-2zM1430 2165l-5 1 5 2 7 1 13 5 5-3-5-6-20 0zM1556 2166l9-4 12 4-12 2-9-2zM1578 2166l12-2 13 2-6 4-7-1-12-3zM1354 2170l-13 3-3 3 9 4 7-2 4-2 1-5-5-1zM1405 2167l-3 9 0 5 3 1 12-6-12-9zM1462 2178l-9 8 3 2 6 1 7 4 6 1 13-3-9-5-4-1-6-7-7 0zM1245 2184l-6 2 12 3 7 5 25-3-2-5-4-3-7 1-6 3-6 1-7-4-6 0zM1296 2181l-4 5 1 5 3 2 19-1 7-1-7-5-19-5zM1366 2192l-4 4-2 5 6-1 13 4 7-1 4-2-1-5-3-2-13 0-7-2zM1159 2201l22 0-7 1-3 4-9 2-8-2 5-5zM1104 2204l2 2-2 1M1437 2205l-11 6 11 7 6 0 14-7-7-2-6-3-1-5-6 4zM1552 2206l6-4 13 5 7 1 7 3-7 2-32-2-13 2-2-2 2-1 13 1 6-5zM1366 2210l-2 1-1 5 10 2 13-2 9-5-16-3-13 2zM1693 2207l-2-1 2-1M1104 2220l2 1-2 1M1398 2219l-19 6 0 4 19 0 11-3 3-5-7-2-7 0zM1550 2221l8-1 14 1 19 5-13 2-4 3-9 2-4-2 12-5-2-5-21 0zM1424 2221l-3 5 3 3 6 1 13-3 19 6 11-2-17-7-13 1-19-4zM1315 2229l-5 2 12 4 8-4-2-2-13 0zM1360 2230l-2 1 2 1 6 1 12-2-12-2-6 1zM1482 2241l-20 0-6 5 19 3 7 3 6 0 12-6-18-5zM1309 2245l-3 1-2 5-8 1-3 4 3 2 13 2 6 0 7-2 6 0 6-7 13-5-25-3-13 2zM1398 2244l-4 2 1 5 3 2 13 0 7-4 15-3-9-3-26 1zM1693 2241l-2 0 2-1M1179 2251l2-2 13-1 6 3-6 2-15-2zM1546 2251l7 0-4 10-3 2-7-2-13 3-5-3 5-3 13 0 7-7zM1238 2254l-3 2 1 5 2 3 7 1 2-4 4-1 13 4 6-2 1-1-7-5-6-2-13-1-7 1zM1443 2254l-4 2 16 5-2 5 9 2 7 6 8-3-20-10-2-5-12-2zM1482 2260l-3 1 9 7 6 1 5-3-5-6-12 0zM1563 2261l15-2 4 2-19 0zM1151 2271l17 0 6 4 9 1 4 2 2 3-2 2-13-1-23-11zM1245 2266l-4 5-11 5 8 2 11-2 3-5-7-5zM1619 2271l10-4 11 4-11 1-10-1zM1572 2276l6-1 9 6-3 3-6 0-4-3-2-5zM1290 2284l-4 2 16 10 13 1 9-1-15-8-19-4zM1693 2289l-7 2-8-5 15-4M1104 2300l6 1-6 0M1405 2303l-5 3 18 8 19 4 5-2-12-5-12-2-7-4-6-2zM1475 2305l-6 1-9 5 9 2 6 0 7-6 12 0 3-1-3-2-19 1zM1104 2310l2 1-2 1M1334 2310l-19 4-3 2-1 5-2 2-7 1-6-6-13-1-4 4 19 5-8 7-20 3 7 2 13-1 6 3 0 4-19 2 1 5 5 4 13 2 2-1 1-5-3-5 6-2 13 0 10-3 5-5-8-1-7 3-6 0-11-2 17-2 4-3 0-5 3-1 1-4 5-3 13-1 10-6-4-2-13 1zM1373 2316l-14 5 7 2 12-2-5-5zM1494 2315l-12 4-7 1-13-2-10 3 17 6 6 0 7-3 6-1 6-4 7 3 6 1 5-2-5-6-13 0zM1418 2324l-6 2 6 1 12 7 7 0 4-3-4-3-19-4zM1568 2326l10-2 9 2-9 5-7 1-4-1 1-5zM1360 2335l6 2 12-1-18-1zM1450 2335l-11 6 4 2 7 0 6-4 19 0 14-3-7-2-20-1-12 2zM1251 2337l-2 4 2 3 4 2-14 5-4 5 1 1 12-1 8-7 6-3-6-8-7-1zM1187 2351l2 5-2 1-17-1 11-1 6-4zM1124 2356l6-3 15 3-15 3-6-3zM1619 2361l10-2 9 2-9 1-10-1zM1104 2367l9 4-3 2-6 1M1693 2367l-7 1-6-2 13-7M1622 2373l-2 3 2 2 17-2-17-3zM1104 2389l6-3-2-5 19-10-9-5 5-5 13 3 13-2 32 3 13-1 6 2 6-1 1-4-3-5 15-4 15-6-7-5 5-3 13-4 6 1 7-1 10-8-3-5 5-6 7-1 6-6 7-2-7-4-6-1-2 5-5 2-5-2-5-10-2-1-13 0-13-7-6 0-8 3 7 5-16 5 4 3 19-5 13 0 4 2-11 2-3 3 3 3 20 0 5 2-12 3-4 7-9 5-6 4-15 6 0 5 2 5-10 0 0-5-3-1-12-3-13 0-5-1 9-5-3-5 8-5-15-5 7-5 16-5-4-3-13 0-7-2 0-1 7-2 6 0 4-2-21-5 4-3 13-1 13 5 2-1 0-5 6-5-8-6-9-4 26-10 4-5 8-5 3-5 13 2 6 0 7-3 6 0 19 7 7 1 3-2-3-5-7-3-32-8-1 1 3 5-8 1-9-6-10-1-4 1 6 5-9 1-2 4-4 2-7 0-4-2 4-3 12-2-15-5 0-5 3-5-9-5 3-2 6-1 7 8 45 3 6-5 14-3-2-5 7-4 15-1 0-5-2-5-6-3-9 3 4 5-2 2-13 3-1 0-2-5-3-1-6 1-12 5 5 4 3 6-3 3-32 0-2-3 11-5-2-4-13 3-6-4 14-10 5-2 12-2 2-1-2-2-6-2-13 2-6 3-3-1 3-6 6-3 16-1-1-5-2-2-19-3-13-5-6 0-13 7-5-2-6-5 4-2 26 1 7-4 12-2 13 5 6 7 7 0 25-4 7 1 6-4 7-1 12 3 7-4 7-1 6-4 7-1-7-3-3-2 3-1 6-1 6 5 13 2 3 0-2-5 12-2 7-3-7-3-6 0-20 3 3-5 4-3 16-2-23-1-12 3-13 10-7 2-6-1-4-3-4 0-5 4-4 1 4 4 13-1 17 2-4 1-7-1-12 2-20-1-6-2-6-6-7-1-32-2 19-2 7-2 6 1 7-1 6-3 6 3 7-1 6-5 1-5-7-5-13 2-6 4-13-3-30-3 23-3 6-2-8-5 2-2 21-3-48-5 8-3 7 2 6-1 13-5 13-1 12 1 13-4 19 4 16 7-3 3-6 0-7-3-5 5 1 5 17 5-19 2-8 3 8 7 6 1 7-2 10-6 3-3 17-2 0-5-10-10 1-5-2-5-13 0-21-5 4-5 17-3 3-2-3-5-13 0-12 3-4 2 2 5-5 2-19 3-8 0 8-5-6-3-13 0-7-5-12-2 12-1 20 4 20-3 4-5-5-3-12-2 12-3 2-2-2-3-7 0-12 6-13-2-2-1-5-5 6-5 0-5-6-5 20-5-7-4-12-1 6-3 38 2 5-4-10-5-14-1-3-4 3-5 6-4 14-1-7-5 4-5 15-3 5-2-11-5-13 1-2-1 7-5-18-24-4-1 4-2 6 4 19-2 1-5-7-2-6 0-7 3-2-1 0-5 15-2 6-3-6-6-6-1-17 7-1 5-8 10-6-1-7-4 11-5 2-10 19-5 0-5 20-2 6-6 15-2 11-10 12 6 20 0 5 4-7 5 2 2 19 0 6-2-8-5 4-5-11-5 10-5-1-2-7-3-6 7-6 1-13-6-13-8-26-2-12-2 30-5 2-4 6 3 6-4-5-10 1-5-2-3-19 4-8-1 8-7 19 1 9-4-15-12-7 5-6 0-7-2-1-1 1-2 7-2 6 1 4-2-5-5 8-2 12 4 7-5 19 3 6-2 5-3-4-5 0-5 4-5 15-4 12 1 3 3-3 4-22 1 4 5 6 2 17 3-11 1-6 2-3 2 9 5-1 5 10 5 4 4 6 1 3-5-1-5-5-5 22-8 8 3-14 0-2 5 8 2 13-1 7-3 19-2 0 4-13 7-28 3 2 1 13 1 7 4 6 2 13-5 6 1 4 6-2 5 2 5-4 2-6-2-7 1-4 4 2 10-4 1-6 1-13-8-17 1 17 7 6 0 7 5 6 2 26-2 6-2 8 0-5 5 2 5-5 5 19 3 2 2-15 2-5-2-1-5-13-2-13-7-12 0-12 4 5 3 13 1 13 4 12 2 4 5 3 1 26 4 16 0-10 6-6 0-7-3-7 2-6 5-2 5 14 5-5 3-14 2 27 13 6 0 3 2-22 5 6 4 10 1-16 2-13-1-13 2-6-5-13-1-1 3 3 5 4 4 13 0 13 2 9 4-3 3-6 1-12-4-1-4-6-1-13 8-10 2-6 5 3 3 9 2-9 5 13 2 7-2 0-5-7-5 6-3 13 2 13 9 6-1 4-2-1-5 4-2 4 2 9 5-13 9-42 6 10 5 19-3 13 0 3 3-16 9-11 1 11 0 19 7 15-2-18-5 5-5 5-2 11 2 8 4 1 6 6 5-14 0-12 6-20-1-12 2-13 5-13-4-6-4-4 1-3 5 7 4 25 7 3-1-6-5 3-3 26 1 19 3 2 4-15 0-5 5 7 5-8 6-13-1-6-5 12-5-6-3-6 0-7 6-19-1-6 8 6 3 19-1 5 3 2 2 6 2 13-2 13 2 12 6 0 5-12 9-5 1 5 1 6 6 13-1 3 4-3 3-13 0-13 4-16-2-3-3 0 3-6 3-9 2 2 5-15 10 15 1 22-6-9-5 6-3 18 3 0 5 15 5-7 2-19-1-7 2-3 2-3 5 2 5-14 5-5 5 4 3 7-1 6-4 13 4 13 2 1 1-1 0-21 5 19 10 2 3 6 3 2-1 0-5 4-4 13 5 32 1 11 3-4 1-26 2-13 6-19-1-6-2-7 3-6-4 2-5-9-1-6 1 5 5-1 5 2 3 13-3 13 5-13 9-19-3-11 4 6 5 0 5 5 2 6-2 5-5 8-3 7 4 6 1 6 4 7 1 4 3-4 3-13 2-1-5-5-1-6 1 6 4 19 3 5 3 1 5-6 3-26 0-6 2-1 5 1 2 13 0 4 3-7 5 9 10 6 2 13-5 7 0 4 3-17 5 15 5-9 2-13-4-16-3-16-7-6 4-13 1-5 2 5 2 19 2 12 6-1 5-5 5 14 5 6 1 1-1-1-3-2-2 2-1 13 2 10-1 3-3 12 8 3 5-3 1-6-2-9 1-3 5-7 2-4 3 19 5-9 3-19-2-6 3-9 6 9 8 7 2-7 3-7 0-8 2 8 3 7-2 12 0 7 7 13 0 15 2 17 8 6 0 6-3 13-2 7 4 12 2 26-2 6-5 7 1 2 2-2 3-7 0-6 6-4 1-5 10-6 5 9 6 6 2 22-3 6-5 17-8M1693 2389l-5 2 3 5-9 5 11 3M1693 2408l-13 1-6 4-7 1-5-3 4-5-12-1-5 1-2 5 7 5 2 5 7 5-15 7-13-4-32-5-13 3-12 1-5 3-4 5-4 1-26 1-19 6-3 2 3 3 13-2 13 0 6-1 6 5-19 9-6-1-6 2-7 4-6-2-8 3 8 2 6-2 6 1 5 4 4 10 12 5 1 5-9 1-4-1-4-5-5-2-12 0-4 2 4 3 10 2 4 5-4 5-4 2-8-2 5-5-3-3-30-2 9-5 8-11-19 2-3 4-10 1-6-1 3-5-4-1-16 6 0 5-2 5 6 4 25-2 7 3-7 4-19-4-6 6-7-2-20 1-6 5 7 5-19 4-13-1-17-8 4-2 19-1 6-2 4-5-10-1-6 3-6 0-13-4-1 2 1 5-3 5-13 5 0 5 3 7 13 3-7 5 18 5-5 2-19-1-9 4-10 0-6 5 4 5-5 1-10-1 4-4 5-1-18-5-6 1-3-1 3-3 13 0 6-4 13 1 19-2 6-2-7-5-5-3-13 1-7 4-19-2-13 1-2-1 0-5 2-1 13 4 13-1 6-1 7-6-13-4-13 3-19-3-19 2-10-3 10-3 13 1 6-2 6-5 7 1 6 4 28-1 8-5-1-5-3-2-6 4-13 2-13 1-12-5 12-7 7 3 5-1-1-5 8-4 15-1-21-3-6 0-7 4-13-3-6 2-6 0-6 5 4 10-5 2-13-5-6 0-10 3 6 5-9 0-1-5 6-10 6-5-11-2-4-3-5-5 3-4 6 2 7 0 6-1 13 0 5-2-5-2-13-1-19 2-7-2-12-2 6-1 6-5 8-4 2-5-8-5-27-7-13 2-5 0-8-5-13-2-18 2 3 5-4 3-13-2-12 0-13-4-13-2M1104 2411l13-8 9-2-3-3-6 0-13-5M1110 2420l-1 1 1 5 26 1 1-1-14-1-6-5-7 0zM1693 2428l-4-2 1-5-21 0 5-1 6-5 13-2M1277 2436l-13 4-14 1 2 5 6 2 12-1 3-1 3-5 1-5zM1507 2435l-2 1 2 1 7 2 6-1 3-2-3-4-6-1-7 4zM1104 2447l6 4-6 2M1347 2449l-4 2 11 3 9-3-3-2-13 0zM1418 2459l0 2 12 0 13 2 2 3 5 1 6 1 11-2-17-3-7-2-19 0-6-2zM1296 2465l-2 1 2 3 6 3 20 0 3-1-3-2-7 1-6-6-13 1zM1379 2463l-3 3 3 4 7 1 12-2 6-3-25-3zM1398 2475l-1 1-1 5 15 3 22-8-3-2-6 0-6 4-7 0-13-3zM1354 2490l-2 1 2 2 12 0 5-2-5-2-12 1zM1489 2501l8 0-6 5 13 5-3 1-19 2-13-3-13-1-3-4 16-4 13 1 7-2zM1433 2506l4-2 5 2-3 5 3 5-5 2-13-7 9-5zM1693 2511l-10 0 10 0M1253 2521l5-2 12 0 6 2 1 2 6 3-6 1-24-6zM1486 2521l2-2 6 2-2 5-4 3-4-3 2-5zM1387 2526l5-5 6 0 7 3 3 2-6 5 8 5-5 3-7-3-11-10zM1242 2536l3-1 5 1 10 10-2 2-7-5-15-2 6-5zM1422 2536l21-2 8 2-8 2-6 5-15-7zM1104 2539l16 2-3 2-13-1M1201 2551l8 0-16 10-2-5 10-5zM1391 2551l7-3 12 3-2 5-10 1-4-1-3-5zM1304 2566l11-1 8 1-8 1-11-1zM1186 2571l14-5 6 2 4 3-4 2-6 0-14-2zM1211 2576l2-3 1 3 12 5-7 2-7-2-1-5zM1104 2595l8 1-8 0"/>
<path fill="#0a20d8" fill-rule="evenodd" stroke="#0010f0" stroke-width="2.60" d="M1477 1596l8 0-3 1-5-1zM1361 1606l5-3 9 3-2 1-7 1-5-2zM1401 1611l8 0-8 0zM1402 1621l3-2 3 2-6 0zM1387 1636l11-2 20 2 0 5 4 5-11 8-7 2 1 2 19 10 13 0 12 3-25 8-1 2 2 5-1 10-26 6-12 1-6-2 6-4 6 0 6 2 4-3-4-1-10-9-14-5-7-5 6-3 24-2-11-2-17-8 17-5 3-5 20-5-17-4-5-6zM1411 1674l-2 2 2 1 8-1-8-2zM1425 1656l5-2 4 2-4 1-5-1zM1453 1666l3-1 8 1-2 2-6 0-3-2zM1468 1681l13 5-12 2-5-2 4-5zM1298 1686l4-2 9 2-13 0zM1441 1696l2-2 7 0 4 2-4 3-7 1-2-4zM1353 1701l7-3 6 3-6 4-7-4zM1450 1706l6-2 17 2-4 2-7 1-12-3zM1404 1711l4 0-4 0zM1413 1711l6 0-1 1-5-1zM1360 1716l2 0-2 5 0-5zM1381 1721l5-4 11 4-2 5-9 2-4-2-1-5zM1409 1726l23 0-2 1-21-1zM1299 1731l10-2 7 2-14 4-3-4zM1404 1736l4 0-3 2-1-2zM1419 1736l5-1 2 1-2 2-5-2zM1320 1741l8-3 10 3-10 2-8-2zM1410 1741l1-1-1 1zM1430 1741l1 0-1 0zM1377 1746l2-1 6 1-8 0zM1357 1761l16-4 7 4-14 1-12 5-3-1 6-5zM1301 1781l10 0-9 1-1-1zM1337 1781l4-3 9 3-3 2-6 1-4-3zM1353 1796l7-1 13 6-19 7-16-2 15-5 0-5zM1398 1796l4 0-2 5-2 0 0-5zM1465 1811l4-2 6 0 2 2-8 2-4-2zM1381 1816l11-2 5 2-5 2-6 0-5-2zM1418 1816l6-3 6 3-6 1-6-1zM1439 1816l4-3 7-1 6 4-13 2-4-2zM1321 1821l7-4 6 0 14 4-26 5-5 0 4-5zM1423 1826l7-1 8 1-8 2-7-2zM1473 1831l3 0-3 0zM1319 1836l4 0-1 2-3-2zM1346 1836l15 5-14 1-6-1 5-5zM1372 1836l7-2 0 6-7-4zM1104 1841l0-2 5 2-5 1 0-1zM1416 1841l2 0 0 2-2-2zM1451 1841l5-2 10 2-16 5-26 2-4-2 30-2 1-3zM1305 1846l4-2 3 2-3 1-4-1zM1368 1846l11-5 7 0 2 5 7 5-3 2-13 0-10-2-1-5zM1200 1851l9 0-9 0zM1339 1851l8-1 12 1-12 2-8-2zM1417 1856l1-2 6-2 7 4-7 1-7-1zM1309 1861l8 0-8 0zM1333 1861l4 0-3 1-1-1zM1439 1861l4-4 13 4-6 8-32-3 19-2 2-3zM1355 1866l5-3 13 1 3 2-16 1-5-1zM1463 1866l6-4 2 4-2 1-6-1zM1338 1876l3-5 6 0 4 5-10 8-3-8zM1418 1876l6-2 11 2-11 2-6-2zM1390 1881l8-3 9 3-9 3-6-1-2-2zM1443 1881l7-4 3 4-3 2-7-2zM1269 1886l1-1 6 1-6 5-6 2-9-2 14-5zM1371 1886l11 0-9 2-2-2zM1297 1891l37-3 7 0 6 3 7-4 6 0 6 1 7 5 6 1 13 0 2 2-4 5 2 1 19 3 10-4-20-10 4-2 13 2 6-3 6 1 10 2 8 5-16 5-8 4-6 7-13 0-10-1-3-2-6-1-4 3 10 8 13 2-26 3-5-3 5-5-8-5 7-5 3-5-15-7-6-1-9 3 9 5-6 4-7-1-19-12-19 1-12-2zM1466 1896l16-2 5 2 1 5-6 1-7 0-9-6zM1314 1901l3 0-2 1-1-1zM1512 1901l3 0-3 0zM1269 1906l1-1 2 1-3 0zM1293 1906l3-2 6-1 9 3-9 3-6 0-3-3zM1436 1911l14 0 6-3 12 3-12 1-20-1zM1494 1911l7-1 3 1-10 0zM1289 1916l7-3 7 3-7 2-7-2zM1322 1916l8 5-8 1-4-1 4-5zM1259 1921l5-2 20 2-20 2-5-2zM1336 1921l11-3 7 1 2 2-8 5 6 6 6-2 9 1 4 2 6-3 5 1-4 5 6 4 5 1-12 0-6-4-13 1-13 3-6-5-11-5 6-5 0-5zM1472 1921l3-1 26 0 6 1-6 3-19 3-10-6zM1300 1926l11 0-9 2-2-2zM1386 1931l19-3 20 8-7 4-7 0-6-2-7-4-12-3zM1276 1936l3 0-3 0zM1308 1936l7-3 8 3-10 5 2 3 7 2-7 1-24-6 11-2 6-3zM1433 1936l4-2 12 2-12 2-4-2zM1452 1936l17-3 14 3-14 7-7 4-12 2-10-3 17-5-1-3-4-2zM1255 1941l9-2 4 2-10 3-3-3zM1490 1941l4-1 7 1-11 0zM1224 1946l4 0-4 0zM1397 1946l14-4 3 4-3 2-14-2zM1288 1951l5 0-5 0zM1339 1951l2-1 7 1-9 0zM1245 1956l3 0-3 0zM1351 1956l3-2 19 0 6-2 13 2 13-1 6 0 3 3-3 4-38-3-13 6-9-2 0-5zM1448 1956l3 0-3 0zM1478 1956l4-3 6 0 13 3 2 5-2 1-7-4-16-2zM1305 1961l4-2 13 0 22 7-3 2-7 1-19-3-6-3-13 9-5-1-7-5 21-5zM1420 1961l4-2 6 0 7 2 2 5-2 4-1-4-16-5zM1692 1961l1-1-1 1zM1270 1966l12 0-5 2-7-2zM1381 1966l5-1 6 1-6 6-7 3-6-1-6-3 14-5zM1462 1966l13-1 7 1 3 5-10 1-6-5-7-1zM1428 1971l4 0-4 0zM1281 1976l2-3 6 3-6 3-2-3zM1244 1981l2 0-2 0zM1255 1981l9 0-9 0zM1325 1981l9-4 7-1 6 3 6 7-3 5-3 1-8-1-5-5-6 0-3-5zM1397 1981l14-2 32 0 10 2 5 5-15 2-6 5-4 8-3 1-6 1-26 0-6-2 6-2 20 1 2-4 13-5-9-4-27-6zM1437 1985l-2 1 2 2 3-2-3-1zM1381 1986l5-2 6 0 2 2-8 2-5-2zM1480 1986l8-2 3 2-3 1-8-1zM1250 1991l8 0-8 0zM1295 1991l1-3 6-1 7 4 3 5-3 0-14-5zM1461 1996l8-1 4 1 5 5-3 4-6-3-8-6zM1253 2001l5-2 8 2-2 5-13 7-6 1-7-3 1-5 6-4 8-1zM1289 2001l13 1 10 4-14 5 4 2 20 2 12 4 26-2 6 4 1 5-7 2-6-3-6 1 7 5-3 10-5 2-19 0-4-2-2-5 19-5-7-6-6-2-9 3-3 5 5 5-6 0-8-5 2-5-7-3-19 2-15-4-1-5 3-2 27 2-4-5-9-5 5-5zM1352 2001l8-2 13 1 13-1 5 2-7 10-18 1-3-1 3-2 7 0 6-1 2-2-2-3-27-2zM1326 2006l8 0 8 5-8 0-8-5zM1493 2006l8-1 0 1-8 0zM1441 2011l8 0 1 5 12 5-12 3-7-1-8-2 6-10zM1450 2011l19-5 6 0 6 5-6 2-13 0-12-2zM1383 2016l3-5 32 6 6-1 5 5-5 1-6 0-7-3-32 3-4-1 8-5zM1484 2021l14 0-10 6-6 1-6-2 8-5zM1590 2026l1 0-1 0zM1379 2031l4 0-4 2 0-2zM1426 2031l11-3 6 0 7 4 12-3 7 1 6 3 17 3-28 5 24 5-26 3-6-2-6-4-7 0-6 7-7 0-6 6-13-4-6 0-7 1-11-2 5-3 6 0 7 2 6-3 2-1-8-4-5-1 18-2 0-3 8-5zM1437 2035l-2 1 2 1 6 1 3-2-3-2-6 1zM1424 2044l-3 2 3 2 2-2-2-2zM1513 2031l7-4 8 4-2 2-13-2zM1293 2036l7 0-7 0zM1263 2041l1-2 2 2-2 1-1-1zM1375 2041l4-5 18 5-5 3-13-1-4-2zM1498 2041l3-1 21 1-15 2-6 0-3-2zM1243 2046l15-1 2 1-7 5-2 4-2-4-6-5zM1352 2046l2-3 31 8-4 5 11 1 9 4-8 5 25 3 12-1 13 5 3 3-3 2-6 0-13-5-6-1-13 4-7 0-6-2-6 2 0 3-2-8 2-3 4-2-17-1-13 3-19 1-7 1-8-4 1-5 19-5-9-5 15-5zM1354 2058l-7 3 11 0-4-3zM1360 2049l-5 2 5 1 2-1-2-2zM1291 2051l9 0-9 0zM1256 2061l2-1 5 1-5 1-2-1zM1447 2061l3-2 6-1 19 8-13 1-12-4-7 6-5-3 9-5zM1485 2061l3-2 7 2-10 0zM1285 2066l5-2 12-1 3 3-9 5 2 5-2 5-6 0-3-5 3-5-5-5zM1493 2071l8-2 3 2-5 5-5 1-3-1 2-5zM1304 2076l11-3 13 2 6-4 13 1 13 4 19 3 7 2 12-5 7 6 6 14-6 1-6-1-7-9-13 2-6-3-13 2-26-10-6-1-6 3-13-2-5-2zM1406 2081l11 0-6 1-5-1zM1451 2081l24-1 2 1 1 5-3 5-6-2-7-6-11-2zM1248 2086l5 0-5 0zM1326 2086l15 2 12 8-6 2-25 1-7 0-13-3 7-5 6 0 7-4 4-1zM1436 2086l12 5 2 3 6 0 17 7-2 5-2 1-17-6-4-5-18-3-4-2 10-5zM1489 2086l18-2 5 2 2 3 7 2 0 5-7 4-6-4 1-5-20-5zM1268 2091l2-3 7-1 7 4-7 2-9-2zM1225 2096l9 0-9 0zM1417 2101l26 8 13 6 13-1 13 7-7 2-6-1-13 3-6-7-7 0-6 1-7 4-6 1-13-2-17 9-8 11-14-1 7-2 2-3-1-5 34-15-9-4-7 6-12 1-7 3-6-1-7-5-19 4-15-9 2-4 7 0 13 5 6-3 6-1 13 6 15-3-1-5 5-5 7 7 6 0 6-7zM1418 2110l-3 1 3 2 1-2-1-1zM1255 2106l15 0 3 5-3 5-36-5 11-4 10-1zM1272 2106l5-1 6-2 13 1 5 2-5 3-24-3zM1308 2111l2 0-2 0zM1501 2111l6-3 7 1 1 2-1 2-7 1-6-3zM1271 2116l6-1 13 3 6 6 9 2-22 2-9-7-3-5zM1494 2116l0-2 4 2-4 0zM1519 2116l14 0-14 0zM1242 2121l9-3 9 3-10 10-5 1-15-1 15-3 4-2-7-5zM1346 2126l1-4 13 1 6 2 0 2-6 3-11 1 5 2 1 3-40 6-6 9-7 2-6-3-6-1-7 3-13 3-7-4 14-3 13-7 19 1 4-1 2-5 7-4 19-2 5-4zM1193 2131l9 0-9 0zM1411 2131l7-3 6 1 13-2 6 2 13-3 13 2 3 3-16 8-6-2-7-5-13 2-19-3zM1492 2131l2-2 11 2-4 3-9-3zM1228 2141l11 0-11 0zM1411 2141l9 0-2 2-7-2zM1431 2141l6-2 6 2-6 1-6-1zM1485 2141l9-2 5 2-13 5-4 5 2 5-2 1-7 1-2-2 8-5-19-4-6 5-6 0-8 4 20 5 11 10-4 3-7 0-12-11-13 1-10-3 6-5 2-5 2-1 13-2 6-4 26-1 3-2zM1504 2141l10-2 7 2-17 0zM1341 2146l11 0-11 0zM1364 2146l2-2 1 2-3 0zM1388 2146l4-2 4 2-4 2-4-2zM1372 2151l1-2 6 0 7 0 2 2-9 1-7-1zM1501 2151l11 0-5 3-6-3zM1402 2156l6 0-6 0zM1356 2161l4-5 26 3 2 2-2 3-13-1-6 3 6 2 19 0 5 3 3 5-3 5 9 5-7 5 25 6 13 1 3 3-10 4-10-4-2-4-3 4 6 10-3 3-20 3-3-1 6-5-3-2-12-3 9-5 0-5-10-10-6-4-6 5-13 2-6 5-7 1-19-7-2-2 2-5-6-3-13 2-13-2-6 1-2-3 2-1 6-2 6 0 26-10 13 1 15-3zM1328 2169l-4 2 17 10 6 2 7-2 10-5 1-5-5-2-32 0zM1522 2161l4-1 14 1-18 0zM1243 2166l15-2 4 2-4 2-7 0-8-2zM1410 2166l8-2 2 2-2 3-8-3zM1586 2166l13 0-9 2-4-2zM1177 2171l6 0-2 2-4-2zM1485 2171l3-2 13 2-7 1-5 4 18 10-6 3-7-2-6-5-13 0 0-3 10-8zM1502 2171l5 0-5 0zM1256 2176l8-1 4 1-4 5-6-3-2-2zM1421 2176l3-4 6 0 7 2 6 5 7-1 5 3-12 4-6 5-7-1-17-8 8-5zM1243 2181l3 0-3 0zM1280 2181l3-2 6 2-6 2-3-2zM1123 2186l1 0-1 0zM1161 2186l2 0-2 0zM1217 2191l2-1 9 1-9 1-2-1zM1242 2191l4 0 12 6 19-3 8 2-15 6-12 1-7 4-6 1-13-3-8 1 0-5 2-1 12 1 6-5-2-5zM1532 2191l7 0 13-2 24 2-30 2-7 5-16-2 9-5zM1301 2196l14-2 19 7-12 7-13-1-5-1 5-4 10-1-10-1-8-4zM1448 2196l8-4 6 0 7 3 6 1 7-2 6 2 0 5-5 5-1 3-7 3-25-5-2-1 3-5-3-5zM1360 2206l10 0-10 0zM1556 2206l2-2 7 2-7 2-2-2zM1335 2211l6-4 13 0 3 4-14 5 4 3 7 1 6-1 26 0 2 2-9 1-6 5-13 1-6 2-6 6 12 8 13-3 13 2 5 3-5 4-7-1-13 3-12-2 1 6-1 4-4-4-8-5 5-2 4-3-23-5 0-5 6-5-6-4-13 0-4-1 4-6 13 1-3-5 10-5zM1491 2211l10-5 6 0 3 5-3 2-6 0-10-2zM1574 2211l4 0-4 0zM1279 2216l4-3 19 0 12 3-5 2-13-1-6 2-7 1-4-4zM1456 2216l13 0-8 5-18 1-10-1 17-2 6-3zM1225 2221l20-4 5 4-5 2-20-2zM1267 2226l3-2 13 1 7-2 6 1 5 2-3 5 11 1 9 4 1 5-10 2-7-4-6-1-6 3-7 0-6-3-10-2 3-4 13 1 11-2-11-5-13 4-3-4zM1464 2226l5-3 6-1 3 4-3 2-11-2zM1505 2226l9-2 5 2-5 1-9-1zM1221 2231l11-2 13 2-13 2-11-2zM1404 2231l20 2 6 5 8-2 0-5 5-1 13 5 19-3 7-4 12 2 7 6-2 5-5 1-12-4-20 0-6 2-3 6 3 2 13 1 13 5 12 0 2 2-27 4-7-4-23-5 2-5-4-2-13-2-26 0-5-1 8-5 3-5zM1212 2236l2 0-2 0zM1362 2236l12 0-1 4-7-1-4-3zM1621 2241l6 0-6 0zM1206 2246l7-2 2 2-9 0zM1504 2246l16-5 13 3 1 2-27 1-3-1zM1187 2251l7-1 2 1-9 0zM1237 2251l22 0-22 0zM1264 2251l6-2 5 2-5 3-6-3zM1418 2251l6-2 9 2-2 5 14 5 2 5 3 2 10 3-4 3-6 1-13-7-7 0-11 3 18 7 12 3-13 5 14 3 12-6 7 3 8 0-5 5 1 5 2 1 7 1 12-7 7 5-13 6-19 1-13 4-2-1 2-5 5-5-5-3-12 8 2 10 35 5-6 1-13 0-19 5-4-1 4-1 3-4-3-5-13-4-12 0-7-7-6-2-1 3-6 2-12 0-12 3-8 10-18 5 2 5 4 2 6 2 5-4 8-3 13 0 11 3-5 5-6 1-7-2-6 2-13-1-13 3-6-4-7-7-8-2 21-1 2-4 9-5 4-5 1-5-3-4-16 4 3 5-6 2-7-1-6-3-13 1-2 1 7 5-5 1-6 5-7 3-6-4-13-4 0-2 19-11 7-1 13 0 5-2-9-5-3-4-13-1 1-5-13 1-20-3-6-4-6-2-4-7 4-1 12 4 4-3 3-11 13 0 6 5 8 1-1 5 19 5 6-2 2-3 4-2 13-3 7 0 1 5-8 4-13-1-6 2-6 0-7 3-1 2 2 5 6 3 19-2 13 2 6 0 6-8 23-5-10-1-7-4 7-4 7-1 17 10-1 5 3 5 8-5-6-5 0-5-4-5-8-5 16-2 7-3zM1302 2310l-1 1 1 1 4-1-4-1zM1290 2274l-3 2 3 3 2-3-2-2zM1296 2265l-2 1 2 1 5-1-5-1zM1354 2289l-6 2 6 1 5-1-5-2zM1366 2290l-2 1 9 1 7 4 12 2 19-3 7 0 12 3 8-2-8-8-6 2-38 0-7-1-13 1zM1379 2278l-3 3 3 3 6-3-6-3zM1376 2256l10-3 2 3-2 2-7 0-3-2zM1504 2261l3-2 4 2-4 3-3-3zM1526 2261l9 0-9 0zM1473 2266l2-2 5 2-5 1-2-1zM1200 2271l13-4 6 1 13-1 4 4-10 6-13 0-6-1-7-5zM1483 2271l6 0 0 5-7 2-10-2 11-5zM1336 2276l5-4 6 0 2 4-8 4-5-4zM1536 2276l3-1 8 1-8 1-3-1zM1229 2281l3-2 12 2-1 5 8 1 7 3 5 1-18 3-13-7-6 0-13 3-7-3 0-2 7-3 13 2 3-3zM1577 2281l1-2 6 2-7 0zM1273 2286l4-2 15 7-2 2-7 0-13 6-5-3 1-5 4-1 3-4zM1538 2286l7 0-7 0zM1175 2291l12-2 4 2-4 1-12-1zM1196 2296l10-4 7 0 5 4-18 4-4-4zM1179 2301l5 0-5 0zM1231 2301l4 0-3 6-6 1-7-2 12-5zM1504 2306l5 0-2 2-3-2zM1525 2306l1-2 20-2 9 4-16 4-13 9-1 2 1 1 16 4-9 1-13-3-4-3 3-5-8-5 9-1 5-4zM1212 2311l1 0-3 5-6 5 4 5-2 2-12 2-3-4 4-5 11-9 6-1zM1375 2311l4-3 19 0 9 3 5 5-1 1-19 0-6 1-11-7zM1482 2311l6-2 10 2-10 2-6-2zM1183 2316l4-3 2 3-6 0zM1224 2316l14-3 6 3-6 5-14-5zM1595 2316l3 0-1 1-2-1zM1423 2321l7-2 5 2-5 2-7-2zM1224 2326l8-3 2 3-2 1-8-1zM1274 2326l3-3 15 3-7 5-15 3-4-3 8-5zM1450 2326l6-2 8 2-2 4-12 2-4-1 4-5zM1505 2326l4 0-2 5-6 3-6-3 10-5zM1572 2326l6-1 6 1-6 3-6-3zM1209 2331l4-2 6 0 3 2-9 2-4-2zM1325 2331l4 0-4 0zM1401 2331l4-3 6 0 7 2 1 1 1 5 11 5-7 2-6-5-13 2-7-2-3-2 6-5zM1463 2331l6-2 13-1 6 3-13 2-12-2zM1646 2331l6 0-6 0zM1198 2336l2-2 6 0 2 2-10 0zM1307 2336l5 0-5 0zM1231 2341l7-2 7 0 2 7-9 1-7-6zM1267 2341l3-2 21 2-21 2-3-2zM1346 2341l8-4 12 3 32 2 7 6 13 5 12 0 7 3 11 0-5 2-2 3 2 2 4-2 3-3 12-2-4-5 11-5-9-5 28-1 6-1 8 2 5 5-6 0-7 5-12-3-4 3 4 3 12-3 7 5 6 1 17-1-3 5 12 6 6-5 7-1 6 2 4 3-4 3-10 2 29 5 3 5-1 5 5 3 6 0 5-3-1-5-3-5 5-4 20-1 6 5-6 3-18 2 11 2 13 0 13 3-7 5-24 0 5 1 19-1 10 5-10 6-6-1-6-3-7-1-5 4 5 4 5 1-2 5 5 5 18 7 6-1 2 4-8 1-9-1-4-3-12-2-3-5-4-2-13 4-6 0-7 7-7 6-1 5-5 1-6-1-6-3-6 3-7 1-6-1-3-5-10-3-13 7-26-2-2 3-16 5-1 2-9-2 1-5-5-3-19 4-6-2-13 1 6 6 7 2 12 2 7 4 6 1 13-4 19 1 6-2 0-5 7-3 6 0 7 5 6 0 3 3 0 5-3 1-13-3-4 2 2 5 14 5-5 5 6 4 7 2 6-2 7 1-6 5 2 5-16 0-6-8-11-2 3-5-5-2-13 4-6-4-13-2-13-4-13-5-6-5-6-1-13 1-10 3 0 5 10 2 6 3-6 3-26-3-6 5 1 5 16 5 2 5 13 5 13-1 19-9-7-5-6 0-13 5-11-5 11-5 13 3 6-3 7 3 13 3 13-1-7 1-2 4-4 2-7 0-4 3 3 5-5 5 5 5-12 2-12 0-13-4-7-5-6-1-13 4-13-6-6 0-6 0-20 11-19 0-3-1 3-3 13 1 3-3-1-5 4-2 7-1 13 2 1-4-8-4-21-1 8-3 1-2 6-2 15-3-2-3-7-2-6 3-13 0-16-8-3-5 6-2 7-6 6-1 4 4-10 5 6 1 13 0 13 4 6-1 7-4 6-2 6 4 7 0 4-2 3-5-14-5-6-5-14 0-6 5 9 5-8 1-7-1-6-6-7-2-12 1-17-3-5 10-10 1-13 7-1 2 7 3 7 0 12-5 5 2-2 5-15 3-7 0-19-4-13 3-6 0-5-2 5-5 6 1 2-1 2-5 15-1 7-2 2-2 4-10 10-5-3-2-13 0-13 8-19 1-45-9-32-2-13-2-13 0-19-4-6-4-13 2 0-5 13-2 6-5 13-5 3-1-1-5 13-5-9-1-6 2-19 0-8-1 8-5 6 4 7-1 3-3-6-5-2-5 5-3 6-1 26 0 2-1 4-5 7 5 6 2 19-1 13-6-4-10 10-2 13-4 4 1-11 10 7 9 6 1 2-5-1-5 19-6 6-1 2 2-4 5 2 1 13 1 6-3 7-1 12 3 7-2 6 2 5 4 8 1 12-6-12-4-1-6-10-5 24-2 5-3zM1392 2355l-3 1 3 1 6-1-6-1zM1411 2360l-3 1 3 1 9-1-9-1zM1482 2359l-2 2 2 0 9 0-9-2zM1546 2424l-5 2 5 3 6 1 10-4-10-2-6 0zM1584 2406l6 1 6-1-6-2-6 2zM1258 2429l-2 2 2 1 9-1-3-4-6 2zM1267 2351l3-2 3 2-3 2-3-2zM1308 2351l1-2 1 2-2 0zM1563 2351l8 0-8 0zM1132 2356l5 0-5 0zM1122 2366l14 0-6 2-8-2zM1136 2366l13-1 10 1-17 3-6-3zM1685 2366l4 0-4 0zM1104 2371l0-2 5 2-5 2 0-2zM1626 2371l9-2 13 2-6 3-7-1-9-2zM1692 2386l1 0-1 0zM1652 2401l9-2 9 2-9 2-9-2zM1676 2406l4-2 13 2-13 1-4-1zM1635 2411l1 0-1 0zM1640 2416l2-2 6 2 1 5-7 2-5-2 3-5zM1684 2416l9-1 0 2-9-1zM1692 2426l1-1 0 1-1 0zM1117 2431l6-2 9 2-2 2-13-2zM1147 2436l2-1 7 1-9 0zM1436 2441l4 0-4 0zM1510 2441l8 0-4 2-4-2zM1104 2451l0-2 3 2-3 0zM1536 2451l10-1 7 1-14 6-5-1 2-5zM1511 2456l3-4 6 0 6 4-6 5-9-5zM1264 2471l13-1 22 6-21 5-1 2-6-2 4-5-11-5zM1251 2476l7-2 5 2-12 0zM1308 2476l5 0-5 0zM1499 2486l2-3 3 8-8 0 3-5zM1358 2496l6 0-4 2-2-2zM1385 2496l1-1 7 1-8 0zM1462 2496l7-2 7 2-7 1-7-1zM1301 2506l1-1 7 3 11 3-5 2-11-2-3-5zM1349 2506l11-4 3 4-9 3-7 6-18-4 5-3 13 0 2-2zM1391 2506l20-5 3 5 0 5-16 3-7-3 0-5zM1481 2506l7 4 8 1-14 1-7-1 6-5zM1273 2511l4-1 14 1-14 1-4-1zM1258 2521l13 0-7 2-6-2zM1342 2521l5-4 3 4-8 0zM1323 2526l5-2 7 2-7 1-5-1zM1392 2526l6-2 5 2-5 3-6-3zM1371 2536l6 0-6 0zM1104 2541l9 0-9 0zM1536 2561l6 0-6 0zM1611 2566l7 0-7 0zM1190 2571l10-2 4 2-14 0zM1218 2581l3 0-3 0z"/>
<path fill="#1838ff" fill-rule="evenodd" stroke="#0080ff" stroke-width="2.60" d="M1365 1606l6 0-6 0zM1395 1641l10-3 6 0 3 3-3 2-6 0-10-2zM1400 1651l5-2 6 1 1 1-7 1-5-1zM1390 1656l2-2 4 2 4 5 11 3 7 5 24 2-12 3-44-8 7-5-3-5zM1378 1661l2 0-2 0zM1374 1676l24-4 13 7 7 0 2 2-1 5-6 5 5 1 4 4-4 1-7 0-6-4-7-1-2-1 2-3 7 0 3-2-16-1-13-4-5-5zM1467 1686l2-2 7 2-9 0zM1359 1701l2 0-2 0zM1383 1701l3-2 5 2-8 0zM1461 1706l4 0-4 0zM1302 1731l9 0-2 1-7-1zM1325 1741l6 0-6 0zM1361 1761l13 0-13 0zM1346 1806l3 0-3 0zM1386 1816l8 0-8 0zM1423 1816l2 0-2 0zM1325 1821l9-2 5 2-11 1-3-1zM1455 1841l5 0-5 0zM1377 1846l5 0-2 5-3-5zM1423 1876l5 0-5 0zM1394 1881l4-1 4 1-4 1-4-1zM1258 1891l6-2 3 2-3 1-6-1zM1306 1891l11 0-11 0zM1333 1891l3 0-2 1-1-1zM1357 1891l6 0-6 0zM1337 1896l4-3 15 8-2 2-7 0-10-7zM1418 1896l12-3 10 3-16 2-6-2zM1473 1896l8 0-6 2-2-2zM1296 1906l6-1 4 1-4 1-6-1zM1263 1921l9 0-9 0zM1341 1921l6-2 6 2-12 5 3 5-3 1-7-1 6-5 1-5zM1378 1921l8-2 2 2-10 0zM1497 1921l5 0-5 0zM1394 1931l11-2 16 7-3 2-7 1-17-8zM1314 1936l3 0-3 0zM1356 1936l4-3 7 3-11 0zM1461 1936l8-1 7 1-14 6-1-6zM1262 1941l2 0-2 0zM1302 1941l7-2 1 2-1 1-7-1zM1446 1946l10-1 4 1-10 1-4-1zM1359 1956l2 0-1 5-1 0 0-5zM1386 1956l19-1 3 1-3 1-19-1zM1319 1961l20 5-5 1-14-1-1-5zM1429 1961l2 0-2 0zM1295 1966l3 0-3 0zM1371 1971l8-2 3 2-3 2-8-2zM1329 1981l5-1 9 1-2 2-12-2zM1407 1981l13 0-9 1-4-1zM1434 1981l12 0-3 2-9-2zM1449 1986l1 0-1 0zM1423 1996l8 0-7 2-1-2zM1398 2001l10 0-10 0zM1243 2006l15-4 1 4-8 5-6 1-3-1 1-5zM1292 2006l10-2 6 2-6 2-6 0-4-2zM1461 2011l8-2 8 2-8 1-8-1zM1302 2016l13 0 7 4 12 1-19 2-6-1-6-1-1-5zM1393 2016l15 0-10 1-5-1zM1274 2021l3-4 21 4-15 2-9-2zM1336 2021l18-3 9 3-3 2-24-2zM1442 2021l1-2 6 2-7 0zM1430 2031l7-2 7 2-7 2-7-2zM1338 2036l9-2 2 2-2 2-6 1-3-3zM1423 2036l7 0 7 4 5 1-5 3-7-1-7-7zM1456 2036l6-4 10 4-10 1-6-1zM1449 2041l7-5 2 5 17 5-13 2-6-2-7-5zM1369 2051l4-2 6 2-2 5 19 5-4 2-6 1-20-2-6-6 9-5zM1416 2051l2-1 1 1-3 0zM1331 2061l10-2 2 2-2 3-7-1-3-2zM1454 2061l4 0-4 0zM1344 2066l10-2 7 2-7 1-10-1zM1393 2071l12-3 28 3-3 1-12-1-13 3-12-3zM1310 2076l5-1 8 1-8 1-5-1zM1336 2076l5-2 6 0 4 2 4 5-8 0-11-5zM1370 2081l5 0-2 1-3-1zM1493 2086l8-1 8 1-2 2-6 0-8-2zM1272 2091l5-2 3 2-8 0zM1321 2091l7-3 15 3-2 4-7-1-12 4-11-2 10-5zM1435 2091l9 0-9 0zM1460 2101l5 0-5 0zM1284 2106l14 0-2 1-12-1zM1243 2111l15-3 6 3-13 1-8-1zM1337 2111l4-1 4 1-4 2-4-2zM1365 2111l2 0-2 0zM1426 2111l4-2 15 2-2 2-6 3-7-2-4-3zM1382 2116l11 0-11 0zM1249 2121l4 0-2 1-2-1zM1279 2121l4-2 7 2 0 2-7 1-4-3zM1417 2121l7-2 3 2-10 0zM1474 2121l2 0-2 0zM1351 2126l9-2 3 2-3 2-6-1-3-1zM1451 2131l5-2 13 2-13 5-5-5zM1321 2136l7-3 6 0 8 3-14 2-7-2zM1284 2146l6-3 19 3-7 5-6-3-6 0-6-2zM1466 2146l12 0-12 0zM1269 2151l8-2 4 2-4 1-8-1zM1364 2161l15-2 5 2-5 1-15-1zM1431 2161l6-4 17 4-17 1-6-1zM1248 2166l11 0-11 0zM1328 2166l2 0-2 0zM1344 2166l16-4 3 4-9 1-10-1zM1462 2166l0 2 0-2zM1314 2171l5 0 8 5-26 0 8-1 5-4zM1369 2171l4-1 12 1-12 3-4-3zM1387 2176l5-4 3 4-2 5 8 5-3 2-6 0-5-7 0-5zM1358 2181l8-4 8 4-8 3-6 1-2-4zM1417 2181l3 0-3 0zM1331 2186l3-4 25 4-12 6-16-6zM1497 2186l4-2 2 2-2 1-4-1zM1549 2191l7 0-7 0zM1307 2196l9 0-9 0zM1453 2196l3-2 9 2-3 4-6 3-3-7zM1403 2201l2-3 1 3-3 0zM1427 2201l3-2 6 2-6 1-3-1zM1312 2206l6 0-6 0zM1392 2206l1 0-1 0zM1460 2206l2-3 7 0 6 3-6 2-9-2zM1342 2211l5-1 4 1-9 0zM1407 2211l4-4 5 4-5 1-4-1zM1496 2211l5-2 6 2-6 1-5-1zM1282 2216l8-1 4 1-4 1-7 0-1-1zM1237 2221l8 0-8 0zM1366 2221l6 5-18 0-13 8-4-8 4-5 13 4 12-4zM1315 2226l7-2 3 2-10 0zM1228 2231l6 0-6 0zM1487 2231l2 0 7 5-2 2-12-2-13 1-6-1 12-2 7 2 5-5zM1302 2236l7-2 5 2-5 4-7-4zM1412 2236l6-2 6 2-6 5-4 0-2-5zM1334 2241l7-4 9 4-3 1-13-1zM1436 2241l7-2 7 2 0 1-7 0-7-1zM1367 2246l20 0-1 1-19-1zM1422 2251l5 0-3 3-2-3zM1446 2251l4-3 19 3 0 1-7 1-16-2zM1402 2256l11 0 11 6 6 0 4 4-16 1-4-1-3-5-9-5zM1487 2256l2 0-2 0zM1281 2261l4 0-1 5 6 4 19 0 2 1 1 5-3 3-7 0-6-2-6-6-7 0-2-10zM1335 2266l12-2 3 2-3 1-6 1-6-2zM1377 2266l9-2 4 2-11 1-2-1zM1274 2276l3-2 3 2-6 0zM1340 2276l3 0-3 0zM1419 2276l7 0-2 2-5-2zM1477 2276l5-3 3 3-8 0zM1391 2281l1-3 3 3 10 3 6 0 6-3 1-4 1 4 6 5-33 1-6-1 5-5zM1434 2281l7 0-4 1-3-1zM1210 2286l3-2 8 2-8 2-3-2zM1326 2286l15 2 6 6 8 2-21 1-12-6 4-5zM1346 2286l3 0-3 0zM1369 2286l4-1 1 1-5 0zM1242 2291l3-2 7 2-7 1-3-1zM1441 2291l3 0 2 5-3 2-2-2 0-5zM1458 2291l4-3 4 3-4 1-4-1zM1204 2296l7 0-7 0zM1270 2296l1 0-1 0zM1372 2296l17 5-10 1-10-1 3-5zM1305 2301l4-2 17 2-11 2-13 6-6 0-1-3 1-2 9-3zM1421 2301l16-2 3 2-3 3-13 0-3-3zM1340 2306l1 0-1 0zM1530 2306l16-2 6 2-19 3-3-3zM1286 2311l4-2 4 2-4 2-4-2zM1384 2311l13 0-5 2-6-1-2-1zM1301 2316l3 0-3 0zM1449 2316l7-2 5 2-5 1-7-1zM1279 2326l8 0-4 2-4-2zM1370 2326l9-1 4 1-10 3-3-3zM1455 2326l3 0-3 0zM1269 2331l8-1 1 1-9 0zM1408 2331l5 0 0 5-9 0 4-5zM1469 2331l12 0-12 0zM1282 2341l2 0-2 0zM1350 2341l4-2 7 2 3 5 9 1 19-3 6 2 13 7 19 5 7 3 6 9 7 0 9-4-6-5 9-2 7 1 6 4 13 0 6 5 13 0 7 4 32 9 12 7 9 2-3 5-9 5-2 5 7 10 9 5-4 2-7-2-19 1-6-4-7-1-6 2-6 4-14 3 4 5-3 1-16-1-17-5-5 5 6 5-13 3-6-6-5-2-2-6-7 6-6 2-6 0-6-4-7 3-13 1-4 8-2 0-6-1-7-5-6-1-26 1-25-3-13 0-45-10-19 3-13-6-11 2-15 5-32 1-6-1-3-5-3-3-13-2-7 5-6 0-6-1-7-4 7-4 19 4 6-3 3-2-3-1-16-4 8-5 0-5 14-5-2-5 6-5-2-5 5-2 26 1 6 3 13 1 2-3-9-5 13-4 13 7 6 0 8-3-2-10 7-1 3 1 4 4 25 2 7-4 38 7 6-3 9-6-12-5 3-5 8 0 1-5 4-2 3-3zM1360 2354l-5 2 5 2 13 1 6-3-19-2zM1386 2355l-7 1 13 3 6-1 4 3-4 3-7 2 1 1 6 1 13-4 13 2 0-9-19 1-7-5-12 2zM1482 2376l9 0-3-4-6 4zM1539 2416l7 1 10-1-10-3-7 3zM1155 2401l7 0-7 0zM1168 2384l-6 7 15 0-3-8-6 1zM1181 2379l-2 2 2 0 9 0-3-2-6 0zM1194 2415l-3 1 15 3 7-1 1-2-8-2-12 1zM1219 2401l7 1 2-1-9 0zM1258 2369l-1 2 1 0 0-2zM1328 2425l-3 1 3 2 2-2-2-1zM1366 2364l-4 2 13 0-2-2-7 0zM1464 2351l5-2 3 2-3 2-5-2zM1486 2356l8 0-8 0zM1216 2361l3-2 0 4-3-2zM1497 2361l4-2 14 2-8 2-6 0-4-2zM1543 2366l3-1 2 1-2 1-3-1zM1104 2371l0-1 3 1-3 1 0-1zM1633 2371l9 0-9 0zM1136 2376l6 2 6 8-8 0-6-5 2-5zM1590 2376l13-3 7 1 2 2-15 2-7-2zM1564 2381l2 0-2 0zM1596 2386l9 0-9 0zM1580 2396l10-3 7 3-13 3-7 7-6 1-11-1 20-10zM1659 2401l4 0-4 0zM1581 2411l3-2 13 2-13 3-3-3zM1518 2426l2-3 6 1 15 7-8 3-7-6-8-2zM1628 2426l2 0-2 0zM1218 2431l8-2 2 2-10 0zM1240 2431l5-3 3 3-3 1-5-1zM1285 2441l5-3 5 3-5 2-5-2zM1452 2451l4-2 6 0 5 2 8 8 13-1 11 3-17 3-26-4-14-4 10-5zM1257 2456l7-4 6 0 4 4-4 3-13-3zM1319 2456l3-2 12 0 7 0 7 2-7 5-7 2-6-1-9-6zM1518 2456l3 0-3 0zM1247 2461l4-1 3 1-7 0zM1276 2461l10 0-10 0zM1355 2461l5-3 6 0 4 8-1 5 4 3 13 3 2 4-2 3-7 0-6-7-7 0-6 3-4-4-9-1-5-4 17-5-4-5zM1392 2461l6-2 10 2-3 1-13-1zM1407 2471l4-2 9 2-9 2-4-2zM1281 2476l2-2 10 2-3 1-9-1zM1507 2476l7-2 2 2-2 1-7-1zM1430 2481l7 3 2 2-2 1-7 2-6-1-6 6-7 0-8-3 2-2 13-1 12-7zM1335 2486l6-1 4 1-4 4-6-4zM1388 2486l4-1 5 1-9 0zM1423 2496l7-2 6 2-13 0zM1400 2506l5-2 7 2-3 5-11 1-3-1 5-5zM1333 2511l11 0-3 1-8-1z"/>
<path fill="#a8ecf4" fill-rule="evenodd" stroke="#10e8f0" stroke-width="2.60" d="M1404 1641l2 0-2 0zM1428 1671l5 0-5 0zM1384 1676l14-2 7 5 8 2-21 2-9-2 1-5zM1411 1696l7-2 1 2-8 0zM1347 1901l2 0-2 0zM1409 1936l2-1 7 1-9 0zM1328 1966l2 0-2 0zM1248 2006l6 0-3 2-3-2zM1283 2021l1 0-1 0zM1350 2021l8 0-8 0zM1436 2031l2 0-2 0zM1461 2046l5 0-5 0zM1364 2056l9-4 1 4 5 3 13 2-6 1-13-1-9-5zM1400 2071l5-1 9 1-9 1-5-1zM1340 2076l4 0-4 0zM1499 2086l5 0-5 0zM1328 2091l7 0-7 0zM1317 2096l5-1 1 1-6 0zM1331 2136l4 0-4 0zM1288 2146l6 0-6 0zM1435 2161l2-1 9 1-11 0zM1363 2181l3-1 3 1-3 1-3-1zM1467 2206l3 0-3 0zM1340 2241l2 0-2 0zM1298 2276l4-3 7 3-7 2-4-2zM1299 2306l3-1 2 1-5 0zM1348 2351l6-3 15 3-9 1-11 4 5 3 8 2-8 5 6 3 13 1 6 4 19 0 4-3 9-3 7 5 12-1 20 4 6-3 6 2 1 1-3 5 2 0 13-1 19 0 7-2 25 1 4 2-3 5 1 5 5 3 14 7-9 5-1 5-4 2-19 0-10 3 6 5-3 1-6 1-19-1-7-1-6-3-13 0-13-3-13 10-12-7-20 7-12-1-13 2 12 5-6 2-31-2-4-5-16-4-13 2-5-3-14-4-19 4-13-3-13-5-19-3-4-4 7-5-3-2-13-1-5-2-1-3-14-2 7-6 13-2 7-6 12 4 3-5 10-4 13 2 6 3 13-3 13 0 13 3 6-5 7 1 1 3 5 1 6 0 6-1-2-5 2-5 6-5-5-4-4-1 11-5zM1354 2381l8 0-8 0zM1405 2380l-4 1 4-1zM1482 2414l-7 2 7 2 6-1 0-3-6 0zM1494 2410l-5 1 5 1 2-1-2-1zM1507 2406l3 0-3 0zM1514 2400l-2 1 2 4 6 0 7-4-7-2-6 1zM1219 2391l8 0-1-2-7 2zM1238 2381l-6 5 13 1 8-1-15-5zM1354 2421l11 0-11 0zM1386 2351l6-3 6 3-12 0zM1392 2361l1 0-1 0zM1596 2376l11 0-11 0zM1155 2396l7-1 16 1-10 2-13-2zM1198 2401l7 0-5 3-2-3zM1160 2406l14-3 20 1 6 3 19 2 9 7-41-6-6 3-7 0-14-7zM1173 2421l8-3 18 3-18 3-7-1-1-2zM1295 2426l2 0-2 0zM1385 2436l1-4 3 4-4 0zM1457 2436l5-2 3 2-8 0zM1261 2456l3-2 7 2-10 0zM1335 2456l7 0-7 0zM1447 2456l9-4 6 4-6 2-9-2zM1480 2461l5 0-5 0zM1345 2471l15-2 4 2-4 2-6 0-9-2zM1428 2486l4 0-4 0zM1406 2491l5-2 5 2-5 1-5-1z"/>
<path fill="#b4fa98" fill-rule="evenodd" stroke="#80ff80" stroke-width="2.60" d="M1378 2061l8 0-8 0zM1301 2276l1-1 3 1-4 0zM1250 2376l8 0-8 0zM1287 2381l8 0 7 6 7 1 2-2-1-5 5-2 7-1 6 2 13-2 6 1 13 10 6-1 13-8 4 1 15 7 13 0 7-3 6 1 6-1 13 1 7-2 6-1 19 3 7 0 4 5-17 2-7-3-6 1-3 5-6 5 21 10-6 4-25-5-13 3-26 0-6 8-6 1-13-1-2-5-11-2-19 7-7-3-15-2 1-5-5-4-10 4-3 3-12-1-7-3-13-2-5-2-3-5-4-2-13 0-11-3 7-5 17-2 12 0 13-4 4-4zM1392 2411l2 0-2 0zM1411 2395l3 1-3-1zM1424 2406l2 0-2 0zM1354 2405l-6 1 6 1 5-1-5-1zM1513 2396l2 0-2 0zM1241 2406l4-1 1 1-5 0zM1352 2426l8-3 6 2 2 6-8-1-8-4zM1353 2471l1 0-1 0z"/>
<path fill="#e0fa80" fill-rule="evenodd" stroke="#f0f000" stroke-width="2.60" d="M1339 2381l3 0-1 2-2-2zM1328 2386l7 0-7 0zM1377 2391l4 0-4 0zM1316 2396l12-3 10 3-1 5-15-2-13 6-2-4 2-3 6 0 1-2zM1430 2396l7-3 6 1 1 2-7 2-7-2zM1378 2401l8-3 12-1 17 4-10 5-13 2-14-7zM1301 2406l6 0-6 0z"/>
<path fill="#ffd890" fill-rule="evenodd" stroke="#ff8000" stroke-width="2.60" d="M1392 2406l1 0-1 0z"/>
</g></g>
<ellipse cx="700" cy="811.4" rx="21.0" ry="13.0" fill="#00008a"/>
<ellipse cx="700" cy="811.4" rx="18.9" ry="11.7" fill="#0a28f0"/>
<ellipse cx="700" cy="811.4" rx="16.8" ry="10.4" fill="#20a0ff"/>
<ellipse cx="700" cy="811.4" rx="15.1" ry="9.4" fill="#60e8b0"/>
<ellipse cx="700" cy="811.4" rx="13.4" ry="8.3" fill="#70f050"/>
<ellipse cx="700" cy="811.4" rx="10.5" ry="6.5" fill="#c8f820"/>
<ellipse cx="700" cy="811.4" rx="8.8" ry="5.5" fill="#f8e000"/>
<ellipse cx="700" cy="811.4" rx="6.7" ry="4.2" fill="#ff8000"/>
<ellipse cx="700" cy="811.4" rx="4.2" ry="2.6" fill="#d81000"/>
<line x1="835.3" y1="1237" x2="835.3" y2="1301" stroke="#1010e0" stroke-width="1.5"/>
<rect x="146.4" y="80.8" width="287.5" height="539.8" fill="none" stroke="#000" stroke-width="1.8"/>
<rect x="555.0" y="81.4" width="288.4" height="539.2" fill="none" stroke="#000" stroke-width="1.8"/>
<rect x="146.3" y="762.2" width="287.6" height="539.6" fill="none" stroke="#000" stroke-width="1.8"/>
<rect x="555.2" y="760.4" width="288.2" height="541.4" fill="none" stroke="#000" stroke-width="1.8"/>
<line x1="146.4" y1="80.8" x2="151.4" y2="80.8" stroke="#000" stroke-width="1.3"/>
<line x1="433.9" y1="80.8" x2="428.9" y2="80.8" stroke="#000" stroke-width="1.3"/>
<line x1="146.4" y1="114.5" x2="150.4" y2="114.5" stroke="#000" stroke-width="1.3"/>
<line x1="433.9" y1="114.5" x2="429.9" y2="114.5" stroke="#000" stroke-width="1.3"/>
<line x1="146.4" y1="148.2" x2="151.4" y2="148.2" stroke="#000" stroke-width="1.3"/>
<line x1="433.9" y1="148.2" x2="428.9" y2="148.2" stroke="#000" stroke-width="1.3"/>
<line x1="146.4" y1="182.0" x2="150.4" y2="182.0" stroke="#000" stroke-width="1.3"/>
<line x1="433.9" y1="182.0" x2="429.9" y2="182.0" stroke="#000" stroke-width="1.3"/>
<line x1="146.4" y1="215.7" x2="151.4" y2="215.7" stroke="#000" stroke-width="1.3"/>
<line x1="433.9" y1="215.7" x2="428.9" y2="215.7" stroke="#000" stroke-width="1.3"/>
<line x1="146.4" y1="249.4" x2="150.4" y2="249.4" stroke="#000" stroke-width="1.3"/>
<line x1="433.9" y1="249.4" x2="429.9" y2="249.4" stroke="#000" stroke-width="1.3"/>
<line x1="146.4" y1="283.1" x2="151.4" y2="283.1" stroke="#000" stroke-width="1.3"/>
<line x1="433.9" y1="283.1" x2="428.9" y2="283.1" stroke="#000" stroke-width="1.3"/>
<line x1="146.4" y1="316.9" x2="150.4" y2="316.9" stroke="#000" stroke-width="1.3"/>
<line x1="433.9" y1="316.9" x2="429.9" y2="316.9" stroke="#000" stroke-width="1.3"/>
<line x1="146.4" y1="350.6" x2="151.4" y2="350.6" stroke="#000" stroke-width="1.3"/>
<line x1="433.9" y1="350.6" x2="428.9" y2="350.6" stroke="#000" stroke-width="1.3"/>
<line x1="146.4" y1="384.3" x2="150.4" y2="384.3" stroke="#000" stroke-width="1.3"/>
<line x1="433.9" y1="384.3" x2="429.9" y2="384.3" stroke="#000" stroke-width="1.3"/>
<line x1="146.4" y1="418.1" x2="151.4" y2="418.1" stroke="#000" stroke-width="1.3"/>
<line x1="433.9" y1="418.1" x2="428.9" y2="418.1" stroke="#000" stroke-width="1.3"/>
<line x1="146.4" y1="451.8" x2="150.4" y2="451.8" stroke="#000" stroke-width="1.3"/>
<line x1="433.9" y1="451.8" x2="429.9" y2="451.8" stroke="#000" stroke-width="1.3"/>
<line x1="146.4" y1="485.5" x2="151.4" y2="485.5" stroke="#000" stroke-width="1.3"/>
<line x1="433.9" y1="485.5" x2="428.9" y2="485.5" stroke="#000" stroke-width="1.3"/>
<line x1="146.4" y1="519.2" x2="150.4" y2="519.2" stroke="#000" stroke-width="1.3"/>
<line x1="433.9" y1="519.2" x2="429.9" y2="519.2" stroke="#000" stroke-width="1.3"/>
<line x1="146.4" y1="553.0" x2="151.4" y2="553.0" stroke="#000" stroke-width="1.3"/>
<line x1="433.9" y1="553.0" x2="428.9" y2="553.0" stroke="#000" stroke-width="1.3"/>
<line x1="146.4" y1="586.7" x2="150.4" y2="586.7" stroke="#000" stroke-width="1.3"/>
<line x1="433.9" y1="586.7" x2="429.9" y2="586.7" stroke="#000" stroke-width="1.3"/>
<line x1="146.4" y1="620.4" x2="151.4" y2="620.4" stroke="#000" stroke-width="1.3"/>
<line x1="433.9" y1="620.4" x2="428.9" y2="620.4" stroke="#000" stroke-width="1.3"/>
<line x1="555.0" y1="81.4" x2="560.0" y2="81.4" stroke="#000" stroke-width="1.3"/>
<line x1="843.4" y1="81.4" x2="838.4" y2="81.4" stroke="#000" stroke-width="1.3"/>
<line x1="555.0" y1="115.1" x2="559.0" y2="115.1" stroke="#000" stroke-width="1.3"/>
<line x1="843.4" y1="115.1" x2="839.4" y2="115.1" stroke="#000" stroke-width="1.3"/>
<line x1="555.0" y1="148.8" x2="560.0" y2="148.8" stroke="#000" stroke-width="1.3"/>
<line x1="843.4" y1="148.8" x2="838.4" y2="148.8" stroke="#000" stroke-width="1.3"/>
<line x1="555.0" y1="182.5" x2="559.0" y2="182.5" stroke="#000" stroke-width="1.3"/>
<line x1="843.4" y1="182.5" x2="839.4" y2="182.5" stroke="#000" stroke-width="1.3"/>
<line x1="555.0" y1="216.2" x2="560.0" y2="216.2" stroke="#000" stroke-width="1.3"/>
<line x1="843.4" y1="216.2" x2="838.4" y2="216.2" stroke="#000" stroke-width="1.3"/>
<line x1="555.0" y1="249.9" x2="559.0" y2="249.9" stroke="#000" stroke-width="1.3"/>
<line x1="843.4" y1="249.9" x2="839.4" y2="249.9" stroke="#000" stroke-width="1.3"/>
<line x1="555.0" y1="283.6" x2="560.0" y2="283.6" stroke="#000" stroke-width="1.3"/>
<line x1="843.4" y1="283.6" x2="838.4" y2="283.6" stroke="#000" stroke-width="1.3"/>
<line x1="555.0" y1="317.3" x2="559.0" y2="317.3" stroke="#000" stroke-width="1.3"/>
<line x1="843.4" y1="317.3" x2="839.4" y2="317.3" stroke="#000" stroke-width="1.3"/>
<line x1="555.0" y1="351.0" x2="560.0" y2="351.0" stroke="#000" stroke-width="1.3"/>
<line x1="843.4" y1="351.0" x2="838.4" y2="351.0" stroke="#000" stroke-width="1.3"/>
<line x1="555.0" y1="384.7" x2="559.0" y2="384.7" stroke="#000" stroke-width="1.3"/>
<line x1="843.4" y1="384.7" x2="839.4" y2="384.7" stroke="#000" stroke-width="1.3"/>
<line x1="555.0" y1="418.4" x2="560.0" y2="418.4" stroke="#000" stroke-width="1.3"/>
<line x1="843.4" y1="418.4" x2="838.4" y2="418.4" stroke="#000" stroke-width="1.3"/>
<line x1="555.0" y1="452.1" x2="559.0" y2="452.1" stroke="#000" stroke-width="1.3"/>
<line x1="843.4" y1="452.1" x2="839.4" y2="452.1" stroke="#000" stroke-width="1.3"/>
<line x1="555.0" y1="485.8" x2="560.0" y2="485.8" stroke="#000" stroke-width="1.3"/>
<line x1="843.4" y1="485.8" x2="838.4" y2="485.8" stroke="#000" stroke-width="1.3"/>
<line x1="555.0" y1="519.5" x2="559.0" y2="519.5" stroke="#000" stroke-width="1.3"/>
<line x1="843.4" y1="519.5" x2="839.4" y2="519.5" stroke="#000" stroke-width="1.3"/>
<line x1="555.0" y1="553.2" x2="560.0" y2="553.2" stroke="#000" stroke-width="1.3"/>
<line x1="843.4" y1="553.2" x2="838.4" y2="553.2" stroke="#000" stroke-width="1.3"/>
<line x1="555.0" y1="586.9" x2="559.0" y2="586.9" stroke="#000" stroke-width="1.3"/>
<line x1="843.4" y1="586.9" x2="839.4" y2="586.9" stroke="#000" stroke-width="1.3"/>
<line x1="555.0" y1="620.6" x2="560.0" y2="620.6" stroke="#000" stroke-width="1.3"/>
<line x1="843.4" y1="620.6" x2="838.4" y2="620.6" stroke="#000" stroke-width="1.3"/>
<line x1="146.3" y1="762.2" x2="151.3" y2="762.2" stroke="#000" stroke-width="1.3"/>
<line x1="433.9" y1="762.2" x2="428.9" y2="762.2" stroke="#000" stroke-width="1.3"/>
<line x1="146.3" y1="795.9" x2="150.3" y2="795.9" stroke="#000" stroke-width="1.3"/>
<line x1="433.9" y1="795.9" x2="429.9" y2="795.9" stroke="#000" stroke-width="1.3"/>
<line x1="146.3" y1="829.7" x2="151.3" y2="829.7" stroke="#000" stroke-width="1.3"/>
<line x1="433.9" y1="829.7" x2="428.9" y2="829.7" stroke="#000" stroke-width="1.3"/>
<line x1="146.3" y1="863.4" x2="150.3" y2="863.4" stroke="#000" stroke-width="1.3"/>
<line x1="433.9" y1="863.4" x2="429.9" y2="863.4" stroke="#000" stroke-width="1.3"/>
<line x1="146.3" y1="897.1" x2="151.3" y2="897.1" stroke="#000" stroke-width="1.3"/>
<line x1="433.9" y1="897.1" x2="428.9" y2="897.1" stroke="#000" stroke-width="1.3"/>
<line x1="146.3" y1="930.8" x2="150.3" y2="930.8" stroke="#000" stroke-width="1.3"/>
<line x1="433.9" y1="930.8" x2="429.9" y2="930.8" stroke="#000" stroke-width="1.3"/>
<line x1="146.3" y1="964.6" x2="151.3" y2="964.6" stroke="#000" stroke-width="1.3"/>
<line x1="433.9" y1="964.6" x2="428.9" y2="964.6" stroke="#000" stroke-width="1.3"/>
<line x1="146.3" y1="998.3" x2="150.3" y2="998.3" stroke="#000" stroke-width="1.3"/>
<line x1="433.9" y1="998.3" x2="429.9" y2="998.3" stroke="#000" stroke-width="1.3"/>
<line x1="146.3" y1="1032.0" x2="151.3" y2="1032.0" stroke="#000" stroke-width="1.3"/>
<line x1="433.9" y1="1032.0" x2="428.9" y2="1032.0" stroke="#000" stroke-width="1.3"/>
<line x1="146.3" y1="1065.7" x2="150.3" y2="1065.7" stroke="#000" stroke-width="1.3"/>
<line x1="433.9" y1="1065.7" x2="429.9" y2="1065.7" stroke="#000" stroke-width="1.3"/>
<line x1="146.3" y1="1099.5" x2="151.3" y2="1099.5" stroke="#000" stroke-width="1.3"/>
<line x1="433.9" y1="1099.5" x2="428.9" y2="1099.5" stroke="#000" stroke-width="1.3"/>
<line x1="146.3" y1="1133.2" x2="150.3" y2="1133.2" stroke="#000" stroke-width="1.3"/>
<line x1="433.9" y1="1133.2" x2="429.9" y2="1133.2" stroke="#000" stroke-width="1.3"/>
<line x1="146.3" y1="1166.9" x2="151.3" y2="1166.9" stroke="#000" stroke-width="1.3"/>
<line x1="433.9" y1="1166.9" x2="428.9" y2="1166.9" stroke="#000" stroke-width="1.3"/>
<line x1="146.3" y1="1200.6" x2="150.3" y2="1200.6" stroke="#000" stroke-width="1.3"/>
<line x1="433.9" y1="1200.6" x2="429.9" y2="1200.6" stroke="#000" stroke-width="1.3"/>
<line x1="146.3" y1="1234.4" x2="151.3" y2="1234.4" stroke="#000" stroke-width="1.3"/>
<line x1="433.9" y1="1234.4" x2="428.9" y2="1234.4" stroke="#000" stroke-width="1.3"/>
<line x1="146.3" y1="1268.1" x2="150.3" y2="1268.1" stroke="#000" stroke-width="1.3"/>
<line x1="433.9" y1="1268.1" x2="429.9" y2="1268.1" stroke="#000" stroke-width="1.3"/>
<line x1="146.3" y1="1301.8" x2="151.3" y2="1301.8" stroke="#000" stroke-width="1.3"/>
<line x1="433.9" y1="1301.8" x2="428.9" y2="1301.8" stroke="#000" stroke-width="1.3"/>
<line x1="555.2" y1="762.4" x2="560.2" y2="762.4" stroke="#000" stroke-width="1.3"/>
<line x1="843.4" y1="762.4" x2="838.4" y2="762.4" stroke="#000" stroke-width="1.3"/>
<line x1="555.2" y1="796.1" x2="559.2" y2="796.1" stroke="#000" stroke-width="1.3"/>
<line x1="843.4" y1="796.1" x2="839.4" y2="796.1" stroke="#000" stroke-width="1.3"/>
<line x1="555.2" y1="829.9" x2="560.2" y2="829.9" stroke="#000" stroke-width="1.3"/>
<line x1="843.4" y1="829.9" x2="838.4" y2="829.9" stroke="#000" stroke-width="1.3"/>
<line x1="555.2" y1="863.6" x2="559.2" y2="863.6" stroke="#000" stroke-width="1.3"/>
<line x1="843.4" y1="863.6" x2="839.4" y2="863.6" stroke="#000" stroke-width="1.3"/>
<line x1="555.2" y1="897.3" x2="560.2" y2="897.3" stroke="#000" stroke-width="1.3"/>
<line x1="843.4" y1="897.3" x2="838.4" y2="897.3" stroke="#000" stroke-width="1.3"/>
<line x1="555.2" y1="931.0" x2="559.2" y2="931.0" stroke="#000" stroke-width="1.3"/>
<line x1="843.4" y1="931.0" x2="839.4" y2="931.0" stroke="#000" stroke-width="1.3"/>
<line x1="555.2" y1="964.8" x2="560.2" y2="964.8" stroke="#000" stroke-width="1.3"/>
<line x1="843.4" y1="964.8" x2="838.4" y2="964.8" stroke="#000" stroke-width="1.3"/>
<line x1="555.2" y1="998.5" x2="559.2" y2="998.5" stroke="#000" stroke-width="1.3"/>
<line x1="843.4" y1="998.5" x2="839.4" y2="998.5" stroke="#000" stroke-width="1.3"/>
<line x1="555.2" y1="1032.2" x2="560.2" y2="1032.2" stroke="#000" stroke-width="1.3"/>
<line x1="843.4" y1="1032.2" x2="838.4" y2="1032.2" stroke="#000" stroke-width="1.3"/>
<line x1="555.2" y1="1065.9" x2="559.2" y2="1065.9" stroke="#000" stroke-width="1.3"/>
<line x1="843.4" y1="1065.9" x2="839.4" y2="1065.9" stroke="#000" stroke-width="1.3"/>
<line x1="555.2" y1="1099.7" x2="560.2" y2="1099.7" stroke="#000" stroke-width="1.3"/>
<line x1="843.4" y1="1099.7" x2="838.4" y2="1099.7" stroke="#000" stroke-width="1.3"/>
<line x1="555.2" y1="1133.4" x2="559.2" y2="1133.4" stroke="#000" stroke-width="1.3"/>
<line x1="843.4" y1="1133.4" x2="839.4" y2="1133.4" stroke="#000" stroke-width="1.3"/>
<line x1="555.2" y1="1167.1" x2="560.2" y2="1167.1" stroke="#000" stroke-width="1.3"/>
<line x1="843.4" y1="1167.1" x2="838.4" y2="1167.1" stroke="#000" stroke-width="1.3"/>
<line x1="555.2" y1="1200.8" x2="559.2" y2="1200.8" stroke="#000" stroke-width="1.3"/>
<line x1="843.4" y1="1200.8" x2="839.4" y2="1200.8" stroke="#000" stroke-width="1.3"/>
<line x1="555.2" y1="1234.5" x2="560.2" y2="1234.5" stroke="#000" stroke-width="1.3"/>
<line x1="843.4" y1="1234.5" x2="838.4" y2="1234.5" stroke="#000" stroke-width="1.3"/>
<line x1="555.2" y1="1268.3" x2="559.2" y2="1268.3" stroke="#000" stroke-width="1.3"/>
<line x1="843.4" y1="1268.3" x2="839.4" y2="1268.3" stroke="#000" stroke-width="1.3"/>
<line x1="555.2" y1="1302.0" x2="560.2" y2="1302.0" stroke="#000" stroke-width="1.3"/>
<line x1="843.4" y1="1302.0" x2="838.4" y2="1302.0" stroke="#000" stroke-width="1.3"/>
<line x1="181.6" y1="620.6" x2="181.6" y2="616.6" stroke="#000" stroke-width="1.3"/>
<line x1="181.6" y1="80.8" x2="181.6" y2="84.8" stroke="#000" stroke-width="1.3"/>
<line x1="217.5" y1="620.6" x2="217.5" y2="616.6" stroke="#000" stroke-width="1.3"/>
<line x1="217.5" y1="80.8" x2="217.5" y2="84.8" stroke="#000" stroke-width="1.3"/>
<line x1="253.4" y1="620.6" x2="253.4" y2="616.6" stroke="#000" stroke-width="1.3"/>
<line x1="253.4" y1="80.8" x2="253.4" y2="84.8" stroke="#000" stroke-width="1.3"/>
<line x1="289.4" y1="620.6" x2="289.4" y2="616.6" stroke="#000" stroke-width="1.3"/>
<line x1="289.4" y1="80.8" x2="289.4" y2="84.8" stroke="#000" stroke-width="1.3"/>
<line x1="325.3" y1="620.6" x2="325.3" y2="616.6" stroke="#000" stroke-width="1.3"/>
<line x1="325.3" y1="80.8" x2="325.3" y2="84.8" stroke="#000" stroke-width="1.3"/>
<line x1="361.2" y1="620.6" x2="361.2" y2="616.6" stroke="#000" stroke-width="1.3"/>
<line x1="361.2" y1="80.8" x2="361.2" y2="84.8" stroke="#000" stroke-width="1.3"/>
<line x1="397.1" y1="620.6" x2="397.1" y2="616.6" stroke="#000" stroke-width="1.3"/>
<line x1="397.1" y1="80.8" x2="397.1" y2="84.8" stroke="#000" stroke-width="1.3"/>
<line x1="573.4" y1="620.6" x2="573.4" y2="616.6" stroke="#000" stroke-width="1.3"/>
<line x1="573.4" y1="81.4" x2="573.4" y2="85.4" stroke="#000" stroke-width="1.3"/>
<line x1="609.3" y1="620.6" x2="609.3" y2="616.6" stroke="#000" stroke-width="1.3"/>
<line x1="609.3" y1="81.4" x2="609.3" y2="85.4" stroke="#000" stroke-width="1.3"/>
<line x1="645.2" y1="620.6" x2="645.2" y2="616.6" stroke="#000" stroke-width="1.3"/>
<line x1="645.2" y1="81.4" x2="645.2" y2="85.4" stroke="#000" stroke-width="1.3"/>
<line x1="681.1" y1="620.6" x2="681.1" y2="616.6" stroke="#000" stroke-width="1.3"/>
<line x1="681.1" y1="81.4" x2="681.1" y2="85.4" stroke="#000" stroke-width="1.3"/>
<line x1="717.0" y1="620.6" x2="717.0" y2="616.6" stroke="#000" stroke-width="1.3"/>
<line x1="717.0" y1="81.4" x2="717.0" y2="85.4" stroke="#000" stroke-width="1.3"/>
<line x1="752.9" y1="620.6" x2="752.9" y2="616.6" stroke="#000" stroke-width="1.3"/>
<line x1="752.9" y1="81.4" x2="752.9" y2="85.4" stroke="#000" stroke-width="1.3"/>
<line x1="788.8" y1="620.6" x2="788.8" y2="616.6" stroke="#000" stroke-width="1.3"/>
<line x1="788.8" y1="81.4" x2="788.8" y2="85.4" stroke="#000" stroke-width="1.3"/>
<line x1="824.7" y1="620.6" x2="824.7" y2="616.6" stroke="#000" stroke-width="1.3"/>
<line x1="824.7" y1="81.4" x2="824.7" y2="85.4" stroke="#000" stroke-width="1.3"/>
<line x1="165.2" y1="1301.8" x2="165.2" y2="1297.8" stroke="#000" stroke-width="1.3"/>
<line x1="165.2" y1="762.2" x2="165.2" y2="766.2" stroke="#000" stroke-width="1.3"/>
<line x1="197.3" y1="1301.8" x2="197.3" y2="1297.8" stroke="#000" stroke-width="1.3"/>
<line x1="197.3" y1="762.2" x2="197.3" y2="766.2" stroke="#000" stroke-width="1.3"/>
<line x1="229.3" y1="1301.8" x2="229.3" y2="1297.8" stroke="#000" stroke-width="1.3"/>
<line x1="229.3" y1="762.2" x2="229.3" y2="766.2" stroke="#000" stroke-width="1.3"/>
<line x1="261.4" y1="1301.8" x2="261.4" y2="1297.8" stroke="#000" stroke-width="1.3"/>
<line x1="261.4" y1="762.2" x2="261.4" y2="766.2" stroke="#000" stroke-width="1.3"/>
<line x1="293.4" y1="1301.8" x2="293.4" y2="1297.8" stroke="#000" stroke-width="1.3"/>
<line x1="293.4" y1="762.2" x2="293.4" y2="766.2" stroke="#000" stroke-width="1.3"/>
<line x1="325.5" y1="1301.8" x2="325.5" y2="1297.8" stroke="#000" stroke-width="1.3"/>
<line x1="325.5" y1="762.2" x2="325.5" y2="766.2" stroke="#000" stroke-width="1.3"/>
<line x1="357.5" y1="1301.8" x2="357.5" y2="1297.8" stroke="#000" stroke-width="1.3"/>
<line x1="357.5" y1="762.2" x2="357.5" y2="766.2" stroke="#000" stroke-width="1.3"/>
<line x1="389.6" y1="1301.8" x2="389.6" y2="1297.8" stroke="#000" stroke-width="1.3"/>
<line x1="389.6" y1="762.2" x2="389.6" y2="766.2" stroke="#000" stroke-width="1.3"/>
<line x1="421.6" y1="1301.8" x2="421.6" y2="1297.8" stroke="#000" stroke-width="1.3"/>
<line x1="421.6" y1="762.2" x2="421.6" y2="766.2" stroke="#000" stroke-width="1.3"/>
<line x1="583.2" y1="1301.8" x2="583.2" y2="1297.8" stroke="#000" stroke-width="1.3"/>
<line x1="583.2" y1="760.4" x2="583.2" y2="764.4" stroke="#000" stroke-width="1.3"/>
<line x1="619.4" y1="1301.8" x2="619.4" y2="1297.8" stroke="#000" stroke-width="1.3"/>
<line x1="619.4" y1="760.4" x2="619.4" y2="764.4" stroke="#000" stroke-width="1.3"/>
<line x1="655.6" y1="1301.8" x2="655.6" y2="1297.8" stroke="#000" stroke-width="1.3"/>
<line x1="655.6" y1="760.4" x2="655.6" y2="764.4" stroke="#000" stroke-width="1.3"/>
<line x1="691.8" y1="1301.8" x2="691.8" y2="1297.8" stroke="#000" stroke-width="1.3"/>
<line x1="691.8" y1="760.4" x2="691.8" y2="764.4" stroke="#000" stroke-width="1.3"/>
<line x1="728.0" y1="1301.8" x2="728.0" y2="1297.8" stroke="#000" stroke-width="1.3"/>
<line x1="728.0" y1="760.4" x2="728.0" y2="764.4" stroke="#000" stroke-width="1.3"/>
<line x1="764.2" y1="1301.8" x2="764.2" y2="1297.8" stroke="#000" stroke-width="1.3"/>
<line x1="764.2" y1="760.4" x2="764.2" y2="764.4" stroke="#000" stroke-width="1.3"/>
<line x1="800.4" y1="1301.8" x2="800.4" y2="1297.8" stroke="#000" stroke-width="1.3"/>
<line x1="800.4" y1="760.4" x2="800.4" y2="764.4" stroke="#000" stroke-width="1.3"/>
<line x1="836.6" y1="1301.8" x2="836.6" y2="1297.8" stroke="#000" stroke-width="1.3"/>
<line x1="836.6" y1="760.4" x2="836.6" y2="764.4" stroke="#000" stroke-width="1.3"/>
<text transform="translate(143.8,91.5) scale(1,1.05)" font-size="35" text-anchor="end" >5260</text>
<text transform="translate(143.8,158.9) scale(1,1.05)" font-size="35" text-anchor="end" >5240</text>
<text transform="translate(143.8,226.4) scale(1,1.05)" font-size="35" text-anchor="end" >5220</text>
<text transform="translate(143.8,293.8) scale(1,1.05)" font-size="35" text-anchor="end" >5200</text>
<text transform="translate(143.8,361.3) scale(1,1.05)" font-size="35" text-anchor="end" >5180</text>
<text transform="translate(143.8,428.8) scale(1,1.05)" font-size="35" text-anchor="end" >5160</text>
<text transform="translate(143.8,496.2) scale(1,1.05)" font-size="35" text-anchor="end" >5140</text>
<text transform="translate(143.8,563.7) scale(1,1.05)" font-size="35" text-anchor="end" >5120</text>
<text transform="translate(143.8,631.1) scale(1,1.05)" font-size="35" text-anchor="end" >5100</text>
<text transform="translate(850.3,91.6) scale(1,1.05)" font-size="35" text-anchor="start" >5260</text>
<text transform="translate(850.3,159.0) scale(1,1.05)" font-size="35" text-anchor="start" >5240</text>
<text transform="translate(850.3,226.4) scale(1,1.05)" font-size="35" text-anchor="start" >5220</text>
<text transform="translate(850.3,293.8) scale(1,1.05)" font-size="35" text-anchor="start" >5200</text>
<text transform="translate(850.3,361.2) scale(1,1.05)" font-size="35" text-anchor="start" >5180</text>
<text transform="translate(850.3,428.6) scale(1,1.05)" font-size="35" text-anchor="start" >5160</text>
<text transform="translate(850.3,496.0) scale(1,1.05)" font-size="35" text-anchor="start" >5140</text>
<text transform="translate(850.3,563.4) scale(1,1.05)" font-size="35" text-anchor="start" >5120</text>
<text transform="translate(850.3,630.8) scale(1,1.05)" font-size="35" text-anchor="start" >5100</text>
<text transform="translate(139.4,781.8) scale(1,1.05)" font-size="35" text-anchor="end" >5260</text>
<text transform="translate(139.4,849.3) scale(1,1.05)" font-size="35" text-anchor="end" >5240</text>
<text transform="translate(139.4,916.7) scale(1,1.05)" font-size="35" text-anchor="end" >5220</text>
<text transform="translate(139.4,984.2) scale(1,1.05)" font-size="35" text-anchor="end" >5200</text>
<text transform="translate(139.4,1051.6) scale(1,1.05)" font-size="35" text-anchor="end" >5180</text>
<text transform="translate(139.4,1119.0) scale(1,1.05)" font-size="35" text-anchor="end" >5160</text>
<text transform="translate(139.4,1186.5) scale(1,1.05)" font-size="35" text-anchor="end" >5140</text>
<text transform="translate(139.4,1254.0) scale(1,1.05)" font-size="35" text-anchor="end" >5120</text>
<text transform="translate(139.4,1321.4) scale(1,1.05)" font-size="35" text-anchor="end" >5100</text>
<text transform="translate(850.3,777.3) scale(1,1.05)" font-size="35" text-anchor="start" >5260</text>
<text transform="translate(850.3,844.8) scale(1,1.05)" font-size="35" text-anchor="start" >5240</text>
<text transform="translate(850.3,912.2) scale(1,1.05)" font-size="35" text-anchor="start" >5220</text>
<text transform="translate(850.3,979.6) scale(1,1.05)" font-size="35" text-anchor="start" >5200</text>
<text transform="translate(850.3,1047.1) scale(1,1.05)" font-size="35" text-anchor="start" >5180</text>
<text transform="translate(850.3,1114.6) scale(1,1.05)" font-size="35" text-anchor="start" >5160</text>
<text transform="translate(850.3,1182.0) scale(1,1.05)" font-size="35" text-anchor="start" >5140</text>
<text transform="translate(850.3,1249.5) scale(1,1.05)" font-size="35" text-anchor="start" >5120</text>
<text transform="translate(850.3,1316.9) scale(1,1.05)" font-size="35" text-anchor="start" >5100</text>
<text transform="translate(145.6,655) scale(1,1.05)" font-size="35" text-anchor="middle" >-20</text>
<text transform="translate(217.5,655) scale(1,1.05)" font-size="35" text-anchor="middle" >0</text>
<text transform="translate(289.4,655) scale(1,1.05)" font-size="35" text-anchor="middle" >20</text>
<text transform="translate(361.2,655) scale(1,1.05)" font-size="35" text-anchor="middle" >40</text>
<text transform="translate(433.1,655) scale(1,1.05)" font-size="35" text-anchor="middle" >60</text>
<text transform="translate(573.4,655) scale(1,1.05)" font-size="35" text-anchor="middle" >0</text>
<text transform="translate(645.2,655) scale(1,1.05)" font-size="35" text-anchor="middle" >20</text>
<text transform="translate(717.0,655) scale(1,1.05)" font-size="35" text-anchor="middle" >40</text>
<text transform="translate(788.8,655) scale(1,1.05)" font-size="35" text-anchor="middle" >60</text>
<text transform="translate(197.3,1336.5) scale(1,1.05)" font-size="35" text-anchor="middle" >20</text>
<text transform="translate(261.4,1336.5) scale(1,1.05)" font-size="35" text-anchor="middle" >40</text>
<text transform="translate(325.5,1336.5) scale(1,1.05)" font-size="35" text-anchor="middle" >60</text>
<text transform="translate(389.6,1336.5) scale(1,1.05)" font-size="35" text-anchor="middle" >80</text>
<text transform="translate(583.2,1336.5) scale(1,1.05)" font-size="35" text-anchor="middle" >0</text>
<text transform="translate(655.6,1336.5) scale(1,1.05)" font-size="35" text-anchor="middle" >20</text>
<text transform="translate(728.0,1336.5) scale(1,1.05)" font-size="35" text-anchor="middle" >40</text>
<text transform="translate(800.4,1336.5) scale(1,1.05)" font-size="35" text-anchor="middle" >60</text>
<text transform="translate(206.4,701.9) scale(1,1.05)" font-size="35">Q</text>
<text transform="translate(233.4,715.6) scale(1,1.05)" font-size="21">x</text>
<text transform="translate(252.8,701.9) scale(1,1.05)" font-size="35">(10</text>
<text transform="translate(303.3,682.1) scale(1,1.05)" font-size="21">4</text>
<text transform="translate(323.7,701.9) scale(1,1.05)" font-size="35">rlu)</text>
<text transform="translate(615.1,698.7) scale(1,1.05)" font-size="35">Q</text>
<text transform="translate(643.1,712.4) scale(1,1.05)" font-size="21">x</text>
<text transform="translate(662.5,698.7) scale(1,1.05)" font-size="35">(10</text>
<text transform="translate(713.0,678.9) scale(1,1.05)" font-size="21">4</text>
<text transform="translate(733.4,698.7) scale(1,1.05)" font-size="35">rlu)</text>
<text transform="translate(206.4,1385.0) scale(1,1.05)" font-size="35">Q</text>
<text transform="translate(233.4,1398.7) scale(1,1.05)" font-size="21">x</text>
<text transform="translate(252.8,1385.0) scale(1,1.05)" font-size="35">(10</text>
<text transform="translate(303.3,1365.2) scale(1,1.05)" font-size="21">4</text>
<text transform="translate(323.7,1385.0) scale(1,1.05)" font-size="35">rlu)</text>
<text transform="translate(615.5,1387.9) scale(1,1.05)" font-size="35">Q</text>
<text transform="translate(641.0,1401.6) scale(1,1.05)" font-size="21">x</text>
<text transform="translate(660.4,1387.9) scale(1,1.05)" font-size="35">(10</text>
<text transform="translate(710.9,1368.1) scale(1,1.05)" font-size="21">4</text>
<text transform="translate(731.3,1387.9) scale(1,1.05)" font-size="35">rlu)</text>
<g transform="translate(43.5,429.5) rotate(-90)">
<text transform="translate(-1.7,0.0) scale(1,1.05)" font-size="35">Q</text>
<text transform="translate(25.4,13.7) scale(1,1.05)" font-size="21">y</text>
<text transform="translate(44.7,0.0) scale(1,1.05)" font-size="35">(10</text>
<text transform="translate(95.2,-19.8) scale(1,1.05)" font-size="21">4</text>
<text transform="translate(115.6,0.0) scale(1,1.05)" font-size="35">rlu)</text>
</g>
<g transform="translate(979.6,460.1) rotate(-90)">
<text transform="translate(-1.7,0.0) scale(1,1.05)" font-size="35">Q</text>
<text transform="translate(31.4,13.7) scale(1,1.05)" font-size="21">y</text>
<text transform="translate(50.7,0.0) scale(1,1.05)" font-size="35">(10</text>
<text transform="translate(101.2,-19.8) scale(1,1.05)" font-size="21">4</text>
<text transform="translate(121.6,0.0) scale(1,1.05)" font-size="35">rlu)</text>
</g>
<g transform="translate(36.1,1142.7) rotate(-90)">
<text transform="translate(-1.7,0.0) scale(1,1.05)" font-size="35">Q</text>
<text transform="translate(25.4,13.7) scale(1,1.05)" font-size="21">y</text>
<text transform="translate(44.7,0.0) scale(1,1.05)" font-size="35">(10</text>
<text transform="translate(95.2,-19.8) scale(1,1.05)" font-size="21">4</text>
<text transform="translate(115.6,0.0) scale(1,1.05)" font-size="35">rlu)</text>
</g>
<g transform="translate(973.9,1137.9) rotate(-90)">
<text transform="translate(-1.7,0.0) scale(1,1.05)" font-size="35">Q</text>
<text transform="translate(25.4,13.7) scale(1,1.05)" font-size="21">y</text>
<text transform="translate(44.7,0.0) scale(1,1.05)" font-size="35">(10</text>
<text transform="translate(95.2,-19.8) scale(1,1.05)" font-size="21">4</text>
<text transform="translate(115.6,0.0) scale(1,1.05)" font-size="35">rlu)</text>
</g>
<text transform="translate(493.5,30.5) scale(1,1.05)" font-size="40" text-anchor="middle" >Undoped</text>
<text transform="translate(152.0,67) scale(1,1.05)" font-size="40">0<tspan font-size="22" dy="-20.48">o</tspan><tspan dy="20.48"> azimuth, [1-10]</tspan></text>
<text transform="translate(555.0,68.5) scale(1,1.05)" font-size="40">90<tspan font-size="22" dy="-20.48">o</tspan><tspan dy="20.48"> azimuth, [110]</tspan></text>
<text transform="translate(150.4,751) scale(1,1.05)" font-size="40">180<tspan font-size="22" dy="-20.48">o</tspan><tspan dy="20.48"> azimuth, [-110]</tspan></text>
<text transform="translate(555.7,747.5) scale(1,1.05)" font-size="40">270<tspan font-size="22" dy="-20.48">o</tspan><tspan dy="20.48"> azimuth, [-1-10]</tspan></text>
</svg></body></html>
